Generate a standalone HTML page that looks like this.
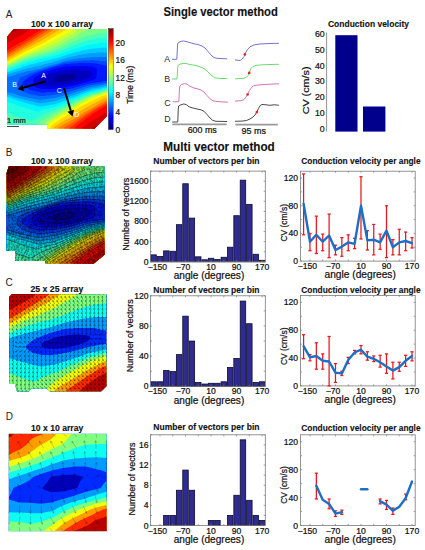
<!DOCTYPE html>
<html><head><meta charset="utf-8"><style>html,body{margin:0;padding:0;background:#fff;width:425px;height:550px;overflow:hidden}svg{display:block}text{font-family:"Liberation Sans",sans-serif;stroke:#111;stroke-width:0.22px;paint-order:stroke}text[font-weight=bold]{stroke-width:0.12px}text[fill="#fff"],text.ns{stroke:none}</style></head>
<body><svg width="425" height="550" viewBox="0 0 425 550" font-family='"Liberation Sans", sans-serif'><defs><clipPath id="cA"><polygon points="14,29 107,29 107,116 94.6,128.4 47,128.4 47,124.5 7,124.5 7,37"/></clipPath><radialGradient id="gdk" cx="6.5" cy="166" r="45" gradientUnits="userSpaceOnUse"><stop offset="0" stop-color="#000" stop-opacity="0.45"/><stop offset="1" stop-color="#000" stop-opacity="0"/></radialGradient><clipPath id="cB"><polygon points="8.9,166.2 104.6,166.2 104.6,254.7 93.4,263.8 45,263.8 45,261 15,261 15,251 6.5,251 6.5,173.2"/></clipPath><clipPath id="cC"><polygon points="12,294 106.6,294 106.6,386 101,391.6 50,391.6 47,388.5 31,388.5 29,391.6 17,391.6 15,384 9,384 9,297"/></clipPath><clipPath id="cD"><polygon points="8.7,433.7 106.8,433.7 106.8,531.3 8.7,531.3"/></clipPath><linearGradient id="jetg" x1="0" y1="1" x2="0" y2="0"><stop offset="0" stop-color="#000080"/><stop offset="0.125" stop-color="#0000ff"/><stop offset="0.375" stop-color="#00ffff"/><stop offset="0.625" stop-color="#ffff00"/><stop offset="0.875" stop-color="#ff0000"/><stop offset="1" stop-color="#800000"/></linearGradient></defs><text x="5.7" y="18.3" font-size="10" class="ns" fill="#222">A</text><text x="5.7" y="156.4" font-size="10" class="ns" fill="#222">B</text><text x="5.5" y="285.7" font-size="10" class="ns" fill="#222">C</text><text x="5.7" y="420.0" font-size="10" class="ns" fill="#222">D</text><text x="163.4" y="15.9" font-size="12.5" font-weight="bold" textLength="114.4" lengthAdjust="spacingAndGlyphs" fill="#111">Single vector method</text><text x="163.3" y="150.8" font-size="12.5" font-weight="bold" textLength="111.5" lengthAdjust="spacingAndGlyphs" fill="#111">Multi vector method</text><text x="31" y="26.5" font-size="8.5" font-weight="bold" textLength="62" lengthAdjust="spacingAndGlyphs" fill="#111">100 x 100 array</text><text x="31" y="164.1" font-size="8.5" font-weight="bold" textLength="62" lengthAdjust="spacingAndGlyphs" fill="#111">100 x 100 array</text><text x="30.5" y="292.2" font-size="8.5" font-weight="bold" textLength="52.8" lengthAdjust="spacingAndGlyphs" fill="#111">25 x 25 array</text><text x="31" y="430.5" font-size="8.5" font-weight="bold" textLength="52.3" lengthAdjust="spacingAndGlyphs" fill="#111">10 x 10 array</text><text x="328" y="26.9" font-size="8.5" font-weight="bold" textLength="81" lengthAdjust="spacingAndGlyphs" fill="#111">Conduction velocity</text><g clip-path="url(#cA)"><path d="M7.0,29.0h100.0v100.0h-100.0z" fill="#000095" fill-rule="evenodd"/><path d="M7.0,29.0 7.0,129.0 107.0,129.0 107.0,29.0zM76.1,75.9 76.1,77.4 74.4,78.9 69.6,80.6 67.6,80.9 67.4,81.1 66.4,81.1 66.1,81.4 62.9,81.6 62.6,81.9 57.1,81.9 56.9,81.6 55.9,81.6 54.6,81.1 53.9,80.1 53.9,78.6 55.6,77.1 59.1,75.6 59.9,75.6 61.1,75.1 62.1,75.1 62.4,74.9 63.4,74.9 63.6,74.6 66.9,74.4 67.1,74.1 72.9,74.1 73.1,74.4 74.1,74.4 75.4,74.9z" fill="#0000c1" fill-rule="evenodd"/><path d="M7.0,29.0 7.0,129.0 107.0,129.0 107.0,29.0zM92.1,73.1 92.1,74.4 91.6,75.6 89.9,77.4 88.6,77.9 88.1,78.4 86.6,79.1 86.1,79.1 84.1,80.1 83.6,80.1 80.4,81.4 79.6,81.4 77.9,82.1 77.1,82.1 76.9,82.4 76.1,82.4 75.9,82.6 75.1,82.6 74.9,82.9 74.1,82.9 73.9,83.1 73.1,83.1 71.9,83.6 66.9,84.4 66.6,84.6 63.6,84.9 63.4,85.1 60.4,85.4 60.1,85.6 55.4,85.9 55.1,86.1 46.9,86.1 46.6,85.9 44.1,85.9 43.9,85.6 42.9,85.6 42.6,85.4 41.9,85.4 41.1,84.9 40.6,84.9 39.9,84.4 38.1,82.4 38.1,81.1 38.6,80.1 41.4,77.6 44.6,75.9 45.1,75.9 46.4,75.1 46.9,75.1 52.4,73.1 53.1,73.1 53.4,72.9 54.1,72.9 54.4,72.6 55.1,72.6 55.4,72.4 56.1,72.4 56.4,72.1 57.1,72.1 58.4,71.6 59.4,71.6 59.6,71.4 63.1,70.9 63.4,70.6 66.6,70.4 66.9,70.1 69.1,70.1 69.4,69.9 72.4,69.9 72.6,69.6 84.1,69.6 84.4,69.9 86.1,69.9 86.4,70.1 87.4,70.1 87.6,70.4 89.4,70.6 90.9,71.4 91.6,72.1z" fill="#0000ed" fill-rule="evenodd"/><path d="M7.0,29.0 7.0,129.0 107.0,129.0 107.0,29.0zM97.1,69.4 97.1,71.4 96.9,71.6 96.9,73.9 96.6,74.1 96.4,77.9 96.1,78.1 96.1,78.6 95.1,79.6 94.6,79.6 93.6,80.1 92.9,80.1 92.6,80.4 91.9,80.4 91.6,80.6 90.9,80.6 90.6,80.9 89.9,80.9 89.6,81.1 88.9,81.1 88.6,81.4 88.1,81.4 86.4,82.1 85.6,82.1 84.6,82.6 83.9,82.6 82.9,83.1 81.1,83.4 80.1,83.9 79.4,83.9 79.1,84.1 78.4,84.1 78.1,84.4 77.4,84.4 77.1,84.6 76.4,84.6 76.1,84.9 75.4,84.9 75.1,85.1 74.4,85.1 74.1,85.4 73.4,85.4 72.1,85.9 71.1,85.9 70.9,86.1 69.9,86.1 69.6,86.4 68.6,86.4 68.4,86.6 67.4,86.6 67.1,86.9 66.1,86.9 65.9,87.1 64.6,87.1 64.4,87.4 63.4,87.4 63.1,87.6 60.4,87.9 60.1,88.1 59.1,88.1 58.9,88.4 57.4,88.4 57.1,88.6 55.6,88.6 55.4,88.9 41.6,88.9 41.4,88.6 39.6,88.4 39.4,88.1 36.6,87.4 35.6,86.9 34.9,86.1 32.9,80.6 32.9,79.6 33.1,79.1 34.4,77.9 37.4,75.9 38.6,75.4 39.1,74.9 42.9,72.9 43.4,72.9 45.4,71.9 46.6,71.6 47.4,71.1 47.9,71.1 51.1,69.9 51.9,69.9 52.1,69.6 52.9,69.6 53.1,69.4 53.9,69.4 54.1,69.1 54.9,69.1 55.1,68.9 55.9,68.9 56.1,68.6 56.9,68.6 57.1,68.4 57.9,68.4 58.1,68.1 58.9,68.1 59.1,67.9 59.9,67.9 61.1,67.4 62.1,67.4 63.4,66.9 64.9,66.9 65.1,66.6 68.1,66.6 68.4,66.4 72.6,66.4 72.9,66.1 87.6,66.1 87.9,66.4 91.4,66.4 91.6,66.6 92.6,66.6 92.9,66.9 96.1,67.9 96.9,68.6 96.9,69.1z" fill="#001aff" fill-rule="evenodd"/><path d="M7.0,29.0 7.0,129.0 107.0,129.0 107.0,80.9 104.4,81.1 104.1,81.4 102.6,81.4 102.4,81.6 100.9,81.6 100.6,81.9 99.4,81.9 99.1,82.1 97.9,82.1 97.6,82.4 96.4,82.4 96.1,82.6 94.9,82.6 94.6,82.9 93.1,82.9 92.9,83.1 91.6,83.1 91.4,83.4 88.9,83.6 88.6,83.9 86.9,84.1 85.9,84.6 84.1,84.9 83.1,85.4 81.4,85.6 80.4,86.1 78.6,86.4 77.6,86.9 75.9,87.1 74.9,87.6 74.1,87.6 73.9,87.9 73.1,87.9 71.9,88.4 70.9,88.4 69.6,88.9 66.1,89.4 64.9,89.9 61.4,90.4 61.1,90.6 59.1,90.9 58.9,91.1 57.9,91.1 57.6,91.4 56.6,91.4 56.4,91.6 49.6,91.9 49.4,92.1 45.4,92.1 45.1,92.4 40.9,92.4 40.6,92.1 39.4,92.1 39.1,91.9 38.1,91.9 36.9,91.4 35.9,91.4 34.6,90.9 33.6,90.9 33.4,90.6 30.6,90.1 29.1,89.4 26.1,87.1 24.4,86.1 23.1,84.9 22.6,83.9 22.9,82.1 23.9,80.9 30.1,76.4 33.6,74.6 34.1,74.6 36.9,73.1 37.4,73.1 40.1,71.6 40.6,71.6 43.1,70.4 43.6,70.4 43.9,70.1 44.4,70.1 44.6,69.9 45.1,69.9 50.6,67.9 54.4,67.1 55.4,66.6 56.1,66.6 57.1,66.1 58.9,65.9 59.9,65.4 60.6,65.4 60.9,65.1 63.4,64.6 63.6,64.4 64.6,64.4 64.9,64.1 67.6,64.1 67.9,63.9 70.6,63.9 70.9,63.6 73.9,63.6 74.1,63.4 77.4,63.4 77.6,63.1 87.1,63.1 87.4,62.9 92.6,62.9 92.9,63.1 95.6,63.4 95.9,63.6 96.9,63.6 97.1,63.9 98.1,63.9 98.4,64.1 99.4,64.1 99.6,64.4 100.6,64.4 100.9,64.6 101.9,64.6 102.1,64.9 103.1,64.9 103.4,65.1 104.6,65.1 104.9,65.4 106.1,65.4 106.4,65.6 107.0,65.6 107.0,29.0z" fill="#0045ff" fill-rule="evenodd"/><path d="M7.0,29.0 7.0,129.0 107.0,129.0 107.0,82.6 106.4,82.6 106.1,82.9 104.6,82.9 104.4,83.1 103.1,83.1 102.9,83.4 101.6,83.4 101.4,83.6 100.1,83.6 99.9,83.9 98.6,83.9 98.4,84.1 97.1,84.1 96.9,84.4 94.4,84.6 94.1,84.9 92.9,84.9 92.6,85.1 91.4,85.1 91.1,85.4 89.9,85.4 89.6,85.6 87.1,86.1 84.6,87.1 83.9,87.1 80.6,88.4 79.9,88.4 76.6,89.6 75.9,89.6 73.4,90.6 72.6,90.6 72.4,90.9 71.6,90.9 71.4,91.1 70.6,91.1 70.4,91.4 69.6,91.4 68.4,91.9 67.4,91.9 67.1,92.1 66.4,92.1 66.1,92.4 65.4,92.4 64.1,92.9 63.1,92.9 62.9,93.1 62.1,93.1 61.9,93.4 61.1,93.4 59.9,93.9 58.9,93.9 58.6,94.1 57.9,94.1 56.6,94.6 52.6,94.9 52.4,95.1 50.4,95.1 50.1,95.4 47.9,95.4 47.6,95.6 45.6,95.6 45.4,95.9 43.1,95.9 42.9,96.1 39.9,96.1 39.6,95.9 38.1,95.9 36.9,95.4 35.9,95.4 35.6,95.1 33.4,94.9 32.1,94.4 29.9,94.1 29.6,93.9 28.9,93.9 28.6,93.6 27.4,93.4 26.1,92.6 25.6,92.6 23.1,91.4 22.6,91.4 21.6,90.9 20.1,89.4 17.9,86.4 17.4,85.1 17.6,83.4 17.9,83.1 18.1,81.9 18.6,81.1 18.9,79.9 19.6,78.4 21.1,77.1 21.6,77.1 22.9,76.4 23.4,76.4 25.1,75.4 26.9,74.9 29.4,73.6 30.1,73.6 30.4,73.4 39.1,70.6 39.9,70.1 40.4,70.1 40.6,69.9 41.1,69.9 46.6,67.9 47.4,67.9 49.9,66.9 50.6,66.9 50.9,66.6 52.6,66.4 53.6,65.9 54.4,65.9 55.4,65.4 56.1,65.4 56.4,65.1 56.9,65.1 59.4,64.1 60.1,64.1 62.6,63.1 63.4,63.1 64.6,62.6 67.9,62.4 68.1,62.1 69.9,62.1 70.1,61.9 71.6,61.9 71.9,61.6 73.6,61.6 73.9,61.4 77.6,61.1 77.9,60.9 85.1,60.6 85.4,60.4 89.6,60.4 89.9,60.1 94.4,60.1 94.6,60.4 96.9,60.4 97.1,60.6 99.4,60.6 99.6,60.9 102.1,60.9 102.4,61.1 107.0,61.4 107.0,29.0z" fill="#0071ff" fill-rule="evenodd"/><path d="M107.0,84.4 104.1,84.6 103.9,84.9 102.9,84.9 102.6,85.1 101.4,85.1 101.1,85.4 100.1,85.4 99.9,85.6 98.9,85.6 98.6,85.9 97.4,85.9 97.1,86.1 96.1,86.1 95.9,86.4 94.9,86.4 94.6,86.6 93.4,86.6 93.1,86.9 89.6,87.4 89.4,87.6 83.6,89.4 82.9,89.9 78.6,91.1 77.9,91.6 77.4,91.6 71.9,93.6 70.1,93.9 69.1,94.4 66.4,94.9 65.4,95.4 62.6,95.9 61.6,96.4 60.9,96.4 60.6,96.6 59.9,96.6 59.6,96.9 58.9,96.9 58.6,97.1 57.9,97.1 56.6,97.6 54.1,97.9 53.9,98.1 52.4,98.1 52.1,98.4 50.6,98.4 50.4,98.6 49.1,98.6 48.9,98.9 47.4,98.9 47.1,99.1 45.6,99.1 45.4,99.4 43.9,99.4 43.6,99.6 42.1,99.6 41.9,99.9 38.9,99.9 38.6,99.6 37.4,99.6 36.1,99.1 35.1,99.1 34.9,98.9 33.9,98.9 33.6,98.6 32.6,98.6 32.4,98.4 28.9,97.9 27.6,97.4 25.4,97.1 25.1,96.9 24.4,96.9 23.1,96.4 22.1,96.4 21.9,96.1 20.1,95.9 15.4,93.9 14.6,93.9 14.4,93.6 13.6,93.6 12.6,93.1 11.6,93.1 11.4,92.9 10.6,92.9 9.4,92.4 7.0,92.1 7.0,129.0 107.0,129.0zM7.0,29.0 7.0,76.9 9.4,76.6 9.6,76.4 10.6,76.4 10.9,76.1 11.9,76.1 12.1,75.9 13.9,75.6 14.1,75.4 15.4,75.1 16.9,74.1 17.4,74.1 19.1,73.4 19.9,73.4 20.1,73.1 20.9,73.1 21.1,72.9 21.9,72.9 22.1,72.6 22.9,72.6 23.1,72.4 23.9,72.4 24.1,72.1 24.9,72.1 25.1,71.9 25.9,71.9 26.1,71.6 26.9,71.6 28.1,71.1 30.4,70.9 31.6,70.4 32.6,70.4 33.9,69.9 34.9,69.9 35.1,69.6 38.9,68.9 39.9,68.4 40.6,68.4 42.4,67.6 43.1,67.6 44.1,67.1 44.9,67.1 45.1,66.9 46.6,66.6 47.6,66.1 48.4,66.1 49.4,65.6 50.1,65.6 50.4,65.4 52.1,65.1 53.1,64.6 53.9,64.6 54.1,64.4 60.6,62.4 61.4,61.9 61.9,61.9 62.9,61.4 63.6,61.4 64.9,60.9 65.9,60.9 66.1,60.6 67.1,60.6 67.4,60.4 68.6,60.4 68.9,60.1 69.9,60.1 70.1,59.9 71.1,59.9 71.4,59.6 72.6,59.6 72.9,59.4 73.9,59.4 74.1,59.1 75.1,59.1 75.4,58.9 76.6,58.9 76.9,58.6 78.1,58.6 78.4,58.4 82.9,58.1 83.1,57.9 85.6,57.9 85.9,57.6 88.1,57.6 88.4,57.4 90.9,57.4 91.1,57.1 107.0,57.1 107.0,29.0z" fill="#009dff" fill-rule="evenodd"/><path d="M107.0,85.9 105.9,85.9 105.6,86.1 104.6,86.1 104.4,86.4 100.9,86.9 99.6,87.4 98.6,87.4 98.4,87.6 97.4,87.6 97.1,87.9 96.1,87.9 95.9,88.1 92.4,88.6 91.1,89.1 90.1,89.1 89.9,89.4 86.4,90.4 85.6,90.9 84.4,91.1 83.6,91.6 81.6,92.1 80.9,92.6 79.6,92.9 78.9,93.4 77.6,93.6 76.9,94.1 75.6,94.4 74.9,94.9 74.4,94.9 71.1,96.1 70.4,96.1 70.1,96.4 69.6,96.4 64.1,98.4 63.4,98.4 60.1,99.6 59.4,99.6 56.9,100.6 56.1,100.6 54.9,101.1 53.6,101.1 53.4,101.4 52.1,101.4 51.9,101.6 50.6,101.6 50.4,101.9 49.1,101.9 48.9,102.1 47.4,102.1 47.1,102.4 42.9,102.9 42.6,103.1 40.9,103.1 40.6,103.4 38.4,103.1 37.1,102.6 36.1,102.6 35.9,102.4 35.1,102.4 34.9,102.1 34.1,102.1 33.9,101.9 33.1,101.9 32.9,101.6 32.1,101.6 30.9,101.1 29.9,101.1 29.6,100.9 28.9,100.9 28.6,100.6 27.9,100.6 26.6,100.1 25.6,100.1 25.4,99.9 24.6,99.9 24.4,99.6 23.6,99.6 23.4,99.4 19.6,98.6 19.4,98.4 17.9,98.1 14.6,96.9 13.9,96.9 10.6,95.6 9.9,95.6 8.9,95.1 7.0,94.9 7.0,129.0 107.0,129.0zM7.0,29.0 7.0,74.1 8.1,74.1 10.1,73.4 10.9,73.4 12.6,72.6 13.4,72.6 15.1,71.9 15.9,71.9 17.6,71.1 18.4,71.1 18.6,70.9 19.1,70.9 20.1,70.4 20.9,70.4 22.6,69.6 23.4,69.6 25.1,68.9 25.9,68.9 26.1,68.6 26.9,68.6 28.1,68.1 29.1,68.1 29.4,67.9 30.1,67.9 31.4,67.4 32.4,67.4 32.6,67.1 33.4,67.1 34.6,66.6 35.6,66.6 35.9,66.4 36.6,66.4 36.9,66.1 40.6,65.4 41.6,64.9 42.4,64.9 42.6,64.6 43.4,64.6 43.6,64.4 44.4,64.4 44.6,64.1 45.4,64.1 45.6,63.9 46.4,63.9 46.6,63.6 47.4,63.6 47.6,63.4 48.4,63.4 48.6,63.1 52.4,62.4 52.6,62.1 53.1,62.1 54.1,61.6 54.9,61.6 55.1,61.4 55.6,61.4 55.9,61.1 56.4,61.1 56.6,60.9 57.1,60.9 62.6,58.9 63.4,58.9 64.4,58.4 65.1,58.4 65.4,58.1 66.1,58.1 66.4,57.9 67.1,57.9 67.4,57.6 68.1,57.6 69.4,57.1 70.4,57.1 70.6,56.9 71.4,56.9 71.6,56.6 72.4,56.6 72.6,56.4 73.4,56.4 73.6,56.1 74.4,56.1 74.6,55.9 75.4,55.9 76.6,55.4 77.6,55.4 77.9,55.1 78.9,55.1 79.1,54.9 80.4,54.9 80.6,54.6 81.9,54.6 82.1,54.4 84.6,54.1 84.9,53.9 88.4,53.6 88.6,53.4 90.1,53.4 90.4,53.1 92.6,53.1 92.9,52.9 95.9,52.9 96.1,52.6 102.1,52.6 102.4,52.4 107.0,52.4 107.0,29.0z" fill="#00c9ff" fill-rule="evenodd"/><path d="M107.0,87.4 104.6,87.6 103.4,88.1 102.4,88.1 102.1,88.4 101.4,88.4 100.1,88.9 99.1,88.9 97.9,89.4 96.9,89.4 96.6,89.6 95.9,89.6 94.6,90.1 93.6,90.1 93.4,90.4 89.6,91.1 89.4,91.4 87.4,91.9 86.6,92.4 86.1,92.4 85.4,92.9 84.1,93.1 83.4,93.6 82.9,93.6 79.6,95.1 78.4,95.4 75.1,96.9 73.9,97.1 73.1,97.6 71.9,97.9 71.1,98.4 69.9,98.6 67.9,99.6 66.6,99.9 64.6,100.9 63.4,101.1 62.6,101.6 61.4,101.9 60.6,102.4 59.4,102.6 58.6,103.1 58.1,103.1 55.6,104.1 53.1,104.4 52.9,104.6 50.4,104.9 50.1,105.1 48.9,105.1 48.6,105.4 47.4,105.4 47.1,105.6 44.6,105.9 44.4,106.1 43.1,106.1 42.9,106.4 41.4,106.4 41.1,106.6 38.4,106.4 38.1,106.1 36.4,105.9 35.4,105.4 33.6,105.1 32.6,104.6 30.9,104.4 29.9,103.9 29.1,103.9 28.1,103.4 27.4,103.4 27.1,103.1 25.4,102.9 24.4,102.4 22.6,102.1 21.6,101.6 20.9,101.6 20.6,101.4 16.4,100.1 15.6,99.6 12.1,98.6 11.4,98.1 10.9,98.1 8.4,97.1 7.0,97.1 7.0,129.0 107.0,129.0zM7.0,72.4 10.1,71.6 10.9,71.1 12.9,70.6 13.6,70.1 15.6,69.6 16.4,69.1 17.6,68.9 18.4,68.4 20.4,67.9 21.1,67.4 22.4,67.1 23.1,66.6 23.6,66.6 26.9,65.4 28.6,65.1 29.6,64.6 32.4,64.1 33.4,63.6 35.1,63.4 36.1,62.9 36.9,62.9 37.1,62.6 37.9,62.6 39.1,62.1 40.1,62.1 40.4,61.9 41.1,61.9 42.4,61.4 43.4,61.4 43.6,61.1 44.4,61.1 45.6,60.6 46.6,60.6 46.9,60.4 47.6,60.4 47.9,60.1 48.6,60.1 48.9,59.9 52.6,59.1 53.6,58.6 54.4,58.6 54.6,58.4 55.4,58.4 58.1,57.4 58.9,57.4 59.9,56.9 60.6,56.9 64.6,55.4 65.4,55.4 67.1,54.6 67.9,54.6 69.6,53.9 70.4,53.9 70.6,53.6 71.1,53.6 72.1,53.1 72.9,53.1 73.9,52.6 74.6,52.6 75.6,52.1 79.4,51.4 80.4,50.9 81.1,50.9 81.4,50.6 82.1,50.6 83.4,50.1 84.4,50.1 84.6,49.9 85.6,49.9 85.9,49.6 87.1,49.6 87.4,49.4 88.6,49.4 88.9,49.1 90.1,49.1 90.4,48.9 91.6,48.9 91.9,48.6 93.4,48.6 93.6,48.4 107.0,47.4 107.0,29.0 7.0,29.0z" fill="#00f5ff" fill-rule="evenodd"/><path d="M107.0,88.6 104.6,88.9 102.6,89.6 101.9,89.6 101.6,89.9 100.9,89.9 100.6,90.1 99.9,90.1 99.6,90.4 98.9,90.4 98.6,90.6 97.9,90.6 97.6,90.9 96.9,90.9 96.6,91.1 95.9,91.1 95.6,91.4 94.9,91.4 94.6,91.6 93.9,91.6 93.6,91.9 89.9,92.6 87.1,93.9 86.6,93.9 85.9,94.4 85.4,94.4 84.6,94.9 84.1,94.9 82.9,95.6 81.1,96.1 79.9,96.9 78.1,97.4 76.9,98.1 75.1,98.6 73.9,99.4 72.1,99.9 70.9,100.6 70.4,100.6 68.6,101.6 68.1,101.6 66.9,102.4 66.4,102.4 64.6,103.4 64.1,103.4 62.9,104.1 62.4,104.1 60.6,105.1 60.1,105.1 57.1,106.6 56.4,106.6 55.4,107.1 54.4,107.1 54.1,107.4 53.4,107.4 53.1,107.6 52.4,107.6 51.1,108.1 50.1,108.1 49.9,108.4 49.1,108.4 47.9,108.9 46.9,108.9 46.6,109.1 45.9,109.1 44.6,109.6 43.6,109.6 43.4,109.9 41.6,110.1 38.6,111.4 36.1,111.4 35.9,111.1 34.4,110.9 31.9,109.9 31.1,109.9 28.6,108.9 27.9,108.9 25.4,107.9 24.6,107.9 24.4,107.6 17.1,105.4 16.4,104.9 13.9,104.1 13.1,103.6 10.6,102.9 9.9,102.4 7.0,101.6 7.0,129.0 107.0,129.0zM7.0,70.4 8.4,70.4 9.1,69.9 9.6,69.9 10.4,69.4 12.1,68.9 13.4,68.1 15.1,67.6 16.4,66.9 16.9,66.9 17.6,66.4 18.1,66.4 20.6,65.1 21.1,65.1 21.9,64.6 22.4,64.6 23.6,63.9 24.1,63.9 24.9,63.4 25.4,63.4 26.4,62.9 27.1,62.9 28.9,62.1 31.4,61.6 31.6,61.4 32.1,61.4 33.1,60.9 33.9,60.9 34.9,60.4 35.6,60.4 36.6,59.9 37.4,59.9 38.6,59.4 39.6,59.4 40.9,58.9 41.9,58.9 43.1,58.4 44.1,58.4 44.4,58.1 45.1,58.1 46.4,57.6 47.4,57.6 47.6,57.4 50.4,56.9 51.4,56.4 53.1,56.1 54.1,55.6 54.9,55.6 55.9,55.1 57.6,54.9 58.6,54.4 59.4,54.4 59.6,54.1 63.9,52.9 64.6,52.4 66.6,51.9 67.4,51.4 69.4,50.9 70.1,50.4 70.6,50.4 70.9,50.1 71.4,50.1 71.6,49.9 72.1,49.9 72.4,49.6 72.9,49.6 73.1,49.4 73.6,49.4 73.9,49.1 74.4,49.1 74.6,48.9 75.1,48.9 80.6,46.9 81.4,46.9 83.9,45.9 85.9,45.6 86.1,45.4 87.1,45.4 87.4,45.1 89.4,44.9 89.6,44.6 90.6,44.6 90.9,44.4 91.9,44.4 92.1,44.1 93.1,44.1 93.4,43.9 94.6,43.9 94.9,43.6 96.4,43.6 96.6,43.4 98.4,43.4 98.6,43.1 100.6,43.1 100.9,42.9 103.1,42.9 103.4,42.6 105.9,42.6 106.1,42.4 107.0,42.4 107.0,29.0 7.0,29.0z" fill="#21ffde" fill-rule="evenodd"/><path d="M107.0,89.6 105.9,89.6 105.6,89.9 102.9,90.4 100.1,91.4 99.4,91.4 97.4,92.1 96.6,92.1 94.6,92.9 93.9,92.9 92.9,93.4 91.1,93.6 90.9,93.9 88.9,94.4 88.1,94.9 87.6,94.9 81.9,97.6 81.4,97.6 79.1,98.9 78.6,98.9 75.1,100.6 74.6,100.6 72.4,101.9 71.9,101.9 59.4,108.1 58.9,108.1 57.6,108.9 54.4,109.9 53.6,110.4 53.1,110.4 52.4,110.9 51.9,110.9 51.1,111.4 50.6,111.4 49.9,111.9 49.4,111.9 48.6,112.4 46.9,112.9 45.6,113.6 43.9,114.1 39.9,116.4 39.4,116.9 38.6,117.1 38.1,117.6 37.4,117.9 36.9,118.4 32.6,120.6 30.1,120.6 29.9,120.4 29.4,120.4 27.6,119.6 26.9,119.6 22.1,117.9 21.4,117.9 21.1,117.6 19.9,117.4 19.1,116.9 18.6,116.9 18.4,116.6 17.1,116.4 16.4,115.9 14.4,115.4 13.6,114.9 12.4,114.6 9.6,113.4 9.1,113.4 8.1,112.9 7.0,112.9 7.0,129.0 107.0,129.0zM7.0,68.6 8.4,68.6 12.6,66.6 13.1,66.6 14.4,65.9 14.9,65.9 16.1,65.1 16.6,65.1 17.9,64.4 18.4,64.4 19.6,63.6 20.1,63.6 21.4,62.9 21.9,62.9 23.1,62.1 23.6,62.1 24.4,61.6 24.9,61.6 28.1,60.4 28.9,60.4 30.6,59.6 33.1,59.1 33.4,58.9 33.9,58.9 34.9,58.4 35.6,58.4 36.6,57.9 37.4,57.9 37.6,57.6 38.4,57.6 38.6,57.4 39.4,57.4 39.6,57.1 40.4,57.1 40.6,56.9 41.4,56.9 41.6,56.6 42.4,56.6 42.6,56.4 43.4,56.4 43.6,56.1 44.4,56.1 44.6,55.9 48.4,55.1 50.1,54.4 50.9,54.4 51.1,54.1 59.9,51.4 60.6,50.9 61.1,50.9 63.1,49.9 63.6,49.9 64.9,49.1 65.4,49.1 66.6,48.4 67.1,48.4 68.4,47.6 68.9,47.6 70.1,46.9 70.6,46.9 71.9,46.1 72.4,46.1 75.6,44.6 76.9,44.4 77.6,43.9 78.9,43.6 79.6,43.1 80.9,42.9 81.6,42.4 82.1,42.4 85.4,41.1 86.1,41.1 87.1,40.6 87.9,40.6 89.1,40.1 90.1,40.1 91.4,39.6 92.4,39.6 93.6,39.1 95.9,38.9 96.1,38.6 97.4,38.6 97.6,38.4 98.9,38.4 99.1,38.1 100.9,38.1 101.1,37.9 103.4,37.9 103.6,37.6 105.9,37.6 106.1,37.4 107.0,37.4 107.0,29.0 7.0,29.0z" fill="#4dffb2" fill-rule="evenodd"/><path d="M107.0,90.4 104.4,90.9 104.1,91.1 103.6,91.1 102.6,91.6 101.9,91.6 99.4,92.6 98.6,92.6 96.9,93.4 96.1,93.4 94.4,94.1 93.6,94.1 91.9,94.9 91.1,94.9 88.4,96.1 87.9,96.1 79.4,100.4 78.9,100.4 73.6,103.1 73.1,103.1 71.6,104.1 67.4,106.1 66.9,106.6 63.1,108.4 62.6,108.9 55.4,112.4 54.9,112.9 54.1,113.1 53.6,113.6 49.1,116.1 47.9,117.1 45.9,118.1 42.9,120.4 41.4,121.1 38.9,122.9 36.9,124.9 33.6,127.1 33.6,127.6 33.4,127.9 33.6,129.0 107.0,129.0zM7.0,67.1 9.1,66.6 10.4,65.9 10.9,65.9 12.6,64.9 13.1,64.9 14.9,63.9 15.4,63.9 17.1,62.9 17.6,62.9 18.9,62.1 19.4,62.1 21.1,61.1 21.6,61.1 24.6,59.6 25.1,59.6 27.6,58.6 28.4,58.6 30.1,57.9 30.9,57.9 32.6,57.1 35.1,56.6 36.9,55.9 38.6,55.6 39.6,55.1 40.4,55.1 40.6,54.9 42.1,54.6 43.1,54.1 43.9,54.1 44.9,53.6 46.6,53.4 46.9,53.1 50.4,52.1 51.1,51.6 52.4,51.4 54.4,50.4 55.6,50.1 56.4,49.6 56.9,49.6 57.6,49.1 58.1,49.1 58.9,48.6 60.6,48.1 74.4,41.1 74.9,41.1 76.1,40.4 76.6,40.4 77.9,39.6 78.4,39.6 79.6,38.9 80.1,38.9 81.4,38.1 81.9,38.1 83.1,37.4 84.4,37.1 85.1,36.6 85.6,36.6 86.6,36.1 87.4,36.1 87.6,35.9 88.4,35.9 88.6,35.6 89.4,35.6 89.6,35.4 90.4,35.4 90.6,35.1 91.4,35.1 91.6,34.9 92.4,34.9 92.6,34.6 93.4,34.6 93.6,34.4 94.4,34.4 94.6,34.1 95.4,34.1 95.6,33.9 96.4,33.9 96.6,33.6 97.6,33.6 97.9,33.4 101.1,33.1 101.4,32.9 103.4,32.9 103.6,32.6 106.1,32.6 106.4,32.4 107.0,32.4 107.0,29.0 7.0,29.0z" fill="#79ff86" fill-rule="evenodd"/><path d="M107.0,91.4 104.9,91.6 104.6,91.9 104.1,91.9 98.6,93.9 97.9,93.9 97.6,94.1 91.1,96.1 90.4,96.6 89.9,96.6 75.6,103.6 75.1,104.1 71.9,105.6 69.6,107.1 63.9,110.1 63.4,110.6 62.1,111.1 61.6,111.6 57.4,113.9 54.4,116.1 53.4,116.6 52.6,117.4 51.6,117.9 50.9,118.6 49.9,119.1 48.1,120.6 47.1,121.1 41.4,126.6 40.9,127.4 40.6,129.0 107.0,129.0zM7.0,65.6 9.1,65.1 11.4,63.9 11.9,63.9 14.6,62.4 15.1,62.4 18.4,60.6 18.9,60.6 21.6,59.1 22.1,59.1 25.1,57.6 25.6,57.6 25.9,57.4 26.4,57.4 26.6,57.1 27.1,57.1 27.4,56.9 27.9,56.9 28.1,56.6 28.6,56.6 34.1,54.6 34.9,54.6 39.6,52.9 40.4,52.9 40.6,52.6 47.9,50.4 52.1,48.4 52.6,48.4 54.4,47.4 54.9,47.4 56.6,46.4 57.1,46.4 62.1,43.9 62.6,43.4 64.4,42.6 64.9,42.1 66.6,41.4 67.1,40.9 68.9,40.1 69.4,39.6 76.1,36.4 80.1,32.9 82.1,31.9 82.6,31.9 82.9,31.6 85.6,30.9 86.4,30.4 86.9,30.4 87.4,30.1 88.1,29.0 7.0,29.0z" fill="#a5ff5a" fill-rule="evenodd"/><path d="M107.0,92.1 105.4,92.4 105.1,92.6 100.9,93.9 100.1,94.4 95.1,95.9 94.4,96.4 92.4,96.9 91.6,97.4 91.1,97.4 79.1,103.4 78.6,103.9 74.1,106.1 72.4,107.4 71.1,107.9 69.4,109.1 68.1,109.6 67.6,110.1 66.9,110.4 66.4,110.9 63.9,112.1 63.4,112.6 60.1,114.4 58.9,115.4 58.1,115.6 55.9,117.4 54.1,118.4 53.4,119.1 51.6,120.1 50.9,120.9 49.1,121.9 47.1,123.6 47.1,123.9 44.1,127.4 43.9,127.9 43.9,129.0 107.0,129.0zM7.0,64.4 8.4,64.1 11.6,62.4 12.1,62.4 24.9,55.9 25.4,55.9 27.4,54.9 28.6,54.6 29.4,54.1 30.6,53.9 33.4,52.6 35.4,52.1 36.1,51.6 37.4,51.4 38.1,50.9 39.4,50.6 40.1,50.1 40.6,50.1 41.4,49.6 41.9,49.6 42.6,49.1 43.1,49.1 43.9,48.6 44.4,48.6 45.1,48.1 46.9,47.6 58.6,41.9 59.1,41.4 64.4,38.6 66.6,37.1 73.9,33.4 76.6,30.1 76.9,29.0 7.0,29.0z" fill="#d0ff2f" fill-rule="evenodd"/><path d="M107.0,93.1 103.9,93.9 103.1,94.4 101.1,94.9 100.4,95.4 99.1,95.6 98.4,96.1 97.9,96.1 97.6,96.4 96.4,96.6 95.6,97.1 94.4,97.4 93.6,97.9 93.1,97.9 81.1,103.9 80.6,104.4 79.4,104.9 77.6,106.1 76.4,106.6 75.9,107.1 75.1,107.4 74.6,107.9 73.9,108.1 73.4,108.6 72.6,108.9 72.1,109.4 67.6,111.9 66.4,112.9 64.4,113.9 63.1,114.9 62.4,115.1 50.4,123.1 48.6,124.9 46.9,128.1 46.9,129.0 107.0,129.0zM7.0,63.1 9.9,62.1 10.4,61.6 14.1,59.9 14.6,59.4 18.4,57.6 18.9,57.1 22.6,55.4 23.1,54.9 25.1,53.9 25.6,53.9 27.4,52.9 27.9,52.9 29.1,52.1 29.6,52.1 30.9,51.4 31.4,51.4 32.6,50.6 33.1,50.6 34.4,49.9 34.9,49.9 36.1,49.1 36.6,49.1 51.1,42.1 51.6,41.6 55.6,39.6 56.1,39.1 57.4,38.6 57.9,38.1 62.1,35.9 62.6,35.4 63.9,34.9 64.4,34.4 65.6,33.9 66.1,33.4 70.1,31.4 71.9,29.9 71.9,29.0 7.0,29.0z" fill="#fcff03" fill-rule="evenodd"/><path d="M107.0,94.6 106.6,94.9 104.9,95.1 104.1,95.6 103.6,95.6 102.9,96.1 102.4,96.1 101.6,96.6 101.1,96.6 100.4,97.1 98.6,97.6 97.4,98.4 95.6,98.9 88.1,102.6 87.6,103.1 83.4,105.1 82.9,105.6 79.9,107.1 78.6,108.1 76.6,109.1 75.4,110.1 73.4,111.1 68.9,114.1 65.6,115.9 63.6,117.4 62.9,117.6 60.9,119.1 60.1,119.4 57.4,121.4 56.6,121.6 51.9,124.9 50.9,126.1 50.4,127.1 50.4,129.0 107.0,129.0zM7.0,61.4 7.9,61.4 9.1,60.9 9.6,60.4 13.6,58.4 14.1,57.9 17.6,56.1 18.1,55.6 21.6,53.9 22.1,53.4 23.9,52.6 24.4,52.1 27.4,50.6 27.9,50.6 46.1,41.4 46.6,40.9 48.4,40.1 50.1,38.9 51.4,38.4 51.9,37.9 52.6,37.6 53.1,37.1 53.9,36.9 54.4,36.4 55.1,36.1 59.4,33.4 64.9,30.4 65.9,29.0 7.0,29.0z" fill="#ffd600" fill-rule="evenodd"/><path d="M107.0,97.4 104.4,98.1 98.1,101.4 97.6,101.4 95.6,102.4 95.1,102.9 92.4,104.1 91.9,104.6 89.1,105.9 88.6,106.4 86.9,107.1 86.4,107.6 84.6,108.4 84.1,108.9 79.6,111.4 78.4,112.4 75.1,114.1 73.9,115.1 73.1,115.4 70.1,117.4 67.1,118.9 62.9,121.6 61.6,122.1 61.1,122.6 60.4,122.9 59.9,123.4 55.4,125.9 53.9,127.4 53.6,127.9 53.6,129.0 107.0,129.0zM7.0,59.4 7.9,59.4 10.4,58.1 10.9,57.6 14.6,55.6 15.1,55.1 18.9,53.1 19.4,52.6 23.1,50.6 23.6,50.1 28.6,47.6 29.1,47.1 31.4,46.1 31.9,45.6 34.6,44.4 35.1,43.9 36.9,43.1 37.4,42.6 39.1,41.9 41.4,40.4 46.6,37.6 47.1,37.1 47.9,36.9 48.4,36.4 49.1,36.1 49.6,35.6 50.4,35.4 50.9,34.9 51.6,34.6 52.1,34.1 52.9,33.9 53.4,33.4 58.6,30.4 59.6,29.0 7.0,29.0z" fill="#ffaa00" fill-rule="evenodd"/><path d="M107.0,100.1 105.6,100.4 103.6,101.4 103.1,101.9 100.4,103.1 99.9,103.6 97.6,104.6 97.1,105.1 95.4,105.9 94.9,106.4 93.6,106.9 93.1,107.4 88.4,109.9 87.1,110.9 83.9,112.6 82.6,113.6 80.6,114.6 79.4,115.6 77.4,116.6 76.1,117.6 75.4,117.9 71.1,120.6 69.4,121.4 68.9,121.9 67.1,122.6 66.6,123.1 64.4,124.1 63.9,124.6 60.4,126.4 58.6,127.6 58.1,128.4 58.1,129.0 107.0,129.0zM7.0,57.4 9.1,56.6 9.6,56.1 10.4,55.9 10.9,55.4 11.6,55.1 12.1,54.6 12.9,54.4 13.4,53.9 14.1,53.6 14.6,53.1 19.1,50.6 20.4,49.6 21.1,49.4 24.1,47.4 25.4,46.9 28.4,44.9 29.6,44.4 32.6,42.4 33.9,41.9 38.1,39.1 39.4,38.6 39.9,38.1 40.6,37.9 41.1,37.4 41.9,37.1 42.4,36.6 43.1,36.4 43.6,35.9 44.4,35.6 44.9,35.1 49.4,32.6 53.1,30.1 53.6,29.0 7.0,29.0z" fill="#ff7e00" fill-rule="evenodd"/><path d="M107.0,102.1 106.1,102.1 104.4,102.9 103.9,103.4 98.9,105.9 98.4,106.4 96.6,107.1 96.1,107.6 91.6,110.1 78.1,119.1 77.4,119.4 73.6,122.1 72.9,122.4 71.6,123.4 69.1,124.6 68.6,125.1 65.1,126.9 63.9,128.1 63.9,129.0 107.0,129.0zM7.0,54.9 8.1,54.9 9.1,54.1 9.9,53.9 10.4,53.4 11.1,53.1 11.6,52.6 12.4,52.4 12.9,51.9 13.6,51.6 14.1,51.1 14.9,50.9 15.4,50.4 16.1,50.1 16.6,49.6 17.4,49.4 17.9,48.9 18.6,48.6 19.1,48.1 19.9,47.9 20.4,47.4 21.1,47.1 21.6,46.6 22.4,46.4 22.9,45.9 23.6,45.6 24.1,45.1 24.9,44.9 25.4,44.4 26.1,44.1 26.6,43.6 27.4,43.4 27.9,42.9 32.4,40.4 33.6,39.4 38.1,36.9 39.4,35.9 40.1,35.6 42.6,33.9 43.4,33.6 43.9,33.1 47.9,30.9 49.1,29.9 49.4,29.0 7.0,29.0z" fill="#ff5300" fill-rule="evenodd"/><path d="M107.0,103.6 105.9,103.9 101.9,105.9 101.4,106.4 98.6,107.6 94.9,110.1 94.1,110.4 88.9,113.9 88.1,114.6 84.9,116.6 83.1,118.1 82.1,118.6 72.1,126.1 69.9,127.4 69.1,128.1 68.9,129.0 107.0,129.0zM7.0,52.6 7.9,52.6 9.4,51.9 9.9,51.4 13.6,49.4 14.1,48.9 14.9,48.6 19.1,45.9 20.4,45.4 24.6,42.6 25.9,42.1 27.1,41.1 27.9,40.9 29.1,39.9 31.1,38.9 32.4,37.9 33.1,37.6 34.4,36.6 35.1,36.4 36.4,35.4 37.1,35.1 38.4,34.1 41.1,32.6 43.1,31.1 43.9,30.9 45.1,29.9 45.4,29.0 7.0,29.0z" fill="#ff2700" fill-rule="evenodd"/><path d="M107.0,105.9 105.9,106.1 98.6,109.9 94.1,112.9 93.4,113.6 91.6,114.6 90.9,115.4 89.1,116.4 88.4,117.1 87.4,117.6 84.4,119.9 82.1,121.9 80.9,122.6 76.1,126.6 75.9,126.6 74.6,127.9 74.4,129.0 107.0,129.0zM7.0,49.9 9.6,48.9 11.4,47.6 12.6,47.1 14.4,45.9 15.6,45.4 17.4,44.1 18.6,43.6 19.1,43.1 20.4,42.6 22.1,41.4 25.9,39.4 27.9,37.9 28.6,37.6 29.9,36.6 30.6,36.4 32.6,34.9 33.4,34.6 35.4,33.1 36.1,32.9 39.9,30.4 40.9,29.4 40.9,29.0 7.0,29.0z" fill="#fa0000" fill-rule="evenodd"/><path d="M107.0,112.6 105.1,113.1 103.6,114.1 101.9,114.9 96.6,118.4 95.9,118.6 93.9,120.1 91.1,121.6 86.6,124.6 85.6,125.6 84.1,126.6 82.6,128.1 82.4,129.0 107.0,129.0zM7.0,42.4 8.4,42.1 9.4,41.4 11.6,40.4 12.1,39.9 22.6,34.6 23.9,33.6 24.6,33.4 25.9,32.4 26.6,32.1 28.9,30.6 29.9,29.6 29.9,29.0 7.0,29.0z" fill="#ce0000" fill-rule="evenodd"/><path d="M107.0,120.1 106.6,120.4 105.9,120.4 103.4,121.6 102.9,122.1 101.1,122.9 100.6,123.4 99.4,123.9 98.9,124.4 94.1,126.9 92.1,128.4 92.1,129.0 107.0,129.0zM7.0,34.6 9.1,34.1 14.1,31.6 14.6,31.6 17.4,30.1 18.1,29.0 7.0,29.0z" fill="#a30000" fill-rule="evenodd"/></g><g clip-path="url(#cB)"><path d="M6.5,166.0h98.2v97.8h-98.2z" fill="#000095" fill-rule="evenodd"/><path d="M6.5,166.0 6.5,263.8 104.8,263.8 104.8,166.0zM74.6,214.1 74.6,215.6 72.9,217.1 71.4,217.9 70.9,217.9 69.1,218.6 66.4,219.1 66.1,219.4 64.9,219.4 64.6,219.6 63.4,219.6 63.1,219.9 61.4,219.9 61.1,220.1 55.6,220.1 55.4,219.9 54.4,219.9 53.1,219.4 52.4,218.4 52.4,217.1 53.9,215.6 58.1,213.9 60.1,213.6 60.4,213.4 61.4,213.4 61.6,213.1 62.6,213.1 62.9,212.9 64.4,212.9 64.6,212.6 67.4,212.6 67.6,212.4 69.9,212.4 70.1,212.6 72.1,212.6 72.4,212.9 73.1,212.9z" fill="#0000c1" fill-rule="evenodd"/><path d="M6.5,166.0 6.5,263.8 104.8,263.8 104.8,166.0zM90.1,211.1 90.1,213.1 89.9,213.4 89.9,213.9 88.1,215.6 84.4,217.6 83.9,217.6 83.1,218.1 82.6,218.1 77.1,220.1 76.4,220.1 76.1,220.4 75.4,220.4 75.1,220.6 74.4,220.6 74.1,220.9 73.4,220.9 73.1,221.1 72.4,221.1 71.1,221.6 70.1,221.6 69.9,221.9 66.4,222.4 66.1,222.6 64.9,222.6 64.6,222.9 63.4,222.9 63.1,223.1 61.6,223.1 61.4,223.4 60.1,223.4 59.9,223.6 55.9,223.9 55.6,224.1 52.4,224.1 52.1,224.4 43.6,224.1 43.4,223.9 42.1,223.9 41.9,223.6 41.1,223.6 40.9,223.4 39.6,223.1 37.6,221.6 36.9,220.1 36.9,219.6 37.4,218.6 39.6,216.4 43.1,214.4 43.6,214.4 44.9,213.6 45.4,213.6 46.9,212.9 47.4,212.9 49.9,211.9 50.6,211.9 51.6,211.4 52.4,211.4 52.6,211.1 53.4,211.1 53.6,210.9 54.4,210.9 55.6,210.4 56.6,210.4 56.9,210.1 57.9,210.1 58.1,209.9 61.6,209.4 61.9,209.1 65.1,208.9 65.4,208.6 67.4,208.6 67.6,208.4 70.6,208.4 70.9,208.1 82.4,208.1 82.6,208.4 84.4,208.4 84.6,208.6 85.6,208.6 85.9,208.9 87.6,209.1 89.4,210.1z" fill="#0000ed" fill-rule="evenodd"/><path d="M6.5,166.0 6.5,263.8 104.8,263.8 104.8,166.0zM95.1,207.6 94.4,216.4 94.1,216.6 94.1,217.1 93.4,217.9 91.9,218.1 89.9,218.9 87.9,219.1 87.6,219.4 87.1,219.4 86.1,219.9 85.4,219.9 83.6,220.6 82.9,220.6 81.9,221.1 80.1,221.4 79.1,221.9 78.4,221.9 78.1,222.1 77.4,222.1 77.1,222.4 76.4,222.4 76.1,222.6 75.4,222.6 75.1,222.9 74.4,222.9 74.1,223.1 73.4,223.1 73.1,223.4 72.4,223.4 71.1,223.9 70.1,223.9 69.9,224.1 68.9,224.1 68.6,224.4 67.6,224.4 67.4,224.6 66.4,224.6 66.1,224.9 65.1,224.9 64.9,225.1 63.6,225.1 63.4,225.4 62.4,225.4 62.1,225.6 60.9,225.6 60.6,225.9 59.6,225.9 59.4,226.1 58.1,226.1 57.9,226.4 56.6,226.4 56.4,226.6 54.9,226.6 54.6,226.9 49.4,226.9 49.1,227.1 41.6,227.1 41.4,226.9 40.1,226.9 39.9,226.6 38.1,226.4 37.9,226.1 35.1,225.4 33.9,224.4 32.1,219.6 32.1,218.9 31.9,218.6 32.1,217.4 33.1,216.4 36.1,214.4 37.4,213.9 39.1,212.6 42.1,211.1 42.6,211.1 44.6,210.1 47.4,209.4 48.1,208.9 48.6,208.9 49.6,208.4 50.4,208.4 50.6,208.1 51.4,208.1 51.6,207.9 52.4,207.9 52.6,207.6 53.4,207.6 53.6,207.4 54.4,207.4 54.6,207.1 55.4,207.1 56.6,206.6 57.6,206.6 57.9,206.4 58.6,206.4 59.9,205.9 60.9,205.9 62.1,205.4 63.9,205.4 64.1,205.1 67.6,205.1 67.9,204.9 72.6,204.9 72.9,204.6 84.4,204.6 84.6,204.9 88.9,204.9 89.1,205.1 90.4,205.1 92.9,206.1 93.6,206.1 94.1,206.4z" fill="#001aff" fill-rule="evenodd"/><path d="M6.5,166.0 6.5,263.8 104.8,263.8 104.8,219.1 104.4,219.4 102.4,219.4 102.1,219.6 100.9,219.6 100.6,219.9 99.1,219.9 98.9,220.1 97.4,220.1 97.1,220.4 95.9,220.4 95.6,220.6 94.4,220.6 94.1,220.9 92.6,220.9 92.4,221.1 91.1,221.1 90.9,221.4 87.9,221.6 87.6,221.9 83.9,222.6 82.9,223.1 80.1,223.6 79.1,224.1 77.4,224.4 76.4,224.9 74.6,225.1 73.6,225.6 72.9,225.6 72.6,225.9 71.9,225.9 70.6,226.4 69.6,226.4 68.4,226.9 64.9,227.4 63.6,227.9 60.1,228.4 59.9,228.6 57.9,228.9 57.6,229.1 56.6,229.1 56.4,229.4 55.4,229.4 55.1,229.6 48.4,229.9 48.1,230.1 44.1,230.1 43.9,230.4 39.6,230.4 39.4,230.1 37.1,229.9 35.9,229.4 34.9,229.4 33.6,228.9 32.6,228.9 32.4,228.6 29.6,228.1 28.1,227.4 26.6,226.1 23.4,224.1 22.4,223.1 21.9,222.1 21.9,220.9 22.4,219.9 23.4,218.9 29.4,214.6 32.4,213.1 32.9,213.1 41.1,209.1 46.9,207.4 47.6,206.9 48.4,206.9 49.4,206.4 52.1,205.9 53.1,205.4 54.9,205.1 55.9,204.6 57.6,204.4 58.6,203.9 59.4,203.9 59.6,203.6 62.1,203.1 62.4,202.9 67.4,202.6 67.6,202.4 70.6,202.4 70.9,202.1 73.9,202.1 74.1,201.9 80.1,201.9 80.4,201.6 91.4,201.6 91.6,201.9 92.9,201.9 93.1,202.1 94.1,202.1 94.4,202.4 95.4,202.4 95.6,202.6 96.6,202.6 96.9,202.9 97.9,202.9 98.1,203.1 99.1,203.1 99.4,203.4 100.4,203.4 100.6,203.6 101.9,203.6 102.1,203.9 103.1,203.9 103.4,204.1 104.8,204.1 104.8,166.0z" fill="#0045ff" fill-rule="evenodd"/><path d="M6.5,166.0 6.5,263.8 104.8,263.8 104.8,220.9 102.1,221.1 101.9,221.4 100.6,221.4 100.4,221.6 99.1,221.6 98.9,221.9 97.6,221.9 97.4,222.1 94.9,222.4 94.6,222.6 93.4,222.6 93.1,222.9 91.9,222.9 91.6,223.1 90.4,223.1 90.1,223.4 88.9,223.4 88.6,223.6 87.6,223.6 87.4,223.9 85.6,224.1 82.4,225.4 81.6,225.4 79.1,226.4 78.4,226.4 75.1,227.6 74.4,227.6 71.9,228.6 71.1,228.6 70.9,228.9 70.1,228.9 69.9,229.1 69.1,229.1 67.9,229.6 66.9,229.6 66.6,229.9 65.9,229.9 65.6,230.1 64.9,230.1 63.6,230.6 62.6,230.6 62.4,230.9 61.6,230.9 61.4,231.1 60.6,231.1 59.4,231.6 58.4,231.6 58.1,231.9 57.4,231.9 56.1,232.4 53.1,232.6 52.9,232.9 50.6,232.9 50.4,233.1 48.4,233.1 48.1,233.4 43.6,233.6 43.4,233.9 41.1,233.9 40.9,234.1 39.9,234.1 39.6,233.9 37.6,233.9 37.4,233.6 35.1,233.4 33.9,232.9 32.9,232.9 32.6,232.6 30.4,232.4 29.1,231.9 28.1,231.9 27.9,231.6 26.6,231.4 25.9,230.9 25.4,230.9 22.9,229.6 22.4,229.6 20.9,228.9 19.4,227.4 18.6,226.1 17.6,225.1 16.6,223.4 16.9,221.6 17.4,220.9 18.4,217.6 18.9,216.6 19.6,215.9 20.6,215.4 21.1,215.4 22.9,214.4 23.4,214.4 24.6,213.6 26.4,213.1 27.6,212.4 37.4,209.4 38.1,208.9 40.1,208.4 40.9,207.9 41.6,207.9 41.9,207.6 42.4,207.6 44.9,206.6 45.6,206.6 48.1,205.6 48.9,205.6 49.9,205.1 50.6,205.1 50.9,204.9 52.6,204.6 53.6,204.1 54.4,204.1 54.6,203.9 55.1,203.9 57.6,202.9 58.4,202.9 61.6,201.6 63.9,201.4 64.1,201.1 65.9,201.1 66.1,200.9 69.6,200.6 69.9,200.4 73.4,200.1 73.6,199.9 75.4,199.9 75.6,199.6 82.9,199.4 83.1,199.1 87.1,199.1 87.4,198.9 92.6,198.9 92.9,199.1 95.4,199.1 95.6,199.4 97.9,199.4 98.1,199.6 100.4,199.6 100.6,199.9 103.4,199.9 103.6,200.1 104.8,200.1 104.8,166.0z" fill="#0071ff" fill-rule="evenodd"/><path d="M104.8,222.6 102.9,222.6 102.6,222.9 100.1,223.1 99.9,223.4 98.9,223.4 98.6,223.6 97.6,223.6 97.4,223.9 96.1,223.9 95.9,224.1 94.9,224.1 94.6,224.4 93.6,224.4 93.4,224.6 92.1,224.6 91.9,224.9 90.9,224.9 90.6,225.1 89.6,225.1 89.4,225.4 88.1,225.4 87.9,225.6 86.4,225.9 84.9,226.6 79.9,228.1 79.1,228.6 74.1,230.1 73.4,230.6 72.9,230.6 71.1,231.4 68.4,231.9 67.4,232.4 64.6,232.9 63.6,233.4 59.9,234.1 58.9,234.6 58.1,234.6 57.9,234.9 57.1,234.9 56.9,235.1 56.1,235.1 54.9,235.6 51.9,235.9 51.6,236.1 50.1,236.1 49.9,236.4 48.4,236.4 48.1,236.6 45.1,236.9 44.9,237.1 43.4,237.1 43.1,237.4 41.6,237.4 41.4,237.6 37.4,237.6 37.1,237.4 36.1,237.4 35.9,237.1 34.9,237.1 34.6,236.9 33.6,236.9 33.4,236.6 32.4,236.6 32.1,236.4 31.1,236.4 30.9,236.1 29.9,236.1 29.6,235.9 26.1,235.4 24.9,234.9 23.9,234.9 22.6,234.4 21.6,234.4 21.4,234.1 19.4,233.9 14.4,231.9 13.6,231.9 13.4,231.6 12.6,231.6 12.4,231.4 11.6,231.4 11.4,231.1 10.6,231.1 10.4,230.9 9.6,230.9 8.4,230.4 6.9,230.4 6.5,230.1 6.5,263.8 104.8,263.8zM6.5,166.0 6.5,215.1 7.1,214.9 9.6,214.6 9.9,214.4 10.9,214.4 11.1,214.1 11.9,214.1 13.1,213.6 13.9,213.6 17.1,212.1 19.9,211.6 20.9,211.1 21.6,211.1 21.9,210.9 22.6,210.9 22.9,210.6 23.6,210.6 24.9,210.1 25.9,210.1 27.1,209.6 30.6,209.1 31.9,208.6 32.9,208.6 34.1,208.1 35.1,208.1 35.4,207.9 38.1,207.4 39.1,206.9 39.9,206.9 40.9,206.4 41.6,206.4 41.9,206.1 43.4,205.9 44.4,205.4 45.1,205.4 46.1,204.9 46.9,204.9 48.9,204.1 49.6,204.1 51.6,203.4 52.4,203.4 52.6,203.1 59.9,200.9 61.4,200.1 62.1,200.1 63.4,199.6 64.4,199.6 64.6,199.4 65.6,199.4 65.9,199.1 67.1,199.1 67.4,198.9 68.4,198.9 68.6,198.6 69.6,198.6 69.9,198.4 71.1,198.4 71.4,198.1 72.4,198.1 72.6,197.9 73.6,197.9 73.9,197.6 75.1,197.6 75.4,197.4 76.6,197.4 76.9,197.1 79.1,197.1 79.4,196.9 81.6,196.9 81.9,196.6 84.4,196.6 84.6,196.4 86.9,196.4 87.1,196.1 89.6,196.1 89.9,195.9 104.8,195.9 104.8,166.0z" fill="#009dff" fill-rule="evenodd"/><path d="M104.8,224.1 103.1,224.1 102.9,224.4 101.9,224.4 101.6,224.6 100.6,224.6 100.4,224.9 99.4,224.9 99.1,225.1 96.9,225.4 95.6,225.9 94.6,225.9 94.4,226.1 93.4,226.1 93.1,226.4 92.1,226.4 91.9,226.6 90.9,226.6 90.6,226.9 89.6,226.9 89.4,227.1 87.6,227.4 87.4,227.6 84.6,228.4 83.9,228.9 81.9,229.4 81.1,229.9 79.9,230.1 79.1,230.6 77.1,231.1 76.4,231.6 75.1,231.9 74.4,232.4 73.9,232.4 73.6,232.6 73.1,232.6 72.9,232.9 72.4,232.9 72.1,233.1 71.6,233.1 66.1,235.1 65.4,235.1 60.6,236.9 59.9,236.9 57.4,237.9 56.6,237.9 54.9,238.6 53.9,238.6 53.6,238.9 52.6,238.9 52.4,239.1 50.9,239.1 50.6,239.4 49.4,239.4 49.1,239.6 47.9,239.6 47.6,239.9 46.4,239.9 46.1,240.1 44.9,240.1 44.6,240.4 43.4,240.4 43.1,240.6 39.9,240.9 39.6,241.1 37.4,240.9 37.1,240.6 35.1,240.4 34.9,240.1 34.1,240.1 33.9,239.9 33.1,239.9 32.9,239.6 32.1,239.6 30.9,239.1 29.9,239.1 29.6,238.9 28.9,238.9 28.6,238.6 27.9,238.6 26.6,238.1 25.6,238.1 25.4,237.9 24.6,237.9 24.4,237.6 23.6,237.6 22.4,237.1 21.4,237.1 21.1,236.9 19.4,236.6 17.6,235.9 16.9,235.9 14.4,234.9 13.6,234.9 11.1,233.9 10.4,233.9 7.9,232.9 6.5,232.9 6.5,263.8 104.8,263.8zM6.5,166.0 6.5,212.6 9.1,212.1 10.1,211.6 10.9,211.6 12.6,210.9 13.4,210.9 15.1,210.1 17.6,209.6 17.9,209.4 18.4,209.4 19.4,208.9 20.1,208.9 21.9,208.1 22.6,208.1 24.4,207.4 25.1,207.4 25.4,207.1 26.1,207.1 27.4,206.6 28.4,206.6 29.6,206.1 30.6,206.1 30.9,205.9 31.6,205.9 32.9,205.4 33.9,205.4 34.1,205.1 34.9,205.1 35.1,204.9 35.9,204.9 36.1,204.6 36.9,204.6 37.1,204.4 37.9,204.4 38.1,204.1 38.9,204.1 39.1,203.9 39.9,203.9 40.1,203.6 40.9,203.6 41.1,203.4 41.9,203.4 42.1,203.1 42.9,203.1 43.1,202.9 43.9,202.9 44.1,202.6 44.9,202.6 45.1,202.4 45.9,202.4 46.1,202.1 49.9,201.4 50.1,201.1 51.6,200.9 52.6,200.4 53.4,200.4 58.1,198.6 58.9,198.6 62.9,197.1 63.9,197.1 64.1,196.9 64.9,196.9 65.1,196.6 65.9,196.6 66.1,196.4 66.9,196.4 67.1,196.1 67.9,196.1 68.1,195.9 68.9,195.9 69.1,195.6 69.9,195.6 70.1,195.4 70.9,195.4 71.1,195.1 71.9,195.1 72.1,194.9 72.9,194.9 74.1,194.4 75.1,194.4 75.4,194.1 76.4,194.1 76.6,193.9 77.9,193.9 78.1,193.6 79.1,193.6 79.4,193.4 80.6,193.4 80.9,193.1 82.1,193.1 82.4,192.9 83.6,192.9 83.9,192.6 87.4,192.4 87.6,192.1 89.4,192.1 89.6,191.9 92.4,191.9 92.6,191.6 97.4,191.6 97.6,191.4 104.8,191.4 104.8,166.0z" fill="#00c9ff" fill-rule="evenodd"/><path d="M104.8,225.6 101.9,225.9 100.6,226.4 99.6,226.4 99.4,226.6 98.6,226.6 97.4,227.1 96.4,227.1 95.1,227.6 94.1,227.6 92.9,228.1 91.9,228.1 91.6,228.4 90.9,228.4 90.6,228.6 86.9,229.4 86.1,229.9 85.6,229.9 82.9,231.1 81.6,231.4 80.9,231.9 80.4,231.9 78.4,232.9 77.1,233.1 73.9,234.6 72.6,234.9 71.9,235.4 70.6,235.6 69.9,236.1 68.6,236.4 67.9,236.9 66.6,237.1 65.9,237.6 64.6,237.9 62.6,238.9 58.6,240.1 57.9,240.6 57.4,240.6 56.6,241.1 56.1,241.1 55.1,241.6 53.1,241.9 52.9,242.1 51.6,242.1 51.4,242.4 50.4,242.4 50.1,242.6 48.9,242.6 48.6,242.9 47.4,242.9 47.1,243.1 45.9,243.1 45.6,243.4 44.4,243.4 44.1,243.6 41.6,243.9 41.4,244.1 37.6,244.1 37.4,243.9 35.6,243.6 34.6,243.1 32.9,242.9 31.9,242.4 30.1,242.1 29.1,241.6 28.4,241.6 26.4,240.9 25.6,240.9 23.6,240.1 22.9,240.1 20.9,239.4 20.1,239.4 19.9,239.1 14.9,237.6 14.1,237.1 10.6,236.1 9.9,235.6 9.4,235.6 7.6,234.9 6.5,234.9 6.5,263.8 104.8,263.8zM6.5,210.9 10.1,209.9 10.9,209.4 12.9,208.9 13.6,208.4 15.6,207.9 16.4,207.4 18.4,206.9 19.1,206.4 21.1,205.9 21.9,205.4 23.1,205.1 24.6,204.4 25.4,204.4 26.4,203.9 29.1,203.4 30.1,202.9 31.9,202.6 32.9,202.1 33.6,202.1 33.9,201.9 34.6,201.9 34.9,201.6 35.6,201.6 35.9,201.4 36.6,201.4 36.9,201.1 37.6,201.1 37.9,200.9 38.6,200.9 39.9,200.4 40.9,200.4 42.1,199.9 43.1,199.9 43.4,199.6 44.1,199.6 45.4,199.1 46.4,199.1 46.6,198.9 47.4,198.9 47.6,198.6 51.4,197.9 52.4,197.4 53.1,197.4 53.4,197.1 54.1,197.1 56.9,196.1 57.6,196.1 58.6,195.6 59.4,195.6 62.6,194.4 63.4,194.4 65.1,193.6 65.9,193.6 67.6,192.9 68.4,192.9 70.1,192.1 70.9,192.1 73.6,191.1 75.4,190.9 76.4,190.4 77.1,190.4 77.4,190.1 78.1,190.1 78.4,189.9 79.1,189.9 79.4,189.6 80.1,189.6 81.4,189.1 83.6,188.9 83.9,188.6 85.1,188.6 85.4,188.4 86.6,188.4 86.9,188.1 88.1,188.1 88.4,187.9 89.6,187.9 89.9,187.6 91.4,187.6 91.6,187.4 93.1,187.4 93.4,187.1 96.1,187.1 96.4,186.9 99.6,186.9 99.9,186.6 103.1,186.6 103.4,186.4 104.8,186.4 104.8,166.0 6.5,166.0z" fill="#00f5ff" fill-rule="evenodd"/><path d="M104.8,226.6 104.1,226.9 102.9,226.9 102.6,227.1 101.9,227.1 101.6,227.4 100.9,227.4 100.6,227.6 99.9,227.6 99.6,227.9 98.9,227.9 98.6,228.1 97.9,228.1 97.6,228.4 96.9,228.4 96.6,228.6 95.9,228.6 95.6,228.9 94.9,228.9 94.6,229.1 93.9,229.1 93.6,229.4 92.9,229.4 92.6,229.6 91.9,229.6 91.6,229.9 90.9,229.9 89.6,230.4 88.9,230.4 88.6,230.6 85.9,231.4 85.1,231.9 84.6,231.9 83.4,232.6 82.9,232.6 82.1,233.1 80.4,233.6 79.1,234.4 77.4,234.9 76.1,235.6 75.6,235.6 72.4,237.1 71.9,237.1 70.6,237.9 70.1,237.9 68.9,238.6 68.4,238.6 66.6,239.6 66.1,239.6 64.9,240.4 64.4,240.4 63.1,241.1 62.6,241.1 60.9,242.1 60.4,242.1 56.1,244.1 55.6,244.1 54.6,244.6 53.9,244.6 53.6,244.9 52.6,244.9 52.4,245.1 51.6,245.1 50.4,245.6 49.4,245.6 49.1,245.9 48.4,245.9 47.1,246.4 46.1,246.4 45.9,246.6 45.1,246.6 43.9,247.1 42.9,247.1 42.6,247.4 39.9,247.9 37.1,249.1 34.9,248.9 34.6,248.6 34.1,248.6 33.1,248.1 32.4,248.1 29.9,247.1 29.1,247.1 26.6,246.1 25.9,246.1 24.1,245.4 23.4,245.4 23.1,245.1 16.6,243.1 15.9,242.6 15.4,242.6 14.6,242.1 11.4,241.1 9.4,240.1 6.5,239.4 6.5,263.8 104.8,263.8zM6.5,209.1 7.9,208.9 8.6,208.4 10.4,207.9 11.6,207.1 13.4,206.6 14.6,205.9 15.1,205.9 15.9,205.4 17.6,204.9 18.9,204.1 20.6,203.6 21.9,202.9 22.4,202.9 24.4,201.9 25.1,201.9 26.9,201.1 27.6,201.1 29.4,200.4 31.9,199.9 32.1,199.6 32.6,199.6 33.6,199.1 34.4,199.1 35.4,198.6 37.4,198.4 37.6,198.1 38.4,198.1 39.6,197.6 40.6,197.6 41.9,197.1 42.9,197.1 44.1,196.6 45.1,196.6 46.4,196.1 47.4,196.1 49.4,195.4 50.1,195.4 52.1,194.6 52.9,194.6 54.9,193.9 55.6,193.9 57.6,193.1 58.4,193.1 58.6,192.9 61.4,192.1 62.1,191.6 64.9,190.9 65.6,190.4 67.6,189.9 68.4,189.4 68.9,189.4 69.1,189.1 69.6,189.1 69.9,188.9 70.4,188.9 70.6,188.6 71.1,188.6 76.6,186.6 77.4,186.6 81.4,185.1 82.1,185.1 83.4,184.6 84.4,184.6 85.6,184.1 86.6,184.1 86.9,183.9 87.9,183.9 88.1,183.6 89.1,183.6 89.4,183.4 90.4,183.4 90.6,183.1 91.6,183.1 91.9,182.9 93.1,182.9 93.4,182.6 97.4,182.4 97.6,182.1 99.9,182.1 100.1,181.9 102.4,181.9 102.6,181.6 104.8,181.6 104.8,166.0 6.5,166.0z" fill="#21ffde" fill-rule="evenodd"/><path d="M104.8,227.6 101.9,228.1 100.9,228.6 99.1,228.9 98.1,229.4 96.4,229.6 95.4,230.1 93.6,230.4 92.6,230.9 90.9,231.1 89.9,231.6 89.1,231.6 88.9,231.9 86.1,232.6 84.4,233.6 83.9,233.6 78.1,236.4 77.6,236.4 75.9,237.4 75.4,237.4 73.6,238.4 73.1,238.4 71.4,239.4 70.9,239.4 56.6,246.4 52.6,247.6 51.9,248.1 51.4,248.1 50.6,248.6 50.1,248.6 49.4,249.1 48.9,249.1 48.1,249.6 47.6,249.6 46.9,250.1 46.4,250.1 45.6,250.6 43.9,251.1 42.6,251.9 42.1,251.9 39.9,253.4 39.1,253.6 38.6,254.1 37.9,254.4 37.4,254.9 36.6,255.1 36.1,255.6 31.4,258.1 29.9,258.1 29.6,257.9 28.9,257.9 24.1,256.1 23.4,256.1 23.1,255.9 17.4,254.1 14.6,252.9 12.6,252.4 11.9,251.9 10.6,251.6 7.9,250.4 6.5,250.1 6.5,263.8 104.8,263.8zM6.5,207.4 8.6,206.9 9.9,206.1 10.4,206.1 11.6,205.4 12.1,205.4 13.4,204.6 13.9,204.6 15.1,203.9 15.6,203.9 16.9,203.1 17.4,203.1 22.1,200.9 22.6,200.9 23.4,200.4 23.9,200.4 27.1,199.1 27.9,199.1 28.9,198.6 29.6,198.6 31.4,197.9 32.1,197.9 34.9,196.9 36.6,196.6 37.6,196.1 38.4,196.1 38.6,195.9 39.4,195.9 39.6,195.6 40.4,195.6 41.6,195.1 42.6,195.1 42.9,194.9 45.6,194.4 46.6,193.9 48.4,193.6 48.6,193.4 49.1,193.4 49.4,193.1 49.9,193.1 55.4,191.1 56.1,191.1 56.4,190.9 57.6,190.6 58.4,190.1 58.9,190.1 61.6,188.9 62.1,188.9 63.9,187.9 64.4,187.9 67.4,186.4 69.1,185.9 70.4,185.1 70.9,185.1 72.9,184.1 74.1,183.9 74.9,183.4 76.1,183.1 76.9,182.6 78.1,182.4 78.9,181.9 79.4,181.9 80.1,181.4 80.6,181.4 82.4,180.6 83.1,180.6 85.9,179.6 86.9,179.6 87.1,179.4 87.9,179.4 89.1,178.9 90.1,178.9 91.4,178.4 93.9,178.1 94.1,177.9 95.1,177.9 95.4,177.6 104.8,176.6 104.8,166.0 6.5,166.0z" fill="#4dffb2" fill-rule="evenodd"/><path d="M104.8,228.4 104.4,228.6 103.4,228.6 101.4,229.4 100.6,229.4 98.9,230.1 98.1,230.1 96.4,230.9 95.6,230.9 93.9,231.6 93.1,231.6 91.4,232.4 90.6,232.4 90.4,232.6 86.9,233.6 83.6,235.4 83.1,235.4 79.4,237.4 78.9,237.4 74.6,239.6 74.1,239.6 67.6,242.9 67.1,243.4 62.4,245.6 61.9,246.1 54.1,249.9 53.6,250.4 52.9,250.6 52.4,251.1 51.6,251.4 51.1,251.9 50.4,252.1 49.9,252.6 49.1,252.9 48.6,253.4 44.1,255.9 42.6,257.1 38.1,259.9 35.9,262.1 35.4,262.4 34.6,263.8 104.8,263.8zM6.5,205.6 8.1,205.4 9.4,204.6 9.9,204.6 11.1,203.9 11.6,203.9 13.4,202.9 13.9,202.9 15.1,202.1 15.6,202.1 17.4,201.1 17.9,201.1 19.1,200.4 19.6,200.4 21.4,199.4 21.9,199.4 24.4,198.1 25.9,197.9 26.1,197.6 26.6,197.6 27.6,197.1 28.4,197.1 30.1,196.4 30.9,196.4 31.9,195.9 32.6,195.9 32.9,195.6 33.4,195.6 34.4,195.1 35.1,195.1 36.1,194.6 37.9,194.4 40.6,193.4 41.4,193.4 41.6,193.1 42.4,193.1 45.1,192.1 45.9,192.1 46.1,191.9 49.6,190.9 51.6,189.9 52.9,189.6 53.6,189.1 54.9,188.9 55.6,188.4 56.1,188.4 56.9,187.9 58.6,187.4 71.4,180.9 71.9,180.9 73.1,180.1 73.6,180.1 74.9,179.4 75.4,179.4 76.6,178.6 77.1,178.6 78.4,177.9 78.9,177.9 80.1,177.1 80.6,177.1 82.6,176.1 83.1,176.1 84.9,175.4 85.6,175.4 85.9,175.1 86.6,175.1 86.9,174.9 87.6,174.9 87.9,174.6 88.6,174.6 88.9,174.4 89.6,174.4 89.9,174.1 93.6,173.4 93.9,173.1 95.9,172.9 96.1,172.6 99.9,172.4 100.1,172.1 102.4,172.1 102.6,171.9 104.8,171.9 104.8,166.0 6.5,166.0z" fill="#79ff86" fill-rule="evenodd"/><path d="M104.8,229.4 103.6,229.4 102.6,229.9 101.9,229.9 101.6,230.1 101.1,230.1 100.9,230.4 100.4,230.4 100.1,230.6 99.6,230.6 99.4,230.9 98.9,230.9 98.6,231.1 98.1,231.1 97.9,231.4 97.4,231.4 93.4,232.9 92.6,232.9 92.4,233.1 89.6,233.9 88.9,234.4 87.6,234.6 70.6,243.1 70.1,243.6 68.4,244.4 66.1,245.9 62.1,247.9 61.6,248.4 60.4,248.9 59.9,249.4 58.6,249.9 58.1,250.4 56.9,250.9 56.4,251.4 54.1,252.6 53.4,253.4 52.4,253.9 48.9,256.6 45.1,259.1 41.6,262.6 41.4,263.8 104.8,263.8zM6.5,204.1 7.6,204.1 8.9,203.4 9.4,203.4 12.1,201.9 12.6,201.9 14.9,200.6 15.4,200.6 23.6,196.6 24.1,196.6 24.4,196.4 24.9,196.4 25.1,196.1 25.6,196.1 31.1,194.1 31.9,194.1 35.1,192.9 35.9,192.9 36.1,192.6 36.6,192.6 36.9,192.4 37.4,192.4 42.9,190.4 43.6,190.4 43.9,190.1 46.6,189.4 50.9,187.4 51.4,187.4 53.1,186.4 53.6,186.4 55.4,185.4 55.9,185.4 57.6,184.4 58.1,184.4 59.1,183.6 60.9,182.9 61.4,182.4 63.1,181.6 63.6,181.1 65.4,180.4 65.9,179.9 67.6,179.1 68.1,178.6 72.6,176.4 73.1,176.4 74.6,175.6 77.6,172.6 80.6,171.1 84.1,170.1 84.6,169.6 83.6,168.1 83.9,167.9 84.1,166.0 6.5,166.0z" fill="#a5ff5a" fill-rule="evenodd"/><path d="M104.8,230.1 103.9,230.1 103.6,230.4 97.9,232.1 97.1,232.6 92.1,234.1 89.4,235.4 88.9,235.4 76.9,241.4 76.4,241.9 72.4,243.9 71.9,244.4 70.6,244.9 70.1,245.4 68.9,245.9 67.1,247.1 65.9,247.6 64.1,248.9 62.9,249.4 62.4,249.9 57.9,252.4 53.4,255.4 52.6,256.1 50.1,257.6 49.4,258.4 47.6,259.4 45.4,261.6 44.6,262.6 44.4,263.8 104.8,263.8zM6.5,203.1 7.6,202.9 10.4,201.4 10.9,201.4 23.6,194.9 24.1,194.9 26.1,193.9 27.4,193.6 28.1,193.1 29.4,192.9 30.1,192.4 31.4,192.1 32.1,191.6 32.6,191.6 32.9,191.4 34.9,190.9 35.6,190.4 36.9,190.1 37.6,189.6 38.1,189.6 38.9,189.1 39.4,189.1 40.1,188.6 40.6,188.6 41.4,188.1 41.9,188.1 42.6,187.6 43.1,187.6 43.9,187.1 44.4,187.1 46.4,186.1 46.9,186.1 56.6,181.4 57.1,180.9 60.6,179.1 61.1,178.6 64.6,176.9 65.1,176.4 66.9,175.6 67.4,175.1 72.1,172.9 73.6,171.4 74.6,169.9 74.6,169.4 73.9,168.4 73.6,166.0 6.5,166.0z" fill="#d0ff2f" fill-rule="evenodd"/><path d="M104.8,231.1 103.6,231.1 103.4,231.4 102.1,231.6 101.4,232.1 99.4,232.6 98.6,233.1 96.6,233.6 95.9,234.1 93.9,234.6 93.1,235.1 91.9,235.4 78.4,242.1 77.9,242.6 76.6,243.1 74.9,244.4 73.6,244.9 73.1,245.4 72.4,245.6 71.9,246.1 71.1,246.4 70.6,246.9 69.9,247.1 69.4,247.6 68.6,247.9 68.1,248.4 63.6,250.9 62.4,251.9 61.6,252.1 59.6,253.6 58.9,253.9 49.1,260.4 47.4,262.1 46.9,263.8 104.8,263.8zM6.5,201.9 7.6,201.6 11.6,199.6 12.1,199.1 16.4,197.1 16.9,196.6 20.6,194.9 21.1,194.4 25.1,192.4 25.6,192.4 26.9,191.6 27.4,191.6 32.1,189.4 32.6,189.4 35.1,188.1 35.6,188.1 38.4,186.6 38.9,186.6 42.1,184.9 42.6,184.9 50.1,181.1 50.6,180.6 55.1,178.4 55.6,177.9 58.1,176.6 59.9,175.4 61.6,174.6 62.1,174.1 63.4,173.6 63.9,173.1 65.6,172.4 66.1,171.9 69.6,170.1 70.9,169.1 72.1,168.6 72.6,167.9 72.6,166.0 6.5,166.0z" fill="#fcff03" fill-rule="evenodd"/><path d="M104.8,232.6 103.9,232.6 103.6,232.9 102.4,233.1 101.6,233.6 101.1,233.6 100.4,234.1 99.9,234.1 99.1,234.6 98.6,234.6 97.9,235.1 97.4,235.1 96.6,235.6 94.9,236.1 93.6,236.9 93.1,236.9 87.6,239.6 87.1,240.1 81.4,242.9 80.9,243.4 79.6,243.9 79.1,244.4 75.9,246.1 74.6,247.1 71.4,248.9 70.1,249.9 65.6,252.4 59.6,256.4 58.9,256.6 56.9,258.1 56.1,258.4 54.1,259.9 53.4,260.1 51.1,261.6 50.1,262.6 49.9,263.8 104.8,263.8zM6.5,200.4 6.9,200.1 8.1,199.9 8.6,199.4 14.9,196.1 15.4,195.6 21.1,192.6 21.6,192.1 23.4,191.4 23.9,190.9 24.9,190.4 25.4,190.4 32.6,186.6 33.1,186.6 37.1,184.6 37.6,184.1 42.4,181.9 42.9,181.4 46.6,179.6 47.1,179.1 48.4,178.6 48.9,178.1 49.6,177.9 52.6,175.9 53.9,175.4 58.1,172.6 61.6,170.9 63.4,169.6 63.4,169.1 62.6,168.6 60.6,168.4 59.9,167.6 60.1,166.0 6.5,166.0z" fill="#ffd600" fill-rule="evenodd"/><path d="M104.8,235.4 103.6,235.4 95.6,239.4 95.1,239.4 93.6,240.1 93.1,240.6 89.9,242.1 89.4,242.6 86.6,243.9 86.1,244.4 84.4,245.1 83.9,245.6 82.1,246.4 81.6,246.9 79.6,247.9 78.4,248.9 77.6,249.1 77.1,249.6 76.4,249.9 75.9,250.4 75.1,250.6 74.6,251.1 73.9,251.4 73.4,251.9 72.6,252.1 68.4,254.9 67.1,255.4 66.6,255.9 65.4,256.4 64.9,256.9 61.1,258.9 58.1,260.9 56.9,261.4 54.4,263.1 54.4,263.8 104.8,263.8zM6.5,198.4 6.9,198.1 8.1,197.9 8.6,197.4 11.1,196.1 12.9,194.9 14.1,194.4 15.9,193.1 17.1,192.6 18.9,191.4 20.1,190.9 21.9,189.6 23.6,188.9 24.1,188.4 26.4,187.4 26.9,186.9 29.6,185.6 30.1,185.1 32.9,183.9 33.4,183.4 35.6,182.4 36.1,181.9 37.9,181.1 38.4,180.6 44.6,177.4 45.1,176.9 48.9,174.9 49.4,174.4 50.1,174.1 51.4,173.1 52.1,172.9 55.1,170.9 57.4,169.9 58.1,169.4 58.6,168.6 59.1,166.0 6.5,166.0z" fill="#ffaa00" fill-rule="evenodd"/><path d="M104.8,237.9 103.6,238.1 101.6,239.1 101.1,239.6 98.9,240.6 98.4,241.1 95.6,242.4 95.1,242.9 93.4,243.6 92.9,244.1 87.6,246.9 87.1,247.4 86.4,247.6 85.9,248.1 81.4,250.6 80.1,251.6 75.6,254.1 74.4,255.1 73.6,255.4 70.6,257.4 68.9,258.1 68.4,258.6 60.9,262.6 60.1,263.8 104.8,263.8zM6.5,196.1 7.9,195.9 8.4,195.4 9.1,195.1 9.6,194.6 10.4,194.4 10.9,193.9 11.6,193.6 12.1,193.1 12.9,192.9 13.4,192.4 14.1,192.1 14.6,191.6 15.4,191.4 15.9,190.9 16.6,190.6 17.1,190.1 17.9,189.9 18.4,189.4 19.1,189.1 19.6,188.6 20.4,188.4 24.6,185.6 25.9,185.1 28.9,183.1 30.1,182.6 31.9,181.4 33.1,180.9 36.1,178.9 37.4,178.4 37.9,177.9 38.6,177.6 39.1,177.1 39.9,176.9 40.4,176.4 41.1,176.1 41.6,175.6 44.1,174.4 44.6,173.9 47.9,172.1 49.1,171.1 49.9,170.9 51.4,169.9 52.6,168.6 53.1,167.4 53.1,166.0 6.5,166.0z" fill="#ff7e00" fill-rule="evenodd"/><path d="M104.8,239.9 103.9,239.9 93.1,245.6 91.9,246.6 91.1,246.9 87.4,249.4 86.6,249.6 83.9,251.6 83.1,251.9 70.9,260.1 70.1,260.4 68.9,261.4 67.1,262.1 66.4,262.6 65.6,263.8 104.8,263.8zM6.5,193.9 7.9,193.6 8.4,193.1 9.1,192.9 9.6,192.4 10.4,192.1 10.9,191.6 11.6,191.4 12.1,190.9 12.9,190.6 17.1,187.9 18.4,187.4 18.9,186.9 19.6,186.6 20.1,186.1 20.9,185.9 21.4,185.4 22.1,185.1 22.6,184.6 23.4,184.4 23.9,183.9 24.6,183.6 25.1,183.1 25.9,182.9 26.4,182.4 27.1,182.1 27.6,181.6 28.4,181.4 28.9,180.9 29.6,180.6 30.1,180.1 30.9,179.9 31.4,179.4 32.1,179.1 32.6,178.6 35.9,176.9 37.1,175.9 37.9,175.6 38.4,175.1 39.1,174.9 42.9,172.4 46.9,170.1 47.4,169.4 46.6,168.1 46.9,166.0 6.5,166.0z" fill="#ff5300" fill-rule="evenodd"/><path d="M104.8,241.4 104.1,241.4 102.4,242.1 101.9,242.6 99.1,243.9 98.6,244.4 95.9,245.6 95.4,246.1 93.4,247.1 84.4,253.1 79.1,257.1 76.4,258.9 72.6,261.9 71.6,262.4 70.9,263.1 70.9,263.8 104.8,263.8zM6.5,191.6 7.1,191.6 9.1,190.6 10.9,189.4 12.1,188.9 15.1,186.9 16.4,186.4 19.4,184.4 20.6,183.9 23.6,181.9 24.9,181.4 26.1,180.4 26.9,180.1 29.4,178.4 31.4,177.4 32.6,176.4 36.6,174.1 41.9,170.6 44.9,169.1 45.9,167.9 46.1,166.0 6.5,166.0z" fill="#ff2700" fill-rule="evenodd"/><path d="M104.8,243.4 103.6,243.6 101.6,244.6 101.1,245.1 96.9,247.1 96.4,247.6 94.1,248.9 93.4,249.6 91.6,250.6 90.9,251.4 89.1,252.4 88.4,253.1 86.6,254.1 85.9,254.9 82.9,256.9 79.4,259.9 76.9,261.6 75.1,263.4 75.1,263.8 104.8,263.8zM6.5,188.9 7.4,188.9 8.4,188.4 10.1,187.1 11.4,186.6 11.9,186.1 13.1,185.6 14.9,184.4 17.9,182.9 19.6,181.6 22.6,180.1 26.4,177.6 27.1,177.4 29.1,175.9 29.9,175.6 31.1,174.6 31.9,174.4 33.1,173.4 33.9,173.1 35.9,171.6 36.6,171.4 38.9,169.9 40.4,168.4 40.6,167.1 40.9,166.9 40.9,166.0 6.5,166.0z" fill="#fa0000" fill-rule="evenodd"/><path d="M104.8,250.1 104.1,250.1 100.1,252.1 96.4,254.6 95.6,254.9 93.6,256.4 92.9,256.6 91.6,257.6 90.9,257.9 88.9,259.4 88.1,259.6 85.1,261.6 84.1,262.6 83.9,262.6 83.4,263.8 104.8,263.8zM6.5,181.6 7.6,181.4 9.1,180.4 11.9,179.1 12.4,178.6 19.6,175.1 20.1,174.6 22.4,173.6 23.6,172.6 24.4,172.4 25.6,171.4 27.1,170.6 27.9,169.9 27.9,169.4 27.6,169.1 27.6,167.1 27.9,166.9 27.9,166.0 6.5,166.0z" fill="#ce0000" fill-rule="evenodd"/><path d="M104.8,257.6 103.9,257.6 98.6,260.4 98.1,260.9 95.1,262.4 94.1,263.4 94.1,263.8 104.8,263.8zM6.5,173.9 8.1,173.6 16.6,169.6 18.1,168.1 18.6,166.0 6.5,166.0z" fill="#a30000" fill-rule="evenodd"/><rect x="6" y="165" width="100" height="100" fill="#000" fill-opacity="0.12"/><rect x="6" y="165" width="60" height="60" fill="url(#gdk)"/><path d="M61.2,219.9 67.3,218.9 71.9,217.4 73.4,216.6 74.2,215.9 74.5,215.1 74.4,214.1 74.1,213.6 73.4,213.2 71.1,212.7 67.4,212.6 63.6,213.0 59.6,213.8 56.6,214.6 53.9,215.9 53.1,216.4 52.6,217.1 52.5,217.9 52.7,218.6 53.1,219.1 54.1,219.6 57.4,220.1 61.2,219.9M52.1,224.1 58.9,223.5 68.8,221.9 76.2,220.1 81.9,218.4 85.5,216.9 88.6,215.0 89.5,214.1 89.9,213.4 90.0,212.1 89.9,211.1 89.1,210.2 87.6,209.3 84.4,208.6 80.6,208.2 73.9,208.2 68.6,208.5 62.9,209.2 56.4,210.5 51.1,211.7 44.9,213.8 41.6,215.3 39.3,216.9 38.2,217.9 37.2,219.4 37.2,220.6 37.9,221.6 39.2,222.6 40.6,223.3 42.6,223.8 45.9,224.1 52.1,224.1M49.4,226.9 55.4,226.6 70.6,223.8 77.9,222.0 93.1,217.7 93.9,217.2 94.2,216.1 94.9,208.9 94.9,207.4 94.6,206.9 93.9,206.5 90.4,205.3 88.9,205.1 76.4,204.7 62.6,205.5 49.6,208.6 43.3,210.9 40.5,212.1 36.1,214.6 33.1,216.6 32.3,217.4 32.0,218.4 32.7,220.6 33.9,224.0 34.3,224.6 34.9,225.0 38.1,226.1 41.4,226.9 49.4,226.9M104.6,204.3 91.6,201.9 89.9,201.7 76.4,202.0 62.3,203.1 48.4,206.9 39.9,209.9 28.9,215.1 22.9,219.5 22.3,220.4 22.0,221.6 22.3,222.6 23.4,223.9 29.4,227.8 38.6,230.0 41.6,230.3 55.4,229.4 71.1,226.0 87.4,221.7 104.6,219.1M104.6,200.2 89.9,199.0 76.4,199.8 62.1,201.7 40.6,208.2 28.1,212.4 19.9,215.9 19.3,216.4 18.7,217.4 17.0,221.9 16.8,223.1 17.3,224.4 19.6,227.4 20.5,228.4 21.4,229.0 28.1,231.6 37.6,233.6 40.6,233.9 55.6,232.3 70.9,228.7 87.4,223.6 104.6,220.8M104.6,196.1 89.1,196.2 76.1,197.5 63.6,199.8 61.6,200.3 52.5,203.4 37.3,207.6 24.9,210.4 17.9,212.1 14.4,213.5 12.6,214.0 6.6,215.1M6.6,230.1 8.1,230.3 13.9,231.7 20.4,233.9 37.1,237.4 40.1,237.6 55.6,235.2 71.4,231.1 87.6,225.5 104.6,222.4M104.6,191.4 94.6,191.7 89.9,192.1 83.1,193.0 75.1,194.4 62.1,197.6 48.9,201.6 24.9,207.5 8.4,212.4 6.6,212.7M6.6,232.7 8.1,232.9 20.6,236.7 37.4,240.7 39.9,240.9 55.1,238.3 71.9,233.0 87.4,227.4 104.6,223.9M104.6,186.6 93.4,187.4 81.4,189.4 71.9,191.8 50.9,198.0 36.4,201.4 25.1,204.5 8.4,210.5 6.6,210.9M6.6,234.7 8.1,235.0 20.6,239.3 37.1,243.8 38.6,244.1 40.1,244.1 54.9,241.5 87.1,229.3 102.6,225.7 104.6,225.4M104.6,181.7 92.9,182.9 81.9,185.2 70.6,188.8 58.1,193.2 47.6,196.1 35.4,198.9 25.1,201.9 8.4,208.7 6.6,209.2M6.6,239.3 8.1,239.6 19.9,244.0 35.1,248.7 36.9,249.0 40.6,247.6 55.6,244.1 71.4,237.3 87.4,230.8 102.6,226.9 104.6,226.6M104.6,176.8 97.6,177.5 92.9,178.3 86.1,179.8 82.1,180.9 72.4,184.5 57.6,190.6 47.9,193.8 35.1,197.0 25.1,200.0 8.1,207.1 6.6,207.5M6.6,250.1 7.9,250.4 20.6,255.0 29.6,257.9 31.1,258.0 33.6,256.8 42.1,251.9 56.6,246.1 70.8,239.4 86.4,232.5 90.1,231.3 103.1,227.8 104.6,227.5M104.6,172.0 96.1,172.9 83.9,175.9 71.6,181.0 59.9,186.8 56.1,188.4 47.1,191.8 24.6,198.3 8.4,205.3 6.6,205.8M34.6,263.6 35.1,262.6 37.9,260.1 44.1,255.9 54.4,249.7 70.9,241.2 87.4,233.4 102.9,228.7 104.6,228.4M84.3,166.1 83.9,168.1 84.1,168.8 84.7,169.4 84.5,169.9 78.4,172.4 77.1,173.3 74.6,175.6 69.4,178.2 58.1,184.4 46.7,189.4 24.1,196.7 8.4,203.8 6.6,204.3M41.1,263.6 41.6,262.6 44.9,259.3 54.9,252.1 71.4,242.7 87.9,234.5 102.9,229.5 104.6,229.2M73.8,166.1 73.9,167.9 74.7,169.4 74.7,169.9 73.0,172.1 71.7,173.1 67.6,175.2 56.6,181.4 47.5,185.9 37.6,189.9 24.1,194.9 8.3,202.6 6.6,203.1M44.3,263.6 44.6,262.6 45.9,260.9 48.4,258.8 57.0,252.9 72.8,243.6 78.6,240.4 88.8,235.4 102.9,230.4 104.6,230.0M72.8,166.1 72.7,167.9 72.1,168.7 48.8,181.9 36.8,187.6 24.1,193.1 8.3,201.4 6.6,201.9M46.8,263.6 47.1,262.6 47.7,261.6 49.8,259.9 62.8,251.4 78.3,242.1 91.3,235.6 102.8,231.4 104.6,230.9M60.2,166.1 60.1,167.4 60.4,168.0 62.7,168.6 63.5,169.1 63.4,169.6 62.5,170.4 46.1,179.9 35.4,185.5 23.9,191.1 8.4,199.8 6.6,200.4M49.7,263.6 50.3,262.4 51.9,261.1 64.0,253.4 80.0,243.6 92.6,237.1 102.9,232.9 104.6,232.5M59.2,166.1 58.5,168.9 57.9,169.6 44.9,177.2 22.9,189.3 8.4,197.7 6.6,198.4M54.1,263.6 54.6,262.9 55.9,262.0 83.0,245.9 94.6,239.6 103.0,235.6 104.6,235.2M53.3,166.1 53.1,167.6 52.6,168.6 52.0,169.4 50.7,170.4 8.4,195.6 6.6,196.3M60.0,263.6 60.2,263.1 61.2,262.4 71.1,256.8 87.4,247.0 102.9,238.4 104.6,237.8M47.0,166.1 46.8,168.1 47.4,169.4 47.2,169.9 46.6,170.4 8.6,193.2 7.4,193.9 6.6,194.0M65.5,263.6 65.7,263.1 66.3,262.6 71.9,259.3 89.0,248.1 94.4,244.9 102.4,240.5 103.9,239.8 104.6,239.7M46.3,166.1 45.8,168.1 45.1,169.1 42.6,170.4 24.5,181.6 8.4,191.1 6.6,191.8M70.7,263.6 71.1,262.9 71.9,262.1 83.1,254.0 89.9,249.4 95.6,245.7 103.1,241.7 104.6,241.3M41.1,166.1 40.7,167.6 40.2,168.6 38.2,170.4 23.9,179.4 8.4,188.4 6.6,189.1M75.0,263.6 75.2,263.1 75.9,262.4 83.8,256.1 94.8,248.4 103.0,243.9 104.6,243.3M28.0,166.1 27.7,168.1 28.0,169.6 27.8,170.1 27.4,170.5 21.4,174.2 7.9,181.3 6.6,181.7M83.3,263.6 83.5,263.1 84.1,262.4 87.9,259.8 99.4,252.5 103.4,250.4 104.6,250.1M18.7,166.1 18.2,168.1 17.6,168.9 16.6,169.6 9.6,173.0 7.6,173.8 6.6,174.0M93.9,263.6 94.4,262.9 96.0,261.9 103.1,257.9 104.6,257.4" fill="none" stroke="#000" stroke-width="0.55" stroke-opacity="0.7"/><path d="M5.8,167.1L5.7,163.9M6.5,164.9L5.7,163.9L5.1,164.9M10.8,167.1L8.3,165.2M9.5,165.2L8.3,165.2L8.7,166.3M12.4,166.0L9.2,165.7M10.3,165.1L9.2,165.7L10.1,166.5M15.6,165.4L12.4,165.4M13.4,164.7L12.4,165.4L13.4,166.1M17.5,163.8L16.5,166.8M16.1,165.6L16.5,166.8L17.5,166.1M20.3,166.8L17.5,165.3M18.7,165.1L17.5,165.3L18.1,166.4M21.8,167.7L21.2,164.6M22.1,165.4L21.2,164.6L20.7,165.7M24.7,168.4L24.5,165.2M25.2,166.2L24.5,165.2L23.8,166.3M27.9,166.5L24.7,166.0M25.8,165.5L24.7,166.0L25.6,166.9M31.1,165.6L27.9,165.6M28.9,164.9L27.9,165.6L28.9,166.3M30.9,165.3L30.7,168.4M30.1,167.4L30.7,168.4L31.5,167.5M34.0,164.1L33.8,167.3M33.1,166.2L33.8,167.3L34.5,166.3M37.6,164.6L37.3,167.7M36.7,166.7L37.3,167.7L38.1,166.8M39.5,164.9L39.0,168.1M38.4,167.0L39.0,168.1L39.8,167.2M42.5,166.0L39.4,166.7M40.2,165.8L39.4,166.7L40.5,167.2M45.6,165.8L42.6,164.7M43.8,164.4L42.6,164.7L43.3,165.7M48.7,167.0L45.5,166.5M46.6,166.0L45.5,166.5L46.4,167.4M50.4,166.1L47.2,166.4M48.2,165.6L47.2,166.4L48.3,167.0M51.8,164.9L51.2,168.0M50.7,166.9L51.2,168.0L52.1,167.2M55.2,167.0L54.4,164.0M55.3,164.7L54.4,164.0L54.0,165.1M59.1,166.6L55.9,166.0M57.1,165.5L55.9,166.0L56.8,166.9M61.3,166.8L58.2,166.3M59.3,165.8L58.2,166.3L59.1,167.2M63.0,165.4L60.6,167.5M60.9,166.3L60.6,167.5L61.8,167.4M65.4,163.7L64.9,166.9M64.4,165.7L64.9,166.9L65.7,166.0M69.1,165.2L66.2,166.5M66.8,165.4L66.2,166.5L67.4,166.7M70.0,166.9L68.9,163.9M69.9,164.6L68.9,163.9L68.6,165.0M74.0,165.6L70.8,165.6M71.8,164.9L70.8,165.6L71.8,166.3M76.8,165.5L73.6,165.7M74.6,164.9L73.6,165.7L74.7,166.3M77.9,164.4L76.5,167.2M76.3,166.0L76.5,167.2L77.5,166.7M80.1,167.0L79.5,163.9M80.4,164.7L79.5,163.9L79.0,165.0M82.9,167.3L80.2,165.6M81.4,165.5L80.2,165.6L80.7,166.7M86.7,166.2L83.5,166.1M84.5,165.4L83.5,166.1L84.5,166.8M86.3,165.6L89.5,165.4M88.6,166.1L89.5,165.4L88.5,164.7M88.7,165.6L91.9,165.2M91.0,166.0L91.9,165.2L90.8,164.6M94.6,166.6L91.5,165.8M92.6,165.4L91.5,165.8L92.3,166.7M96.4,167.4L93.4,166.3M94.6,166.0L93.4,166.3L94.1,167.3M99.3,166.0L96.3,167.1M97.0,166.1L96.3,167.1L97.4,167.4M99.9,164.5L98.0,167.0M98.0,165.8L98.0,167.0L99.2,166.7M101.8,163.9L101.2,167.0M100.7,165.9L101.2,167.0L102.1,166.2M104.4,168.2L104.2,165.0M104.9,166.0L104.2,165.0L103.5,166.1M5.8,169.7L5.8,166.5M6.5,167.5L5.8,166.5L5.1,167.5M9.5,170.7L8.5,167.6M9.5,168.4L8.5,167.6L8.2,168.8M14.0,169.0L10.8,168.8M11.8,168.1L10.8,168.8L11.7,169.5M14.5,167.3L12.6,169.9M12.6,168.7L12.6,169.9L13.8,169.5M17.6,166.2L16.4,169.2M16.1,168.0L16.4,169.2L17.4,168.5M20.1,169.7L18.8,166.8M19.8,167.4L18.8,166.8L18.5,168.0M22.2,170.3L21.3,167.3M22.3,168.0L21.3,167.3L20.9,168.4M24.7,170.1L24.2,167.0M25.0,167.8L24.2,167.0L23.7,168.1M28.2,168.7L25.3,167.2M26.5,167.1L25.3,167.2L25.9,168.3M30.0,166.5L28.4,169.2M28.3,168.0L28.4,169.2L29.5,168.7M31.9,167.0L31.5,170.2M30.9,169.1L31.5,170.2L32.3,169.3M35.0,166.7L34.5,169.9M33.9,168.8L34.5,169.9L35.3,169.0M36.3,167.0L35.5,170.1M35.0,168.9L35.5,170.1L36.4,169.3M40.3,168.5L37.2,169.4M38.0,168.4L37.2,169.4L38.3,169.8M42.4,169.7L40.8,166.9M41.9,167.4L40.8,166.9L40.7,168.1M46.1,169.5L44.0,167.1M45.2,167.4L44.0,167.1L44.1,168.3M48.2,168.2L45.0,168.2M46.0,167.5L45.0,168.2L46.0,168.9M49.6,166.2L49.0,169.3M48.5,168.2L49.0,169.3L49.9,168.5M53.1,170.4L50.8,168.1M52.0,168.3L50.8,168.1L51.0,169.3M55.1,170.4L53.9,167.5M54.9,168.1L53.9,167.5L53.6,168.7M58.5,170.5L56.9,167.7M58.0,168.3L56.9,167.7L56.8,168.9M61.1,168.1L58.6,170.1M59.0,168.9L58.6,170.1L59.8,170.0M62.8,166.5L62.3,169.6M61.7,168.5L62.3,169.6L63.1,168.8M64.9,166.7L64.0,169.8M63.6,168.6L64.0,169.8L65.0,169.0M68.1,169.0L65.0,168.3M66.1,167.8L65.0,168.3L65.8,169.2M69.9,170.2L68.5,167.3M69.5,167.9L68.5,167.3L68.3,168.5M73.5,168.8L70.9,166.8M72.1,166.9L70.9,166.8L71.3,168.0M75.7,167.3L73.2,169.3M73.5,168.1L73.2,169.3L74.4,169.2M78.7,166.7L76.2,168.8M76.5,167.6L76.2,168.8L77.4,168.7M79.7,170.0L78.3,167.1M79.4,167.7L78.3,167.1L78.1,168.3M82.5,170.3L81.3,167.3M82.4,168.0L81.3,167.3L81.1,168.5M85.9,167.7L82.8,168.2M83.6,167.4L82.8,168.2L83.9,168.8M87.8,166.4L88.0,169.6M87.3,168.7L88.0,169.6L88.7,168.6M88.1,166.8L90.0,169.4M88.8,169.0L90.0,169.4L90.0,168.2M92.9,169.3L90.9,166.7M92.1,167.1L90.9,166.7L91.0,168.0M95.3,170.8L94.2,167.8M95.2,168.5L94.2,167.8L93.9,169.0M98.0,167.6L95.1,169.1M95.7,168.0L95.1,169.1L96.4,169.3M100.3,170.8L99.8,167.6M100.7,168.5L99.8,167.6L99.3,168.7M103.5,169.4L102.8,166.3M103.7,167.1L102.8,166.3L102.4,167.4M104.9,170.8L104.8,167.6M105.6,168.6L104.8,167.6L104.2,168.6M5.8,172.8L5.6,169.6M6.4,170.5L5.6,169.6L5.0,170.6M8.9,173.0L8.0,170.0M8.9,170.7L8.0,170.0L7.6,171.1M13.0,172.5L11.7,169.6M12.7,170.2L11.7,169.6L11.4,170.8M14.0,171.6L12.4,168.8M13.5,169.4L12.4,168.8L12.3,170.1M17.1,173.1L15.7,170.2M16.8,170.8L15.7,170.2L15.5,171.4M19.3,172.8L17.9,169.9M19.0,170.5L17.9,169.9L17.7,171.1M22.3,172.0L20.6,169.2M21.7,169.7L20.6,169.2L20.5,170.4M25.3,172.0L23.7,169.3M24.8,169.8L23.7,169.3L23.6,170.5M27.3,172.8L25.6,170.1M26.7,170.6L25.6,170.1L25.5,171.4M30.0,172.9L28.3,170.2M29.4,170.6L28.3,170.2L28.3,171.4M32.8,171.6L30.7,169.2M31.9,169.5L30.7,169.2L30.8,170.4M35.0,173.0L33.3,170.3M34.4,170.8L33.3,170.3L33.2,171.6M37.7,173.2L36.0,170.5M37.1,171.0L36.0,170.5L36.0,171.7M39.2,172.1L37.5,169.4M38.6,169.8L37.5,169.4L37.5,170.6M43.1,172.7L41.4,170.0M42.6,170.5L41.4,170.0L41.4,171.2M45.2,172.7L43.6,169.9M44.7,170.4L43.6,169.9L43.5,171.1M48.3,172.7L46.7,170.0M47.8,170.5L46.7,170.0L46.6,171.2M50.3,172.5L48.6,169.8M49.7,170.2L48.6,169.8L48.5,171.0M53.0,172.1L51.3,169.3M52.4,169.8L51.3,169.3L51.3,170.6M55.5,172.6L53.9,169.8M55.0,170.3L53.9,169.8L53.8,171.1M58.2,172.4L56.6,169.6M57.7,170.1L56.6,169.6L56.5,170.8M59.4,172.5L57.8,169.7M58.9,170.2L57.8,169.7L57.7,170.9M63.4,172.7L61.8,169.9M62.9,170.4L61.8,169.9L61.7,171.1M65.5,172.2L63.9,169.4M65.0,169.9L63.9,169.4L63.8,170.6M67.5,172.8L66.0,170.0M67.1,170.5L66.0,170.0L65.8,171.2M69.5,173.1L68.0,170.3M69.1,170.8L68.0,170.3L67.9,171.5M73.9,172.9L71.6,170.7M72.8,170.9L71.6,170.7L71.8,171.9M75.2,171.2L72.6,169.4M73.8,169.4L72.6,169.4L73.0,170.6M78.8,172.1L76.8,169.6M77.9,169.9L76.8,169.6L76.9,170.8M79.9,172.2L78.5,169.4M79.6,170.0L78.5,169.4L78.3,170.6M82.9,171.9L81.9,168.9M82.9,169.6L81.9,168.9L81.6,170.0M85.1,172.8L84.2,169.8M85.1,170.5L84.2,169.8L83.8,170.9M88.3,171.6L86.8,168.7M87.9,169.3L86.8,168.7L86.7,169.9M90.7,172.4L89.8,169.4M90.7,170.1L89.8,169.4L89.4,170.5M92.5,172.7L91.7,169.6M92.6,170.4L91.7,169.6L91.3,170.7M94.7,173.3L93.9,170.2M94.9,171.0L93.9,170.2L93.5,171.3M97.0,172.7L96.5,169.5M97.3,170.4L96.5,169.5L95.9,170.6M99.3,172.8L99.0,169.6M99.8,170.5L99.0,169.6L98.4,170.7M103.2,173.3L102.8,170.1M103.6,171.0L102.8,170.1L102.2,171.2M104.2,172.8L104.1,169.6M104.8,170.6L104.1,169.6L103.4,170.7M7.5,174.5L6.9,171.4M7.8,172.3L6.9,171.4L6.4,172.5M9.5,175.4L8.2,172.4M9.3,173.1L8.2,172.4L8.0,173.6M12.7,174.9L11.3,172.0M12.3,172.6L11.3,172.0L11.1,173.2M15.0,175.3L13.6,172.4M14.7,173.0L13.6,172.4L13.4,173.6M17.0,175.2L15.6,172.4M16.7,172.9L15.6,172.4L15.4,173.6M20.0,175.3L18.5,172.4M19.6,173.0L18.5,172.4L18.3,173.6M22.4,174.6L20.8,171.8M22.0,172.4L20.8,171.8L20.7,173.1M24.9,175.6L23.2,172.9M24.3,173.4L23.2,172.9L23.1,174.1M27.0,174.2L25.2,171.5M26.4,172.0L25.2,171.5L25.2,172.7M29.2,175.5L27.5,172.8M28.6,173.3L27.5,172.8L27.4,174.0M33.4,174.4L31.7,171.7M32.9,172.2L31.7,171.7L31.7,172.9M34.7,174.3L33.0,171.6M34.1,172.1L33.0,171.6L32.9,172.8M37.8,174.8L36.1,172.1M37.2,172.6L36.1,172.1L36.0,173.4M40.7,174.4L39.0,171.6M40.1,172.1L39.0,171.6L38.9,172.9M43.3,174.8L41.6,172.1M42.8,172.6L41.6,172.1L41.6,173.3M45.7,175.4L44.0,172.7M45.2,173.2L44.0,172.7L44.0,173.9M48.4,174.9L46.7,172.1M47.9,172.6L46.7,172.1L46.7,173.4M50.4,175.0L48.7,172.3M49.8,172.7L48.7,172.3L48.6,173.5M52.1,174.9L50.5,172.1M51.6,172.6L50.5,172.1L50.4,173.4M56.0,175.6L54.3,172.9M55.5,173.4L54.3,172.9L54.2,174.1M56.9,175.2L55.2,172.4M56.3,172.9L55.2,172.4L55.1,173.7M59.9,174.3L58.3,171.5M59.4,172.0L58.3,171.5L58.2,172.7M62.1,175.4L60.5,172.7M61.6,173.2L60.5,172.7L60.4,173.9M66.1,174.9L64.5,172.2M65.6,172.7L64.5,172.2L64.4,173.4M67.6,174.9L66.0,172.1M67.1,172.7L66.0,172.1L65.9,173.3M70.8,175.4L69.4,172.5M70.5,173.1L69.4,172.5L69.2,173.7M72.0,174.4L70.5,171.6M71.6,172.1L70.5,171.6L70.4,172.8M76.4,174.5L74.0,172.5M75.2,172.6L74.0,172.5L74.3,173.7M78.3,175.3L76.4,172.7M77.6,173.1L76.4,172.7L76.4,173.9M80.5,175.4L79.2,172.5M80.2,173.1L79.2,172.5L79.0,173.7M82.8,174.5L81.6,171.5M82.6,172.2L81.6,171.5L81.3,172.7M84.5,175.9L83.6,172.9M84.6,173.6L83.6,172.9L83.2,174.0M86.7,175.4L85.9,172.3M86.8,173.1L85.9,172.3L85.4,173.5M90.8,174.6L90.0,171.5M90.9,172.3L90.0,171.5L89.5,172.6M91.8,174.9L91.0,171.8M91.9,172.6L91.0,171.8L90.6,172.9M94.8,175.0L94.1,171.9M95.0,172.7L94.1,171.9L93.6,173.0M97.3,175.9L96.9,172.7M97.7,173.6L96.9,172.7L96.3,173.8M99.2,175.9L98.9,172.7M99.7,173.6L98.9,172.7L98.3,173.8M101.6,175.9L101.3,172.7M102.1,173.6L101.3,172.7L100.7,173.8M104.5,175.5L104.5,172.3M105.2,173.3L104.5,172.3L103.8,173.3M5.7,177.5L5.5,174.3M6.3,175.3L5.5,174.3L4.9,175.4M10.0,177.7L8.6,174.8M9.7,175.4L8.6,174.8L8.4,176.0M12.8,176.8L11.4,174.0M12.5,174.6L11.4,174.0L11.2,175.2M14.6,177.7L13.2,174.8M14.2,175.4L13.2,174.8L13.0,176.0M16.5,178.0L15.0,175.2M16.1,175.8L15.0,175.2L14.8,176.4M19.7,177.0L18.2,174.1M19.3,174.7L18.2,174.1L18.1,175.4M21.9,177.7L20.4,174.9M21.5,175.4L20.4,174.9L20.2,176.1M24.2,176.9L22.5,174.2M23.6,174.7L22.5,174.2L22.4,175.4M27.2,176.9L25.5,174.2M26.6,174.7L25.5,174.2L25.4,175.5M30.5,177.5L28.7,174.8M29.9,175.3L28.7,174.8L28.7,176.1M33.3,177.7L31.6,175.0M32.7,175.5L31.6,175.0L31.5,176.2M34.7,177.1L33.0,174.3M34.1,174.8L33.0,174.3L32.9,175.6M36.9,176.9L35.2,174.2M36.4,174.7L35.2,174.2L35.2,175.4M40.3,177.8L38.6,175.1M39.7,175.6L38.6,175.1L38.5,176.3M42.2,177.1L40.6,174.4M41.7,174.9L40.6,174.4L40.5,175.6M45.6,178.2L44.1,175.5M45.2,176.0L44.1,175.5L43.9,176.7M46.9,176.6L45.3,173.9M46.4,174.4L45.3,173.9L45.2,175.1M50.6,177.4L49.0,174.6M50.1,175.1L49.0,174.6L48.9,175.9M52.6,177.6L50.9,174.9M52.0,175.4L50.9,174.9L50.8,176.1M55.7,176.6L54.0,173.9M55.2,174.4L54.0,173.9L54.0,175.1M58.5,178.2L56.9,175.5M58.0,176.0L56.9,175.5L56.8,176.7M60.1,177.4L58.5,174.6M59.6,175.1L58.5,174.6L58.4,175.8M62.3,177.6L60.8,174.8M61.9,175.3L60.8,174.8L60.6,176.0M64.7,177.5L63.2,174.7M64.3,175.2L63.2,174.7L63.0,175.9M68.5,177.4L66.9,174.6M68.0,175.2L66.9,174.6L66.8,175.8M70.8,176.9L69.4,174.0M70.5,174.6L69.4,174.0L69.2,175.2M73.4,176.8L72.0,173.9M73.1,174.5L72.0,173.9L71.8,175.1M74.7,177.9L73.3,175.0M74.4,175.6L73.3,175.0L73.1,176.2M77.7,176.6L75.7,174.1M76.9,174.4L75.7,174.1L75.8,175.3M79.5,178.0L78.2,175.1M79.2,175.7L78.2,175.1L78.0,176.3M81.9,176.7L80.6,173.8M81.7,174.4L80.6,173.8L80.4,174.9M85.8,178.1L85.0,175.0M86.0,175.8L85.0,175.0L84.6,176.1M87.3,177.0L86.5,173.9M87.5,174.7L86.5,173.9L86.1,175.1M90.7,178.1L90.0,175.0M90.9,175.8L90.0,175.0L89.5,176.1M92.8,177.6L92.2,174.5M93.1,175.3L92.2,174.5L91.7,175.6M95.1,178.5L94.5,175.3M95.3,176.2L94.5,175.3L94.0,176.4M97.5,176.9L97.1,173.7M97.9,174.6L97.1,173.7L96.5,174.8M99.2,177.8L98.8,174.6M99.6,175.5L98.8,174.6L98.2,175.7M102.9,177.8L102.5,174.7M103.3,175.6L102.5,174.7L101.9,175.7M105.3,177.2L105.2,174.1M105.9,175.0L105.2,174.1L104.5,175.1M6.4,179.7L6.2,176.5M6.9,177.5L6.2,176.5L5.5,177.6M9.5,179.5L8.0,176.7M9.1,177.2L8.0,176.7L7.9,177.9M12.9,179.3L11.4,176.5M12.5,177.0L11.4,176.5L11.2,177.7M14.3,180.3L12.8,177.5M13.9,178.1L12.8,177.5L12.6,178.7M17.1,179.7L15.7,176.8M16.7,177.4L15.7,176.8L15.5,178.0M20.7,180.6L19.2,177.8M20.3,178.4L19.2,177.8L19.1,179.0M21.9,179.3L20.3,176.5M21.4,177.0L20.3,176.5L20.2,177.7M25.0,180.0L23.3,177.3M24.4,177.8L23.3,177.3L23.2,178.5M27.2,180.0L25.5,177.3M26.7,177.8L25.5,177.3L25.5,178.6M30.3,180.5L28.7,177.7M29.8,178.2L28.7,177.7L28.6,178.9M32.1,180.2L30.4,177.4M31.5,177.9L30.4,177.4L30.3,178.6M34.3,179.1L32.6,176.4M33.7,176.9L32.6,176.4L32.5,177.6M36.8,179.2L35.1,176.5M36.2,177.0L35.1,176.5L35.0,177.7M40.6,179.7L39.0,176.9M40.1,177.4L39.0,176.9L38.9,178.1M42.6,179.8L41.0,177.0M42.1,177.6L41.0,177.0L40.9,178.3M44.6,179.1L43.0,176.3M44.1,176.8L43.0,176.3L42.9,177.5M47.0,180.6L45.5,177.8M46.6,178.3L45.5,177.8L45.4,179.0M49.9,179.8L48.2,177.0M49.4,177.5L48.2,177.0L48.2,178.2M52.2,180.3L50.6,177.6M51.8,178.1L50.6,177.6L50.5,178.8M55.5,179.7L54.0,176.9M55.1,177.4L54.0,176.9L53.8,178.1M57.7,179.7L56.1,177.0M57.2,177.5L56.1,177.0L56.0,178.2M60.4,180.1L58.8,177.3M59.9,177.8L58.8,177.3L58.7,178.5M62.9,180.6L61.3,177.9M62.4,178.4L61.3,177.9L61.2,179.1M66.1,179.1L64.5,176.3M65.6,176.9L64.5,176.3L64.4,177.5M67.6,179.1L66.0,176.3M67.1,176.8L66.0,176.3L65.9,177.5M70.0,180.5L68.5,177.7M69.6,178.2L68.5,177.7L68.4,178.9M73.0,180.1L71.7,177.2M72.7,177.8L71.7,177.2L71.5,178.4M74.5,180.6L73.2,177.6M74.2,178.3L73.2,177.6L72.9,178.8M77.9,179.6L76.6,176.7M77.7,177.3L76.6,176.7L76.4,177.9M80.7,179.2L79.5,176.2M80.5,176.9L79.5,176.2L79.2,177.4M82.1,180.6L81.0,177.5M82.0,178.2L81.0,177.5L80.7,178.7M84.3,179.4L83.3,176.3M84.3,177.1L83.3,176.3L83.0,177.5M87.5,180.5L86.8,177.3M87.7,178.2L86.8,177.3L86.3,178.5M90.2,179.3L89.5,176.1M90.4,176.9L89.5,176.1L89.0,177.3M92.1,180.5L91.5,177.3M92.4,178.2L91.5,177.3L91.0,178.5M94.7,179.6L94.2,176.4M95.0,177.3L94.2,176.4L93.7,177.5M96.6,179.7L96.1,176.5M96.9,177.4L96.1,176.5L95.6,177.6M100.7,179.3L100.4,176.1M101.2,177.0L100.4,176.1L99.8,177.2M102.5,180.9L102.2,177.7M103.0,178.6L102.2,177.7L101.6,178.7M105.2,179.7L105.1,176.5M105.9,177.5L105.1,176.5L104.5,177.5M7.0,181.9L6.5,178.8M7.4,179.7L6.5,178.8L6.0,179.8M9.8,182.0L8.2,179.2M9.3,179.7L8.2,179.2L8.1,180.4M13.0,183.1L11.5,180.3M12.5,180.8L11.5,180.3L11.3,181.5M15.3,182.2L13.8,179.4M14.9,179.9L13.8,179.4L13.6,180.6M17.9,183.3L16.3,180.5M17.4,181.0L16.3,180.5L16.2,181.7M19.7,182.5L18.1,179.7M19.2,180.2L18.1,179.7L18.0,180.9M21.8,181.7L20.2,178.9M21.3,179.5L20.2,178.9L20.1,180.2M25.4,181.6L23.7,178.9M24.8,179.4L23.7,178.9L23.6,180.1M27.7,181.7L26.0,179.0M27.1,179.5L26.0,179.0L25.9,180.2M30.3,182.9L28.7,180.1M29.8,180.6L28.7,180.1L28.6,181.3M33.3,182.2L31.7,179.5M32.8,180.0L31.7,179.5L31.6,180.7M34.8,182.2L33.2,179.5M34.3,180.0L33.2,179.5L33.1,180.7M37.9,182.9L36.3,180.1M37.4,180.7L36.3,180.1L36.2,181.4M39.4,182.1L37.8,179.3M38.9,179.9L37.8,179.3L37.7,180.5M41.8,182.0L40.2,179.1M41.3,179.7L40.2,179.1L40.1,180.4M45.5,183.2L44.0,180.4M45.1,181.0L44.0,180.4L43.8,181.6M48.5,181.6L46.9,178.9M48.0,179.4L46.9,178.9L46.8,180.1M49.9,183.1L48.4,180.3M49.5,180.8L48.4,180.3L48.3,181.5M52.6,182.2L51.1,179.4M52.2,179.9L51.1,179.4L51.0,180.6M55.6,183.1L54.2,180.3M55.3,180.8L54.2,180.3L54.0,181.5M57.0,182.5L55.5,179.6M56.6,180.2L55.5,179.6L55.4,180.9M59.6,181.8L58.0,179.1M59.1,179.6L58.0,179.1L57.9,180.3M62.8,182.0L61.2,179.2M62.3,179.7L61.2,179.2L61.1,180.4M65.8,182.2L64.2,179.4M65.3,179.9L64.2,179.4L64.1,180.6M67.2,182.7L65.7,179.9M66.7,180.4L65.7,179.9L65.5,181.1M69.8,181.7L68.3,178.8M69.4,179.4L68.3,178.8L68.2,180.1M73.6,181.9L72.3,179.0M73.3,179.6L72.3,179.0L72.1,180.2M74.5,182.5L73.3,179.5M74.3,180.2L73.3,179.5L73.0,180.7M76.8,183.0L75.6,180.1M76.6,180.7L75.6,180.1L75.3,181.2M79.4,181.7L78.2,178.7M79.3,179.4L78.2,178.7L78.0,179.9M83.4,182.6L82.5,179.5M83.5,180.3L82.5,179.5L82.1,180.7M85.8,183.3L85.0,180.2M85.9,181.0L85.0,180.2L84.6,181.3M87.9,181.7L87.2,178.6M88.1,179.4L87.2,178.6L86.8,179.7M90.3,181.8L89.6,178.7M90.5,179.5L89.6,178.7L89.1,179.8M91.6,183.2L91.0,180.1M91.9,180.9L91.0,180.1L90.5,181.2M94.6,183.1L94.2,179.9M95.0,180.8L94.2,179.9L93.6,181.0M97.5,183.1L97.1,180.0M97.9,180.9L97.1,180.0L96.5,181.0M100.2,183.5L99.9,180.3M100.6,181.2L99.9,180.3L99.3,181.4M102.4,183.3L102.1,180.1M102.9,181.0L102.1,180.1L101.5,181.1M105.4,182.8L105.4,179.6M106.1,180.6L105.4,179.6L104.7,180.6M6.6,185.0L6.4,181.8M7.2,182.8L6.4,181.8L5.8,182.9M10.1,184.4L8.5,181.6M9.6,182.1L8.5,181.6L8.4,182.8M12.2,185.2L10.6,182.4M11.7,182.9L10.6,182.4L10.5,183.6M14.5,184.4L12.9,181.6M14.0,182.2L12.9,181.6L12.8,182.8M16.7,185.5L15.1,182.7M16.2,183.2L15.1,182.7L15.0,183.9M20.6,185.5L19.0,182.8M20.1,183.3L19.0,182.8L18.9,184.0M22.8,185.1L21.2,182.3M22.3,182.9L21.2,182.3L21.1,183.6M24.2,185.6L22.5,182.8M23.6,183.3L22.5,182.8L22.4,184.1M27.4,185.2L25.8,182.5M26.9,183.0L25.8,182.5L25.7,183.7M29.3,185.4L27.7,182.6M28.8,183.1L27.7,182.6L27.6,183.8M31.8,185.8L30.3,183.0M31.4,183.5L30.3,183.0L30.2,184.2M35.4,185.0L33.8,182.2M34.9,182.7L33.8,182.2L33.7,183.4M37.8,184.5L36.3,181.6M37.4,182.2L36.3,181.6L36.1,182.9M40.0,184.2L38.5,181.4M39.6,181.9L38.5,181.4L38.4,182.6M42.1,184.6L40.7,181.7M41.7,182.3L40.7,181.7L40.5,182.9M44.4,184.8L43.0,181.9M44.1,182.5L43.0,181.9L42.8,183.2M46.8,184.1L45.3,181.2M46.4,181.8L45.3,181.2L45.1,182.5M49.7,185.9L48.3,183.0M49.4,183.6L48.3,183.0L48.2,184.2M53.0,184.8L51.6,182.0M52.6,182.6L51.6,182.0L51.4,183.2M54.6,184.3L53.1,181.4M54.2,182.0L53.1,181.4L53.0,182.6M57.4,185.3L56.1,182.4M57.1,183.0L56.1,182.4L55.9,183.6M60.8,184.9L59.2,182.1M60.3,182.6L59.2,182.1L59.1,183.3M63.3,185.5L61.8,182.7M62.9,183.2L61.8,182.7L61.7,183.9M65.8,184.6L64.4,181.8M65.4,182.4L64.4,181.8L64.2,183.0M67.7,184.3L66.2,181.5M67.3,182.1L66.2,181.5L66.0,182.7M70.4,184.2L69.0,181.3M70.0,181.9L69.0,181.3L68.8,182.5M72.6,184.4L71.3,181.5M72.4,182.1L71.3,181.5L71.1,182.7M75.1,184.5L73.9,181.5M75.0,182.2L73.9,181.5L73.6,182.7M76.7,184.9L75.6,181.9M76.6,182.6L75.6,181.9L75.3,183.1M80.0,185.1L78.9,182.1M79.9,182.8L78.9,182.1L78.6,183.3M81.9,185.1L81.0,182.0M81.9,182.7L81.0,182.0L80.6,183.2M84.6,184.3L83.9,181.2M84.8,182.0L83.9,181.2L83.5,182.4M87.3,185.4L86.7,182.3M87.6,183.1L86.7,182.3L86.2,183.4M89.6,185.5L89.0,182.3M89.9,183.2L89.0,182.3L88.5,183.5M93.0,184.2L92.5,181.1M93.3,182.0L92.5,181.1L91.9,182.2M94.4,184.7L94.0,181.6M94.8,182.5L94.0,181.6L93.4,182.6M97.6,185.1L97.2,181.9M98.0,182.8L97.2,181.9L96.6,183.0M100.0,184.4L99.7,181.2M100.5,182.1L99.7,181.2L99.1,182.2M102.1,184.5L101.7,181.3M102.5,182.3L101.7,181.3L101.1,182.4M105.3,185.5L105.2,182.3M105.9,183.3L105.2,182.3L104.5,183.3M6.3,188.3L6.0,185.1M6.8,186.1L6.0,185.1L5.4,186.2M9.1,186.6L7.6,183.8M8.7,184.3L7.6,183.8L7.5,185.0M12.1,187.7L10.5,185.0M11.6,185.5L10.5,185.0L10.4,186.2M15.7,187.4L14.1,184.7M15.2,185.2L14.1,184.7L14.0,185.9M16.7,187.6L15.1,184.8M16.2,185.3L15.1,184.8L15.0,186.1M19.1,188.0L17.4,185.2M18.5,185.7L17.4,185.2L17.3,186.5M22.1,186.7L20.5,184.0M21.6,184.5L20.5,184.0L20.4,185.2M24.3,188.0L22.7,185.3M23.8,185.8L22.7,185.3L22.6,186.5M28.2,186.9L26.6,184.1M27.7,184.6L26.6,184.1L26.5,185.3M30.8,188.1L29.3,185.3M30.4,185.8L29.3,185.3L29.2,186.5M32.1,186.6L30.7,183.8M31.7,184.4L30.7,183.8L30.5,185.0M34.3,187.4L32.9,184.5M34.0,185.1L32.9,184.5L32.7,185.7M36.9,186.9L35.5,184.0M36.6,184.6L35.5,184.0L35.3,185.3M39.5,188.2L38.2,185.3M39.2,185.9L38.2,185.3L38.0,186.5M41.6,188.3L40.3,185.3M41.4,186.0L40.3,185.3L40.1,186.5M44.8,187.9L43.6,185.0M44.6,185.6L43.6,185.0L43.3,186.2M47.5,188.3L46.2,185.4M47.3,186.0L46.2,185.4L46.0,186.6M49.4,187.1L48.1,184.1M49.2,184.8L48.1,184.1L47.9,185.3M52.6,187.5L51.2,184.6M52.3,185.2L51.2,184.6L51.0,185.8M54.7,187.1L53.4,184.2M54.5,184.9L53.4,184.2L53.2,185.4M56.8,187.5L55.5,184.6M56.6,185.2L55.5,184.6L55.3,185.8M60.7,188.1L59.3,185.3M60.4,185.9L59.3,185.3L59.1,186.5M62.5,188.3L61.1,185.5M62.2,186.1L61.1,185.5L60.9,186.7M66.0,187.2L64.6,184.3M65.7,184.9L64.6,184.3L64.4,185.5M66.9,188.1L65.7,185.2M66.7,185.8L65.7,185.2L65.4,186.4M70.9,187.8L69.7,184.8M70.7,185.5L69.7,184.8L69.4,186.0M73.4,187.5L72.3,184.5M73.3,185.2L72.3,184.5L72.0,185.7M75.1,186.8L74.1,183.8M75.1,184.5L74.1,183.8L73.7,184.9M77.3,188.3L76.4,185.3M77.3,186.0L76.4,185.3L76.0,186.4M79.4,186.9L78.4,183.9M79.4,184.6L78.4,183.9L78.0,185.0M81.7,187.6L80.8,184.5M81.8,185.3L80.8,184.5L80.4,185.7M85.1,187.7L84.5,184.5M85.4,185.4L84.5,184.5L84.0,185.6M88.1,187.9L87.6,184.8M88.4,185.7L87.6,184.8L87.0,185.9M90.2,187.8L89.7,184.6M90.5,185.5L89.7,184.6L89.1,185.8M92.5,186.9L91.9,183.7M92.8,184.6L91.9,183.7L91.4,184.8M94.2,187.9L93.8,184.7M94.6,185.6L93.8,184.7L93.2,185.8M96.9,187.5L96.6,184.3M97.4,185.2L96.6,184.3L96.0,185.3M100.2,187.8L99.9,184.6M100.7,185.6L99.9,184.6L99.3,185.7M101.9,187.2L101.7,184.0M102.5,185.0L101.7,184.0L101.1,185.1M104.2,187.9L104.1,184.7M104.8,185.7L104.1,184.7L103.4,185.8M7.1,189.5L6.7,186.3M7.5,187.2L6.7,186.3L6.1,187.4M9.4,189.3L7.8,186.5M8.9,187.0L7.8,186.5L7.7,187.7M12.6,189.6L10.9,186.8M12.0,187.3L10.9,186.8L10.8,188.0M15.5,189.5L13.9,186.7M15.0,187.3L13.9,186.7L13.8,188.0M17.7,190.2L16.0,187.4M17.1,187.9L16.0,187.4L15.9,188.6M20.7,190.3L19.1,187.6M20.2,188.1L19.1,187.6L19.0,188.8M23.2,190.1L21.6,187.3M22.7,187.8L21.6,187.3L21.5,188.5M24.0,189.6L22.5,186.8M23.6,187.4L22.5,186.8L22.3,188.1M27.8,189.7L26.4,186.8M27.5,187.4L26.4,186.8L26.2,188.0M30.2,189.3L28.8,186.4M29.8,187.0L28.8,186.4L28.6,187.6M32.6,189.8L31.3,186.9M32.4,187.5L31.3,186.9L31.1,188.1M35.7,189.2L34.4,186.3M35.4,186.9L34.4,186.3L34.1,187.5M37.1,190.5L35.9,187.5M36.9,188.2L35.9,187.5L35.6,188.7M39.7,190.0L38.5,187.0M39.5,187.7L38.5,187.0L38.2,188.2M42.1,189.3L40.9,186.3M41.9,187.0L40.9,186.3L40.6,187.5M44.5,190.7L43.4,187.7M44.4,188.4L43.4,187.7L43.1,188.9M47.9,189.7L46.7,186.7M47.7,187.4L46.7,186.7L46.4,187.9M50.3,190.6L49.0,187.6M50.1,188.3L49.0,187.6L48.8,188.8M53.0,189.2L51.8,186.3M52.8,186.9L51.8,186.3L51.5,187.5M54.3,190.9L53.2,187.9M54.2,188.6L53.2,187.9L52.9,189.1M57.1,190.5L56.0,187.5M57.0,188.2L56.0,187.5L55.6,188.7M60.3,190.7L59.1,187.7M60.1,188.4L59.1,187.7L58.8,188.9M61.8,190.8L60.6,187.9M61.6,188.5L60.6,187.9L60.3,189.0M65.8,189.6L64.5,186.6M65.6,187.3L64.5,186.6L64.3,187.8M68.0,189.1L66.8,186.2M67.8,186.8L66.8,186.2L66.5,187.4M70.7,189.9L69.6,186.9M70.6,187.6L69.6,186.9L69.3,188.1M72.9,190.6L72.0,187.6M73.0,188.3L72.0,187.6L71.6,188.7M74.2,190.8L73.2,187.7M74.2,188.5L73.2,187.7L72.9,188.9M76.8,189.5L75.9,186.4M76.9,187.1L75.9,186.4L75.5,187.6M80.0,189.6L79.1,186.6M80.0,187.3L79.1,186.6L78.7,187.7M82.7,189.5L82.0,186.4M82.9,187.2L82.0,186.4L81.6,187.6M85.1,190.6L84.6,187.4M85.5,188.3L84.6,187.4L84.1,188.5M88.2,189.9L87.7,186.8M88.6,187.7L87.7,186.8L87.2,187.9M89.5,190.3L89.1,187.1M89.9,188.0L89.1,187.1L88.5,188.2M92.7,190.9L92.3,187.7M93.1,188.6L92.3,187.7L91.7,188.8M95.0,190.0L94.8,186.8M95.5,187.8L94.8,186.8L94.1,187.9M97.0,190.5L96.8,187.4M97.5,188.3L96.8,187.4L96.1,188.4M100.1,189.4L99.9,186.2M100.7,187.1L99.9,186.2L99.3,187.2M102.0,189.5L101.8,186.4M102.6,187.3L101.8,186.4L101.2,187.4M104.8,189.9L104.8,186.7M105.5,187.7L104.8,186.7L104.1,187.7M6.0,192.7L5.8,189.5M6.5,190.5L5.8,189.5L5.1,190.6M10.1,192.1L8.5,189.4M9.6,189.9L8.5,189.4L8.4,190.6M13.0,191.7L11.3,189.0M12.4,189.5L11.3,189.0L11.2,190.2M14.1,192.8L12.4,190.1M13.6,190.5L12.4,190.1L12.4,191.3M17.5,192.9L15.9,190.1M17.0,190.6L15.9,190.1L15.8,191.3M20.7,192.5L19.1,189.7M20.2,190.2L19.1,189.7L19.0,190.9M23.0,192.7L21.4,189.9M22.5,190.5L21.4,189.9L21.3,191.1M24.9,192.5L23.4,189.6M24.5,190.2L23.4,189.6L23.3,190.8M28.2,192.2L26.9,189.3M27.9,189.9L26.9,189.3L26.7,190.5M29.7,192.5L28.4,189.5M29.5,190.2L28.4,189.5L28.2,190.7M32.6,191.7L31.4,188.8M32.4,189.4L31.4,188.8L31.1,190.0M35.1,191.7L33.9,188.7M34.9,189.4L33.9,188.7L33.6,189.9M37.1,192.5L36.0,189.4M37.0,190.1L36.0,189.4L35.7,190.6M39.9,192.7L38.9,189.7M39.9,190.4L38.9,189.7L38.5,190.8M42.5,191.7L41.4,188.7M42.4,189.4L41.4,188.7L41.1,189.9M44.5,193.0L43.5,189.9M44.5,190.7L43.5,189.9L43.2,191.1M47.1,193.2L46.2,190.1M47.2,190.9L46.2,190.1L45.8,191.3M50.0,192.7L48.9,189.7M49.9,190.4L48.9,189.7L48.6,190.9M52.7,193.4L51.7,190.4M52.7,191.1L51.7,190.4L51.3,191.6M54.0,191.9L53.0,188.9M53.9,189.6L53.0,188.9L52.6,190.0M56.7,192.0L55.7,189.0M56.7,189.7L55.7,189.0L55.3,190.2M59.1,193.4L58.0,190.4M59.0,191.1L58.0,190.4L57.7,191.6M61.9,192.5L60.8,189.5M61.8,190.2L60.8,189.5L60.5,190.7M65.7,192.5L64.6,189.5M65.6,190.2L64.6,189.5L64.3,190.7M67.1,192.2L66.0,189.2M67.0,189.9L66.0,189.2L65.7,190.3M69.9,192.2L68.9,189.2M69.8,189.9L68.9,189.2L68.5,190.4M72.4,192.4L71.5,189.4M72.5,190.1L71.5,189.4L71.1,190.5M74.2,193.3L73.4,190.2M74.3,191.0L73.4,190.2L73.0,191.3M78.3,192.7L77.6,189.6M78.5,190.4L77.6,189.6L77.1,190.7M79.2,193.4L78.5,190.2M79.4,191.1L78.5,190.2L78.1,191.3M82.2,192.4L81.5,189.3M82.4,190.1L81.5,189.3L81.1,190.4M84.4,193.4L84.0,190.2M84.8,191.1L84.0,190.2L83.4,191.3M87.7,192.3L87.3,189.1M88.1,190.0L87.3,189.1L86.7,190.2M89.6,192.5L89.2,189.3M90.1,190.2L89.2,189.3L88.7,190.4M92.1,193.0L91.9,189.8M92.6,190.7L91.9,189.8L91.2,190.8M95.6,191.8L95.4,188.6M96.2,189.6L95.4,188.6L94.8,189.7M97.9,193.3L97.8,190.1M98.5,191.1L97.8,190.1L97.1,191.1M99.3,193.5L99.2,190.3M99.9,191.3L99.2,190.3L98.5,191.3M103.0,193.1L102.9,189.9M103.6,190.8L102.9,189.9L102.2,190.9M104.1,192.6L104.1,189.4M104.8,190.3L104.1,189.4L103.4,190.4M7.2,195.2L6.7,192.1M7.6,193.0L6.7,192.1L6.2,193.2M9.0,195.4L7.4,192.6M8.5,193.2L7.4,192.6L7.3,193.9M12.2,194.4L10.6,191.7M11.7,192.2L10.6,191.7L10.5,192.9M14.6,194.2L13.0,191.5M14.1,192.0L13.0,191.5L12.9,192.7M17.1,194.1L15.5,191.3M16.6,191.8L15.5,191.3L15.4,192.5M20.8,194.3L19.2,191.5M20.3,192.0L19.2,191.5L19.1,192.7M22.1,194.6L20.6,191.8M21.7,192.3L20.6,191.8L20.4,193.0M24.8,194.7L23.4,191.8M24.4,192.4L23.4,191.8L23.2,193.0M27.9,194.5L26.8,191.5M27.8,192.2L26.8,191.5L26.5,192.7M30.6,194.9L29.5,191.9M30.5,192.6L29.5,191.9L29.2,193.0M33.1,194.8L32.1,191.7M33.1,192.5L32.1,191.7L31.7,192.9M33.9,195.7L33.0,192.6M34.0,193.4L33.0,192.6L32.6,193.8M36.6,195.5L35.7,192.5M36.6,193.2L35.7,192.5L35.3,193.6M40.4,194.6L39.5,191.5M40.5,192.3L39.5,191.5L39.1,192.7M41.9,195.2L41.0,192.1M42.0,192.9L41.0,192.1L40.6,193.3M45.4,195.7L44.6,192.6M45.5,193.4L44.6,192.6L44.1,193.8M47.2,195.2L46.4,192.1M47.3,192.9L46.4,192.1L46.0,193.3M50.4,194.5L49.4,191.4M50.4,192.1L49.4,191.4L49.0,192.6M53.1,195.7L52.2,192.7M53.2,193.4L52.2,192.7L51.8,193.8M54.3,195.3L53.5,192.2M54.4,193.0L53.5,192.2L53.1,193.4M57.7,195.4L56.9,192.3M57.8,193.1L56.9,192.3L56.5,193.4M59.1,194.3L58.2,191.2M59.1,192.0L58.2,191.2L57.8,192.4M62.0,194.4L60.9,191.3M61.9,192.1L60.9,191.3L60.6,192.5M64.9,195.5L64.0,192.5M64.9,193.2L64.0,192.5L63.6,193.6M67.6,195.8L66.7,192.7M67.6,193.5L66.7,192.7L66.3,193.9M69.9,195.0L69.1,191.9M70.0,192.7L69.1,191.9L68.7,193.1M71.8,195.9L70.9,192.8M71.9,193.6L70.9,192.8L70.5,194.0M75.2,196.0L74.5,192.9M75.4,193.7L74.5,192.9L74.0,194.0M78.2,194.4L77.5,191.2M78.4,192.1L77.5,191.2L77.1,192.4M80.1,195.1L79.5,192.0M80.4,192.8L79.5,192.0L79.0,193.1M82.8,194.3L82.3,191.2M83.2,192.0L82.3,191.2L81.8,192.3M85.1,195.3L84.7,192.2M85.5,193.1L84.7,192.2L84.2,193.2M87.1,194.5L86.7,191.3M87.5,192.2L86.7,191.3L86.2,192.4M90.2,194.3L89.9,191.1M90.7,192.1L89.9,191.1L89.3,192.2M92.0,194.3L91.8,191.1M92.6,192.1L91.8,191.1L91.2,192.1M94.4,194.7L94.3,191.5M95.0,192.5L94.3,191.5L93.6,192.5M97.5,195.5L97.4,192.3M98.1,193.3L97.4,192.3L96.7,193.3M100.2,195.0L100.1,191.8M100.8,192.8L100.1,191.8L99.4,192.8M102.8,195.4L102.7,192.2M103.4,193.2L102.7,192.2L102.0,193.3M104.9,195.7L104.9,192.5M105.6,193.5L104.9,192.5L104.2,193.5M7.9,197.5L6.8,194.5M7.8,195.2L6.8,194.5L6.5,195.7M10.7,197.7L9.0,194.9M10.1,195.4L9.0,194.9L8.9,196.1M12.1,197.4L10.5,194.6M11.6,195.1L10.5,194.6L10.4,195.9M15.1,197.1L13.5,194.3M14.7,194.9L13.5,194.3L13.4,195.6M18.1,197.3L16.6,194.4M17.7,195.0L16.6,194.4L16.4,195.7M20.0,198.1L18.6,195.3M19.7,195.9L18.6,195.3L18.4,196.5M22.9,197.8L21.5,194.9M22.6,195.5L21.5,194.9L21.3,196.1M25.1,198.0L24.0,195.0M25.0,195.7L24.0,195.0L23.7,196.2M27.3,197.5L26.3,194.4M27.3,195.2L26.3,194.4L26.0,195.6M30.4,197.0L29.4,193.9M30.4,194.7L29.4,193.9L29.1,195.1M31.5,197.3L30.6,194.2M31.5,194.9L30.6,194.2L30.2,195.4M34.2,198.4L33.3,195.4M34.3,196.1L33.3,195.4L32.9,196.5M37.2,198.3L36.4,195.2M37.3,196.0L36.4,195.2L36.0,196.3M39.8,197.1L39.0,194.0M39.9,194.8L39.0,194.0L38.5,195.1M42.8,198.3L42.1,195.2M43.0,196.0L42.1,195.2L41.6,196.3M44.0,198.1L43.3,195.0M44.2,195.8L43.3,195.0L42.8,196.1M47.3,197.0L46.6,193.9M47.5,194.7L46.6,193.9L46.1,195.1M49.5,198.0L48.7,194.9M49.6,195.7L48.7,194.9L48.2,196.1M51.7,197.8L50.9,194.7M51.8,195.5L50.9,194.7L50.5,195.9M54.9,197.7L54.0,194.6M55.0,195.4L54.0,194.6L53.6,195.7M56.8,198.2L55.9,195.1M56.8,195.9L55.9,195.1L55.5,196.3M60.0,197.9L59.0,194.9M60.0,195.6L59.0,194.9L58.7,196.0M62.6,197.3L61.7,194.2M62.7,195.0L61.7,194.2L61.3,195.4M65.3,197.4L64.5,194.3M65.4,195.1L64.5,194.3L64.1,195.5M68.1,197.5L67.4,194.4M68.3,195.2L67.4,194.4L66.9,195.6M69.3,197.6L68.6,194.4M69.5,195.2L68.6,194.4L68.1,195.6M72.2,198.4L71.5,195.3M72.4,196.1L71.5,195.3L71.0,196.4M74.5,198.3L73.9,195.2M74.8,196.0L73.9,195.2L73.4,196.3M76.5,197.0L75.9,193.8M76.8,194.7L75.9,193.8L75.4,194.9M79.4,198.1L79.0,194.9M79.9,195.8L79.0,194.9L78.5,196.0M82.5,197.5L82.1,194.3M82.9,195.2L82.1,194.3L81.5,195.4M84.6,198.3L84.3,195.1M85.1,196.0L84.3,195.1L83.7,196.1M86.8,198.2L86.5,195.0M87.3,195.9L86.5,195.0L85.9,196.0M89.6,198.0L89.3,194.8M90.1,195.8L89.3,194.8L88.7,195.9M92.8,197.5L92.8,194.3M93.5,195.3L92.8,194.3L92.1,195.3M94.2,197.2L94.2,194.0M94.9,195.0L94.2,194.0L93.5,195.0M96.8,196.9L96.8,193.7M97.5,194.7L96.8,193.7L96.1,194.7M99.6,197.9L99.6,194.7M100.3,195.7L99.6,194.7L98.9,195.7M102.0,198.5L102.1,195.3M102.8,196.3L102.1,195.3L101.4,196.3M105.6,198.2L105.6,195.0M106.3,196.0L105.6,195.0L104.9,196.0M7.4,199.8L6.6,196.7M7.6,197.5L6.6,196.7L6.2,197.8M10.3,199.1L8.7,196.4M9.8,196.9L8.7,196.4L8.6,197.6M11.5,199.2L9.9,196.4M11.0,196.9L9.9,196.4L9.8,197.6M14.5,200.4L13.0,197.6M14.1,198.1L13.0,197.6L12.8,198.8M16.5,199.8L15.0,196.9M16.1,197.5L15.0,196.9L14.8,198.1M19.9,200.6L18.6,197.7M19.7,198.4L18.6,197.7L18.4,198.9M22.4,199.6L21.1,196.7M22.1,197.3L21.1,196.7L20.9,197.8M24.0,200.1L22.8,197.1M23.8,197.8L22.8,197.1L22.5,198.3M27.7,200.7L26.8,197.6M27.7,198.4L26.8,197.6L26.4,198.8M29.9,199.5L28.9,196.5M29.9,197.2L28.9,196.5L28.6,197.6M31.4,199.3L30.5,196.2M31.4,197.0L30.5,196.2L30.1,197.4M34.3,200.2L33.4,197.1M34.3,197.9L33.4,197.1L33.0,198.2M36.5,200.3L35.7,197.2M36.7,198.0L35.7,197.2L35.3,198.4M39.3,200.7L38.6,197.5M39.5,198.4L38.6,197.5L38.1,198.7M42.2,200.6L41.5,197.5M42.4,198.3L41.5,197.5L41.0,198.6M44.2,200.3L43.5,197.1M44.4,198.0L43.5,197.1L43.1,198.3M47.9,199.3L47.2,196.1M48.1,196.9L47.2,196.1L46.7,197.3M50.5,200.3L49.7,197.2M50.7,198.0L49.7,197.2L49.3,198.3M53.2,199.7L52.3,196.6M53.3,197.4L52.3,196.6L51.9,197.8M54.8,200.4L53.9,197.4M54.9,198.1L53.9,197.4L53.5,198.5M57.6,200.3L56.6,197.3M57.6,198.0L56.6,197.3L56.2,198.4M60.6,199.5L59.6,196.4M60.6,197.2L59.6,196.4L59.2,197.6M62.8,200.0L61.9,196.9M62.9,197.7L61.9,196.9L61.5,198.1M65.5,200.9L64.9,197.8M65.8,198.7L64.9,197.8L64.4,198.9M67.2,199.9L66.6,196.7M67.5,197.6L66.6,196.7L66.1,197.9M70.5,200.9L70.0,197.8M70.8,198.7L70.0,197.8L69.4,198.9M72.8,200.9L72.3,197.7M73.1,198.6L72.3,197.7L71.7,198.8M75.6,200.1L75.1,197.0M76.0,197.8L75.1,197.0L74.6,198.1M77.0,199.4L76.6,196.2M77.5,197.1L76.6,196.2L76.1,197.2M79.6,199.7L79.4,196.5M80.1,197.4L79.4,196.5L78.7,197.5M82.6,200.4L82.4,197.2M83.2,198.1L82.4,197.2L81.8,198.2M85.5,200.5L85.3,197.3M86.1,198.3L85.3,197.3L84.7,198.4M86.8,199.9L86.6,196.7M87.4,197.7L86.6,196.7L86.0,197.8M89.8,200.2L89.6,197.0M90.3,198.0L89.6,197.0L88.9,198.1M92.8,200.4L93.1,197.2M93.7,198.3L93.1,197.2L92.3,198.1M94.3,199.8L94.5,196.6M95.1,197.6L94.5,196.6L93.7,197.5M97.3,199.4L97.5,196.2M98.1,197.3L97.5,196.2L96.7,197.2M99.5,200.9L99.8,197.7M100.4,198.7L99.8,197.7L99.0,198.6M103.0,200.3L103.1,197.1M103.8,198.1L103.1,197.1L102.4,198.1M104.9,199.9L104.9,196.7M105.6,197.7L104.9,196.7L104.2,197.7M6.8,202.6L6.5,199.4M7.3,200.3L6.5,199.4L5.9,200.4M10.0,203.3L8.6,200.5M9.6,201.0L8.6,200.5L8.4,201.7M12.7,201.8L11.3,199.0M12.4,199.6L11.3,199.0L11.1,200.2M14.1,202.9L12.8,200.0M13.9,200.6L12.8,200.0L12.6,201.2M18.1,202.7L16.8,199.8M17.8,200.4L16.8,199.8L16.6,201.0M20.3,202.1L19.1,199.2M20.1,199.8L19.1,199.2L18.8,200.4M21.8,203.4L20.5,200.5M21.6,201.1L20.5,200.5L20.3,201.7M25.3,202.5L24.3,199.5M25.3,200.2L24.3,199.5L24.0,200.6M27.7,202.9L26.8,199.8M27.7,200.6L26.8,199.8L26.4,201.0M30.1,202.8L29.2,199.7M30.2,200.5L29.2,199.7L28.8,200.9M32.5,203.4L31.6,200.3M32.5,201.1L31.6,200.3L31.2,201.5M34.5,203.0L33.7,200.0M34.6,200.7L33.7,200.0L33.3,201.1M37.9,201.8L37.2,198.7M38.1,199.5L37.2,198.7L36.8,199.8M39.2,202.4L38.5,199.3M39.4,200.1L38.5,199.3L38.0,200.4M42.3,202.5L41.6,199.4M42.5,200.2L41.6,199.4L41.1,200.6M45.5,202.1L44.7,199.0M45.6,199.8L44.7,199.0L44.3,200.1M46.8,201.9L46.1,198.8M47.0,199.6L46.1,198.8L45.7,199.9M49.2,202.8L48.4,199.7M49.3,200.5L48.4,199.7L47.9,200.8M51.5,203.4L50.6,200.3M51.6,201.1L50.6,200.3L50.2,201.5M55.4,201.8L54.4,198.8M55.3,199.5L54.4,198.8L54.0,200.0M57.9,201.9L56.9,198.9M57.9,199.6L56.9,198.9L56.6,200.0M60.0,202.1L58.9,199.0M59.9,199.8L58.9,199.0L58.6,200.2M61.9,202.7L60.9,199.6M61.8,200.3L60.9,199.6L60.5,200.8M65.4,201.9L64.9,198.7M65.8,199.6L64.9,198.7L64.4,199.8M66.7,202.6L66.3,199.5M67.1,200.4L66.3,199.5L65.7,200.5M70.5,202.4L70.1,199.2M71.0,200.1L70.1,199.2L69.6,200.3M72.9,202.7L72.5,199.6M73.3,200.5L72.5,199.6L71.9,200.6M74.6,203.1L74.3,200.0M75.1,200.9L74.3,200.0L73.7,201.0M76.6,202.7L76.4,199.5M77.2,200.5L76.4,199.5L75.8,200.6M78.8,202.7L78.7,199.5M79.4,200.5L78.7,199.5L78.0,200.5M83.1,201.9L82.9,198.7M83.7,199.7L82.9,198.7L82.3,199.7M84.0,202.8L83.9,199.6M84.6,200.6L83.9,199.6L83.2,200.6M88.0,202.8L87.9,199.6M88.6,200.6L87.9,199.6L87.2,200.6M90.4,202.3L90.6,199.1M91.2,200.2L90.6,199.1L89.8,200.1M92.9,202.1L93.3,199.0M93.9,200.1L93.3,199.0L92.5,199.9M95.0,202.4L95.4,199.2M96.0,200.3L95.4,199.2L94.6,200.1M97.7,201.8L98.0,198.6M98.6,199.7L98.0,198.6L97.2,199.6M99.2,203.4L99.7,200.3M100.2,201.3L99.7,200.3L98.8,201.1M102.6,202.6L102.9,199.5M103.5,200.5L102.9,199.5L102.1,200.4M104.5,203.5L104.6,200.3M105.3,201.3L104.6,200.3L103.9,201.3M6.0,204.6L5.9,201.4M6.6,202.4L5.9,201.4L5.2,202.5M8.9,205.4L7.6,202.4M8.6,203.1L7.6,202.4L7.4,203.6M12.9,204.4L11.6,201.4M12.7,202.1L11.6,201.4L11.4,202.6M15.2,205.5L13.9,202.6M14.9,203.2L13.9,202.6L13.7,203.8M16.7,205.1L15.4,202.1M16.5,202.8L15.4,202.1L15.2,203.3M19.9,204.3L18.6,201.3M19.6,202.0L18.6,201.3L18.4,202.5M23.0,204.4L21.8,201.4M22.8,202.1L21.8,201.4L21.5,202.6M24.1,205.4L23.0,202.4M24.0,203.1L23.0,202.4L22.6,203.6M27.1,205.6L26.3,202.5M27.2,203.3L26.3,202.5L25.8,203.7M29.9,204.4L29.0,201.3M30.0,202.1L29.0,201.3L28.6,202.5M32.0,206.0L31.2,202.9M32.2,203.7L31.2,202.9L30.8,204.0M34.3,204.6L33.5,201.5M34.4,202.3L33.5,201.5L33.1,202.6M37.8,204.4L37.1,201.3M38.0,202.1L37.1,201.3L36.6,202.4M39.5,206.0L38.7,202.9M39.6,203.7L38.7,202.9L38.3,204.1M42.8,204.5L42.1,201.4M43.0,202.2L42.1,201.4L41.6,202.5M44.0,205.1L43.2,202.0M44.1,202.8L43.2,202.0L42.7,203.1M47.6,205.7L46.7,202.6M47.7,203.4L46.7,202.6L46.3,203.7M49.2,205.0L48.4,201.9M49.3,202.7L48.4,201.9L48.0,203.0M52.2,204.8L51.4,201.7M52.3,202.5L51.4,201.7L50.9,202.8M55.2,205.2L54.2,202.1M55.2,202.9L54.2,202.1L53.9,203.3M57.2,205.6L56.3,202.5M57.3,203.3L56.3,202.5L55.9,203.7M59.5,205.3L58.6,202.2M59.6,203.0L58.6,202.2L58.2,203.4M62.8,204.9L62.2,201.7M63.0,202.6L62.2,201.7L61.7,202.8M63.8,204.3L63.5,201.1M64.3,202.0L63.5,201.1L62.9,202.2M67.6,205.7L67.4,202.5M68.2,203.5L67.4,202.5L66.8,203.6M70.0,204.3L69.8,201.1M70.6,202.1L69.8,201.1L69.2,202.2M71.7,206.0L71.5,202.8M72.3,203.8L71.5,202.8L70.9,203.8M74.7,205.0L74.6,201.9M75.3,202.8L74.6,201.9L73.9,202.9M77.9,206.0L77.9,202.8M78.6,203.8L77.9,202.8L77.2,203.8M79.1,205.6L79.1,202.4M79.8,203.4L79.1,202.4L78.4,203.4M82.7,205.8L82.7,202.6M83.4,203.6L82.7,202.6L82.0,203.6M85.3,205.6L85.4,202.4M86.1,203.5L85.4,202.4L84.7,203.4M86.4,204.8L86.4,201.6M87.1,202.6L86.4,201.6L85.7,202.6M89.1,205.4L89.2,202.2M89.9,203.2L89.2,202.2L88.5,203.2M91.8,206.0L92.7,202.9M93.1,204.0L92.7,202.9L91.8,203.7M93.9,204.5L94.6,201.3M95.1,202.5L94.6,201.3L93.7,202.2M96.1,204.6L96.7,201.5M97.2,202.6L96.7,201.5L95.8,202.3M100.2,205.4L100.8,202.2M101.3,203.3L100.8,202.2L99.9,203.1M101.5,205.3L102.1,202.1M102.6,203.2L102.1,202.1L101.2,203.0M105.0,204.9L105.1,201.7M105.8,202.7L105.1,201.7L104.4,202.7M5.7,208.0L5.5,204.8M6.3,205.8L5.5,204.8L4.9,205.9M9.8,206.8L8.5,203.9M9.6,204.5L8.5,203.9L8.3,205.1M12.2,206.9L10.9,204.0M12.0,204.6L10.9,204.0L10.7,205.2M14.5,208.0L13.3,205.0M14.3,205.7L13.3,205.0L13.0,206.2M17.4,207.3L16.2,204.3M17.2,205.0L16.2,204.3L15.9,205.5M20.2,207.1L19.0,204.1M20.0,204.8L19.0,204.1L18.7,205.3M22.5,207.2L21.3,204.2M22.3,204.9L21.3,204.2L21.0,205.4M24.8,207.7L23.9,204.7M24.9,205.4L23.9,204.7L23.5,205.8M27.2,208.3L26.5,205.1M27.4,206.0L26.5,205.1L26.0,206.3M30.1,208.5L29.4,205.4M30.3,206.2L29.4,205.4L28.9,206.5M31.6,208.5L30.9,205.4M31.8,206.2L30.9,205.4L30.4,206.5M34.9,207.0L34.2,203.9M35.1,204.7L34.2,203.9L33.7,205.0M36.2,207.2L35.5,204.1M36.4,204.9L35.5,204.1L35.0,205.2M39.6,207.9L38.8,204.8M39.7,205.6L38.8,204.8L38.3,205.9M42.9,208.2L42.0,205.2M43.0,205.9L42.0,205.2L41.6,206.3M45.5,208.3L44.6,205.2M45.5,206.0L44.6,205.2L44.2,206.4M48.0,208.5L47.0,205.4M48.0,206.2L47.0,205.4L46.6,206.6M50.2,207.0L49.4,203.9M50.3,204.7L49.4,203.9L49.0,205.1M52.4,207.5L51.6,204.4M52.5,205.2L51.6,204.4L51.2,205.6M55.1,207.2L54.3,204.2M55.2,204.9L54.3,204.2L53.9,205.3M58.1,207.2L57.3,204.1M58.2,204.9L57.3,204.1L56.8,205.3M59.7,207.0L59.0,203.9M59.9,204.7L59.0,203.9L58.5,205.1M63.0,208.4L62.4,205.2M63.3,206.1L62.4,205.2L61.9,206.3M65.4,207.2L65.2,204.0M65.9,204.9L65.2,204.0L64.5,205.0M66.8,208.4L66.6,205.2M67.3,206.2L66.6,205.2L65.9,206.3M70.3,207.0L70.1,203.8M70.9,204.8L70.1,203.8L69.5,204.8M72.1,206.9L71.9,203.7M72.6,204.6L71.9,203.7L71.2,204.7M75.2,208.3L75.1,205.1M75.8,206.1L75.1,205.1L74.4,206.1M77.9,208.2L77.9,205.0M78.6,206.0L77.9,205.0L77.2,206.0M79.4,207.5L79.5,204.3M80.2,205.3L79.5,204.3L78.8,205.3M82.3,207.5L82.5,204.3M83.1,205.4L82.5,204.3L81.7,205.3M85.3,207.6L85.7,204.4M86.2,205.5L85.7,204.4L84.8,205.3M86.9,208.5L87.2,205.3M87.8,206.4L87.2,205.3L86.4,206.3M89.0,207.4L89.4,204.2M90.0,205.3L89.4,204.2L88.6,205.1M90.9,208.3L92.0,205.4M92.3,206.5L92.0,205.4L91.0,206.0M94.1,207.4L95.4,204.5M95.6,205.7L95.4,204.5L94.4,205.1M96.3,206.8L99.5,206.9M98.5,207.5L99.5,206.9L98.6,206.1M99.0,207.0L99.5,203.8M100.0,204.9L99.5,203.8L98.6,204.7M102.6,208.5L103.3,205.3M103.8,206.5L103.3,205.3L102.4,206.2M104.8,208.1L104.9,204.9M105.6,205.9L104.9,204.9L104.2,205.9M5.7,210.2L5.6,207.0M6.3,207.9L5.6,207.0L4.9,208.0M8.9,209.4L7.7,206.4M8.7,207.1L7.7,206.4L7.4,207.6M11.3,210.1L10.1,207.2M11.2,207.8L10.1,207.2L9.9,208.4M14.7,210.0L13.6,207.0M14.6,207.7L13.6,207.0L13.3,208.1M17.5,209.3L16.4,206.3M17.4,207.0L16.4,206.3L16.1,207.5M19.1,209.5L18.1,206.5M19.1,207.2L18.1,206.5L17.8,207.7M22.1,210.7L21.2,207.6M22.1,208.3L21.2,207.6L20.8,208.7M24.0,210.9L23.2,207.8M24.1,208.5L23.2,207.8L22.7,208.9M26.7,209.6L26.1,206.5M26.9,207.3L26.1,206.5L25.6,207.6M29.1,210.6L28.4,207.5M29.3,208.3L28.4,207.5L27.9,208.6M31.1,210.0L30.5,206.9M31.4,207.7L30.5,206.9L30.0,208.0M34.2,210.2L33.5,207.1M34.4,207.9L33.5,207.1L33.0,208.2M36.9,209.4L36.2,206.3M37.1,207.1L36.2,206.3L35.7,207.4M39.2,210.9L38.0,207.9M39.1,208.6L38.0,207.9L37.8,209.1M42.4,210.8L41.4,207.8M42.4,208.5L41.4,207.8L41.0,209.0M45.7,210.3L44.6,207.3M45.6,208.0L44.6,207.3L44.3,208.4M48.1,210.0L47.0,206.9M48.0,207.6L47.0,206.9L46.7,208.1M49.5,210.7L48.5,207.6M49.5,208.4L48.5,207.6L48.1,208.8M51.9,209.7L51.2,206.6M52.1,207.4L51.2,206.6L50.7,207.8M54.7,210.0L54.0,206.9M54.9,207.7L54.0,206.9L53.5,208.0M58.1,210.9L57.4,207.7M58.3,208.6L57.4,207.7L56.9,208.9M60.2,210.9L59.5,207.7M60.4,208.6L59.5,207.7L59.0,208.8M61.8,209.7L61.2,206.6M62.1,207.4L61.2,206.6L60.7,207.7M64.4,210.3L64.0,207.2M64.8,208.1L64.0,207.2L63.4,208.2M66.3,209.5L66.0,206.3M66.8,207.2L66.0,206.3L65.4,207.3M69.2,209.5L69.0,206.3M69.7,207.2L69.0,206.3L68.3,207.3M71.7,209.5L71.5,206.3M72.3,207.2L71.5,206.3L70.9,207.3M74.3,210.1L74.1,206.9M74.9,207.8L74.1,206.9L73.5,207.9M77.1,210.7L77.2,207.5M77.9,208.6L77.2,207.5L76.5,208.5M79.2,210.0L79.2,206.8M79.9,207.8L79.2,206.8L78.5,207.8M82.6,209.3L82.9,206.1M83.5,207.2L82.9,206.1L82.1,207.1M84.4,209.5L84.9,206.3M85.4,207.4L84.9,206.3L84.1,207.2M85.9,210.8L86.7,207.7M87.1,208.9L86.7,207.7L85.7,208.5M89.2,209.9L90.7,207.1M90.9,208.3L90.7,207.1L89.6,207.7M91.2,209.6L94.3,209.2M93.4,210.0L94.3,209.2L93.3,208.6M93.3,208.4L96.5,208.6M95.4,209.2L96.5,208.6L95.5,207.8M94.7,209.2L97.9,209.6M96.9,210.2L97.9,209.6L97.0,208.8M101.7,208.5L98.8,207.3M100.0,207.0L98.8,207.3L99.4,208.3M102.2,209.7L102.2,206.5M102.9,207.5L102.2,206.5L101.5,207.5M105.6,209.8L105.7,206.6M106.3,207.7L105.7,206.6L104.9,207.6M5.9,213.4L5.8,210.2M6.5,211.2L5.8,210.2L5.1,211.2M9.2,211.9L8.1,208.9M9.1,209.6L8.1,208.9L7.8,210.1M11.3,212.0L10.2,209.0M11.2,209.7L10.2,209.0L9.9,210.1M14.4,212.2L13.5,209.1M14.4,209.9L13.5,209.1L13.1,210.3M17.3,213.3L16.5,210.3M17.4,211.0L16.5,210.3L16.1,211.4M18.9,211.8L18.0,208.7M19.0,209.5L18.0,208.7L17.6,209.9M22.5,212.9L21.7,209.8M22.6,210.6L21.7,209.8L21.3,211.0M25.2,212.0L24.4,208.8M25.4,209.7L24.4,208.8L24.0,210.0M27.4,212.3L26.6,209.1M27.6,210.0L26.6,209.1L26.2,210.3M29.0,212.4L28.2,209.3M29.2,210.1L28.2,209.3L27.8,210.5M32.9,213.2L31.8,210.2M32.8,210.9L31.8,210.2L31.5,211.3M35.4,212.1L34.3,209.1M35.3,209.8L34.3,209.1L34.0,210.3M37.3,212.0L36.1,209.0M37.1,209.7L36.1,209.0L35.8,210.2M39.5,213.1L38.0,210.3M39.1,210.9L38.0,210.3L37.9,211.5M41.8,213.3L40.4,210.4M41.4,211.0L40.4,210.4L40.2,211.6M45.7,212.5L44.6,209.5M45.6,210.2L44.6,209.5L44.3,210.7M47.5,213.4L46.5,210.4M47.5,211.1L46.5,210.4L46.1,211.6M50.2,213.1L49.3,210.1M50.2,210.8L49.3,210.1L48.9,211.3M52.7,211.8L51.9,208.7M52.8,209.5L51.9,208.7L51.5,209.9M55.3,213.0L54.5,209.9M55.4,210.7L54.5,209.9L54.1,211.0M57.0,211.8L56.3,208.7M57.2,209.5L56.3,208.7L55.8,209.8M59.5,212.8L58.9,209.6M59.7,210.5L58.9,209.6L58.4,210.7M62.0,212.8L61.4,209.7M62.3,210.5L61.4,209.7L60.9,210.8M64.5,213.0L64.1,209.9M64.9,210.8L64.1,209.9L63.5,210.9M68.0,211.8L67.6,208.6M68.4,209.5L67.6,208.6L67.0,209.7M69.8,213.3L69.7,210.1M70.4,211.0L69.7,210.1L69.0,211.1M71.2,212.6L71.2,209.4M71.9,210.4L71.2,209.4L70.5,210.4M74.8,213.0L75.5,209.9M75.9,211.0L75.5,209.9L74.6,210.7M75.9,212.1L77.8,209.5M77.8,210.7L77.8,209.5L76.7,209.9M78.0,212.5L79.5,209.7M79.7,210.9L79.5,209.7L78.4,210.2M82.5,213.3L82.9,210.1M83.5,211.2L82.9,210.1L82.1,211.0M84.5,212.6L85.5,209.6M85.9,210.7L85.5,209.6L84.5,210.3M86.1,212.2L87.3,209.2M87.6,210.4L87.3,209.2L86.3,209.9M87.9,211.8L90.3,209.7M90.0,210.9L90.3,209.7L89.1,209.9M89.7,211.0L92.9,211.0M91.9,211.7L92.9,211.0L91.9,210.3M93.6,210.6L96.8,210.9M95.8,211.5L96.8,210.9L95.9,210.2M96.3,211.0L99.5,211.4M98.4,212.0L99.5,211.4L98.6,210.6M101.9,212.0L98.7,212.0M99.7,211.3L98.7,212.0L99.7,212.7M103.2,211.0L100.0,210.8M101.0,210.2L100.0,210.8L100.9,211.6M104.3,212.0L104.1,208.8M104.8,209.8L104.1,208.8L103.5,209.9M7.0,214.3L6.8,211.1M7.5,212.1L6.8,211.1L6.2,212.2M9.5,215.9L8.8,212.8M9.7,213.6L8.8,212.8L8.4,213.9M11.8,215.5L11.0,212.4M11.9,213.2L11.0,212.4L10.6,213.5M13.8,215.6L13.0,212.5M13.9,213.3L13.0,212.5L12.6,213.6M18.2,214.9L16.0,212.6M17.2,212.8L16.0,212.6L16.2,213.8M20.3,215.2L19.4,212.2M20.4,212.9L19.4,212.2L19.0,213.3M22.3,214.2L21.3,211.2M22.3,211.9L21.3,211.2L20.9,212.4M25.3,214.8L24.2,211.8M25.2,212.5L24.2,211.8L23.9,213.0M27.7,215.0L26.3,212.2M27.4,212.7L26.3,212.2L26.1,213.4M29.2,215.0L27.9,212.1M28.9,212.7L27.9,212.1L27.7,213.3M33.2,215.3L31.8,212.4M32.8,213.0L31.8,212.4L31.6,213.6M34.3,215.1L32.8,212.2M33.9,212.8L32.8,212.2L32.6,213.5M38.2,214.2L36.7,211.3M37.8,211.9L36.7,211.3L36.6,212.6M39.2,215.5L37.5,212.8M38.7,213.3L37.5,212.8L37.5,214.0M42.7,215.5L41.2,212.6M42.3,213.2L41.2,212.6L41.1,213.8M44.6,215.2L43.4,212.2M44.4,212.9L43.4,212.2L43.1,213.4M46.7,214.4L45.7,211.4M46.7,212.1L45.7,211.4L45.3,212.6M50.1,215.7L48.8,212.7M49.9,213.4L48.8,212.7L48.6,213.9M52.3,214.3L51.5,211.2M52.5,212.0L51.5,211.2L51.1,212.3M54.0,215.6L53.0,212.6M54.0,213.3L53.0,212.6L52.6,213.7M57.1,214.6L56.3,211.5M57.2,212.3L56.3,211.5L55.8,212.7M59.4,215.9L58.6,212.8M59.5,213.6L58.6,212.8L58.2,214.0M62.2,214.5L61.6,211.4M62.5,212.2L61.6,211.4L61.1,212.5M64.1,214.4L63.7,211.2M64.5,212.1L63.7,211.2L63.1,212.3M67.4,215.1L68.2,212.0M68.6,213.1L68.2,212.0L67.3,212.8M69.4,214.4L69.5,211.2M70.1,212.2L69.5,211.2L68.7,212.2M71.2,215.7L72.1,212.6M72.5,213.8L72.1,212.6L71.1,213.4M73.7,214.1L76.7,212.9M76.0,213.9L76.7,212.9L75.5,212.6M75.1,214.7L78.3,214.2M77.4,215.0L78.3,214.2L77.2,213.6M77.7,213.4L80.9,212.9M80.0,213.8L80.9,212.9L79.8,212.4M80.2,212.6L82.7,214.6M81.5,214.5L82.7,214.6L82.4,213.4M84.3,212.3L86.2,214.9M85.0,214.5L86.2,214.9L86.2,213.7M86.3,212.5L89.1,214.0M87.9,214.2L89.1,214.0L88.6,212.9M88.4,212.7L91.6,213.3M90.5,213.8L91.6,213.3L90.7,212.4M90.5,213.1L93.7,213.4M92.6,214.0L93.7,213.4L92.8,212.6M92.8,213.9L96.0,214.2M94.9,214.8L96.0,214.2L95.0,213.4M95.1,213.4L98.3,213.8M97.3,214.4L98.3,213.8L97.4,213.0M101.1,214.3L97.9,214.3M98.9,213.6L97.9,214.3L98.9,215.0M103.4,213.3L100.2,213.4M101.2,212.6L100.2,213.4L101.2,214.0M105.5,211.7L104.9,214.8M104.4,213.7L104.9,214.8L105.7,214.0M7.0,218.6L6.8,215.4M7.6,216.3L6.8,215.4L6.2,216.4M8.8,217.8L8.7,214.6M9.5,215.6L8.7,214.6L8.1,215.6M10.5,218.2L10.8,215.0M11.4,216.1L10.8,215.0L10.0,216.0M14.7,217.7L13.0,214.9M14.1,215.4L13.0,214.9L12.9,216.2M17.5,217.0L14.6,215.8M15.7,215.5L14.6,215.8L15.2,216.8M20.5,217.8L17.7,216.2M18.9,216.1L17.7,216.2L18.2,217.3M23.2,217.7L21.7,214.8M22.8,215.4L21.7,214.8L21.5,216.0M24.3,217.1L22.8,214.3M23.9,214.9L22.8,214.3L22.7,215.5M27.6,218.0L25.8,215.3M27.0,215.8L25.8,215.3L25.8,216.5M31.2,217.7L28.6,215.9M29.8,215.9L28.6,215.9L29.0,217.0M33.1,217.3L31.3,214.7M32.5,215.1L31.3,214.7L31.3,215.9M35.2,217.0L33.5,214.3M34.6,214.8L33.5,214.3L33.4,215.6M37.8,217.2L35.9,214.6M37.1,215.0L35.9,214.6L35.9,215.8M40.2,216.6L38.5,213.9M39.6,214.4L38.5,213.9L38.4,215.1M41.9,217.7L40.2,215.0M41.3,215.5L40.2,215.0L40.1,216.3M44.8,217.1L43.5,214.1M44.6,214.8L43.5,214.1L43.3,215.3M48.4,216.6L46.9,213.8M48.0,214.4L46.9,213.8L46.8,215.0M51.7,216.7L48.5,216.7M49.5,216.0L48.5,216.7L49.5,217.4M52.6,216.9L49.4,216.7M50.4,216.0L49.4,216.7L50.3,217.4M55.5,217.0L54.0,214.2M55.1,214.7L54.0,214.2L53.9,215.4M58.8,217.0L55.7,216.7M56.7,216.1L55.7,216.7L56.6,217.5M59.2,217.2L58.1,214.2M59.1,214.9L58.1,214.2L57.8,215.4M61.1,215.2L61.5,218.4M60.7,217.5L61.5,218.4L62.1,217.3M64.1,217.0L63.5,213.8M64.4,214.7L63.5,213.8L63.0,214.9M65.6,215.2L66.9,218.2M65.9,217.5L66.9,218.2L67.1,217.0M67.8,215.9L70.2,218.0M69.0,217.9L70.2,218.0L69.9,216.8M70.5,214.6L71.9,217.5M70.8,216.9L71.9,217.5L72.1,216.3M72.5,214.7L75.3,216.4M74.0,216.4L75.3,216.4L74.8,215.2M74.9,216.0L78.1,216.4M77.0,217.0L78.1,216.4L77.2,215.6M77.5,215.9L80.7,215.7M79.7,216.5L80.7,215.7L79.6,215.1M82.1,214.8L83.4,217.8M82.4,217.1L83.4,217.8L83.7,216.6M83.1,214.2L84.4,217.1M83.4,216.5L84.4,217.1L84.6,215.9M86.6,214.4L88.1,217.2M87.0,216.6L88.1,217.2L88.3,216.0M88.0,214.1L89.9,216.6M88.8,216.3L89.9,216.6L89.9,215.4M91.1,215.0L92.8,217.7M91.7,217.2L92.8,217.7L92.8,216.5M93.1,215.5L96.3,215.8M95.2,216.4L96.3,215.8L95.3,215.0M95.0,215.6L98.2,215.9M97.1,216.5L98.2,215.9L97.3,215.1M102.0,215.3L98.8,215.4M99.8,214.7L98.8,215.4L99.9,216.1M102.9,214.6L100.1,216.1M100.6,215.0L100.1,216.1L101.3,216.3M104.9,213.6L104.9,216.8M104.2,215.9L104.9,216.8L105.6,215.8M6.2,219.9L6.1,216.7M6.8,217.6L6.1,216.7L5.4,217.7M8.5,220.0L9.3,216.9M9.7,218.1L9.3,216.9L8.3,217.7M12.5,219.8L11.9,216.7M12.7,217.5L11.9,216.7L11.4,217.8M14.4,220.4L12.5,217.8M13.7,218.2L12.5,217.8L12.5,219.0M17.6,218.5L14.6,217.4M15.8,217.1L14.6,217.4L15.3,218.4M19.7,220.0L16.7,218.9M17.9,218.6L16.7,218.9L17.4,219.9M23.1,219.9L20.8,217.7M22.0,217.9L20.8,217.7L21.0,218.9M24.4,220.5L22.4,217.9M23.6,218.3L22.4,217.9L22.5,219.2M26.9,220.2L24.9,217.7M26.0,218.0L24.9,217.7L25.0,218.9M31.3,218.1L28.2,219.0M29.0,218.0L28.2,219.0L29.4,219.4M32.7,219.0L29.6,220.0M30.4,219.0L29.6,220.0L30.8,220.3M34.9,218.7L31.9,217.7M33.1,217.3L31.9,217.7L32.6,218.7M38.3,219.7L35.6,218.0M36.8,217.9L35.6,218.0L36.1,219.1M39.9,219.2L37.5,217.2M38.7,217.3L37.5,217.2L37.8,218.4M42.8,220.5L40.4,218.4M41.6,218.5L40.4,218.4L40.7,219.6M45.8,219.4L44.6,216.4M45.6,217.1L44.6,216.4L44.3,217.6M49.0,218.2L45.9,218.7M46.8,217.8L45.9,218.7L47.0,219.2M50.5,218.2L47.3,218.7M48.2,217.9L47.3,218.7L48.4,219.3M52.6,218.7L49.5,219.4M50.3,218.5L49.5,219.4L50.6,219.8M55.7,216.9L53.8,219.4M53.8,218.2L53.8,219.4L54.9,219.1M56.4,217.5L55.7,220.6M55.2,219.5L55.7,220.6L56.6,219.8M60.1,216.4L60.4,219.5M59.7,218.6L60.4,219.5L61.0,218.5M62.6,217.1L63.0,220.3M62.2,219.4L63.0,220.3L63.6,219.2M63.7,217.5L64.2,220.7M63.4,219.8L64.2,220.7L64.8,219.6M67.1,216.8L67.9,219.9M66.9,219.1L67.9,219.9L68.3,218.7M69.1,216.6L70.1,219.6M69.2,218.9L70.1,219.6L70.5,218.4M71.6,216.6L72.8,219.6M71.8,218.9L72.8,219.6L73.1,218.4M73.9,217.6L74.7,220.7M73.8,219.9L74.7,220.7L75.1,219.5M77.1,217.4L78.1,220.4M77.1,219.7L78.1,220.4L78.5,219.2M79.9,217.6L80.8,220.6M79.8,219.9L80.8,220.6L81.2,219.5M81.8,217.4L82.8,220.4M81.8,219.7L82.8,220.4L83.2,219.3M83.4,216.3L84.6,219.3M83.5,218.6L84.6,219.3L84.8,218.1M86.2,217.6L87.2,220.6M86.2,219.9L87.2,220.6L87.6,219.4M90.0,216.6L91.1,219.6M90.1,218.9L91.1,219.6L91.4,218.4M92.8,217.6L93.3,220.8M92.5,219.9L93.3,220.8L93.9,219.7M93.6,217.2L94.6,220.2M93.6,219.5L94.6,220.2L95.0,219.0M96.4,217.5L97.2,220.6M96.3,219.8L97.2,220.6L97.6,219.5M99.5,216.8L99.5,220.0M98.8,219.0L99.5,220.0L100.2,219.0M102.2,216.7L102.6,219.8M101.8,218.9L102.6,219.8L103.2,218.7M105.3,217.2L105.4,220.4M104.6,219.4L105.4,220.4L106.0,219.4M5.6,222.8L5.8,219.6M6.4,220.7L5.8,219.6L5.0,220.6M8.3,223.4L9.5,220.4M9.8,221.6L9.5,220.4L8.5,221.1M12.7,221.9L12.0,218.8M12.9,219.6L12.0,218.8L11.5,219.9M16.0,221.9L13.1,220.7M14.3,220.5L13.1,220.7L13.7,221.7M18.1,221.0L15.1,219.9M16.3,219.5L15.1,219.9L15.8,220.9M21.4,221.8L18.3,221.0M19.4,220.5L18.3,221.0L19.1,221.9M23.4,221.7L20.3,222.2M21.2,221.3L20.3,222.2L21.4,222.7M25.0,221.5L22.0,220.4M23.1,220.0L22.0,220.4L22.7,221.4M27.0,221.8L24.6,219.6M25.9,219.8L24.6,219.6L24.9,220.8M31.6,220.4L28.6,221.4M29.3,220.4L28.6,221.4L29.7,221.8M33.8,221.2L30.8,222.3M31.5,221.3L30.8,222.3L32.0,222.6M35.8,221.2L32.8,222.2M33.5,221.2L32.8,222.2L34.0,222.6M37.8,219.9L34.7,220.8M35.5,219.8L34.7,220.8L35.8,221.2M40.3,219.9L37.2,220.9M37.9,219.9L37.2,220.9L38.4,221.2M42.0,219.0L40.1,221.6M40.1,220.4L40.1,221.6L41.3,221.2M43.8,218.8L43.3,222.0M42.7,220.9L43.3,222.0L44.1,221.1M47.1,219.2L46.7,222.3M46.1,221.3L46.7,222.3L47.5,221.4M51.5,220.4L49.0,222.3M49.3,221.2L49.0,222.3L50.2,222.3M52.7,219.9L52.6,223.1M51.9,222.1L52.6,223.1L53.3,222.2M55.1,220.3L55.1,223.5M54.4,222.5L55.1,223.5L55.8,222.5M56.7,219.0L56.7,222.2M56.0,221.2L56.7,222.2L57.4,221.3M58.5,220.4L58.8,223.5M58.0,222.6L58.8,223.5L59.4,222.5M61.3,220.4L61.7,223.6M60.9,222.7L61.7,223.6L62.3,222.5M64.6,220.1L65.2,223.3M64.3,222.4L65.2,223.3L65.7,222.1M65.9,220.3L66.5,223.4M65.6,222.6L66.5,223.4L67.0,222.3M68.5,220.1L69.1,223.2M68.2,222.4L69.1,223.2L69.6,222.1M70.8,220.4L71.6,223.5M70.6,222.7L71.6,223.5L72.0,222.4M73.4,218.9L74.2,222.1M73.2,221.3L74.2,222.1L74.6,220.9M76.6,219.0L77.4,222.1M76.5,221.3L77.4,222.1L77.8,220.9M78.5,219.3L79.3,222.4M78.4,221.6L79.3,222.4L79.7,221.3M80.9,219.7L81.7,222.8M80.8,222.0L81.7,222.8L82.1,221.7M84.6,219.6L85.5,222.7M84.5,221.9L85.5,222.7L85.9,221.5M86.9,219.1L87.6,222.2M86.7,221.4L87.6,222.2L88.1,221.1M89.4,219.8L89.9,222.9M89.0,222.0L89.9,222.9L90.4,221.8M92.7,219.6L93.2,222.7M92.4,221.9L93.2,222.7L93.8,221.6M95.3,219.4L95.8,222.5M95.0,221.6L95.8,222.5L96.4,221.4M97.2,219.9L97.7,223.1M96.8,222.2L97.7,223.1L98.2,222.0M98.8,220.1L99.3,223.3M98.5,222.4L99.3,223.3L99.8,222.2M102.6,218.8L103.1,222.0M102.3,221.1L103.1,222.0L103.7,220.9M105.1,219.4L105.1,222.6M104.4,221.6L105.1,222.6L105.8,221.5M5.8,224.7L6.0,221.5M6.7,222.6L6.0,221.5L5.3,222.5M7.6,223.0L9.2,225.8M8.1,225.3L9.2,225.8L9.3,224.6M13.3,225.1L11.0,222.9M12.2,223.1L11.0,222.9L11.2,224.1M15.1,223.7L11.9,224.4M12.8,223.5L11.9,224.4L13.0,224.8M17.7,223.3L14.6,224.0M15.4,223.1L14.6,224.0L15.7,224.5M19.5,223.4L16.9,225.3M17.3,224.1L16.9,225.3L18.2,225.3M22.6,223.0L20.1,224.9M20.4,223.8L20.1,224.9L21.3,224.9M24.6,221.9L22.3,224.2M22.5,223.0L22.3,224.2L23.5,224.0M28.1,222.7L26.1,225.2M26.2,224.0L26.1,225.2L27.3,224.9M30.6,222.4L28.2,224.5M28.5,223.3L28.2,224.5L29.4,224.3M33.5,223.8L30.4,224.9M31.1,223.9L30.4,224.9L31.6,225.2M36.0,223.0L33.7,225.3M33.9,224.1L33.7,225.3L34.9,225.1M37.4,222.1L36.0,225.0M35.8,223.8L36.0,225.0L37.0,224.4M40.6,221.7L39.4,224.7M39.1,223.5L39.4,224.7L40.4,224.0M42.2,221.6L41.4,224.7M41.0,223.5L41.4,224.7L42.4,223.9M44.4,221.6L44.0,224.7M43.5,223.7L44.0,224.7L44.8,223.8M47.5,222.7L47.5,225.9M46.8,224.9L47.5,225.9L48.2,225.0M49.1,222.5L49.1,225.7M48.4,224.7L49.1,225.7L49.8,224.7M52.3,222.7L52.5,225.9M51.7,224.9L52.5,225.9L53.1,224.9M54.7,221.5L54.9,224.7M54.2,223.8L54.9,224.7L55.6,223.7M57.0,221.6L57.3,224.8M56.5,223.9L57.3,224.8L57.9,223.7M59.2,221.2L59.6,224.4M58.8,223.5L59.6,224.4L60.2,223.3M60.8,222.8L61.3,225.9M60.5,225.1L61.3,225.9L61.9,224.8M64.1,222.0L64.7,225.2M63.8,224.3L64.7,225.2L65.2,224.1M66.9,221.2L67.5,224.3M66.7,223.5L67.5,224.3L68.0,223.2M69.5,222.5L70.1,225.6M69.2,224.7L70.1,225.6L70.6,224.5M70.9,222.6L71.6,225.7M70.7,224.9L71.6,225.7L72.1,224.6M74.2,222.1L75.0,225.2M74.0,224.4L75.0,225.2L75.4,224.1M76.3,221.3L77.1,224.4M76.2,223.6L77.1,224.4L77.6,223.2M78.7,221.5L79.5,224.6M78.5,223.8L79.5,224.6L79.9,223.5M82.2,222.3L83.1,225.4M82.1,224.6L83.1,225.4L83.5,224.2M85.0,221.5L85.9,224.6M84.9,223.8L85.9,224.6L86.3,223.4M87.3,222.4L88.0,225.5M87.1,224.7L88.0,225.5L88.5,224.4M89.3,222.4L89.9,225.6M89.0,224.7L89.9,225.6L90.4,224.5M91.3,222.5L91.9,225.6M91.0,224.8L91.9,225.6L92.4,224.5M94.0,222.1L94.6,225.3M93.7,224.4L94.6,225.3L95.1,224.1M97.3,221.5L97.8,224.7M97.0,223.8L97.8,224.7L98.3,223.6M100.3,221.4L100.9,224.5M100.0,223.7L100.9,224.5L101.4,223.4M102.7,222.9L103.3,226.0M102.4,225.2L103.3,226.0L103.8,224.9M105.3,221.9L105.4,225.1M104.7,224.1L105.4,225.1L106.1,224.1M6.9,224.8L7.2,228.0M6.4,227.0L7.2,228.0L7.8,226.9M9.6,224.9L10.2,228.0M9.3,227.2L10.2,228.0L10.7,226.9M10.6,224.6L11.2,227.8M10.3,226.9L11.2,227.8L11.7,226.7M13.9,224.7L12.7,227.7M12.4,226.5L12.7,227.7L13.7,227.0M17.2,225.1L14.6,227.1M15.0,225.9L14.6,227.1L15.8,227.0M20.9,224.3L18.4,226.2M18.7,225.1L18.4,226.2L19.6,226.2M22.6,224.3L20.1,226.4M20.4,225.2L20.1,226.4L21.4,226.3M24.6,224.5L23.0,227.3M22.9,226.1L23.0,227.3L24.1,226.8M26.7,224.5L24.9,227.1M24.9,225.9L24.9,227.1L26.0,226.7M30.4,224.7L28.6,227.4M28.6,226.2L28.6,227.4L29.8,226.9M31.7,224.5L30.3,227.4M30.1,226.2L30.3,227.4L31.4,226.8M34.5,224.4L32.2,226.6M32.4,225.4L32.2,226.6L33.4,226.4M37.1,224.0L36.1,227.0M35.8,225.9L36.1,227.0L37.1,226.3M39.8,223.9L38.9,227.0M38.5,225.8L38.9,227.0L39.9,226.2M42.3,225.1L42.2,228.3M41.6,227.3L42.2,228.3L43.0,227.3M44.9,225.0L44.9,228.2M44.2,227.2L44.9,228.2L45.6,227.2M47.0,225.2L47.0,228.4M46.3,227.4L47.0,228.4L47.7,227.4M48.6,223.7L48.7,226.9M48.0,225.9L48.7,226.9L49.4,225.9M51.5,225.4L51.6,228.6M50.9,227.6L51.6,228.6L52.3,227.6M54.2,224.6L54.5,227.8M53.7,226.9L54.5,227.8L55.1,226.8M56.2,224.6L56.7,227.8M55.9,226.9L56.7,227.8L57.3,226.7M59.6,224.7L60.2,227.8M59.3,227.0L60.2,227.8L60.7,226.7M60.8,224.3L61.4,227.4M60.5,226.6L61.4,227.4L61.9,226.3M64.0,223.9L64.6,227.0M63.7,226.2L64.6,227.0L65.1,225.9M65.8,224.9L66.5,228.1M65.6,227.2L66.5,228.1L67.0,226.9M68.3,224.2L69.0,227.3M68.1,226.5L69.0,227.3L69.4,226.2M71.8,225.1L72.6,228.2M71.7,227.4L72.6,228.2L73.1,227.0M73.7,223.8L74.6,226.9M73.6,226.1L74.6,226.9L75.0,225.8M77.4,224.9L78.3,228.0M77.3,227.2L78.3,228.0L78.7,226.8M79.6,224.9L80.6,228.0M79.6,227.2L80.6,228.0L80.9,226.8M82.0,223.8L83.0,226.9M82.0,226.1L83.0,226.9L83.3,225.7M83.4,225.3L84.5,228.3M83.5,227.6L84.5,228.3L84.8,227.2M86.3,224.8L87.3,227.9M86.3,227.1L87.3,227.9L87.6,226.7M89.7,224.6L90.4,227.7M89.5,226.9L90.4,227.7L90.9,226.6M91.1,224.7L91.7,227.8M90.8,227.0L91.7,227.8L92.2,226.7M94.3,224.2L95.0,227.3M94.1,226.5L95.0,227.3L95.5,226.2M96.8,224.7L97.5,227.8M96.6,227.0L97.5,227.8L98.0,226.7M98.6,224.3L99.3,227.5M98.4,226.6L99.3,227.5L99.7,226.4M101.4,224.6L102.1,227.7M101.2,226.9L102.1,227.7L102.6,226.6M104.0,224.4L104.4,227.6M103.6,226.7L104.4,227.6L105.0,226.5M6.4,226.4L6.4,229.6M5.7,228.6L6.4,229.6L7.1,228.6M8.6,227.2L8.5,230.4M7.8,229.3L8.5,230.4L9.2,229.4M11.9,227.8L11.6,231.0M11.0,229.9L11.6,231.0L12.4,230.0M14.9,227.3L13.6,230.2M13.4,229.0L13.6,230.2L14.7,229.6M18.7,228.5L16.2,230.5M16.5,229.3L16.2,230.5L17.4,230.4M20.4,227.6L17.9,229.6M18.2,228.4L17.9,229.6L19.1,229.5M23.0,226.9L21.8,229.9M21.5,228.7L21.8,229.9L22.8,229.2M25.5,226.6L24.0,229.5M23.8,228.3L24.0,229.5L25.1,228.9M26.8,226.8L25.3,229.7M25.2,228.4L25.3,229.7L26.4,229.1M29.8,226.9L28.6,229.9M28.3,228.7L28.6,229.9L29.6,229.2M31.5,226.3L30.8,229.5M30.4,228.3L30.8,229.5L31.7,228.6M33.8,227.8L33.1,230.9M32.6,229.8L33.1,230.9L34.0,230.1M37.6,227.6L36.9,230.7M36.5,229.6L36.9,230.7L37.8,229.9M39.8,227.2L39.2,230.3M38.7,229.2L39.2,230.3L40.1,229.5M41.7,227.4L41.7,230.6M41.0,229.6L41.7,230.6L42.4,229.6M44.1,227.7L44.3,230.9M43.5,229.9L44.3,230.9L44.9,229.9M46.3,227.0L46.4,230.2M45.7,229.2L46.4,230.2L47.1,229.1M49.8,227.2L49.9,230.4M49.2,229.4L49.9,230.4L50.6,229.3M52.2,227.5L52.4,230.7M51.7,229.7L52.4,230.7L53.1,229.6M54.0,226.9L54.3,230.1M53.5,229.1L54.3,230.1L54.9,229.0M55.8,226.9L56.4,230.0M55.5,229.1L56.4,230.0L56.9,228.9M59.9,226.3L60.6,229.4M59.7,228.6L60.6,229.4L61.0,228.3M62.4,227.7L63.1,230.8M62.2,230.0L63.1,230.8L63.5,229.7M64.6,226.5L65.3,229.6M64.4,228.8L65.3,229.6L65.8,228.5M67.2,227.9L68.0,231.0M67.1,230.2L68.0,231.0L68.4,229.9M68.8,226.4L69.6,229.5M68.6,228.7L69.6,229.5L70.0,228.4M71.0,226.7L71.8,229.7M70.9,229.0L71.8,229.7L72.3,228.6M73.6,226.3L74.6,229.4M73.6,228.6L74.6,229.4L75.0,228.2M76.1,226.9L77.1,229.9M76.1,229.2L77.1,229.9L77.4,228.7M79.5,228.0L80.6,231.0M79.6,230.3L80.6,231.0L80.9,229.8M80.7,227.9L81.8,230.9M80.8,230.2L81.8,230.9L82.1,229.7M84.8,228.0L85.9,231.0M84.9,230.3L85.9,231.0L86.2,229.8M86.7,226.9L87.6,229.9M86.7,229.2L87.6,229.9L88.0,228.8M88.8,226.7L89.5,229.8M88.6,229.0L89.5,229.8L90.0,228.7M91.4,226.6L92.1,229.8M91.2,228.9L92.1,229.8L92.6,228.6M94.2,226.3L94.9,229.4M94.0,228.6L94.9,229.4L95.4,228.3M96.2,227.0L97.0,230.1M96.0,229.3L97.0,230.1L97.4,228.9M98.5,227.7L99.3,230.8M98.4,230.0L99.3,230.8L99.7,229.6M102.2,226.6L103.1,229.7M102.2,228.9L103.1,229.7L103.5,228.6M105.2,227.9L105.3,231.1M104.6,230.1L105.3,231.1L106.0,230.1M7.2,229.2L6.8,232.3M6.3,231.3L6.8,232.3L7.6,231.4M9.6,230.0L8.8,233.1M8.4,231.9L8.8,233.1L9.7,232.3M12.5,229.4L11.8,232.5M11.3,231.4L11.8,232.5L12.7,231.7M14.0,229.4L13.2,232.5M12.8,231.4L13.2,232.5L14.2,231.7M16.3,230.3L15.2,233.3M14.9,232.1L15.2,233.3L16.2,232.6M20.4,229.9L18.5,232.5M18.5,231.3L18.5,232.5L19.6,232.1M22.2,230.4L21.3,233.5M20.9,232.3L21.3,233.5L22.2,232.7M23.8,230.3L22.8,233.4M22.5,232.2L22.8,233.4L23.8,232.7M26.9,229.7L25.7,232.6M25.4,231.4L25.7,232.6L26.7,232.0M29.4,229.3L28.7,232.4M28.3,231.2L28.7,232.4L29.6,231.6M31.8,229.7L31.2,232.8M30.7,231.7L31.2,232.8L32.0,232.0M34.2,229.1L33.6,232.2M33.1,231.1L33.6,232.2L34.4,231.4M36.2,229.3L35.5,232.4M35.0,231.3L35.5,232.4L36.4,231.6M39.5,228.7L39.1,231.9M38.5,230.8L39.1,231.9L39.9,231.0M41.0,230.2L41.0,233.4M40.3,232.4L41.0,233.4L41.7,232.4M43.3,228.8L43.5,232.0M42.8,231.0L43.5,232.0L44.2,231.0M46.4,229.9L46.7,233.0M45.9,232.1L46.7,233.0L47.3,232.0M49.5,229.6L49.8,232.8M49.0,231.9L49.8,232.8L50.4,231.8M51.6,229.3L51.8,232.5M51.1,231.6L51.8,232.5L52.5,231.5M53.4,229.9L53.7,233.1M52.9,232.2L53.7,233.1L54.3,232.1M57.2,230.5L57.9,233.6M57.0,232.8L57.9,233.6L58.4,232.4M58.7,229.5L59.4,232.6M58.5,231.8L59.4,232.6L59.8,231.5M61.1,230.0L61.9,233.1M61.0,232.3L61.9,233.1L62.3,231.9M64.5,229.0L65.3,232.1M64.3,231.3L65.3,232.1L65.7,231.0M66.1,230.3L66.9,233.4M65.9,232.6L66.9,233.4L67.3,232.3M69.3,229.0L70.1,232.1M69.2,231.3L70.1,232.1L70.5,231.0M71.3,229.5L72.3,232.5M71.3,231.8L72.3,232.5L72.6,231.4M74.4,230.2L75.5,233.2M74.5,232.5L75.5,233.2L75.8,232.0M77.1,228.9L78.2,232.0M77.2,231.3L78.2,232.0L78.5,230.8M78.3,229.9L79.4,232.9M78.4,232.2L79.4,232.9L79.7,231.7M81.9,228.9L83.0,231.9M82.0,231.2L83.0,231.9L83.3,230.7M84.1,230.2L85.3,233.2M84.2,232.5L85.3,233.2L85.5,232.0M87.1,230.3L88.1,233.3M87.1,232.6L88.1,233.3L88.5,232.1M89.3,229.5L90.2,232.6M89.2,231.8L90.2,232.6L90.6,231.4M92.0,230.0L92.9,233.0M91.9,232.3L92.9,233.0L93.3,231.9M93.8,230.0L94.7,233.1M93.8,232.4L94.7,233.1L95.1,231.9M96.5,230.5L97.5,233.5M96.5,232.8L97.5,233.5L97.8,232.4M98.8,230.1L99.8,233.1M98.9,232.4L99.8,233.1L100.2,232.0M102.4,230.1L103.5,233.1M102.5,232.4L103.5,233.1L103.8,232.0M105.0,230.2L105.2,233.4M104.4,232.5L105.2,233.4L105.8,232.4M5.8,231.8L5.6,235.0M5.0,234.0L5.6,235.0L6.4,234.0M10.3,232.1L9.4,235.2M9.0,234.0L9.4,235.2L10.4,234.5M11.7,231.6L10.8,234.7M10.4,233.6L10.8,234.7L11.8,234.0M14.1,231.2L13.3,234.3M12.9,233.2L13.3,234.3L14.2,233.5M17.5,231.3L16.4,234.3M16.1,233.1L16.4,234.3L17.4,233.6M20.0,231.3L19.1,234.3M18.7,233.2L19.1,234.3L20.0,233.6M21.3,232.0L20.6,235.1M20.2,234.0L20.6,235.1L21.5,234.3M23.8,231.3L23.0,234.4M22.6,233.2L23.0,234.4L23.9,233.6M27.8,232.9L27.2,236.0M26.7,234.9L27.2,236.0L28.1,235.2M29.8,232.5L29.2,235.6M28.7,234.5L29.2,235.6L30.0,234.7M31.4,231.2L30.7,234.4M30.3,233.3L30.7,234.4L31.6,233.5M34.1,232.1L33.4,235.2M33.0,234.1L33.4,235.2L34.3,234.4M37.5,232.0L36.9,235.1M36.4,234.0L36.9,235.1L37.8,234.3M39.2,231.3L38.9,234.5M38.3,233.4L38.9,234.5L39.7,233.5M41.1,231.9L41.3,235.1M40.5,234.1L41.3,235.1L41.9,234.0M43.7,231.9L44.1,235.1M43.3,234.2L44.1,235.1L44.6,234.0M46.9,231.6L47.2,234.8M46.4,233.9L47.2,234.8L47.8,233.7M50.0,232.1L50.4,235.3M49.5,234.4L50.4,235.3L50.9,234.2M52.5,232.0L52.9,235.2M52.1,234.3L52.9,235.2L53.5,234.1M54.3,232.9L54.8,236.1M53.9,235.2L54.8,236.1L55.3,235.0M56.3,232.5L57.1,235.6M56.1,234.8L57.1,235.6L57.5,234.4M59.5,231.6L60.3,234.7M59.4,233.9L60.3,234.7L60.8,233.6M61.3,231.8L62.1,234.9M61.2,234.2L62.1,234.9L62.6,233.8M63.4,231.7L64.2,234.8M63.3,234.0L64.2,234.8L64.6,233.7M66.1,232.6L67.1,235.7M66.1,234.9L67.1,235.7L67.5,234.5M69.9,231.2L70.8,234.3M69.9,233.5L70.8,234.3L71.2,233.1M71.7,232.4L72.8,235.4M71.8,234.7L72.8,235.4L73.2,234.2M73.6,232.7L74.7,235.7M73.7,235.0L74.7,235.7L75.0,234.5M76.3,231.4L77.5,234.4M76.5,233.7L77.5,234.4L77.8,233.2M78.2,232.5L79.4,235.4M78.4,234.8L79.4,235.4L79.7,234.3M82.3,232.3L83.6,235.2M82.6,234.6L83.6,235.2L83.8,234.0M84.8,231.7L86.1,234.6M85.1,234.0L86.1,234.6L86.3,233.4M86.0,232.8L87.3,235.7M86.3,235.1L87.3,235.7L87.5,234.5M88.9,232.4L89.9,235.5M88.9,234.8L89.9,235.5L90.2,234.3M91.9,232.0L92.9,235.0M91.9,234.3L92.9,235.0L93.2,233.8M94.6,232.4L95.6,235.5M94.6,234.8L95.6,235.5L96.0,234.3M97.5,232.8L98.7,235.8M97.7,235.2L98.7,235.8L99.0,234.6M99.6,231.9L100.7,234.9M99.7,234.2L100.7,234.9L101.0,233.7M101.9,231.7L103.1,234.7M102.1,234.0L103.1,234.7L103.4,233.5M105.5,232.3L105.7,235.5M104.9,234.6L105.7,235.5L106.3,234.5M6.0,235.1L5.8,238.3M5.2,237.3L5.8,238.3L6.6,237.3M10.1,235.5L8.9,238.5M8.6,237.3L8.9,238.5L9.9,237.8M12.9,234.6L11.9,237.6M11.6,236.5L11.9,237.6L12.9,236.9M13.9,234.0L12.9,237.0M12.6,235.9L12.9,237.0L13.9,236.3M16.2,234.0L15.2,237.0M14.9,235.9L15.2,237.0L16.2,236.3M19.9,233.7L19.2,236.8M18.7,235.7L19.2,236.8L20.1,236.0M21.9,234.9L21.2,238.0M20.7,236.9L21.2,238.0L22.1,237.2M23.9,234.8L23.2,237.9M22.8,236.8L23.2,237.9L24.1,237.1M27.3,234.7L26.6,237.8M26.1,236.7L26.6,237.8L27.5,237.0M28.7,234.8L28.0,237.9M27.5,236.8L28.0,237.9L28.9,237.1M31.3,233.7L30.7,236.9M30.2,235.8L30.7,236.9L31.6,236.0M35.2,235.2L34.6,238.3M34.1,237.2L34.6,238.3L35.4,237.5M37.8,233.8L37.3,237.0M36.7,235.9L37.3,237.0L38.1,236.1M39.0,234.0L38.8,237.2M38.2,236.1L38.8,237.2L39.6,236.2M41.3,233.9L41.7,237.1M40.9,236.2L41.7,237.1L42.2,236.0M44.2,235.1L44.6,238.3M43.8,237.4L44.6,238.3L45.2,237.2M47.4,235.1L47.9,238.3M47.1,237.4L47.9,238.3L48.4,237.2M49.1,234.3L49.5,237.5M48.7,236.6L49.5,237.5L50.1,236.4M51.3,234.8L51.8,237.9M51.0,237.1L51.8,237.9L52.3,236.9M54.4,234.3L55.0,237.5M54.1,236.6L55.0,237.5L55.5,236.3M56.7,234.0L57.5,237.0M56.6,236.3L57.5,237.0L58.0,235.9M58.2,235.1L59.1,238.2M58.1,237.4L59.1,238.2L59.5,237.1M60.9,235.3L61.9,238.3M60.9,237.6L61.9,238.3L62.2,237.2M64.8,234.1L65.8,237.1M64.8,236.4L65.8,237.1L66.1,236.0M66.0,234.8L67.1,237.8M66.1,237.1L67.1,237.8L67.5,236.6M68.6,233.8L69.7,236.9M68.7,236.2L69.7,236.9L70.0,235.7M71.5,234.0L72.7,237.0M71.7,236.3L72.7,237.0L73.0,235.8M74.0,234.1L75.3,237.1M74.2,236.4L75.3,237.1L75.5,235.9M76.7,235.2L78.0,238.2M76.9,237.5L78.0,238.2L78.2,237.0M78.3,235.5L79.6,238.4M78.6,237.8L79.6,238.4L79.8,237.2M81.8,235.0L83.2,237.9M82.1,237.3L83.2,237.9L83.4,236.7M84.2,234.3L85.6,237.2M84.5,236.6L85.6,237.2L85.8,236.0M85.7,235.0L87.1,237.9M86.0,237.3L87.1,237.9L87.3,236.7M88.8,235.4L90.2,238.3M89.1,237.7L90.2,238.3L90.4,237.1M91.0,235.1L92.4,238.0M91.3,237.4L92.4,238.0L92.6,236.8M94.5,235.1L95.8,238.0M94.7,237.4L95.8,238.0L96.0,236.8M96.8,234.3L98.1,237.2M97.0,236.6L98.1,237.2L98.3,236.0M99.9,234.3L101.2,237.2M100.2,236.6L101.2,237.2L101.5,236.0M101.2,235.4L102.6,238.2M101.5,237.6L102.6,238.2L102.8,237.0M105.5,234.4L105.7,237.6M104.9,236.7L105.7,237.6L106.3,236.6M5.7,237.2L5.6,240.4M4.9,239.3L5.6,240.4L6.3,239.4M10.3,238.0L9.1,240.9M8.8,239.8L9.1,240.9L10.1,240.3M11.7,237.7L10.6,240.7M10.3,239.5L10.6,240.7L11.6,240.0M15.1,237.8L14.0,240.8M13.7,239.6L14.0,240.8L15.0,240.1M17.7,237.4L16.6,240.4M16.3,239.3L16.6,240.4L17.6,239.7M19.5,237.0L18.5,240.0M18.2,238.8L18.5,240.0L19.5,239.3M22.3,236.6L21.6,239.7M21.1,238.6L21.6,239.7L22.5,238.9M24.7,236.4L23.9,239.5M23.5,238.3L23.9,239.5L24.8,238.7M26.6,236.2L25.9,239.4M25.5,238.2L25.9,239.4L26.8,238.5M28.8,236.3L28.1,239.5M27.6,238.3L28.1,239.5L29.0,238.6M31.3,236.5L30.6,239.6M30.1,238.5L30.6,239.6L31.5,238.8M34.0,237.8L33.2,240.9M32.8,239.7L33.2,240.9L34.1,240.1M37.1,236.3L36.5,239.4M36.0,238.3L36.5,239.4L37.4,238.6M38.8,237.6L38.5,240.8M37.9,239.7L38.5,240.8L39.3,239.9M41.8,236.7L42.3,239.9M41.4,239.0L42.3,239.9L42.8,238.8M43.2,236.8L43.7,240.0M42.8,239.1L43.7,240.0L44.2,238.9M46.3,236.7L46.8,239.8M45.9,239.0L46.8,239.8L47.3,238.7M49.9,237.7L50.4,240.8M49.6,239.9L50.4,240.8L51.0,239.7M52.1,237.2L52.6,240.4M51.8,239.5L52.6,240.4L53.1,239.3M54.6,237.8L55.4,240.9M54.5,240.1L55.4,240.9L55.8,239.7M56.5,237.0L57.6,240.0M56.6,239.3L57.6,240.0L57.9,238.8M58.5,237.2L59.5,240.2M58.6,239.5L59.5,240.2L59.9,239.1M60.9,236.6L62.0,239.6M61.0,238.9L62.0,239.6L62.3,238.4M64.5,236.5L65.6,239.5M64.6,238.8L65.6,239.5L65.9,238.3M66.0,237.9L67.3,240.8M66.2,240.2L67.3,240.8L67.5,239.6M69.2,237.4L70.5,240.3M69.5,239.7L70.5,240.3L70.8,239.1M70.6,236.4L71.9,239.4M70.9,238.7L71.9,239.4L72.1,238.2M73.1,236.6L74.4,239.5M73.4,238.9L74.4,239.5L74.7,238.3M75.8,236.5L77.2,239.4M76.1,238.8L77.2,239.4L77.4,238.2M78.1,238.0L79.6,240.9M78.5,240.3L79.6,240.9L79.7,239.7M82.2,237.5L83.7,240.4M82.6,239.8L83.7,240.4L83.8,239.2M84.3,236.9L85.8,239.7M84.7,239.2L85.8,239.7L85.9,238.5M86.3,237.0L87.8,239.8M86.7,239.3L87.8,239.8L87.9,238.6M89.2,236.7L90.7,239.6M89.6,239.0L90.7,239.6L90.9,238.4M91.1,236.6L92.5,239.4M91.5,238.8L92.5,239.4L92.7,238.2M94.3,238.0L95.7,240.9M94.6,240.3L95.7,240.9L95.9,239.7M96.8,236.6L98.2,239.4M97.1,238.8L98.2,239.4L98.4,238.2M98.5,237.4L100.0,240.3M98.9,239.7L100.0,240.3L100.2,239.1M101.6,237.0L103.1,239.8M102.0,239.3L103.1,239.8L103.3,238.6M103.4,236.4L104.4,239.5M103.4,238.8L104.4,239.5L104.8,238.3M6.1,239.7L5.9,242.9M5.3,241.9L5.9,242.9L6.7,242.0M10.0,240.2L8.9,243.2M8.6,242.0L8.9,243.2L9.9,242.5M12.7,239.2L11.5,242.1M11.2,241.0L11.5,242.1L12.5,241.5M15.2,239.1L14.1,242.1M13.8,240.9L14.1,242.1L15.1,241.4M16.7,239.2L15.6,242.2M15.3,241.0L15.6,242.2L16.6,241.5M19.2,239.5L18.2,242.5M17.8,241.3L18.2,242.5L19.2,241.8M22.4,239.0L21.5,242.1M21.1,240.9L21.5,242.1L22.5,241.3M24.1,239.8L23.2,242.9M22.8,241.7L23.2,242.9L24.1,242.1M27.0,240.5L26.1,243.6M25.7,242.4L26.1,243.6L27.0,242.8M28.8,238.9L28.0,242.0M27.5,240.8L28.0,242.0L28.9,241.2M32.1,239.0L31.3,242.1M30.8,240.9L31.3,242.1L32.2,241.3M35.0,239.5L34.3,242.6M33.8,241.5L34.3,242.6L35.2,241.8M37.1,239.8L36.4,242.9M36.0,241.8L36.4,242.9L37.3,242.1M39.5,239.5L39.7,242.7M38.9,241.7L39.7,242.7L40.3,241.7M41.1,239.9L41.6,243.0M40.8,242.2L41.6,243.0L42.2,241.9M43.4,239.3L43.9,242.4M43.0,241.5L43.9,242.4L44.4,241.3M46.8,239.3L47.3,242.5M46.4,241.6L47.3,242.5L47.8,241.4M49.5,240.0L50.0,243.2M49.1,242.3L50.0,243.2L50.5,242.1M52.0,239.8L52.6,242.9M51.7,242.0L52.6,242.9L53.1,241.8M53.7,239.5L54.4,242.6M53.5,241.8L54.4,242.6L54.9,241.5M56.6,240.4L57.8,243.4M56.8,242.7L57.8,243.4L58.1,242.2M59.4,240.0L60.7,242.9M59.6,242.3L60.7,242.9L60.9,241.7M61.7,238.8L63.0,241.8M61.9,241.1L63.0,241.8L63.2,240.6M63.6,240.5L65.0,243.4M63.9,242.8L65.0,243.4L65.2,242.2M66.7,240.1L68.1,242.9M67.0,242.4L68.1,242.9L68.3,241.7M69.5,239.4L70.9,242.3M69.8,241.7L70.9,242.3L71.1,241.1M70.5,240.0L71.9,242.9M70.8,242.3L71.9,242.9L72.1,241.7M73.7,239.5L75.1,242.4M74.1,241.8L75.1,242.4L75.3,241.2M75.6,239.2L77.1,242.1M76.0,241.5L77.1,242.1L77.2,240.8M79.3,240.5L80.8,243.4M79.7,242.8L80.8,243.4L81.0,242.2M80.6,239.9L82.0,242.7M80.9,242.2L82.0,242.7L82.2,241.5M83.5,240.0L85.0,242.8M83.9,242.2L85.0,242.8L85.1,241.6M85.9,240.5L87.4,243.3M86.3,242.8L87.4,243.3L87.5,242.1M88.7,240.0L90.2,242.8M89.1,242.3L90.2,242.8L90.3,241.6M91.3,240.1L92.8,242.9M91.7,242.4L92.8,242.9L93.0,241.7M94.3,239.4L95.8,242.2M94.7,241.7L95.8,242.2L95.9,241.0M95.6,238.8L97.1,241.7M96.0,241.1L97.1,241.7L97.3,240.5M98.6,240.2L100.1,243.0M99.0,242.5L100.1,243.0L100.3,241.8M101.6,239.7L103.1,242.5M102.0,242.0L103.1,242.5L103.2,241.3M103.5,239.3L104.5,242.3M103.5,241.6L104.5,242.3L104.8,241.2M6.6,242.4L6.5,245.6M5.8,244.6L6.5,245.6L7.2,244.7M10.0,241.9L8.9,244.9M8.6,243.7L8.9,244.9L9.9,244.2M12.5,241.3L11.4,244.3M11.1,243.1L11.4,244.3L12.4,243.6M14.5,242.4L13.4,245.4M13.1,244.3L13.4,245.4L14.4,244.8M17.8,243.0L16.6,246.0M16.3,244.8L16.6,246.0L17.6,245.3M20.0,242.5L19.0,245.5M18.6,244.4L19.0,245.5L20.0,244.8M22.0,242.1L21.0,245.1M20.7,244.0L21.0,245.1L22.0,244.4M24.3,242.9L23.4,245.9M23.0,244.8L23.4,245.9L24.3,245.2M26.9,241.7L26.0,244.7M25.6,243.6L26.0,244.7L26.9,244.0M30.2,242.1L29.3,245.2M28.9,244.0L29.3,245.2L30.3,244.4M32.0,242.9L31.1,246.0M30.7,244.8L31.1,246.0L32.1,245.2M33.9,241.4L33.0,244.5M32.6,243.3L33.0,244.5L34.0,243.7M37.2,241.3L36.5,244.4M36.0,243.2L36.5,244.4L37.4,243.6M39.9,242.9L40.1,246.1M39.3,245.1L40.1,246.1L40.7,245.0M41.1,242.7L41.7,245.9M40.8,245.0L41.7,245.9L42.2,244.8M44.0,242.2L44.5,245.3M43.6,244.5L44.5,245.3L45.0,244.2M46.4,242.8L47.0,246.0M46.1,245.1L47.0,246.0L47.5,244.8M48.7,242.8L49.3,246.0M48.5,245.1L49.3,246.0L49.8,244.9M51.3,241.6L51.9,244.8M51.0,243.9L51.9,244.8L52.4,243.7M54.8,241.4L55.8,244.4M54.8,243.7L55.8,244.4L56.1,243.3M55.7,242.4L56.9,245.3M55.8,244.7L56.9,245.3L57.1,244.1M59.5,242.9L60.9,245.7M59.9,245.1L60.9,245.7L61.1,244.5M61.7,241.3L63.0,244.2M62.0,243.6L63.0,244.2L63.2,243.0M63.0,242.8L64.4,245.6M63.3,245.0L64.4,245.6L64.6,244.4M66.7,243.1L68.3,245.9M67.2,245.4L68.3,245.9L68.4,244.7M68.5,242.4L70.0,245.1M68.9,244.6L70.0,245.1L70.2,243.9M70.9,241.5L72.4,244.3M71.3,243.8L72.4,244.3L72.5,243.1M74.1,242.6L75.7,245.4M74.6,244.9L75.7,245.4L75.8,244.2M75.5,242.4L77.1,245.2M76.0,244.7L77.1,245.2L77.2,243.9M79.4,242.7L81.0,245.5M79.9,245.0L81.0,245.5L81.1,244.3M81.0,241.4L82.5,244.2M81.4,243.6L82.5,244.2L82.7,243.0M83.4,241.6L84.9,244.4M83.8,243.9L84.9,244.4L85.1,243.2M86.2,242.2L87.7,245.0M86.6,244.5L87.7,245.0L87.8,243.8M88.9,241.6L90.4,244.4M89.3,243.9L90.4,244.4L90.5,243.2M91.1,241.8L92.7,244.6M91.6,244.0L92.7,244.6L92.8,243.4M94.6,242.8L96.1,245.6M95.0,245.1L96.1,245.6L96.3,244.4M97.3,242.1L98.8,244.9M97.7,244.3L98.8,244.9L98.9,243.7M99.6,241.7L101.1,244.5M100.0,244.0L101.1,244.5L101.2,243.3M101.3,242.0L102.8,244.9M101.7,244.3L102.8,244.9L102.9,243.7M104.2,241.5L104.7,244.7M103.8,243.8L104.7,244.7L105.2,243.6M7.6,244.5L6.9,247.6M6.4,246.5L6.9,247.6L7.8,246.8M10.0,244.2L8.8,247.1M8.5,246.0L8.8,247.1L9.8,246.5M12.5,245.0L11.3,248.0M11.0,246.8L11.3,248.0L12.3,247.3M15.4,244.3L14.2,247.2M13.9,246.1L14.2,247.2L15.2,246.6M17.9,245.3L16.8,248.3M16.5,247.1L16.8,248.3L17.8,247.6M19.0,244.5L18.0,247.5M17.6,246.3L18.0,247.5L19.0,246.8M21.9,245.5L20.9,248.6M20.6,247.4L20.9,248.6L21.9,247.8M24.9,244.0L24.0,247.1M23.6,245.9L24.0,247.1L25.0,246.3M27.1,245.1L26.2,248.2M25.8,247.0L26.2,248.2L27.1,247.4M28.9,245.1L27.9,248.1M27.5,247.0L27.9,248.1L28.9,247.4M32.5,245.1L31.6,248.2M31.2,247.0L31.6,248.2L32.5,247.4M34.1,245.4L33.1,248.5M32.8,247.3L33.1,248.5L34.1,247.7M37.0,244.9L36.1,248.0M35.7,246.9L36.1,248.0L37.1,247.2M38.9,243.7L38.7,246.9M38.1,245.9L38.7,246.9L39.5,246.0M40.7,244.7L41.3,247.9M40.4,247.0L41.3,247.9L41.8,246.8M44.7,244.9L45.4,248.0M44.5,247.2L45.4,248.0L45.8,246.9M45.7,243.7L46.3,246.9M45.4,246.0L46.3,246.9L46.8,245.8M49.8,244.5L50.6,247.6M49.7,246.8L50.6,247.6L51.0,246.4M52.1,245.1L53.1,248.1M52.1,247.4L53.1,248.1L53.4,247.0M54.3,245.3L55.3,248.3M54.3,247.6L55.3,248.3L55.7,247.1M56.1,244.3L57.3,247.3M56.3,246.6L57.3,247.3L57.6,246.1M57.9,245.6L59.4,248.5M58.3,247.9L59.4,248.5L59.5,247.2M60.5,245.4L62.0,248.2M60.9,247.7L62.0,248.2L62.1,247.0M62.9,245.0L64.5,247.8M63.4,247.2L64.5,247.8L64.6,246.5M66.9,244.9L68.5,247.7M67.4,247.2L68.5,247.7L68.6,246.5M68.9,244.8L70.5,247.6M69.4,247.1L70.5,247.6L70.6,246.4M70.5,245.6L72.1,248.4M71.0,247.9L72.1,248.4L72.2,247.1M74.1,245.6L75.7,248.3M74.6,247.8L75.7,248.3L75.8,247.1M76.9,244.3L78.6,247.0M77.4,246.6L78.6,247.0L78.6,245.8M79.2,244.9L80.9,247.6M79.8,247.1L80.9,247.6L81.0,246.4M80.8,244.9L82.4,247.7M81.3,247.2L82.4,247.7L82.5,246.5M84.7,243.9L86.3,246.7M85.2,246.2L86.3,246.7L86.4,245.5M86.7,244.6L88.2,247.4M87.1,246.9L88.2,247.4L88.4,246.2M88.9,245.1L90.5,247.9M89.4,247.4L90.5,247.9L90.6,246.7M90.9,244.0L92.5,246.7M91.3,246.2L92.5,246.7L92.6,245.5M93.3,244.6L94.9,247.3M93.8,246.8L94.9,247.3L95.0,246.1M96.8,244.7L98.3,247.5M97.2,247.0L98.3,247.5L98.4,246.3M99.5,244.3L101.0,247.2M99.9,246.6L101.0,247.2L101.2,246.0M100.8,244.9L102.3,247.7M101.2,247.2L102.3,247.7L102.5,246.5M105.1,244.5L105.3,247.7M104.5,246.8L105.3,247.7L105.9,246.7M5.8,247.0L5.6,250.2M5.0,249.1L5.6,250.2L6.4,249.2M9.9,246.9L8.8,249.9M8.5,248.7L8.8,249.9L9.8,249.2M12.7,246.7L11.6,249.7M11.3,248.5L11.6,249.7L12.6,249.0M14.9,247.0L13.8,250.0M13.5,248.8L13.8,250.0L14.8,249.3M16.4,246.7L15.3,249.7M15.0,248.6L15.3,249.7L16.3,249.0M19.0,247.2L17.9,250.3M17.6,249.1L17.9,250.3L18.9,249.6M22.7,247.6L21.8,250.6M21.4,249.5L21.8,250.6L22.7,249.9M24.9,246.3L23.9,249.4M23.5,248.2L23.9,249.4L24.9,248.6M27.3,247.6L26.4,250.7M26.0,249.5L26.4,250.7L27.4,249.9M29.3,247.1L28.4,250.1M28.0,249.0L28.4,250.1L29.3,249.4M32.1,247.1L31.1,250.2M30.8,249.0L31.1,250.2L32.1,249.4M34.0,247.2L33.0,250.2M32.6,249.1L33.0,250.2L34.0,249.5M36.5,247.2L36.2,250.3M35.6,249.3L36.2,250.3L37.0,249.4M37.9,246.8L39.1,249.8M38.1,249.1L39.1,249.8L39.4,248.6M40.6,247.6L41.6,250.7M40.6,249.9L41.6,250.7L41.9,249.5M44.6,247.5L45.6,250.6M44.6,249.9L45.6,250.6L45.9,249.4M46.1,247.0L47.1,250.1M46.2,249.3L47.1,250.1L47.5,248.9M49.0,246.6L50.1,249.6M49.1,248.9L50.1,249.6L50.4,248.5M50.3,247.9L51.7,250.8M50.6,250.1L51.7,250.8L51.9,249.6M53.6,247.6L55.1,250.5M54.0,249.9L55.1,250.5L55.2,249.3M56.1,246.8L57.5,249.7M56.5,249.1L57.5,249.7L57.7,248.5M57.8,247.5L59.4,250.3M58.3,249.7L59.4,250.3L59.5,249.0M61.2,246.4L62.8,249.2M61.7,248.7L62.8,249.2L62.9,248.0M63.0,248.1L64.6,250.8M63.5,250.3L64.6,250.8L64.7,249.6M66.6,246.8L68.2,249.5M67.1,249.0L68.2,249.5L68.3,248.3M68.5,247.6L70.1,250.3M69.0,249.8L70.1,250.3L70.2,249.1M71.8,246.6L73.5,249.4M72.4,248.9L73.5,249.4L73.6,248.1M74.0,247.4L75.7,250.2M74.6,249.7L75.7,250.2L75.7,248.9M76.6,246.6L78.3,249.3M77.2,248.8L78.3,249.3L78.4,248.1M78.5,247.6L80.2,250.3M79.1,249.8L80.2,250.3L80.3,249.1M80.9,247.4L82.5,250.1M81.4,249.6L82.5,250.1L82.6,248.9M83.7,247.4L85.3,250.1M84.2,249.6L85.3,250.1L85.4,248.9M86.9,247.8L88.6,250.5M87.5,250.0L88.6,250.5L88.7,249.3M88.1,247.6L89.8,250.3M88.7,249.9L89.8,250.3L89.9,249.1M90.5,247.0L92.3,249.7M91.1,249.2L92.3,249.7L92.3,248.5M94.2,247.8L96.0,250.5M94.9,250.1L96.0,250.5L96.0,249.3M97.4,246.8L98.9,249.7M97.8,249.1L98.9,249.7L99.0,248.5M99.1,247.5L100.5,250.4M99.5,249.8L100.5,250.4L100.7,249.1M102.1,247.9L103.5,250.8M102.4,250.2L103.5,250.8L103.7,249.6M104.3,246.5L104.7,249.6M103.9,248.7L104.7,249.6L105.2,248.6M6.1,250.0L6.0,253.2M5.3,252.2L6.0,253.2L6.7,252.3M8.8,249.2L7.7,252.2M7.4,251.0L7.7,252.2L8.7,251.5M12.7,250.5L11.6,253.5M11.3,252.3L11.6,253.5L12.6,252.8M14.5,250.2L13.4,253.2M13.1,252.0L13.4,253.2L14.4,252.5M16.9,249.3L15.8,252.3M15.5,251.1L15.8,252.3L16.8,251.6M19.8,249.0L18.7,252.0M18.4,250.8L18.7,252.0L19.7,251.3M22.1,249.9L21.1,253.0M20.7,251.8L21.1,253.0L22.0,252.3M25.5,250.3L24.5,253.4M24.1,252.2L24.5,253.4L25.4,252.7M26.6,249.5L25.7,252.6M25.3,251.4L25.7,252.6L26.6,251.8M28.9,248.8L27.9,251.9M27.5,250.7L27.9,251.9L28.9,251.2M33.1,249.1L32.1,252.1M31.7,251.0L32.1,252.1L33.1,251.4M34.3,250.0L33.6,253.1M33.1,252.0L33.6,253.1L34.5,252.3M35.7,249.5L36.8,252.5M35.8,251.8L36.8,252.5L37.1,251.4M37.8,250.3L39.4,253.1M38.3,252.6L39.4,253.1L39.5,251.9M40.9,249.1L42.1,252.0M41.1,251.4L42.1,252.0L42.4,250.9M43.3,249.8L44.6,252.8M43.5,252.1L44.6,252.8L44.8,251.6M46.1,249.3L47.4,252.3M46.3,251.6L47.4,252.3L47.6,251.1M48.3,249.5L49.7,252.3M48.6,251.7L49.7,252.3L49.9,251.1M51.0,249.5L52.6,252.3M51.5,251.8L52.6,252.3L52.7,251.1M53.9,249.5L55.6,252.2M54.4,251.8L55.6,252.2L55.6,251.0M55.4,249.0L57.0,251.8M55.9,251.3L57.0,251.8L57.1,250.6M58.3,250.7L60.0,253.4M58.9,252.9L60.0,253.4L60.1,252.2M61.0,249.6L62.7,252.3M61.5,251.9L62.7,252.3L62.7,251.1M62.8,249.8L64.5,252.5M63.4,252.0L64.5,252.5L64.5,251.3M65.3,249.3L67.0,252.1M65.9,251.6L67.0,252.1L67.0,250.8M68.1,249.5L69.8,252.2M68.7,251.8L69.8,252.2L69.9,251.0M70.6,249.2L72.2,252.0M71.1,251.5L72.2,252.0L72.3,250.8M72.8,249.8L74.5,252.5M73.4,252.0L74.5,252.5L74.6,251.3M75.8,250.4L77.5,253.1M76.4,252.6L77.5,253.1L77.6,251.9M79.3,249.7L80.9,252.5M79.8,252.0L80.9,252.5L81.0,251.2M82.0,249.5L83.7,252.2M82.6,251.7L83.7,252.2L83.7,251.0M83.0,250.5L84.7,253.2M83.6,252.7L84.7,253.2L84.8,251.9M87.1,249.0L88.9,251.7M87.7,251.2L88.9,251.7L88.9,250.5M88.6,249.0L90.4,251.6M89.2,251.2L90.4,251.6L90.4,250.4M91.6,250.4L93.4,253.1M92.2,252.6L93.4,253.1L93.4,251.8M93.1,250.3L94.9,252.9M93.7,252.5L94.9,252.9L94.9,251.7M96.4,249.2L98.1,251.9M97.0,251.4L98.1,251.9L98.2,250.7M98.5,249.3L100.1,252.1M99.0,251.5L100.1,252.1L100.2,250.9M101.0,249.8L102.5,252.7M101.4,252.1L102.5,252.7L102.6,251.4M103.6,250.4L104.4,253.5M103.5,252.7L104.4,253.5L104.8,252.3M6.3,251.9L6.2,255.1M5.5,254.1L6.2,255.1L6.9,254.1M9.9,251.4L8.9,254.4M8.6,253.3L8.9,254.4L9.9,253.7M11.5,252.5L10.6,255.5M10.2,254.4L10.6,255.5L11.5,254.8M14.9,252.1L13.8,255.2M13.5,254.0L13.8,255.2L14.8,254.4M17.5,252.4L16.4,255.4M16.1,254.2L16.4,255.4L17.4,254.7M20.0,252.8L19.0,255.8M18.6,254.6L19.0,255.8L19.9,255.1M22.5,252.8L21.5,255.8M21.2,254.7L21.5,255.8L22.5,255.1M24.5,252.7L23.5,255.8M23.2,254.6L23.5,255.8L24.5,255.0M27.6,251.3L26.6,254.3M26.2,253.2L26.6,254.3L27.6,253.6M29.7,252.9L28.7,255.9M28.4,254.8L28.7,255.9L29.7,255.2M32.1,251.9L31.1,255.0M30.8,253.8L31.1,255.0L32.1,254.2M33.5,252.7L34.5,255.8M33.5,255.0L34.5,255.8L34.8,254.6M35.7,251.8L37.3,254.5M36.2,254.0L37.3,254.5L37.4,253.3M38.8,253.2L40.4,255.9M39.3,255.4L40.4,255.9L40.5,254.7M41.2,251.4L42.8,254.2M41.7,253.7L42.8,254.2L42.9,253.0M42.9,251.9L44.3,254.8M43.2,254.2L44.3,254.8L44.5,253.6M46.4,253.0L48.1,255.8M47.0,255.3L48.1,255.8L48.2,254.6M49.0,251.6L50.7,254.3M49.5,253.9L50.7,254.3L50.7,253.1M51.3,252.9L53.1,255.5M52.0,255.1L53.1,255.5L53.1,254.3M53.4,251.9L55.2,254.5M54.1,254.1L55.2,254.5L55.2,253.3M56.1,252.2L57.8,254.9M56.7,254.5L57.8,254.9L57.9,253.7M58.3,251.5L60.0,254.2M58.9,253.7L60.0,254.2L60.1,252.9M60.7,252.8L62.4,255.5M61.3,255.0L62.4,255.5L62.4,254.2M63.3,252.6L65.0,255.3M63.9,254.8L65.0,255.3L65.1,254.1M66.0,251.8L67.7,254.6M66.5,254.0L67.7,254.6L67.8,253.3M69.1,253.1L70.8,255.8M69.6,255.3L70.8,255.8L70.9,254.6M71.6,252.7L73.3,255.5M72.1,255.0L73.3,255.5L73.3,254.3M73.5,253.0L75.2,255.7M74.1,255.2L75.2,255.7L75.3,254.5M77.1,252.5L78.8,255.2M77.7,254.7L78.8,255.2L78.9,254.0M79.1,251.6L80.9,254.3M79.7,253.9L80.9,254.3L80.9,253.1M80.4,252.7L82.2,255.3M81.1,254.9L82.2,255.3L82.2,254.1M83.5,252.0L85.3,254.6M84.1,254.2L85.3,254.6L85.3,253.4M86.4,251.5L88.3,254.2M87.1,253.7L88.3,254.2L88.3,252.9M88.9,252.7L90.7,255.4M89.6,254.9L90.7,255.4L90.7,254.1M91.7,251.5L93.5,254.1M92.4,253.7L93.5,254.1L93.5,252.9M93.1,252.9L94.8,255.6M93.7,255.1L94.8,255.6L94.9,254.3M97.1,253.0L98.8,255.7M97.6,255.3L98.8,255.7L98.8,254.5M99.0,252.0L100.6,254.8M99.5,254.2L100.6,254.8L100.7,253.5M102.1,252.0L103.6,254.9M102.5,254.3L103.6,254.9L103.8,253.6M105.5,252.1L105.7,255.3M104.9,254.3L105.7,255.3L106.3,254.2M5.7,253.7L5.6,256.9M4.9,255.9L5.6,256.9L6.3,256.0M10.1,254.3L9.4,257.4M8.9,256.3L9.4,257.4L10.3,256.6M11.4,253.8L10.6,257.0M10.2,255.8L10.6,257.0L11.5,256.2M14.1,255.4L13.4,258.5M12.9,257.4L13.4,258.5L14.3,257.7M16.1,255.2L15.3,258.3M14.9,257.1L15.3,258.3L16.2,257.5M19.3,255.1L18.5,258.2M18.1,257.1L18.5,258.2L19.4,257.4M22.7,255.4L21.8,258.5M21.4,257.3L21.8,258.5L22.8,257.7M24.0,255.0L23.1,258.1M22.7,256.9L23.1,258.1L24.1,257.3M26.5,254.1L25.5,257.2M25.2,256.0L25.5,257.2L26.5,256.5M29.2,255.5L28.2,258.6M27.8,257.4L28.2,258.6L29.2,257.8M31.9,255.1L32.9,258.1M31.9,257.4L32.9,258.1L33.3,257.0M33.0,254.1L34.4,257.0M33.3,256.4L34.4,257.0L34.6,255.8M36.4,254.9L38.0,257.6M36.9,257.1L38.0,257.6L38.1,256.4M39.0,255.1L40.7,257.9M39.6,257.4L40.7,257.9L40.8,256.7M40.6,254.9L42.4,257.6M41.3,257.1L42.4,257.6L42.4,256.3M44.0,254.8L45.7,257.5M44.6,257.0L45.7,257.5L45.8,256.2M45.1,254.7L46.9,257.4M45.7,256.9L46.9,257.4L46.9,256.2M48.9,255.0L50.7,257.6M49.6,257.2L50.7,257.6L50.7,256.4M51.6,255.3L53.4,257.9M52.2,257.5L53.4,257.9L53.4,256.7M53.7,255.3L55.5,257.9M54.3,257.5L55.5,257.9L55.5,256.7M55.6,254.3L57.3,256.9M56.2,256.5L57.3,256.9L57.4,255.7M57.9,254.7L59.6,257.4M58.5,256.9L59.6,257.4L59.7,256.2M61.0,254.4L62.7,257.1M61.5,256.6L62.7,257.1L62.7,255.9M64.2,254.3L65.8,257.1M64.7,256.5L65.8,257.1L65.9,255.8M65.4,254.7L67.0,257.5M65.9,257.0L67.0,257.5L67.1,256.3M68.5,253.9L70.1,256.7M69.0,256.2L70.1,256.7L70.2,255.5M71.1,254.7L72.8,257.5M71.7,257.0L72.8,257.5L72.9,256.3M74.4,255.1L76.1,257.8M75.0,257.3L76.1,257.8L76.2,256.6M75.7,255.7L77.5,258.3M76.4,257.9L77.5,258.3L77.5,257.1M79.3,255.6L81.2,258.2M80.0,257.8L81.2,258.2L81.1,257.0M81.0,254.4L82.9,257.0M81.7,256.6L82.9,257.0L82.8,255.8M84.4,255.4L86.2,258.0M85.1,257.6L86.2,258.0L86.2,256.8M86.5,254.1L88.3,256.8M87.2,256.3L88.3,256.8L88.4,255.5M88.6,254.2L90.4,256.8M89.3,256.4L90.4,256.8L90.4,255.6M92.1,254.4L93.9,257.1M92.7,256.6L93.9,257.1L93.9,255.9M94.5,255.3L96.2,258.0M95.1,257.5L96.2,258.0L96.3,256.8M96.5,255.2L98.1,258.0M97.0,257.5L98.1,258.0L98.2,256.7M98.5,254.0L100.2,256.7M99.1,256.3L100.2,256.7L100.3,255.5M102.1,254.6L103.6,257.4M102.5,256.9L103.6,257.4L103.8,256.2M103.4,254.5L104.5,257.5M103.5,256.8L104.5,257.5L104.8,256.4M6.9,257.6L6.8,260.8M6.1,259.8L6.8,260.8L7.5,259.8M9.8,256.6L9.3,259.7M8.8,258.6L9.3,259.7L10.2,258.8M10.9,257.8L10.5,261.0M9.9,259.9L10.5,261.0L11.3,260.1M14.3,256.6L13.8,259.8M13.2,258.7L13.8,259.8L14.6,258.9M16.1,257.7L15.7,260.9M15.1,259.8L15.7,260.9L16.5,260.0M18.6,257.7L18.1,260.9M17.6,259.8L18.1,260.9L19.0,260.0M22.4,256.6L21.6,259.7M21.2,258.6L21.6,259.7L22.5,258.9M25.2,257.9L24.5,261.0M24.0,259.9L24.5,261.0L25.4,260.2M26.3,257.1L25.5,260.2M25.1,259.1L25.5,260.2L26.5,259.4M29.6,257.0L28.8,260.1M28.4,258.9L28.8,260.1L29.7,259.3M31.6,257.3L33.4,259.9M32.3,259.5L33.4,259.9L33.5,258.7M33.6,258.2L35.6,260.7M34.4,260.3L35.6,260.7L35.5,259.5M36.6,257.5L38.3,260.2M37.2,259.8L38.3,260.2L38.4,259.0M39.2,257.2L40.9,260.0M39.8,259.5L40.9,260.0L41.0,258.7M41.3,256.6L43.2,259.2M42.0,258.8L43.2,259.2L43.1,258.0M43.1,257.1L45.1,259.6M43.9,259.3L45.1,259.6L45.0,258.4M46.0,256.6L47.9,259.2M46.8,258.8L47.9,259.2L47.9,258.0M47.8,257.4L49.6,260.1M48.4,259.6L49.6,260.1L49.6,258.8M51.8,258.1L53.6,260.8M52.5,260.3L53.6,260.8L53.6,259.6M53.6,256.8L55.3,259.5M54.2,259.1L55.3,259.5L55.4,258.3M56.5,257.0L58.1,259.7M57.0,259.2L58.1,259.7L58.2,258.5M58.1,257.3L59.8,260.0M58.6,259.6L59.8,260.0L59.8,258.8M60.4,256.6L62.0,259.4M60.9,258.9L62.0,259.4L62.1,258.2M64.2,256.9L65.8,259.7M64.7,259.2L65.8,259.7L65.9,258.5M65.5,257.3L67.1,260.1M66.0,259.5L67.1,260.1L67.2,258.9M68.2,258.2L69.8,261.0M68.7,260.4L69.8,261.0L69.9,259.7M71.1,257.7L72.9,260.3M71.8,259.9L72.9,260.3L72.9,259.1M74.3,257.4L76.2,260.0M75.0,259.6L76.2,260.0L76.2,258.7M76.5,257.3L78.4,259.9M77.2,259.5L78.4,259.9L78.4,258.7M79.2,257.4L81.2,259.9M80.0,259.6L81.2,259.9L81.1,258.7M81.0,258.2L83.0,260.7M81.8,260.3L83.0,260.7L82.9,259.5M83.6,257.1L85.5,259.7M84.3,259.3L85.5,259.7L85.5,258.4M87.0,257.5L88.7,260.2M87.6,259.7L88.7,260.2L88.7,259.0M89.1,257.3L90.8,260.0M89.7,259.5L90.8,260.0L90.9,258.8M91.3,257.9L93.0,260.7M91.9,260.2L93.0,260.7L93.1,259.5M93.2,258.1L94.8,260.9M93.7,260.4L94.8,260.9L94.9,259.7M96.6,257.7L98.2,260.5M97.1,260.0L98.2,260.5L98.3,259.3M99.9,257.8L101.4,260.6M100.3,260.0L101.4,260.6L101.6,259.3M100.7,257.8L102.2,260.7M101.1,260.1L102.2,260.7L102.3,259.5M105.2,257.9L105.4,261.1M104.7,260.1L105.4,261.1L106.1,260.0M6.1,260.2L6.1,263.4M5.4,262.4L6.1,263.4L6.8,262.4M9.5,259.8L9.5,263.0M8.8,262.0L9.5,263.0L10.2,262.0M12.1,259.1L11.9,262.3M11.3,261.3L11.9,262.3L12.7,261.4M14.0,259.7L13.9,262.9M13.3,261.9L13.9,262.9L14.7,261.9M17.4,260.0L17.3,263.2M16.7,262.2L17.3,263.2L18.1,262.2M18.3,260.2L18.3,263.4M17.6,262.4L18.3,263.4L19.0,262.4M22.2,260.2L21.9,263.4M21.3,262.3L21.9,263.4L22.7,262.4M24.9,259.9L24.5,263.1M23.9,262.0L24.5,263.1L25.3,262.2M27.1,259.0L26.5,262.1M26.0,261.0L26.5,262.1L27.4,261.3M29.1,260.2L29.4,263.4M28.6,262.5L29.4,263.4L30.0,262.4M31.6,259.4L33.5,261.9M32.3,261.5L33.5,261.9L33.5,260.7M33.5,259.7L35.6,262.1M34.5,261.8L35.6,262.1L35.5,260.8M35.8,259.7L38.0,262.1M36.8,261.8L38.0,262.1L37.8,260.9M37.7,260.2L39.8,262.5M38.6,262.3L39.8,262.5L39.7,261.3M40.4,259.9L42.6,262.2M41.4,262.0L42.6,262.2L42.5,261.0M43.8,260.4L46.2,262.5M45.0,262.4L46.2,262.5L45.9,261.3M45.2,259.7L47.6,261.8M46.4,261.7L47.6,261.8L47.3,260.7M48.5,259.1L50.3,261.7M49.2,261.3L50.3,261.7L50.3,260.5M51.6,260.3L53.3,262.9M52.2,262.5L53.3,262.9L53.4,261.7M52.8,259.1L54.5,261.8M53.4,261.3L54.5,261.8L54.5,260.6M55.3,259.8L56.9,262.5M55.8,262.0L56.9,262.5L57.0,261.3M58.2,259.8L59.8,262.5M58.7,262.0L59.8,262.5L59.9,261.3M61.2,260.4L62.8,263.2M61.7,262.7L62.8,263.2L62.9,262.0M63.8,259.0L65.3,261.8M64.2,261.2L65.3,261.8L65.4,260.6M65.8,260.3L67.4,263.2M66.3,262.6L67.4,263.2L67.5,261.9M69.1,260.4L70.9,263.1M69.8,262.6L70.9,263.1L70.9,261.9M71.5,259.3L73.3,262.0M72.2,261.6L73.3,262.0L73.3,260.8M73.1,259.6L75.1,262.2M73.9,261.8L75.1,262.2L75.0,261.0M75.6,260.1L77.6,262.6M76.4,262.2L77.6,262.6L77.5,261.4M78.2,260.4L80.2,262.9M79.0,262.5L80.2,262.9L80.1,261.7M80.3,260.3L82.3,262.7M81.1,262.4L82.3,262.7L82.2,261.5M83.2,260.5L85.2,263.0M84.0,262.7L85.2,263.0L85.1,261.8M87.0,259.9L88.7,262.6M87.6,262.2L88.7,262.6L88.8,261.4M88.0,259.0L89.7,261.8M88.6,261.3L89.7,261.8L89.7,260.6M91.8,259.4L93.5,262.1M92.3,261.6L93.5,262.1L93.5,260.9M94.0,260.4L95.6,263.1M94.5,262.6L95.6,263.1L95.7,261.9M97.0,260.7L98.6,263.5M97.5,263.0L98.6,263.5L98.7,262.2M99.2,259.5L100.8,262.3M99.7,261.8L100.8,262.3L100.9,261.1M101.8,259.6L102.9,262.6M101.9,261.9L102.9,262.6L103.2,261.5M104.5,260.5L104.7,263.7M103.9,262.7L104.7,263.7L105.3,262.7M6.6,262.0L7.7,265.0M6.7,264.3L7.7,265.0L8.1,263.8M8.4,265.2L11.3,264.0M10.7,265.0L11.3,264.0L10.1,263.7M10.0,264.4L13.0,263.3M12.3,264.3L13.0,263.3L11.8,263.0M12.5,264.3L15.5,263.3M14.8,264.3L15.5,263.3L14.4,262.9M15.5,264.0L18.7,264.2M17.6,264.9L18.7,264.2L17.7,263.5M17.9,261.3L18.8,264.3M17.8,263.6L18.8,264.3L19.2,263.2M21.8,261.7L21.9,264.9M21.1,263.9L21.9,264.9L22.5,263.9M24.9,261.3L24.4,264.4M23.9,263.3L24.4,264.4L25.2,263.6M27.4,262.8L25.0,264.9M25.3,263.7L25.0,264.9L26.3,264.8M28.6,262.3L30.7,264.7M29.5,264.4L30.7,264.7L30.6,263.5M30.2,262.9L33.2,264.0M32.1,264.3L33.2,264.0L32.5,263.0M32.3,263.0L35.4,264.0M34.2,264.3L35.4,264.0L34.7,263.0M35.5,263.7L38.7,264.1M37.6,264.7L38.7,264.1L37.8,263.3M37.0,263.7L40.1,264.1M39.0,264.7L40.1,264.1L39.2,263.3M40.9,263.3L44.0,263.7M42.9,264.3L44.0,263.7L43.1,262.9M43.3,264.0L46.5,264.3M45.4,264.9L46.5,264.3L45.6,263.5M45.3,262.4L48.3,263.6M47.1,263.8L48.3,263.6L47.6,262.5M47.9,263.0L51.0,263.6M49.9,264.1L51.0,263.6L50.2,262.8M51.2,264.1L54.3,264.6M53.2,265.1L54.3,264.6L53.4,263.7M52.9,263.7L56.0,264.4M54.9,264.9L56.0,264.4L55.2,263.5M55.9,264.1L59.0,264.8M57.9,265.3L59.0,264.8L58.2,263.9M58.2,263.2L61.3,263.9M60.2,264.4L61.3,263.9L60.5,263.0M59.8,263.9L62.9,264.6M61.8,265.1L62.9,264.6L62.1,263.7M62.7,261.6L64.8,264.1M63.6,263.8L64.8,264.1L64.7,262.9M65.9,263.8L69.1,264.5M67.9,264.9L69.1,264.5L68.2,263.6M67.8,264.0L70.9,264.7M69.8,265.1L70.9,264.7L70.1,263.8M71.2,263.3L74.3,263.8M73.2,264.3L74.3,263.8L73.5,262.9M72.4,262.2L75.1,263.9M73.8,264.0L75.1,263.9L74.6,262.8M75.6,262.4L78.3,264.1M77.1,264.2L78.3,264.1L77.8,263.0M77.3,263.3L80.5,263.8M79.4,264.3L80.5,263.8L79.6,262.9M80.4,263.8L83.6,264.3M82.5,264.8L83.6,264.3L82.7,263.4M83.6,263.6L86.8,264.1M85.7,264.6L86.8,264.1L85.9,263.3M86.8,262.3L89.3,264.2M88.1,264.1L89.3,264.2L88.9,263.0M88.2,262.8L91.2,264.0M90.0,264.3L91.2,264.0L90.5,263.0M90.9,261.8L93.0,264.2M91.9,263.9L93.0,264.2L92.9,263.0M93.3,263.6L96.4,264.3M95.2,264.8L96.4,264.3L95.6,263.4M95.4,262.0L97.9,264.0M96.7,263.9L97.9,264.0L97.6,262.9M97.5,263.3L100.6,264.0M99.5,264.5L100.6,264.0L99.8,263.1M102.4,261.4L103.6,264.3M102.6,263.7L103.6,264.3L103.9,263.2M102.6,263.4L105.3,265.1M104.1,265.2L105.3,265.1L104.8,264.0" fill="none" stroke="#000" stroke-width="0.55" stroke-opacity="0.38" stroke-linecap="round" stroke-linejoin="round"/></g><g clip-path="url(#cC)"><path d="M9.0,294.0h97.5v97.5h-97.5z" fill="#0000b8" fill-rule="evenodd"/><path d="M9.0,294.0 9.0,391.5 106.5,391.5 106.5,294.0zM90.1,337.6 90.1,338.6 89.9,339.1 88.4,340.6 86.1,341.9 85.6,341.9 84.4,342.6 83.1,342.9 82.4,343.4 81.9,343.4 81.1,343.9 80.6,343.9 79.9,344.4 79.4,344.4 77.6,345.1 76.9,345.1 75.9,345.6 75.1,345.6 74.9,345.9 74.1,345.9 73.9,346.1 73.1,346.1 71.9,346.6 68.4,347.1 68.1,347.4 66.9,347.4 66.6,347.6 65.4,347.6 65.1,347.9 63.6,347.9 63.4,348.1 61.9,348.1 61.6,348.4 59.6,348.4 59.4,348.6 52.6,348.9 52.4,348.6 48.6,348.6 48.4,348.4 44.6,348.1 42.6,347.4 41.4,346.1 41.4,344.6 43.1,342.6 47.4,340.4 47.9,340.4 51.1,338.9 51.6,338.9 54.9,337.6 55.6,337.6 55.9,337.4 56.6,337.4 56.9,337.1 57.6,337.1 58.9,336.6 59.9,336.6 61.1,336.1 62.1,336.1 62.4,335.9 63.6,335.9 63.9,335.6 65.1,335.6 65.4,335.4 66.9,335.4 67.1,335.1 69.1,335.1 69.4,334.9 72.1,334.9 72.4,334.6 80.4,334.6 80.6,334.9 83.9,334.9 84.1,335.1 85.6,335.1 85.9,335.4 87.9,335.6 88.9,336.1z" fill="#002aff" fill-rule="evenodd"/><path d="M9.0,294.0 9.0,391.5 106.5,391.5 106.5,344.1 103.9,344.1 103.6,344.4 99.9,344.6 99.6,344.9 98.6,344.9 98.4,345.1 97.6,345.1 96.4,345.6 95.4,345.6 95.1,345.9 94.1,345.9 93.9,346.1 92.6,346.1 92.4,346.4 89.9,346.6 89.6,346.9 85.9,347.6 83.1,348.6 81.4,348.9 80.4,349.4 78.6,349.6 77.6,350.1 76.9,350.1 76.6,350.4 75.9,350.4 75.6,350.6 74.9,350.6 74.6,350.9 73.9,350.9 73.6,351.1 72.9,351.1 71.6,351.6 69.4,351.9 68.1,352.4 67.1,352.4 66.9,352.6 65.9,352.6 65.6,352.9 64.6,352.9 64.4,353.1 63.4,353.1 63.1,353.4 62.1,353.4 61.9,353.6 60.9,353.6 60.6,353.9 59.6,353.9 59.4,354.1 58.4,354.1 58.1,354.4 56.6,354.4 56.4,354.6 53.4,354.6 53.1,354.9 48.4,354.9 48.1,355.1 42.1,355.1 41.9,354.9 40.9,354.9 40.6,354.6 39.6,354.6 38.4,354.1 37.4,354.1 37.1,353.9 36.4,353.9 36.1,353.6 35.4,353.6 35.1,353.4 33.1,352.9 32.4,352.4 31.4,352.1 28.1,349.9 26.1,347.9 26.1,347.4 25.9,347.1 25.9,346.6 26.4,345.6 28.1,343.9 33.1,340.1 37.1,338.1 37.6,338.1 40.9,336.4 41.4,336.4 44.4,334.9 44.9,334.9 45.1,334.6 45.6,334.6 45.9,334.4 46.4,334.4 51.9,332.4 55.6,331.6 56.6,331.1 57.4,331.1 58.4,330.6 60.1,330.4 61.1,329.9 61.9,329.9 62.1,329.6 62.9,329.6 64.1,329.1 67.1,328.9 67.4,328.6 70.4,328.6 70.6,328.4 73.6,328.4 73.9,328.1 77.1,328.1 77.4,327.9 93.4,327.9 93.6,328.1 94.9,328.1 95.1,328.4 97.1,328.6 97.4,328.9 98.1,328.9 98.4,329.1 99.1,329.1 99.4,329.4 100.1,329.4 101.4,329.9 102.4,329.9 102.6,330.1 106.5,330.4 106.5,294.0z" fill="#009cff" fill-rule="evenodd"/><path d="M106.5,349.6 103.6,349.9 103.4,350.1 102.4,350.1 102.1,350.4 98.6,350.9 97.4,351.4 96.4,351.4 96.1,351.6 95.1,351.6 94.9,351.9 93.9,351.9 93.6,352.1 92.6,352.1 92.4,352.4 88.6,353.1 87.1,353.9 83.1,355.1 82.4,355.6 81.1,355.9 80.4,356.4 76.4,357.6 75.6,358.1 75.1,358.1 74.9,358.4 74.4,358.4 74.1,358.6 73.6,358.6 68.1,360.6 67.4,360.6 61.9,362.6 61.1,362.6 58.6,363.6 57.9,363.6 56.9,364.1 55.9,364.1 55.6,364.4 54.6,364.4 54.4,364.6 53.1,364.6 52.9,364.9 51.6,364.9 51.4,365.1 50.1,365.1 49.9,365.4 46.9,365.6 46.6,365.9 45.4,365.9 45.1,366.1 43.6,366.1 43.4,366.4 39.9,366.4 39.6,366.1 38.6,366.1 38.4,365.9 37.6,365.9 36.4,365.4 35.4,365.4 35.1,365.1 34.4,365.1 34.1,364.9 33.4,364.9 33.1,364.6 32.4,364.6 32.1,364.4 31.4,364.4 30.1,363.9 29.1,363.9 28.9,363.6 28.1,363.6 27.9,363.4 27.1,363.4 26.9,363.1 26.1,363.1 24.9,362.6 22.9,362.4 22.6,362.1 21.1,361.9 19.4,361.1 18.6,361.1 14.6,359.6 13.9,359.6 12.1,358.9 11.4,358.9 10.1,358.4 9.0,358.4 9.0,391.5 106.5,391.5zM9.0,294.0 9.0,337.9 10.9,337.9 11.1,337.6 11.9,337.6 12.9,337.1 13.6,337.1 16.1,336.1 16.9,336.1 19.4,335.1 20.1,335.1 20.4,334.9 20.9,334.9 21.9,334.4 22.6,334.4 22.9,334.1 23.4,334.1 25.1,333.4 25.9,333.4 26.9,332.9 27.6,332.9 27.9,332.6 28.6,332.6 28.9,332.4 29.6,332.4 30.9,331.9 31.9,331.9 32.1,331.6 32.9,331.6 34.1,331.1 35.1,331.1 35.4,330.9 36.1,330.9 36.4,330.6 37.1,330.6 37.4,330.4 38.1,330.4 38.4,330.1 39.1,330.1 39.4,329.9 40.1,329.9 40.4,329.6 41.1,329.6 41.4,329.4 42.1,329.4 42.4,329.1 43.1,329.1 43.4,328.9 44.1,328.9 44.4,328.6 45.1,328.6 45.4,328.4 46.1,328.4 46.4,328.1 50.1,327.4 51.1,326.9 51.9,326.9 52.1,326.6 54.6,326.1 56.4,325.4 57.1,325.4 57.4,325.1 57.9,325.1 63.4,323.1 64.1,323.1 65.1,322.6 65.9,322.6 66.1,322.4 66.9,322.4 67.1,322.1 67.9,322.1 68.1,321.9 68.9,321.9 70.1,321.4 71.1,321.4 71.4,321.1 72.1,321.1 72.4,320.9 73.1,320.9 73.4,320.6 74.1,320.6 74.4,320.4 75.1,320.4 76.4,319.9 77.4,319.9 77.6,319.6 78.6,319.6 78.9,319.4 79.9,319.4 80.1,319.1 81.4,319.1 81.6,318.9 82.9,318.9 83.1,318.6 84.4,318.6 84.6,318.4 85.9,318.4 86.1,318.1 89.6,317.9 89.9,317.6 91.6,317.6 91.9,317.4 94.9,317.4 95.1,317.1 100.1,317.1 100.4,316.9 106.5,316.9 106.5,294.0z" fill="#0efff1" fill-rule="evenodd"/><path d="M106.5,353.1 104.6,353.1 104.4,353.4 101.6,353.9 100.6,354.4 99.9,354.4 98.9,354.9 97.1,355.1 96.1,355.6 94.4,355.9 93.4,356.4 91.6,356.6 91.4,356.9 88.6,357.6 86.1,358.9 85.6,358.9 83.9,359.9 83.4,359.9 82.1,360.6 81.6,360.6 79.9,361.6 79.4,361.6 77.6,362.6 77.1,362.6 75.9,363.4 75.4,363.4 73.6,364.4 73.1,364.4 69.9,366.1 69.4,366.1 65.1,368.4 64.6,368.4 58.6,371.4 58.1,371.4 57.4,371.9 53.1,373.1 52.4,373.6 51.1,373.9 50.4,374.4 48.4,374.9 47.6,375.4 47.1,375.4 44.4,376.6 43.9,376.6 41.6,377.9 41.1,378.4 39.9,378.9 39.4,379.4 35.1,381.4 32.1,381.4 31.1,380.9 30.4,380.9 30.1,380.6 21.4,377.9 20.6,377.4 18.6,376.9 17.9,376.4 16.6,376.1 15.9,375.6 13.4,374.9 12.6,374.4 12.1,374.4 10.4,373.6 9.0,373.6 9.0,391.5 106.5,391.5zM9.0,332.9 10.4,332.9 10.6,332.6 11.9,332.4 14.4,331.1 14.9,331.1 17.4,329.9 17.9,329.9 19.1,329.1 19.6,329.1 20.9,328.4 21.4,328.4 22.6,327.6 23.1,327.6 24.4,326.9 24.9,326.9 25.6,326.4 26.1,326.4 30.1,324.9 30.9,324.9 31.1,324.6 31.6,324.6 32.6,324.1 33.4,324.1 35.1,323.4 35.9,323.4 36.9,322.9 37.6,322.9 37.9,322.6 38.6,322.6 38.9,322.4 39.6,322.4 39.9,322.1 40.6,322.1 40.9,321.9 41.6,321.9 41.9,321.6 42.6,321.6 42.9,321.4 43.6,321.4 43.9,321.1 44.6,321.1 44.9,320.9 45.6,320.9 45.9,320.6 49.6,319.9 51.4,319.1 52.1,319.1 56.1,317.6 56.9,317.6 57.1,317.4 61.4,316.1 62.1,315.6 62.6,315.6 63.4,315.1 63.9,315.1 64.6,314.6 66.4,314.1 67.6,313.4 68.1,313.4 69.4,312.6 69.9,312.6 70.6,312.1 71.1,312.1 74.4,310.6 75.6,310.4 76.4,309.9 77.6,309.6 78.4,309.1 80.4,308.6 81.1,308.1 81.6,308.1 84.9,306.9 85.6,306.9 85.9,306.6 86.6,306.6 87.6,306.1 88.6,306.1 88.9,305.9 89.6,305.9 90.9,305.4 93.1,305.1 94.4,304.6 97.1,304.4 97.4,304.1 100.9,303.9 101.1,303.6 103.1,303.6 103.4,303.4 106.5,303.4 106.5,294.0 9.0,294.0z" fill="#80ff80" fill-rule="evenodd"/><path d="M106.5,356.4 103.9,356.6 103.6,356.9 101.6,357.4 100.9,357.9 100.4,357.9 100.1,358.1 96.6,359.1 95.9,359.6 93.9,360.1 91.9,361.1 91.4,361.1 79.4,367.1 78.9,367.6 74.9,369.6 73.1,370.9 71.9,371.4 71.4,371.9 70.6,372.1 70.1,372.6 69.4,372.9 68.9,373.4 66.4,374.6 65.9,375.1 62.6,376.9 61.4,377.9 60.6,378.1 54.6,382.1 53.9,382.9 52.1,383.9 50.1,385.4 48.4,387.1 48.4,387.4 46.6,389.4 45.9,390.9 45.9,391.5 106.5,391.5zM9.0,327.9 10.9,327.6 26.6,319.6 27.1,319.6 28.4,318.9 30.9,318.1 34.1,316.6 35.4,316.4 36.1,315.9 36.6,315.9 37.4,315.4 37.9,315.4 38.6,314.9 39.1,314.9 39.9,314.4 41.6,313.9 42.9,313.1 44.6,312.6 47.6,311.1 48.1,311.1 57.6,306.4 58.1,305.9 59.9,305.1 60.4,304.6 61.6,304.1 62.1,303.6 63.4,303.1 65.6,301.6 67.4,300.9 67.9,300.4 73.1,297.6 74.9,295.9 75.4,294.9 75.4,294.0 9.0,294.0z" fill="#f1ff0e" fill-rule="evenodd"/><path d="M106.5,361.1 105.1,361.1 102.6,362.4 102.1,362.4 93.1,366.9 92.6,367.4 89.9,368.6 89.4,369.1 83.6,372.1 81.1,373.9 77.9,375.6 76.6,376.6 75.9,376.9 75.4,377.4 74.6,377.6 70.4,380.4 69.1,380.9 68.6,381.4 66.1,382.6 65.6,383.1 64.9,383.4 64.4,383.9 63.6,384.1 63.1,384.6 62.4,384.9 61.9,385.4 61.1,385.6 60.6,386.1 59.4,386.6 58.1,387.6 56.6,388.4 55.4,389.6 54.9,390.6 54.9,391.5 106.5,391.5zM9.0,323.4 10.1,323.4 11.9,322.6 12.4,322.1 13.6,321.6 14.1,321.1 16.6,319.9 17.1,319.4 20.9,317.4 22.6,316.1 23.9,315.6 24.4,315.1 25.6,314.6 26.1,314.1 34.4,309.9 34.9,309.4 37.1,308.4 37.6,307.9 39.4,307.1 41.6,305.6 43.4,304.9 43.9,304.4 48.6,301.9 49.1,301.4 49.9,301.1 50.4,300.6 51.1,300.4 51.6,299.9 52.4,299.6 52.9,299.1 53.6,298.9 54.1,298.4 54.9,298.1 56.1,297.1 57.6,296.4 59.1,295.1 59.4,294.0 9.0,294.0z" fill="#ff9c00" fill-rule="evenodd"/><path d="M106.5,365.9 104.9,366.1 100.9,368.1 100.4,368.6 98.1,369.6 97.6,370.1 96.4,370.6 95.9,371.1 92.6,372.9 91.4,373.9 90.6,374.1 75.6,384.1 73.4,385.9 72.6,386.1 71.4,387.1 67.6,389.1 66.1,390.4 65.9,391.5 106.5,391.5zM9.0,318.6 9.9,318.6 12.1,317.6 16.4,314.9 17.6,314.4 18.1,313.9 18.9,313.6 19.4,313.1 20.1,312.9 20.6,312.4 21.4,312.1 21.9,311.6 22.6,311.4 23.1,310.9 23.9,310.6 24.4,310.1 25.1,309.9 25.6,309.4 26.4,309.1 26.9,308.6 31.4,306.1 32.6,305.1 35.9,303.4 37.1,302.4 40.4,300.6 41.6,299.6 43.6,298.6 48.1,295.6 48.9,294.6 48.9,294.0 9.0,294.0z" fill="#ff2a00" fill-rule="evenodd"/><path d="M106.5,373.1 104.6,373.4 101.6,374.9 101.1,375.4 98.6,376.6 89.6,382.6 88.9,383.4 85.1,385.9 81.1,389.4 80.9,389.4 80.1,390.4 79.9,391.5 106.5,391.5zM9.0,309.9 10.6,309.6 13.1,308.4 13.6,307.9 15.4,307.1 15.9,306.6 18.1,305.6 18.6,305.1 25.4,301.6 26.6,300.6 27.4,300.4 28.6,299.4 29.4,299.1 33.9,296.1 34.9,295.1 35.1,294.0 9.0,294.0z" fill="#b80000" fill-rule="evenodd"/><path d="M9.4,295.7L8.6,292.3M9.4,293.0L8.6,292.3L8.2,293.3M14.8,294.3L11.3,293.7M12.3,293.3L11.3,293.7L12.1,294.5M18.9,294.2L15.3,293.8M16.3,293.3L15.3,293.8L16.2,294.5M23.0,294.2L19.4,293.8M20.4,293.3L19.4,293.8L20.2,294.5M27.1,294.2L23.5,293.8M24.4,293.3L23.5,293.8L24.3,294.5M31.1,294.2L27.5,293.8M28.5,293.3L27.5,293.8L28.4,294.5M35.2,294.2L31.6,293.8M32.6,293.3L31.6,293.8L32.4,294.5M39.3,294.2L35.7,293.8M36.6,293.3L35.7,293.8L36.5,294.5M43.3,294.2L39.7,293.8M40.7,293.3L39.7,293.8L40.6,294.5M47.4,294.2L43.8,293.8M44.8,293.3L43.8,293.8L44.6,294.5M51.5,294.2L47.9,293.8M48.8,293.3L47.9,293.8L48.7,294.5M55.5,294.2L51.9,293.8M52.9,293.3L51.9,293.8L52.8,294.5M59.6,294.2L56.0,293.8M57.0,293.3L56.0,293.8L56.8,294.5M63.7,294.2L60.1,293.8M61.0,293.3L60.1,293.8L60.9,294.5M67.7,294.2L64.1,293.8M65.1,293.3L64.1,293.8L65.0,294.5M71.8,294.2L68.2,293.8M69.2,293.3L68.2,293.8L69.0,294.5M75.9,294.1L72.3,293.9M73.2,293.3L72.3,293.9L73.1,294.5M79.9,294.1L76.3,293.9M77.3,293.4L76.3,293.9L77.2,294.6M84.0,294.3L80.4,293.7M81.4,293.3L80.4,293.7L81.2,294.5M88.0,294.3L84.5,293.7M85.5,293.2L84.5,293.7L85.3,294.4M92.1,294.3L88.6,293.7M89.6,293.2L88.6,293.7L89.3,294.4M96.1,294.5L92.7,293.5M93.7,293.2L92.7,293.5L93.4,294.3M100.1,294.8L96.8,293.2M97.9,293.1L96.8,293.2L97.4,294.1M104.0,295.0L101.0,293.0M102.1,293.0L101.0,293.0L101.5,294.0M106.8,295.8L106.4,292.2M107.1,293.0L106.4,292.2L105.9,293.2M9.0,299.9L9.0,296.3M9.6,297.2L9.0,296.3L8.4,297.2M13.8,299.7L12.3,296.4M13.2,297.0L12.3,296.4L12.2,297.5M17.9,299.7L16.4,296.4M17.3,297.0L16.4,296.4L16.2,297.5M22.0,299.7L20.4,296.5M21.3,297.0L20.4,296.5L20.3,297.5M26.2,299.6L24.3,296.5M25.3,297.0L24.3,296.5L24.3,297.6M30.3,299.6L28.4,296.6M29.4,297.0L28.4,296.6L28.3,297.6M34.4,299.6L32.4,296.6M33.4,297.0L32.4,296.6L32.4,297.6M38.4,299.6L36.5,296.5M37.5,297.0L36.5,296.5L36.5,297.6M42.5,299.6L40.6,296.5M41.6,297.0L40.6,296.5L40.5,297.6M46.5,299.6L44.7,296.5M45.6,297.0L44.7,296.5L44.6,297.6M50.6,299.6L48.7,296.5M49.7,297.0L48.7,296.5L48.7,297.6M54.7,299.6L52.8,296.5M53.8,297.0L52.8,296.5L52.8,297.6M58.7,299.6L56.9,296.5M57.9,297.0L56.9,296.5L56.8,297.6M62.8,299.6L61.0,296.5M61.9,297.0L61.0,296.5L60.9,297.6M66.8,299.6L65.0,296.5M66.0,297.0L65.0,296.5L65.0,297.6M70.9,299.6L69.1,296.5M70.1,297.0L69.1,296.5L69.0,297.6M75.2,299.5L73.0,296.6M74.0,297.0L73.0,296.6L73.0,297.7M79.5,299.3L76.8,296.9M77.9,297.0L76.8,296.9L77.1,297.9M83.0,299.7L81.4,296.4M82.4,297.0L81.4,296.4L81.3,297.5M86.8,299.8L85.7,296.3M86.6,297.0L85.7,296.3L85.4,297.4M90.8,299.8L89.8,296.3M90.7,297.0L89.8,296.3L89.5,297.4M94.8,299.8L94.0,296.3M94.8,297.0L94.0,296.3L93.6,297.3M98.8,299.8L98.2,296.3M98.9,297.1L98.2,296.3L97.7,297.3M102.7,299.9L102.3,296.3M103.0,297.1L102.3,296.3L101.8,297.2M106.6,299.9L106.6,296.3M107.2,297.2L106.6,296.3L106.0,297.2M9.1,303.9L8.9,300.3M9.6,301.2L8.9,300.3L8.4,301.3M13.9,303.7L12.3,300.5M13.2,301.1L12.3,300.5L12.1,301.6M18.0,303.7L16.3,300.5M17.3,301.1L16.3,300.5L16.2,301.6M22.0,303.7L20.4,300.5M21.3,301.1L20.4,300.5L20.2,301.6M26.2,303.7L24.4,300.6M25.3,301.1L24.4,300.6L24.3,301.7M30.3,303.7L28.4,300.6M29.4,301.1L28.4,300.6L28.3,301.7M34.4,303.7L32.4,300.6M33.4,301.1L32.4,300.6L32.4,301.7M38.4,303.7L36.5,300.6M37.5,301.1L36.5,300.6L36.5,301.7M42.5,303.7L40.6,300.6M41.6,301.1L40.6,300.6L40.6,301.7M46.5,303.7L44.7,300.6M45.7,301.1L44.7,300.6L44.6,301.7M50.6,303.7L48.7,300.6M49.7,301.1L48.7,300.6L48.7,301.7M54.7,303.7L52.8,300.6M53.8,301.1L52.8,300.6L52.8,301.7M58.7,303.7L56.9,300.6M57.9,301.1L56.9,300.6L56.8,301.7M62.8,303.7L61.0,300.6M61.9,301.1L61.0,300.6L60.9,301.7M66.8,303.7L65.1,300.6M66.0,301.1L65.1,300.6L65.0,301.6M70.9,303.7L69.1,300.6M70.1,301.1L69.1,300.6L69.0,301.6M74.9,303.8L73.3,300.5M74.2,301.1L73.3,300.5L73.1,301.6M79.0,303.7L77.3,300.6M78.2,301.1L77.3,300.6L77.2,301.6M82.9,303.8L81.5,300.5M82.4,301.1L81.5,300.5L81.3,301.5M86.8,303.9L85.7,300.4M86.6,301.1L85.7,300.4L85.4,301.5M90.8,303.9L89.9,300.4M90.7,301.1L89.9,300.4L89.5,301.4M94.8,303.9L94.0,300.4M94.8,301.1L94.0,300.4L93.6,301.4M98.8,303.9L98.2,300.4M98.9,301.1L98.2,300.4L97.7,301.3M102.7,303.9L102.3,300.3M103.0,301.2L102.3,300.3L101.8,301.3M106.6,303.9L106.6,300.3M107.2,301.2L106.6,300.3L106.0,301.2M9.1,308.0L8.9,304.4M9.6,305.3L8.9,304.4L8.4,305.3M13.9,307.8L12.2,304.6M13.2,305.1L12.2,304.6L12.1,305.7M18.0,307.8L16.3,304.6M17.2,305.1L16.3,304.6L16.2,305.7M22.1,307.8L20.3,304.6M21.3,305.1L20.3,304.6L20.2,305.7M26.2,307.8L24.4,304.6M25.3,305.1L24.4,304.6L24.3,305.7M30.3,307.7L28.4,304.7M29.4,305.1L28.4,304.7L28.4,305.7M34.3,307.7L32.5,304.7M33.5,305.1L32.5,304.7L32.4,305.7M38.4,307.8L36.6,304.6M37.5,305.1L36.6,304.6L36.5,305.7M42.4,307.8L40.7,304.6M41.6,305.1L40.7,304.6L40.6,305.7M46.4,307.8L44.8,304.6M45.7,305.1L44.8,304.6L44.6,305.7M50.5,307.8L48.8,304.6M49.8,305.1L48.8,304.6L48.7,305.7M54.6,307.8L52.9,304.6M53.8,305.1L52.9,304.6L52.8,305.7M58.7,307.8L56.9,304.6M57.9,305.1L56.9,304.6L56.8,305.7M62.8,307.8L61.0,304.6M61.9,305.1L61.0,304.6L60.9,305.7M66.8,307.8L65.1,304.6M66.0,305.1L65.1,304.6L65.0,305.7M70.8,307.8L69.2,304.6M70.1,305.1L69.2,304.6L69.0,305.7M74.8,307.8L73.3,304.6M74.2,305.1L73.3,304.6L73.2,305.6M78.8,307.9L77.5,304.5M78.3,305.1L77.5,304.5L77.2,305.6M82.8,307.9L81.6,304.5M82.4,305.1L81.6,304.5L81.3,305.6M86.7,307.9L85.8,304.5M86.6,305.2L85.8,304.5L85.5,305.5M90.7,308.0L89.9,304.4M90.7,305.2L89.9,304.4L89.6,305.5M94.7,308.0L94.1,304.4M94.8,305.2L94.1,304.4L93.6,305.4M98.7,308.0L98.2,304.4M98.9,305.2L98.2,304.4L97.8,305.4M102.7,308.0L102.4,304.4M103.0,305.2L102.4,304.4L101.8,305.4M106.6,308.0L106.6,304.4M107.2,305.3L106.6,304.4L106.0,305.3M9.1,312.1L8.9,308.5M9.6,309.3L8.9,308.5L8.4,309.4M14.0,311.8L12.2,308.7M13.1,309.2L12.2,308.7L12.1,309.8M18.0,311.8L16.2,308.7M17.2,309.2L16.2,308.7L16.2,309.8M22.1,311.8L20.3,308.7M21.3,309.2L20.3,308.7L20.2,309.8M26.2,311.8L24.3,308.7M25.3,309.2L24.3,308.7L24.3,309.8M30.2,311.8L28.4,308.7M29.4,309.2L28.4,308.7L28.4,309.8M34.3,311.8L32.5,308.7M33.5,309.2L32.5,308.7L32.4,309.8M38.3,311.9L36.6,308.7M37.6,309.2L36.6,308.7L36.5,309.7M42.3,311.9L40.7,308.7M41.7,309.2L40.7,308.7L40.6,309.7M46.4,311.9L44.8,308.6M45.8,309.2L44.8,308.6L44.7,309.7M50.4,311.9L48.9,308.6M49.8,309.2L48.9,308.6L48.7,309.7M54.5,311.9L53.0,308.6M53.9,309.2L53.0,308.6L52.8,309.7M58.5,311.9L57.1,308.6M58.0,309.2L57.1,308.6L56.9,309.7M62.7,311.9L61.0,308.7M62.0,309.2L61.0,308.7L60.9,309.7M66.7,311.9L65.1,308.7M66.1,309.2L65.1,308.7L65.0,309.7M70.7,311.9L69.3,308.6M70.2,309.2L69.3,308.6L69.1,309.7M74.7,311.9L73.4,308.6M74.3,309.2L73.4,308.6L73.2,309.7M78.7,312.0L77.5,308.6M78.4,309.2L77.5,308.6L77.3,309.6M82.8,312.0L81.6,308.6M82.5,309.2L81.6,308.6L81.4,309.6M86.6,312.0L85.9,308.5M86.7,309.3L85.9,308.5L85.5,309.5M90.7,312.0L90.0,308.5M90.8,309.3L90.0,308.5L89.6,309.5M94.7,312.0L94.1,308.5M94.9,309.3L94.1,308.5L93.7,309.5M98.6,312.1L98.3,308.5M99.0,309.3L98.3,308.5L97.8,309.4M102.7,312.1L102.4,308.5M103.1,309.3L102.4,308.5L101.9,309.4M106.6,312.1L106.6,308.5M107.2,309.4L106.6,308.5L106.0,309.4M9.1,316.1L8.9,312.5M9.6,313.4L8.9,312.5L8.4,313.5M14.0,315.9L12.2,312.8M13.1,313.3L12.2,312.8L12.1,313.9M18.1,315.9L16.2,312.8M17.2,313.3L16.2,312.8L16.2,313.9M22.1,315.9L20.3,312.8M21.2,313.3L20.3,312.8L20.2,313.9M26.2,315.9L24.4,312.8M25.3,313.3L24.4,312.8L24.3,313.8M30.1,315.9L28.5,312.7M29.5,313.3L28.5,312.7L28.4,313.8M34.1,316.0L32.7,312.7M33.6,313.3L32.7,312.7L32.5,313.8M38.2,316.0L36.8,312.7M37.7,313.3L36.8,312.7L36.6,313.7M42.2,316.0L40.9,312.7M41.8,313.3L40.9,312.7L40.6,313.7M46.2,316.0L45.0,312.6M45.9,313.3L45.0,312.6L44.7,313.7M50.3,316.0L49.0,312.7M49.9,313.3L49.0,312.7L48.8,313.7M54.4,316.0L53.1,312.7M53.9,313.3L53.1,312.7L52.8,313.7M58.4,316.0L57.2,312.7M58.0,313.3L57.2,312.7L56.9,313.7M62.6,316.0L61.2,312.7M62.1,313.3L61.2,312.7L61.0,313.7M66.6,316.0L65.2,312.7M66.1,313.3L65.2,312.7L65.0,313.7M70.6,316.0L69.4,312.6M70.2,313.3L69.4,312.6L69.1,313.7M74.6,316.0L73.5,312.6M74.4,313.3L73.5,312.6L73.2,313.7M78.6,316.1L77.6,312.6M78.5,313.3L77.6,312.6L77.3,313.6M82.7,316.1L81.7,312.6M82.5,313.3L81.7,312.6L81.4,313.6M86.6,316.1L86.0,312.6M86.7,313.3L86.0,312.6L85.5,313.6M90.6,316.1L90.1,312.6M90.8,313.4L90.1,312.6L89.6,313.5M94.6,316.1L94.2,312.5M94.9,313.4L94.2,312.5L93.7,313.5M98.6,316.1L98.4,312.5M99.0,313.4L98.4,312.5L97.8,313.5M102.6,316.1L102.4,312.5M103.1,313.4L102.4,312.5L101.9,313.5M106.6,316.1L106.6,312.5M107.2,313.4L106.6,312.5L106.0,313.4M9.1,320.2L8.9,316.6M9.6,317.5L8.9,316.6L8.4,317.5M14.0,319.9L12.1,316.9M13.1,317.3L12.1,316.9L12.1,317.9M18.1,319.9L16.2,316.9M17.2,317.3L16.2,316.9L16.2,317.9M22.1,320.0L20.3,316.8M21.3,317.3L20.3,316.8L20.2,317.9M26.1,320.0L24.4,316.8M25.4,317.3L24.4,316.8L24.3,317.9M30.0,320.1L28.7,316.7M29.6,317.3L28.7,316.7L28.4,317.8M34.0,320.1L32.8,316.7M33.7,317.4L32.8,316.7L32.5,317.8M38.0,320.1L36.9,316.7M37.8,317.4L36.9,316.7L36.6,317.7M42.1,320.1L41.0,316.7M41.8,317.4L41.0,316.7L40.7,317.7M46.1,320.1L45.1,316.7M45.9,317.4L45.1,316.7L44.8,317.7M50.2,320.1L49.1,316.7M50.0,317.4L49.1,316.7L48.8,317.7M54.3,320.1L53.2,316.7M54.0,317.4L53.2,316.7L52.9,317.7M58.3,320.1L57.3,316.7M58.1,317.4L57.3,316.7L57.0,317.7M62.4,320.1L61.3,316.7M62.1,317.4L61.3,316.7L61.0,317.7M66.5,320.1L65.4,316.7M66.2,317.4L65.4,316.7L65.1,317.7M70.5,320.1L69.5,316.7M70.3,317.4L69.5,316.7L69.2,317.7M74.5,320.1L73.6,316.7M74.4,317.4L73.6,316.7L73.2,317.7M78.5,320.2L77.7,316.6M78.5,317.4L77.7,316.6L77.4,317.6M82.5,320.2L81.9,316.6M82.6,317.4L81.9,316.6L81.4,317.6M86.5,320.2L86.0,316.6M86.7,317.4L86.0,316.6L85.5,317.6M90.5,320.2L90.1,316.6M90.8,317.4L90.1,316.6L89.6,317.6M94.5,320.2L94.3,316.6M94.9,317.5L94.3,316.6L93.7,317.5M98.5,320.2L98.4,316.6M99.0,317.5L98.4,316.6L97.8,317.5M102.6,320.2L102.5,316.6M103.1,317.5L102.5,316.6L101.9,317.5M106.6,320.2L106.6,316.6M107.2,317.5L106.6,316.6L106.0,317.5M9.1,324.3L8.9,320.7M9.6,321.5L8.9,320.7L8.4,321.6M14.0,324.0L12.2,320.9M13.1,321.4L12.2,320.9L12.1,322.0M18.0,324.0L16.3,320.9M17.2,321.4L16.3,320.9L16.2,322.0M22.0,324.1L20.4,320.9M21.3,321.4L20.4,320.9L20.3,321.9M26.0,324.1L24.5,320.8M25.5,321.4L24.5,320.8L24.4,321.9M29.9,324.2L28.8,320.7M29.6,321.4L28.8,320.7L28.5,321.8M33.9,324.2L32.9,320.7M33.7,321.4L32.9,320.7L32.6,321.8M37.9,324.2L37.0,320.7M37.8,321.4L37.0,320.7L36.6,321.8M42.0,324.2L41.1,320.7M41.9,321.5L41.1,320.7L40.7,321.7M46.0,324.2L45.2,320.7M46.0,321.5L45.2,320.7L44.8,321.7M50.1,324.2L49.2,320.7M50.0,321.4L49.2,320.7L48.9,321.7M54.2,324.2L53.3,320.7M54.1,321.4L53.3,320.7L52.9,321.8M58.3,324.2L57.3,320.7M58.1,321.4L57.3,320.7L57.0,321.8M62.4,324.2L61.3,320.8M62.2,321.4L61.3,320.8L61.0,321.8M66.4,324.2L65.5,320.7M66.3,321.4L65.5,320.7L65.1,321.7M70.4,324.2L69.6,320.7M70.4,321.5L69.6,320.7L69.2,321.7M74.4,324.2L73.7,320.7M74.5,321.5L73.7,320.7L73.3,321.7M78.4,324.2L77.9,320.7M78.6,321.5L77.9,320.7L77.4,321.7M82.4,324.3L82.0,320.7M82.7,321.5L82.0,320.7L81.5,321.6M86.4,324.3L86.1,320.7M86.8,321.5L86.1,320.7L85.6,321.6M90.5,324.3L90.2,320.7M90.9,321.5L90.2,320.7L89.7,321.6M94.4,324.3L94.4,320.7M95.0,321.6L94.4,320.7L93.8,321.6M98.4,324.3L98.5,320.7M99.1,321.6L98.5,320.7L97.9,321.5M102.5,324.3L102.6,320.7M103.2,321.6L102.6,320.7L102.0,321.6M106.6,324.3L106.6,320.7M107.2,321.6L106.6,320.7L106.0,321.6M9.1,328.3L8.9,324.7M9.6,325.6L8.9,324.7L8.4,325.7M13.9,328.1L12.3,324.9M13.2,325.5L12.3,324.9L12.1,326.0M17.9,328.2L16.4,324.9M17.3,325.5L16.4,324.9L16.2,326.0M21.9,328.2L20.5,324.9M21.4,325.5L20.5,324.9L20.3,326.0M25.9,328.2L24.6,324.9M25.5,325.5L24.6,324.9L24.4,325.9M29.9,328.3L28.8,324.8M29.6,325.5L28.8,324.8L28.5,325.8M33.9,328.3L32.9,324.8M33.7,325.5L32.9,324.8L32.6,325.8M37.9,328.3L37.0,324.8M37.8,325.5L37.0,324.8L36.7,325.8M41.9,328.3L41.1,324.8M41.9,325.5L41.1,324.8L40.7,325.8M46.0,328.3L45.2,324.8M46.0,325.5L45.2,324.8L44.8,325.8M50.1,328.3L49.2,324.8M50.0,325.5L49.2,324.8L48.9,325.8M54.2,328.3L53.2,324.8M54.1,325.5L53.2,324.8L52.9,325.8M58.4,328.2L57.2,324.8M58.1,325.5L57.2,324.8L56.9,325.9M62.4,328.2L61.3,324.8M62.2,325.5L61.3,324.8L61.0,325.9M66.2,328.3L65.6,324.8M66.4,325.5L65.6,324.8L65.2,325.7M70.2,328.3L69.8,324.7M70.5,325.6L69.8,324.7L69.3,325.7M74.3,328.3L73.9,324.7M74.6,325.6L73.9,324.7L73.4,325.7M78.3,328.3L78.0,324.7M78.7,325.6L78.0,324.7L77.5,325.7M82.3,328.3L82.1,324.7M82.8,325.6L82.1,324.7L81.6,325.7M86.3,328.3L86.2,324.7M86.8,325.6L86.2,324.7L85.6,325.7M90.4,328.3L90.3,324.7M90.9,325.6L90.3,324.7L89.7,325.6M94.1,328.3L94.7,324.8M95.1,325.7L94.7,324.8L93.9,325.6M98.2,328.3L98.7,324.8M99.2,325.7L98.7,324.8L98.0,325.6M102.3,328.3L102.8,324.7M103.2,325.7L102.8,324.7L102.0,325.6M106.6,328.3L106.6,324.7M107.2,325.6L106.6,324.7L106.0,325.6M9.1,332.4L8.9,328.8M9.6,329.7L8.9,328.8L8.4,329.7M13.8,332.3L12.4,328.9M13.3,329.5L12.4,328.9L12.2,330.0M17.8,332.3L16.4,328.9M17.3,329.5L16.4,328.9L16.2,330.0M21.9,332.3L20.5,328.9M21.4,329.5L20.5,328.9L20.3,330.0M25.9,332.3L24.7,328.9M25.5,329.5L24.7,328.9L24.4,330.0M29.8,332.3L28.9,328.9M29.7,329.6L28.9,328.9L28.5,329.9M33.8,332.3L33.0,328.9M33.8,329.6L33.0,328.9L32.6,329.9M37.9,332.4L37.0,328.8M37.8,329.6L37.0,328.8L36.7,329.9M42.0,332.3L41.1,328.9M41.9,329.6L41.1,328.9L40.7,329.9M46.1,332.3L45.1,328.9M45.9,329.6L45.1,328.9L44.8,329.9M50.2,332.3L49.2,328.9M50.0,329.6L49.2,328.9L48.8,329.9M54.2,332.3L53.3,328.9M54.1,329.6L53.3,328.9L52.9,329.9M58.3,332.3L57.3,328.9M58.1,329.6L57.3,328.9L57.0,329.9M62.3,332.3L61.4,328.9M62.2,329.6L61.4,328.9L61.1,329.9M66.1,332.4L65.7,328.8M66.4,329.6L65.7,328.8L65.2,329.8M70.1,332.4L69.9,328.8M70.5,329.7L69.9,328.8L69.3,329.7M74.2,332.4L74.0,328.8M74.6,329.7L74.0,328.8L73.4,329.7M78.2,332.4L78.1,328.8M78.7,329.7L78.1,328.8L77.5,329.7M82.2,332.4L82.2,328.8M82.8,329.7L82.2,328.8L81.6,329.7M86.2,332.4L86.4,328.8M86.9,329.7L86.4,328.8L85.7,329.7M90.2,332.4L90.5,328.8M91.0,329.8L90.5,328.8L89.8,329.7M93.9,332.3L94.9,328.9M95.2,329.9L94.9,328.9L94.1,329.6M97.7,332.2L99.3,329.0M99.4,330.1L99.3,329.0L98.3,329.5M102.2,332.4L102.8,328.8M103.3,329.8L102.8,328.8L102.1,329.6M106.6,332.4L106.6,328.8M107.2,329.7L106.6,328.8L106.0,329.7M9.0,336.5L9.0,332.9M9.6,333.8L9.0,332.9L8.4,333.8M13.7,336.4L12.4,333.0M13.3,333.6L12.4,333.0L12.2,334.0M17.7,336.4L16.6,333.0M17.4,333.6L16.6,333.0L16.3,334.0M21.7,336.4L20.7,332.9M21.5,333.6L20.7,332.9L20.4,334.0M25.8,336.4L24.8,332.9M25.6,333.6L24.8,332.9L24.4,334.0M29.7,336.4L28.9,332.9M29.7,333.7L28.9,332.9L28.5,333.9M33.8,336.4L33.0,332.9M33.8,333.7L33.0,332.9L32.6,333.9M38.0,336.4L37.0,332.9M37.8,333.6L37.0,332.9L36.6,334.0M42.2,336.3L40.9,333.0M41.8,333.6L40.9,333.0L40.7,334.0M46.2,336.4L45.0,333.0M45.9,333.6L45.0,333.0L44.7,334.0M50.3,336.4L49.1,333.0M49.9,333.6L49.1,333.0L48.8,334.0M54.2,336.4L53.3,332.9M54.1,333.6L53.3,332.9L52.9,333.9M58.2,336.4L57.4,332.9M58.2,333.7L57.4,332.9L57.0,333.9M62.2,336.4L61.5,332.9M62.3,333.7L61.5,332.9L61.1,333.9M66.2,336.5L65.7,332.9M66.4,333.7L65.7,332.9L65.2,333.9M70.2,336.5L69.8,332.9M70.5,333.7L69.8,332.9L69.3,333.8M74.2,336.5L74.0,332.9M74.6,333.7L74.0,332.9L73.4,333.8M78.1,336.5L78.2,332.9M78.8,333.8L78.2,332.9L77.6,333.7M82.1,336.5L82.3,332.9M82.9,333.8L82.3,332.9L81.7,333.7M86.0,336.4L86.6,332.9M87.0,333.9L86.6,332.9L85.8,333.7M89.6,336.3L91.1,333.0M91.3,334.1L91.1,333.0L90.2,333.6M92.8,335.4L96.0,333.9M95.5,334.8L96.0,333.9L94.9,333.7M96.7,334.6L100.3,334.8M99.3,335.3L100.3,334.8L99.4,334.1M104.1,335.5L100.9,333.9M102.0,333.7L100.9,333.9L101.5,334.8M106.6,336.5L106.6,332.9M107.2,333.8L106.6,332.9L106.0,333.8M9.0,340.5L9.0,336.9M9.6,337.8L9.0,336.9L8.4,337.8M13.5,340.5L12.6,337.0M13.4,337.7L12.6,337.0L12.3,338.0M17.8,340.4L16.5,337.1M17.4,337.7L16.5,337.1L16.2,338.1M21.8,340.4L20.6,337.0M21.4,337.7L20.6,337.0L20.3,338.1M25.9,340.4L24.7,337.0M25.5,337.7L24.7,337.0L24.4,338.1M30.0,340.4L28.6,337.1M29.5,337.7L28.6,337.1L28.4,338.1M34.1,340.4L32.7,337.1M33.6,337.7L32.7,337.1L32.5,338.1M38.3,340.3L36.7,337.1M37.6,337.7L36.7,337.1L36.5,338.2M42.4,340.3L40.7,337.2M41.6,337.7L40.7,337.2L40.6,338.2M46.3,340.4L44.9,337.1M45.8,337.7L44.9,337.1L44.7,338.1M50.3,340.4L49.0,337.0M49.9,337.7L49.0,337.0L48.8,338.1M54.3,340.5L53.2,337.0M54.0,337.7L53.2,337.0L52.9,338.1M58.3,340.5L57.3,337.0M58.1,337.7L57.3,337.0L57.0,338.0M62.3,340.5L61.5,337.0M62.3,337.7L61.5,337.0L61.1,338.0M66.2,340.5L65.7,337.0M66.4,337.8L65.7,337.0L65.2,337.9M69.8,340.5L70.2,336.9M70.7,337.9L70.2,336.9L69.5,337.8M73.6,340.5L74.5,337.0M74.9,338.0L74.5,337.0L73.7,337.7M76.5,339.5L79.7,337.9M79.2,338.9L79.7,337.9L78.7,337.8M80.6,339.6L83.8,337.9M83.3,338.8L83.8,337.9L82.7,337.8M84.5,338.2L88.0,339.2M87.0,339.6L88.0,339.2L87.3,338.4M88.6,338.2L92.1,339.3M91.0,339.6L92.1,339.3L91.4,338.4M92.6,338.5L96.2,339.0M95.2,339.4L96.2,339.0L95.4,338.3M96.7,338.5L100.3,338.9M99.3,339.4L100.3,338.9L99.4,338.2M104.3,338.7L100.7,338.8M101.6,338.2L100.7,338.8L101.7,339.4M107.0,337.0L106.2,340.5M105.8,339.5L106.2,340.5L107.0,339.7M9.0,344.6L9.0,341.0M9.6,341.9L9.0,341.0L8.4,341.9M13.1,344.6L13.1,341.0M13.7,341.9L13.1,341.0L12.5,341.9M18.7,343.7L15.6,341.9M16.6,341.8L15.6,341.9L16.1,342.9M22.8,343.7L19.6,341.9M20.7,341.8L19.6,341.9L20.1,342.9M26.3,344.3L24.3,341.3M25.3,341.7L24.3,341.3L24.3,342.4M30.4,344.2L28.2,341.4M29.3,341.7L28.2,341.4L28.3,342.5M35.0,343.7L31.8,341.9M32.9,341.8L31.8,341.9L32.3,342.9M38.8,344.0L36.1,341.6M37.2,341.8L36.1,341.6L36.4,342.6M42.7,344.2L40.3,341.4M41.4,341.7L40.3,341.4L40.5,342.5M46.4,344.4L44.8,341.2M45.7,341.7L44.8,341.2L44.6,342.3M51.4,343.4L48.0,342.2M49.0,341.9L48.0,342.2L48.6,343.1M55.5,343.0L51.9,342.6M52.9,342.1L51.9,342.6L52.8,343.3M59.6,342.8L56.0,342.8M56.9,342.2L56.0,342.8L56.9,343.4M62.4,341.1L61.3,344.5M61.0,343.5L61.3,344.5L62.2,343.8M65.6,341.0L66.3,344.6M65.5,343.8L66.3,344.6L66.7,343.6M69.1,341.2L70.9,344.4M69.9,343.9L70.9,344.4L71.0,343.3M73.3,341.2L74.8,344.4M73.9,343.9L74.8,344.4L75.0,343.4M77.1,341.3L79.1,344.3M78.1,343.9L79.1,344.3L79.1,343.2M81.5,341.1L82.9,344.5M82.0,343.9L82.9,344.5L83.1,343.4M85.6,341.1L87.0,344.5M86.1,343.9L87.0,344.5L87.2,343.4M89.7,341.1L91.0,344.5M90.1,343.9L91.0,344.5L91.2,343.4M93.5,341.2L95.3,344.4M94.3,343.9L95.3,344.4L95.4,343.3M97.1,341.6L99.8,344.0M98.8,343.8L99.8,344.0L99.5,342.9M102.6,341.0L102.5,344.6M101.9,343.7L102.5,344.6L103.1,343.7M106.6,341.0L106.6,344.6M106.0,343.7L106.6,344.6L107.2,343.7M9.0,348.7L9.0,345.1M9.6,346.0L9.0,345.1L8.4,346.0M12.8,348.6L13.3,345.1M13.8,346.1L13.3,345.1L12.6,345.9M18.8,347.5L15.4,346.2M16.5,346.0L15.4,346.2L16.1,347.1M23.0,347.2L19.4,346.5M20.4,346.1L19.4,346.5L20.2,347.3M27.1,347.0L23.5,346.8M24.4,346.2L23.5,346.8L24.3,347.4M31.1,346.6L27.6,347.1M28.4,346.4L27.6,347.1L28.5,347.6M35.1,346.3L31.7,347.4M32.4,346.6L31.7,347.4L32.7,347.7M39.1,346.2L35.8,347.5M36.4,346.6L35.8,347.5L36.8,347.7M42.8,345.6L40.3,348.2M40.5,347.1L40.3,348.2L41.3,347.9M45.9,345.1L45.3,348.6M44.8,347.6L45.3,348.6L46.0,347.9M50.0,345.1L49.3,348.6M48.9,347.6L49.3,348.6L50.1,347.9M54.3,345.1L53.2,348.6M52.9,347.5L53.2,348.6L54.0,347.9M57.8,345.1L57.8,348.7M57.2,347.8L57.8,348.7L58.4,347.8M61.7,345.1L62.1,348.7M61.4,347.8L62.1,348.7L62.6,347.7M65.7,345.1L66.2,348.6M65.5,347.8L66.2,348.6L66.7,347.7M69.6,345.1L70.4,348.6M69.6,347.9L70.4,348.6L70.8,347.6M73.6,345.1L74.5,348.6M73.7,347.9L74.5,348.6L74.9,347.6M77.7,345.1L78.6,348.6M77.8,347.9L78.6,348.6L78.9,347.6M81.7,345.1L82.7,348.6M81.9,347.9L82.7,348.6L83.0,347.6M85.8,345.1L86.8,348.6M85.9,347.9L86.8,348.6L87.1,347.6M90.0,345.1L90.7,348.6M89.9,347.9L90.7,348.6L91.1,347.6M94.1,345.1L94.7,348.6M94.0,347.9L94.7,348.6L95.1,347.7M98.2,345.1L98.8,348.6M98.0,347.9L98.8,348.6L99.2,347.7M102.2,345.1L102.8,348.6M102.1,347.9L102.8,348.6L103.3,347.7M106.6,345.1L106.6,348.7M106.0,347.8L106.6,348.7L107.2,347.8M9.0,349.1L9.0,352.7M8.4,351.8L9.0,352.7L9.6,351.8M12.8,349.2L13.4,352.7M12.6,351.9L13.4,352.7L13.8,351.7M18.6,349.9L15.6,351.9M16.1,350.9L15.6,351.9L16.7,351.9M22.7,349.9L19.7,352.0M20.1,351.0L19.7,352.0L20.8,351.9M26.4,349.5L24.2,352.4M24.2,351.3L24.2,352.4L25.2,352.0M30.4,349.5L28.3,352.4M28.3,351.3L28.3,352.4L29.3,352.0M34.5,349.5L32.3,352.3M32.4,351.3L32.3,352.3L33.3,352.0M38.3,349.3L36.6,352.5M36.5,351.5L36.6,352.5L37.6,352.0M42.0,349.2L41.0,352.7M40.7,351.6L41.0,352.7L41.9,352.0M45.7,349.1L45.5,352.7M44.9,351.8L45.5,352.7L46.1,351.9M49.7,349.1L49.7,352.7M49.1,351.8L49.7,352.7L50.3,351.8M53.7,349.1L53.8,352.7M53.2,351.8L53.8,352.7L54.4,351.8M57.6,349.1L58.0,352.7M57.3,351.9L58.0,352.7L58.5,351.8M61.6,349.2L62.2,352.7M61.4,351.9L62.2,352.7L62.6,351.7M65.6,349.2L66.3,352.7M65.5,351.9L66.3,352.7L66.7,351.7M69.6,349.2L70.4,352.7M69.6,351.9L70.4,352.7L70.8,351.7M73.6,349.2L74.5,352.7M73.7,352.0L74.5,352.7L74.9,351.7M77.6,349.2L78.6,352.7M77.8,352.0L78.6,352.7L79.0,351.6M81.7,349.2L82.7,352.7M81.9,352.0L82.7,352.7L83.0,351.6M85.7,349.2L86.8,352.6M86.0,352.0L86.8,352.6L87.1,351.6M89.9,349.2L90.7,352.7M89.9,351.9L90.7,352.7L91.1,351.7M94.1,349.2L94.7,352.7M94.0,351.9L94.7,352.7L95.2,351.7M98.1,349.2L98.8,352.7M98.1,351.9L98.8,352.7L99.2,351.7M102.2,349.2L102.9,352.7M102.1,351.9L102.9,352.7L103.3,351.7M106.6,349.1L106.6,352.7M106.0,351.8L106.6,352.7L107.2,351.8M9.0,353.2L9.0,356.8M8.4,355.9L9.0,356.8L9.6,355.9M13.4,353.2L12.8,356.8M12.3,355.8L12.8,356.8L13.5,356.0M18.1,353.5L16.2,356.5M16.2,355.5L16.2,356.5L17.2,356.1M22.5,353.7L19.9,356.3M20.1,355.2L19.9,356.3L21.0,356.1M26.0,353.3L24.6,356.7M24.4,355.6L24.6,356.7L25.5,356.1M30.1,353.4L28.6,356.6M28.4,355.6L28.6,356.6L29.5,356.1M33.8,353.2L33.0,356.8M32.6,355.7L33.0,356.8L33.8,356.0M37.9,353.2L37.1,356.8M36.7,355.7L37.1,356.8L37.9,356.0M41.8,353.2L41.3,356.8M40.8,355.8L41.3,356.8L42.0,356.0M45.5,353.2L45.7,356.8M45.0,355.9L45.7,356.8L46.2,355.9M49.6,353.2L49.8,356.8M49.1,355.9L49.8,356.8L50.3,355.9M53.6,353.2L53.8,356.8M53.2,355.9L53.8,356.8L54.4,355.9M57.5,353.2L58.1,356.8M57.4,356.0L58.1,356.8L58.5,355.8M61.5,353.2L62.3,356.8M61.5,356.0L62.3,356.8L62.6,355.7M65.5,353.2L66.3,356.8M65.6,356.0L66.3,356.8L66.7,355.7M69.6,353.3L70.4,356.7M69.6,356.0L70.4,356.7L70.8,355.7M73.5,353.3L74.6,356.7M73.8,356.0L74.6,356.7L74.9,355.7M77.5,353.3L78.7,356.7M77.9,356.0L78.7,356.7L79.0,355.6M81.6,353.3L82.8,356.7M81.9,356.1L82.8,356.7L83.1,355.6M85.6,353.3L86.9,356.7M86.0,356.1L86.9,356.7L87.1,355.6M89.8,353.3L90.8,356.7M90.0,356.0L90.8,356.7L91.2,355.7M93.9,353.3L94.9,356.7M94.0,356.0L94.9,356.7L95.2,355.7M98.0,353.3L99.0,356.7M98.1,356.0L99.0,356.7L99.3,355.7M102.0,353.3L103.1,356.7M102.2,356.0L103.1,356.7L103.4,355.7M106.6,353.2L106.6,356.8M106.0,355.9L106.6,356.8L107.2,355.9M9.0,357.3L9.0,360.9M8.4,360.0L9.0,360.9L9.6,360.0M13.6,357.3L12.5,360.8M12.2,359.7L12.5,360.8L13.4,360.1M17.7,357.3L16.6,360.8M16.3,359.8L16.6,360.8L17.4,360.1M21.8,357.4L20.6,360.8M20.3,359.7L20.6,360.8L21.5,360.1M25.7,357.3L24.8,360.8M24.5,359.8L24.8,360.8L25.6,360.1M29.8,357.3L28.9,360.8M28.5,359.8L28.9,360.8L29.7,360.1M33.8,357.3L33.0,360.8M32.6,359.8L33.0,360.8L33.8,360.1M37.8,357.3L37.1,360.8M36.7,359.8L37.1,360.8L37.9,360.1M41.6,357.3L41.4,360.9M40.9,359.9L41.4,360.9L42.1,360.0M45.4,357.3L45.8,360.9M45.1,360.0L45.8,360.9L46.3,359.9M49.5,357.3L49.9,360.9M49.2,360.0L49.9,360.9L50.4,359.9M53.5,357.3L53.9,360.9M53.2,360.0L53.9,360.9L54.4,359.9M57.4,357.3L58.2,360.8M57.4,360.1L58.2,360.8L58.6,359.8M61.4,357.3L62.3,360.8M61.5,360.1L62.3,360.8L62.7,359.8M65.4,357.3L66.4,360.8M65.6,360.1L66.4,360.8L66.8,359.8M69.5,357.3L70.5,360.8M69.7,360.1L70.5,360.8L70.8,359.8M73.5,357.4L74.7,360.8M73.8,360.1L74.7,360.8L74.9,359.7M77.5,357.4L78.8,360.7M77.9,360.1L78.8,360.7L79.0,359.7M81.5,357.4L82.9,360.7M82.0,360.1L82.9,360.7L83.1,359.7M85.5,357.4L87.0,360.7M86.1,360.1L87.0,360.7L87.2,359.6M89.7,357.4L91.0,360.8M90.1,360.1L91.0,360.8L91.2,359.7M93.8,357.4L95.0,360.8M94.1,360.1L95.0,360.8L95.3,359.7M97.9,357.4L99.1,360.8M98.2,360.1L99.1,360.8L99.3,359.7M101.9,357.4L103.2,360.7M102.3,360.1L103.2,360.7L103.4,359.7M106.5,357.3L106.7,360.9M106.0,360.0L106.7,360.9L107.2,359.9M9.0,361.3L9.0,364.9M8.4,364.0L9.0,364.9L9.6,364.0M13.7,361.4L12.5,364.8M12.2,363.8L12.5,364.8L13.3,364.2M17.7,361.4L16.5,364.8M16.3,363.8L16.5,364.8L17.4,364.2M21.7,361.4L20.7,364.9M20.4,363.8L20.7,364.9L21.5,364.2M25.7,361.4L24.8,364.9M24.5,363.9L24.8,364.9L25.6,364.1M29.7,361.4L28.9,364.9M28.5,363.9L28.9,364.9L29.7,364.1M33.8,361.4L33.0,364.9M32.6,363.9L33.0,364.9L33.8,364.1M37.8,361.4L37.1,364.9M36.7,363.9L37.1,364.9L37.9,364.1M41.5,361.3L41.5,364.9M40.9,364.0L41.5,364.9L42.1,364.0M45.3,361.4L45.9,364.9M45.1,364.1L45.9,364.9L46.3,363.9M49.4,361.4L49.9,364.9M49.2,364.1L49.9,364.9L50.4,363.9M53.4,361.4L54.0,364.9M53.3,364.1L54.0,364.9L54.5,363.9M57.3,361.4L58.3,364.9M57.5,364.2L58.3,364.9L58.6,363.8M61.3,361.4L62.4,364.8M61.6,364.2L62.4,364.8L62.7,363.8M65.3,361.4L66.6,364.8M65.7,364.2L66.6,364.8L66.8,363.8M69.3,361.5L70.7,364.8M69.8,364.2L70.7,364.8L70.9,363.7M73.4,361.5L74.8,364.8M73.9,364.2L74.8,364.8L75.0,363.7M77.4,361.5L78.9,364.8M78.0,364.2L78.9,364.8L79.1,363.7M81.4,361.5L83.0,364.8M82.1,364.2L83.0,364.8L83.1,363.7M85.5,361.5L87.1,364.7M86.1,364.2L87.1,364.7L87.2,363.7M89.5,361.5L91.1,364.7M90.2,364.2L91.1,364.7L91.3,363.7M93.6,361.5L95.2,364.8M94.2,364.2L95.2,364.8L95.3,363.7M97.7,361.5L99.2,364.8M98.3,364.2L99.2,364.8L99.4,363.7M101.7,361.5L103.3,364.7M102.4,364.2L103.3,364.7L103.5,363.7M106.5,361.3L106.7,364.9M106.0,364.1L106.7,364.9L107.2,364.0M9.0,365.4L9.0,369.0M8.4,368.1L9.0,369.0L9.6,368.1M13.7,365.5L12.4,368.9M12.2,367.8L12.4,368.9L13.3,368.3M17.8,365.5L16.5,368.9M16.3,367.8L16.5,368.9L17.4,368.3M21.8,365.5L20.6,368.9M20.3,367.9L20.6,368.9L21.5,368.2M25.8,365.5L24.8,368.9M24.4,367.9L24.8,368.9L25.6,368.2M29.8,365.5L28.9,368.9M28.5,367.9L28.9,368.9L29.7,368.2M33.9,365.5L32.9,368.9M32.6,367.9L32.9,368.9L33.7,368.2M37.9,365.5L37.0,368.9M36.7,367.9L37.0,368.9L37.8,368.2M41.5,365.4L41.5,369.0M40.9,368.1L41.5,369.0L42.1,368.1M45.3,365.4L45.9,369.0M45.2,368.2L45.9,369.0L46.3,368.0M49.4,365.4L50.0,369.0M49.2,368.2L50.0,369.0L50.4,368.0M53.4,365.4L54.0,369.0M53.3,368.2L54.0,369.0L54.5,368.0M57.2,365.5L58.4,368.9M57.5,368.2L58.4,368.9L58.7,367.9M61.2,365.5L62.6,368.9M61.7,368.3L62.6,368.9L62.8,367.8M65.2,365.6L66.7,368.8M65.8,368.3L66.7,368.8L66.9,367.8M69.2,365.6L70.8,368.8M69.9,368.3L70.8,368.8L70.9,367.7M73.2,365.6L74.9,368.8M73.9,368.3L74.9,368.8L75.0,367.7M77.3,365.6L79.0,368.8M78.0,368.3L79.0,368.8L79.1,367.7M81.4,365.6L83.0,368.8M82.1,368.3L83.0,368.8L83.2,367.7M85.4,365.6L87.1,368.8M86.2,368.3L87.1,368.8L87.2,367.7M89.5,365.6L91.2,368.8M90.2,368.3L91.2,368.8L91.3,367.7M93.5,365.6L95.3,368.8M94.3,368.3L95.3,368.8L95.4,367.7M97.6,365.6L99.3,368.8M98.4,368.3L99.3,368.8L99.4,367.7M101.7,365.6L103.4,368.8M102.4,368.3L103.4,368.8L103.5,367.7M106.5,365.4L106.7,369.0M106.0,368.1L106.7,369.0L107.2,368.1M9.0,369.5L9.0,373.1M8.4,372.2L9.0,373.1L9.6,372.2M13.7,369.6L12.4,372.9M12.2,371.9L12.4,372.9L13.3,372.3M17.8,369.6L16.5,372.9M16.3,371.9L16.5,372.9L17.4,372.3M21.8,369.6L20.6,373.0M20.3,371.9L20.6,373.0L21.5,372.3M25.8,369.5L24.7,373.0M24.4,371.9L24.7,373.0L25.6,372.3M29.9,369.5L28.8,373.0M28.5,372.0L28.8,373.0L29.6,372.3M33.9,369.5L32.9,373.0M32.6,372.0L32.9,373.0L33.7,372.3M37.9,369.5L37.0,373.0M36.6,372.0L37.0,373.0L37.8,372.3M41.4,369.5L41.6,373.1M41.0,372.2L41.6,373.1L42.2,372.1M45.2,369.5L46.0,373.0M45.2,372.3L46.0,373.0L46.4,372.0M49.3,369.5L50.1,373.0M49.3,372.3L50.1,373.0L50.5,372.0M53.3,369.5L54.2,373.0M53.4,372.3L54.2,373.0L54.6,372.0M57.2,369.6L58.4,373.0M57.6,372.3L58.4,373.0L58.7,371.9M61.1,369.7L62.7,372.9M61.7,372.3L62.7,372.9L62.8,371.8M65.1,369.7L66.8,372.8M65.8,372.3L66.8,372.8L66.9,371.8M69.1,369.7L70.9,372.8M69.9,372.3L70.9,372.8L71.0,371.7M73.1,369.7L75.0,372.8M74.0,372.3L75.0,372.8L75.0,371.7M77.2,369.7L79.1,372.8M78.1,372.3L79.1,372.8L79.1,371.7M81.3,369.7L83.1,372.8M82.1,372.3L83.1,372.8L83.2,371.7M85.4,369.7L87.2,372.8M86.2,372.3L87.2,372.8L87.2,371.8M89.4,369.7L91.2,372.8M90.3,372.3L91.2,372.8L91.3,371.7M93.5,369.7L95.3,372.8M94.4,372.3L95.3,372.8L95.4,371.7M97.6,369.7L99.3,372.8M98.4,372.3L99.3,372.8L99.4,371.8M101.7,369.7L103.4,372.9M102.4,372.3L103.4,372.9L103.5,371.8M106.5,369.5L106.7,373.1M106.0,372.2L106.7,373.1L107.2,372.1M9.0,373.5L9.0,377.1M8.4,376.2L9.0,377.1L9.6,376.2M13.7,373.7L12.4,377.0M12.2,376.0L12.4,377.0L13.3,376.4M17.8,373.7L16.5,377.0M16.3,376.0L16.5,377.0L17.4,376.4M21.8,373.6L20.6,377.0M20.3,376.0L20.6,377.0L21.5,376.4M25.8,373.6L24.7,377.0M24.4,376.0L24.7,377.0L25.6,376.4M29.9,373.6L28.8,377.0M28.5,376.0L28.8,377.0L29.6,376.4M33.9,373.6L32.9,377.1M32.6,376.0L32.9,377.1L33.7,376.4M37.5,373.5L37.4,377.1M36.8,376.2L37.4,377.1L38.0,376.3M40.7,373.7L42.3,377.0M41.4,376.4L42.3,377.0L42.5,375.9M45.0,373.6L46.2,377.0M45.3,376.4L46.2,377.0L46.5,376.0M49.0,373.7L50.4,377.0M49.5,376.4L50.4,377.0L50.6,375.9M52.9,373.7L54.6,376.9M53.6,376.4L54.6,376.9L54.7,375.9M56.9,373.8L58.7,376.9M57.7,376.4L58.7,376.9L58.8,375.8M61.0,373.8L62.8,376.9M61.8,376.4L62.8,376.9L62.8,375.8M65.0,373.8L66.9,376.9M65.9,376.4L66.9,376.9L66.9,375.8M69.1,373.8L70.9,376.9M70.0,376.4L70.9,376.9L71.0,375.8M73.1,373.8L75.0,376.9M74.0,376.4L75.0,376.9L75.0,375.8M77.2,373.8L79.1,376.9M78.1,376.4L79.1,376.9L79.1,375.8M81.3,373.8L83.1,376.9M82.2,376.4L83.1,376.9L83.2,375.8M85.3,373.8L87.2,376.9M86.2,376.4L87.2,376.9L87.3,375.8M89.3,373.8L91.3,376.8M90.3,376.4L91.3,376.8L91.3,375.8M93.4,373.8L95.4,376.8M94.4,376.4L95.4,376.8L95.4,375.7M97.5,373.8L99.4,376.9M98.4,376.4L99.4,376.9L99.5,375.8M101.7,373.7L103.4,376.9M102.4,376.4L103.4,376.9L103.5,375.8M106.5,373.5L106.7,377.1M106.0,376.3L106.7,377.1L107.2,376.2M9.0,377.6L9.0,381.2M8.4,380.3L9.0,381.2L9.6,380.3M13.6,377.7L12.5,381.1M12.2,380.1L12.5,381.1L13.4,380.4M17.7,377.7L16.6,381.1M16.3,380.1L16.6,381.1L17.4,380.4M21.8,377.7L20.6,381.1M20.3,380.1L20.6,381.1L21.5,380.4M25.8,377.7L24.7,381.1M24.4,380.1L24.7,381.1L25.6,380.4M29.9,377.7L28.8,381.1M28.5,380.1L28.8,381.1L29.6,380.4M33.8,377.6L33.0,381.2M32.6,380.1L33.0,381.2L33.8,380.4M36.7,377.8L38.2,381.0M37.3,380.5L38.2,381.0L38.4,380.0M40.6,377.9L42.5,380.9M41.5,380.5L42.5,380.9L42.5,379.9M44.7,377.8L46.5,381.0M45.5,380.5L46.5,381.0L46.6,379.9M48.7,377.9L50.6,380.9M49.6,380.5L50.6,380.9L50.6,379.9M52.7,377.9L54.8,380.9M53.8,380.5L54.8,380.9L54.7,379.8M56.8,377.9L58.8,380.9M57.8,380.5L58.8,380.9L58.8,379.8M60.9,377.9L62.8,380.9M61.8,380.5L62.8,380.9L62.9,379.8M65.0,377.9L66.9,380.9M65.9,380.5L66.9,380.9L66.9,379.8M69.1,377.8L70.9,381.0M69.9,380.5L70.9,381.0L71.0,379.9M73.1,377.9L75.0,380.9M74.0,380.5L75.0,380.9L75.0,379.9M77.2,377.9L79.1,380.9M78.1,380.5L79.1,380.9L79.1,379.8M81.2,377.9L83.2,380.9M82.2,380.5L83.2,380.9L83.2,379.8M85.2,377.9L87.3,380.9M86.3,380.5L87.3,380.9L87.3,379.8M89.3,377.9L91.4,380.9M90.4,380.5L91.4,380.9L91.3,379.8M93.4,377.9L95.4,380.9M94.4,380.5L95.4,380.9L95.4,379.8M97.5,377.9L99.4,380.9M98.4,380.5L99.4,380.9L99.5,379.8M101.6,377.8L103.4,381.0M102.5,380.5L103.4,381.0L103.5,379.9M106.5,377.6L106.7,381.2M106.0,380.3L106.7,381.2L107.2,380.3M9.0,381.7L9.0,385.3M8.4,384.4L9.0,385.3L9.6,384.4M13.4,381.7L12.8,385.2M12.3,384.3L12.8,385.2L13.5,384.5M17.5,381.7L16.8,385.2M16.4,384.2L16.8,385.2L17.6,384.5M21.6,381.7L20.8,385.2M20.4,384.2L20.8,385.2L21.6,384.5M25.7,381.7L24.8,385.2M24.5,384.2L24.8,385.2L25.6,384.5M29.8,381.7L28.8,385.2M28.5,384.2L28.8,385.2L29.7,384.5M33.0,381.7L33.8,385.2M33.0,384.5L33.8,385.2L34.2,384.2M36.5,381.9L38.4,385.0M37.4,384.5L38.4,385.0L38.5,383.9M40.6,381.9L42.5,385.0M41.5,384.5L42.5,385.0L42.5,383.9M44.5,382.0L46.7,384.9M45.7,384.5L46.7,384.9L46.6,383.8M48.6,382.0L50.7,384.9M49.7,384.5L50.7,384.9L50.7,383.8M52.7,382.0L54.8,385.0M53.7,384.5L54.8,385.0L54.7,383.9M56.8,382.0L58.8,385.0M57.8,384.5L58.8,385.0L58.8,383.9M60.9,381.9L62.8,385.0M61.8,384.5L62.8,385.0L62.8,383.9M65.0,381.9L66.8,385.0M65.9,384.5L66.8,385.0L66.9,383.9M69.1,381.9L70.9,385.0M69.9,384.5L70.9,385.0L71.0,384.0M73.1,381.9L75.0,385.0M74.0,384.5L75.0,385.0L75.1,383.9M77.1,382.0L79.2,384.9M78.2,384.5L79.2,384.9L79.1,383.9M81.1,382.0L83.3,384.9M82.3,384.5L83.3,384.9L83.2,383.8M85.2,382.0L87.3,384.9M86.3,384.5L87.3,384.9L87.3,383.8M89.3,382.0L91.3,385.0M90.3,384.5L91.3,385.0L91.3,383.9M93.4,381.9L95.4,385.0M94.4,384.5L95.4,385.0L95.4,383.9M97.5,381.9L99.4,385.0M98.4,384.5L99.4,385.0L99.4,383.9M101.7,381.9L103.4,385.0M102.4,384.5L103.4,385.0L103.5,384.0M106.5,381.7L106.7,385.3M106.0,384.4L106.7,385.3L107.2,384.3M9.0,385.7L9.0,389.3M8.4,388.4L9.0,389.3L9.6,388.4M12.9,385.7L13.2,389.3M12.5,388.5L13.2,389.3L13.7,388.4M16.9,385.7L17.3,389.3M16.6,388.5L17.3,389.3L17.8,388.4M21.1,385.7L21.3,389.3M20.6,388.5L21.3,389.3L21.8,388.4M25.4,385.7L25.2,389.3M24.6,388.4L25.2,389.3L25.8,388.5M29.4,385.7L29.2,389.3M28.7,388.4L29.2,389.3L29.9,388.5M32.6,385.9L34.2,389.1M33.3,388.6L34.2,389.1L34.3,388.1M36.3,386.1L38.6,388.9M37.6,388.6L38.6,388.9L38.5,387.9M40.3,386.2L42.8,388.8M41.7,388.6L42.8,388.8L42.6,387.8M44.3,386.3L46.9,388.7M45.9,388.6L46.9,388.7L46.7,387.7M48.2,386.4L51.1,388.6M50.0,388.6L51.1,388.6L50.7,387.6M52.5,386.2L54.9,388.9M53.9,388.6L54.9,388.9L54.8,387.8M56.8,386.0L58.8,389.1M57.8,388.6L58.8,389.1L58.8,388.0M61.0,386.0L62.8,389.1M61.8,388.6L62.8,389.1L62.8,388.0M65.1,386.0L66.8,389.1M65.9,388.6L66.8,389.1L66.9,388.0M69.1,386.0L70.9,389.1M69.9,388.6L70.9,389.1L71.0,388.0M73.0,386.1L75.1,389.0M74.1,388.6L75.1,389.0L75.1,387.9M77.0,386.1L79.3,388.9M78.2,388.6L79.3,388.9L79.2,387.9M81.1,386.1L83.3,388.9M82.3,388.6L83.3,388.9L83.2,387.9M85.2,386.1L87.4,389.0M86.3,388.6L87.4,389.0L87.3,387.9M89.4,386.0L91.3,389.1M90.3,388.6L91.3,389.1L91.3,388.0M93.5,386.0L95.3,389.1M94.3,388.6L95.3,389.1L95.4,388.0M97.6,386.0L99.4,389.1M98.4,388.6L99.4,389.1L99.4,388.0M101.7,385.9L103.3,389.1M102.4,388.6L103.3,389.1L103.5,388.1M106.6,385.7L106.6,389.3M106.0,388.4L106.6,389.3L107.2,388.4M8.7,389.8L9.3,393.4M8.6,392.6L9.3,393.4L9.7,392.4M11.3,392.1L14.8,391.1M14.1,391.9L14.8,391.1L13.8,390.8M15.5,392.4L18.7,390.8M18.2,391.7L18.7,390.8L17.7,390.7M19.6,392.3L22.8,390.9M22.3,391.8L22.8,390.9L21.8,390.7M23.6,392.2L27.0,391.0M26.3,391.9L27.0,391.0L25.9,390.7M27.6,391.9L31.1,391.3M30.3,392.1L31.1,391.3L30.1,390.9M31.6,391.6L35.2,391.6M34.3,392.2L35.2,391.6L34.3,391.0M35.7,391.4L39.3,391.8M38.3,392.3L39.3,391.8L38.4,391.1M39.7,391.5L43.3,391.7M42.4,392.2L43.3,391.7L42.5,391.1M43.8,391.5L47.4,391.7M46.5,392.3L47.4,391.7L46.5,391.1M47.9,391.5L51.5,391.7M50.5,392.2L51.5,391.7L50.6,391.0M51.9,391.5L55.5,391.7M54.6,392.2L55.5,391.7L54.7,391.0M56.0,391.5L59.6,391.7M58.7,392.3L59.6,391.7L58.7,391.1M60.1,391.4L63.7,391.8M62.7,392.3L63.7,391.8L62.8,391.1M64.1,391.4L67.7,391.8M66.8,392.3L67.7,391.8L66.9,391.1M68.2,391.4L71.8,391.8M70.8,392.3L71.8,391.8L71.0,391.1M72.3,391.4L75.9,391.8M74.9,392.3L75.9,391.8L75.0,391.1M76.3,391.4L79.9,391.8M79.0,392.3L79.9,391.8L79.1,391.1M80.4,391.5L84.0,391.7M83.0,392.3L84.0,391.7L83.1,391.1M84.5,391.4L88.1,391.8M87.1,392.3L88.1,391.8L87.2,391.1M88.5,391.4L92.1,391.8M91.2,392.3L92.1,391.8L91.3,391.1M92.6,391.4L96.2,391.8M95.2,392.3L96.2,391.8L95.4,391.1M96.7,391.4L100.3,391.8M99.3,392.3L100.3,391.8L99.4,391.1M100.7,391.4L104.3,391.8M103.3,392.3L104.3,391.8L103.5,391.1M106.1,389.9L107.1,393.3M106.3,392.6L107.1,393.3L107.4,392.3" fill="none" stroke="#000" stroke-width="0.45" stroke-opacity="0.7" stroke-linecap="round" stroke-linejoin="round"/></g><g clip-path="url(#cD)"><path d="M8.7,433.7h98.0v97.5h-98.0z" fill="#0000b8" fill-rule="evenodd"/><path d="M8.7,433.7 8.7,531.2 106.7,531.2 106.7,433.7zM83.3,477.1 82.6,477.8 81.1,480.1 80.8,480.8 80.3,481.3 78.6,484.8 78.6,485.3 78.1,486.1 77.6,487.8 76.8,488.3 76.1,488.3 74.3,489.1 73.6,489.1 72.3,489.6 71.3,489.6 71.1,489.8 70.1,489.8 69.8,490.1 69.1,490.1 67.8,490.6 66.8,490.6 66.6,490.8 65.8,490.8 65.6,491.1 64.8,491.1 63.6,491.6 57.6,491.8 57.3,492.1 54.3,492.1 54.1,492.3 51.6,492.3 51.3,492.1 50.6,492.1 50.3,491.8 48.8,491.6 47.3,490.8 46.8,490.8 44.3,489.6 42.3,488.1 42.3,487.8 46.8,482.8 50.3,477.8 50.6,477.1 52.6,476.3 56.6,476.1 56.8,475.8 60.3,475.6 60.6,475.3 62.1,475.3 62.3,475.1 74.6,474.6 75.8,475.1 76.8,475.1 77.1,475.3 79.8,475.8 80.1,476.1 80.6,476.1 81.6,476.6 82.3,476.6z" fill="#002aff" fill-rule="evenodd"/><path d="M106.7,480.8 103.3,484.3 101.3,487.3 100.1,488.3 99.3,488.3 96.6,489.3 94.6,489.6 94.3,489.8 93.6,489.8 93.3,490.1 92.6,490.1 92.3,490.3 88.6,491.1 87.6,491.6 85.8,491.8 85.6,492.1 85.1,492.1 84.8,492.3 84.3,492.3 84.1,492.6 83.6,492.6 83.3,492.8 82.8,492.8 82.6,493.1 82.1,493.1 81.8,493.3 81.3,493.3 81.1,493.6 80.6,493.6 80.3,493.8 79.8,493.8 79.6,494.1 79.1,494.1 73.6,496.1 72.8,496.1 71.8,496.6 69.3,497.1 69.1,497.3 68.6,497.3 66.8,498.1 66.1,498.1 63.6,499.1 62.8,499.1 62.6,499.3 59.8,499.8 58.8,500.3 58.1,500.3 57.8,500.6 54.3,501.6 52.3,502.6 50.6,502.6 50.3,502.8 48.6,502.8 48.3,503.1 46.3,503.1 46.1,503.3 44.3,503.3 44.1,503.6 42.3,503.6 42.1,503.8 37.1,503.6 36.8,503.3 34.1,503.3 33.8,503.1 31.1,503.1 30.8,502.8 19.8,502.6 19.6,502.3 18.6,502.3 18.3,502.1 14.6,501.3 13.6,500.8 12.8,500.8 8.7,499.3 8.7,531.2 106.7,531.2zM8.7,433.7 8.7,497.3 9.8,495.8 10.3,494.6 10.8,494.1 11.6,492.6 11.6,492.1 12.6,490.3 13.1,488.6 13.8,487.6 14.3,487.6 15.6,486.8 16.1,486.8 18.6,485.6 19.1,485.6 21.6,484.3 22.1,484.3 26.6,482.1 31.1,479.1 33.3,476.8 33.8,476.8 35.3,476.1 38.8,475.1 39.6,474.6 40.1,474.6 40.3,474.3 40.8,474.3 41.1,474.1 41.6,474.1 41.8,473.8 50.6,471.1 52.1,470.3 54.3,470.1 54.6,469.8 55.6,469.8 55.8,469.6 56.8,469.6 57.1,469.3 59.1,469.1 59.3,468.8 60.3,468.8 60.6,468.6 61.3,468.6 62.6,468.1 65.8,467.8 66.1,467.6 67.8,467.6 68.1,467.3 69.8,467.3 70.1,467.1 71.6,467.1 71.8,466.8 73.3,466.8 73.6,466.6 85.8,466.6 86.1,466.8 87.1,466.8 87.3,467.1 88.3,467.1 89.6,467.6 91.6,467.8 91.8,468.1 93.3,468.3 94.3,468.8 95.1,468.8 96.1,469.3 97.1,469.3 97.3,469.6 98.3,469.6 98.6,469.8 101.3,470.3 101.6,470.6 103.6,471.1 106.7,472.6 106.7,433.7z" fill="#009cff" fill-rule="evenodd"/><path d="M106.7,491.8 105.3,492.3 104.6,492.3 103.6,492.8 102.8,492.8 101.1,493.6 100.3,493.6 98.6,494.3 97.8,494.3 95.3,495.3 94.6,495.3 94.3,495.6 87.1,497.8 85.1,498.8 84.3,498.8 84.1,499.1 83.3,499.1 83.1,499.3 82.3,499.3 82.1,499.6 78.3,500.3 77.3,500.8 76.6,500.8 74.8,501.6 74.1,501.6 72.3,502.3 71.6,502.3 71.3,502.6 69.3,503.1 68.6,503.6 68.1,503.6 65.3,504.8 64.8,504.8 61.3,506.6 60.8,506.6 56.8,508.6 55.1,509.8 52.1,511.3 50.6,511.3 50.3,511.6 47.6,511.8 47.3,512.1 46.3,512.1 46.1,512.3 45.1,512.3 44.8,512.6 43.8,512.6 43.6,512.8 42.6,512.8 42.3,513.1 40.6,513.1 40.3,513.3 30.1,513.3 29.8,513.1 26.1,513.1 25.8,512.8 22.1,512.8 21.8,512.6 12.1,512.6 11.8,512.3 8.7,512.3 8.7,531.2 106.7,531.2zM8.7,433.7 8.7,479.6 9.8,479.3 11.1,478.6 11.6,478.6 15.1,476.8 15.8,476.8 16.1,476.6 16.8,476.6 17.1,476.3 17.8,476.3 18.8,475.8 19.6,475.8 19.8,475.6 21.1,475.3 21.8,474.8 22.3,474.8 22.6,474.6 26.1,473.6 26.8,473.1 32.6,471.3 33.3,470.8 33.8,470.8 35.6,470.1 36.3,470.1 36.6,469.8 44.6,467.3 45.3,466.8 47.8,466.1 52.1,464.1 52.6,464.1 53.6,463.6 54.3,463.6 56.1,462.8 56.8,462.8 63.6,460.3 64.8,460.3 65.1,460.1 66.3,460.1 66.6,459.8 67.8,459.8 68.1,459.6 69.3,459.6 69.6,459.3 70.8,459.3 71.1,459.1 72.3,459.1 72.6,458.8 73.8,458.8 74.1,458.6 80.1,458.3 80.3,458.1 83.1,458.1 83.3,457.8 87.6,457.8 87.8,457.6 97.8,457.3 98.1,457.6 101.8,457.6 102.1,457.8 106.1,457.8 106.7,458.1 106.7,433.7z" fill="#0efff1" fill-rule="evenodd"/><path d="M106.7,497.3 105.8,497.3 101.8,498.8 101.1,498.8 99.8,499.3 98.8,499.3 97.6,499.8 96.6,499.8 96.3,500.1 95.6,500.1 95.3,500.3 91.6,501.1 90.6,501.6 88.8,501.8 87.8,502.3 87.1,502.3 85.3,503.1 84.6,503.1 82.8,503.8 82.1,503.8 81.8,504.1 77.6,505.3 76.8,505.8 75.6,506.1 74.8,506.6 73.1,507.1 71.8,507.8 71.3,507.8 57.8,514.6 57.3,515.1 56.1,515.6 54.8,516.6 54.1,516.8 51.8,518.3 51.1,518.3 50.1,518.8 49.3,518.8 49.1,519.1 44.8,520.3 44.1,520.8 43.6,520.8 41.6,522.1 39.1,522.3 38.8,522.6 37.3,522.6 37.1,522.8 35.8,522.8 35.6,523.1 33.1,523.3 32.8,523.6 31.8,523.6 31.6,523.8 30.3,524.1 30.1,523.8 28.8,523.8 28.6,523.6 27.3,523.6 27.1,523.3 26.1,523.3 25.8,523.1 22.3,522.6 22.1,522.3 21.3,522.3 20.1,521.8 12.1,521.8 11.8,521.6 8.7,521.6 8.7,531.2 106.7,531.2zM8.7,472.8 9.8,472.3 11.6,472.1 11.8,471.8 13.3,471.6 14.3,471.1 15.1,471.1 16.8,470.3 17.6,470.3 17.8,470.1 24.3,468.1 25.1,467.6 25.6,467.6 25.8,467.3 26.3,467.3 26.6,467.1 35.3,464.3 36.1,463.8 38.1,463.3 38.8,462.8 39.3,462.8 40.1,462.3 41.8,461.8 43.1,461.1 44.8,460.6 46.1,459.8 47.8,459.3 49.1,458.6 49.6,458.6 51.6,457.6 52.8,457.3 53.6,456.8 54.1,456.8 54.8,456.3 55.3,456.3 56.1,455.8 57.8,455.3 60.3,453.8 60.8,453.8 63.1,452.6 69.1,450.8 72.6,449.1 73.1,449.1 74.1,448.3 74.8,448.3 75.8,447.8 78.3,447.3 78.6,447.1 82.1,446.1 82.8,445.6 84.1,445.3 84.8,444.8 94.1,444.6 94.3,444.3 99.1,444.3 99.3,444.1 103.8,444.1 104.1,443.8 106.7,443.8 106.7,433.7 8.7,433.7z" fill="#80ff80" fill-rule="evenodd"/><path d="M106.7,501.3 106.3,501.6 105.3,501.6 104.1,502.1 103.1,502.1 102.8,502.3 102.1,502.3 101.8,502.6 101.1,502.6 99.8,503.1 98.8,503.1 98.6,503.3 95.8,503.8 93.1,504.8 92.3,504.8 92.1,505.1 91.6,505.1 89.1,506.1 88.3,506.1 88.1,506.3 86.8,506.6 86.1,507.1 83.3,507.8 80.6,509.1 80.1,509.1 64.1,517.1 63.6,517.6 60.6,519.1 57.6,521.1 52.6,525.3 49.1,527.1 43.6,531.2 106.7,531.2zM8.7,466.8 9.6,466.8 12.1,465.8 12.8,465.8 14.6,465.1 15.3,465.1 17.1,464.3 17.8,464.3 18.1,464.1 24.6,462.1 25.3,461.6 26.6,461.3 27.3,460.8 28.6,460.6 30.6,459.6 33.1,458.8 34.3,458.1 36.1,457.6 37.8,456.6 38.3,456.6 40.8,455.3 41.3,454.8 42.6,454.3 44.3,453.1 46.6,452.1 47.1,451.6 55.6,447.3 56.1,447.3 59.6,445.6 60.1,445.6 60.8,445.1 62.6,444.6 71.3,433.7 8.7,433.7z" fill="#f1ff0e" fill-rule="evenodd"/><path d="M106.7,505.1 104.1,505.6 103.8,505.8 103.1,505.8 102.8,506.1 102.1,506.1 101.8,506.3 101.1,506.3 100.8,506.6 100.1,506.6 99.8,506.8 99.1,506.8 98.8,507.1 98.1,507.1 97.8,507.3 97.1,507.3 96.8,507.6 96.1,507.6 95.8,507.8 90.1,509.6 88.6,510.6 76.6,516.6 76.1,516.6 67.1,521.3 65.1,522.8 62.8,524.1 61.8,525.1 60.6,525.8 56.6,529.3 56.3,529.3 54.6,531.2 106.7,531.2zM8.7,461.1 9.3,461.1 10.3,460.6 11.1,460.6 12.1,460.1 12.8,460.1 13.8,459.6 14.6,459.6 15.6,459.1 16.3,459.1 17.3,458.6 18.1,458.6 19.1,458.1 19.8,458.1 20.6,457.6 21.8,457.3 22.6,456.8 23.1,456.8 23.8,456.3 24.3,456.3 27.1,455.1 32.8,450.6 33.8,450.1 36.3,448.1 41.6,444.6 44.8,443.1 45.3,442.6 46.6,442.1 47.8,441.1 50.1,439.8 52.1,438.3 56.6,433.7 8.7,433.7z" fill="#ff9c00" fill-rule="evenodd"/><path d="M106.7,508.8 102.8,509.6 97.1,512.6 96.6,512.6 95.1,513.3 94.6,513.8 89.6,516.3 89.1,516.3 87.3,517.3 86.8,517.3 85.6,518.1 85.1,518.1 81.8,519.8 81.3,519.8 79.8,520.6 76.8,522.6 73.6,524.1 70.8,526.1 70.1,526.3 68.8,527.3 68.1,527.6 62.8,531.2 106.7,531.2zM8.7,455.3 12.1,453.1 16.1,451.1 16.6,451.1 18.1,450.3 19.8,449.8 26.8,444.6 28.3,442.3 31.1,439.6 32.8,438.3 36.8,436.3 38.1,436.1 39.6,435.3 41.1,435.1 43.1,433.7 8.7,433.7z" fill="#ff2a00" fill-rule="evenodd"/><path d="M106.7,516.3 105.1,517.1 103.8,517.3 103.1,517.8 102.6,517.8 99.3,519.1 98.6,519.1 97.6,519.6 95.8,519.8 94.3,520.6 92.8,522.1 89.1,524.6 86.6,525.8 86.1,525.8 80.8,528.6 80.3,528.6 78.3,529.6 77.8,529.6 73.8,531.2 106.7,531.2zM8.7,437.8 11.6,436.1 14.1,433.7 8.7,433.7z" fill="#b80000" fill-rule="evenodd"/><path d="M11.0,436.7L6.4,430.7M8.1,431.4L6.4,430.7L6.6,432.6M22.8,435.7L16.4,431.7M18.3,431.8L16.4,431.7L17.3,433.4M32.1,437.1L28.9,430.3M30.5,431.3L28.9,430.3L28.7,432.2M42.8,437.2L40.0,430.2M41.5,431.3L40.0,430.2L39.7,432.1M54.9,436.4L49.7,431.0M51.5,431.5L49.7,431.0L50.1,432.8M66.2,435.9L60.2,431.5M62.0,431.7L60.2,431.5L60.9,433.2M76.6,436.5L71.6,430.9M73.4,431.5L71.6,430.9L71.9,432.8M86.3,437.2L83.7,430.2M85.2,431.4L83.7,430.2L83.4,432.0M96.8,437.4L95.0,430.0M96.3,431.4L95.0,430.0L94.5,431.8M107.7,437.3L105.9,430.1M107.2,431.4L105.9,430.1L105.3,431.9M9.5,448.2L7.9,440.9M9.2,442.2L7.9,440.9L7.3,442.6M21.6,447.7L17.6,441.3M19.3,442.2L17.6,441.3L17.7,443.2M32.9,447.4L28.1,441.7M29.8,442.3L28.1,441.7L28.4,443.5M43.3,447.8L39.5,441.3M41.1,442.2L39.5,441.3L39.5,443.2M54.0,447.9L50.6,441.2M52.2,442.2L50.6,441.2L50.5,443.1M65.2,447.7L61.2,441.4M62.8,442.2L61.2,441.4L61.2,443.3M76.2,447.7L72.0,441.4M73.7,442.2L72.0,441.4L72.1,443.3M85.7,448.2L84.3,440.9M85.5,442.2L84.3,440.9L83.6,442.6M96.1,448.3L95.7,440.8M96.8,442.4L95.7,440.8L94.8,442.4M106.9,448.3L106.7,440.8M107.7,442.4L106.7,440.8L105.8,442.4M10.3,458.8L7.1,452.0M8.6,453.0L7.1,452.0L6.9,453.9M21.2,458.8L18.0,452.0M19.6,453.0L18.0,452.0L17.8,453.8M32.4,458.6L28.6,452.2M30.2,453.0L28.6,452.2L28.6,454.0M43.3,458.6L39.5,452.1M41.2,453.0L39.5,452.1L39.5,454.0M53.9,458.8L50.7,452.0M52.2,453.0L50.7,452.0L50.5,453.9M64.1,459.0L62.3,451.8M63.6,453.1L62.3,451.8L61.7,453.5M74.8,459.1L73.4,451.7M74.7,453.1L73.4,451.7L72.8,453.4M85.5,459.1L84.5,451.7M85.7,453.1L84.5,451.7L83.8,453.4M96.1,459.1L95.7,451.6M96.8,453.2L95.7,451.6L94.8,453.3M106.5,459.1L107.1,451.7M107.9,453.3L107.1,451.7L106.0,453.2M9.8,469.8L7.6,462.7M9.0,463.9L7.6,462.7L7.1,464.5M20.8,469.8L18.4,462.7M19.8,463.9L18.4,462.7L18.0,464.5M31.7,469.8L29.3,462.7M30.7,463.9L29.3,462.7L28.9,464.5M42.6,469.8L40.2,462.7M41.6,463.9L40.2,462.7L39.8,464.5M53.4,469.8L51.2,462.7M52.6,463.9L51.2,462.7L50.7,464.5M63.8,469.9L62.6,462.5M63.8,463.9L62.6,462.5L61.9,464.3M74.4,470.0L73.8,462.5M74.9,464.0L73.8,462.5L72.9,464.2M84.6,470.0L85.4,462.5M86.2,464.2L85.4,462.5L84.2,464.0M95.4,469.9L96.4,462.5M97.2,464.2L96.4,462.5L95.3,464.0M106.6,470.0L107.0,462.5M107.8,464.1L107.0,462.5L105.9,464.0M9.8,480.6L7.6,473.5M9.0,474.7L7.6,473.5L7.1,475.3M20.9,480.6L18.3,473.6M19.7,474.7L18.3,473.6L17.9,475.4M32.2,480.4L28.8,473.7M30.4,474.7L28.8,473.7L28.7,475.6M43.2,480.4L39.6,473.8M41.2,474.7L39.6,473.8L39.5,475.6M53.5,480.6L51.1,473.5M52.5,474.7L51.1,473.5L50.7,475.4M63.5,480.8L62.9,473.3M64.0,474.9L62.9,473.3L62.1,475.0M73.2,480.7L75.0,473.4M75.5,475.2L75.0,473.4L73.7,474.8M82.1,479.5L87.9,474.7M87.3,476.4L87.9,474.7L86.0,475.0M92.6,478.9L99.2,475.3M98.2,476.9L99.2,475.3L97.3,475.2M103.1,476.8L110.5,477.4M108.9,478.2L110.5,477.4L109.0,476.3M10.5,491.2L6.9,484.6M8.5,485.6L6.9,484.6L6.8,486.5M21.3,491.2L17.9,484.6M19.4,485.6L17.9,484.6L17.8,486.5M32.8,490.9L28.2,485.0M29.9,485.6L28.2,485.0L28.4,486.8M44.8,489.4L38.0,486.4M39.8,486.2L38.0,486.4L39.0,487.9M55.8,486.7L48.8,489.2M50.0,487.7L48.8,489.2L50.6,489.5M61.0,484.9L65.4,491.0M63.7,490.2L65.4,491.0L65.2,489.1M72.0,484.8L76.2,491.0M74.5,490.2L76.2,491.0L76.1,489.2M83.1,484.7L86.9,491.1M85.3,490.3L86.9,491.1L86.9,489.3M94.0,484.7L97.8,491.2M96.1,490.3L97.8,491.2L97.8,489.3M104.9,484.7L108.7,491.2M107.1,490.3L108.7,491.2L108.7,489.3M11.1,495.9L6.3,501.7M6.6,499.8L6.3,501.7L8.1,501.0M20.7,495.2L18.5,502.3M18.0,500.5L18.5,502.3L19.9,501.1M31.0,495.0L30.0,502.5M29.3,500.8L30.0,502.5L31.2,501.0M41.6,495.0L41.2,502.5M40.3,500.9L41.2,502.5L42.3,501.0M51.5,495.1L53.1,502.4M51.8,501.1L53.1,502.4L53.7,500.7M62.2,495.2L64.2,502.4M62.9,501.1L64.2,502.4L64.7,500.6M73.1,495.1L75.1,502.4M73.7,501.1L75.1,502.4L75.6,500.6M84.0,495.2L86.0,502.4M84.7,501.1L86.0,502.4L86.5,500.6M95.0,495.1L96.8,502.4M95.5,501.1L96.8,502.4L97.4,500.6M105.9,495.1L107.7,502.4M106.4,501.1L107.7,502.4L108.2,500.6M8.8,505.9L8.6,513.4M7.7,511.7L8.6,513.4L9.6,511.8M19.7,505.9L19.5,513.4M18.6,511.7L19.5,513.4L20.5,511.8M30.6,505.9L30.4,513.4M29.5,511.7L30.4,513.4L31.4,511.8M41.3,505.9L41.5,513.4M40.5,511.8L41.5,513.4L42.4,511.7M50.9,506.1L53.7,513.1M52.2,512.0L53.7,513.1L54.0,511.3M61.5,506.3L64.9,512.9M63.4,512.0L64.9,512.9L65.0,511.1M72.5,506.2L75.7,513.0M74.1,512.0L75.7,513.0L75.9,511.1M83.5,506.2L86.5,513.1M85.0,512.0L86.5,513.1L86.7,511.2M94.5,506.1L97.3,513.1M95.8,512.0L97.3,513.1L97.6,511.3M105.6,506.1L108.0,513.2M106.6,512.0L108.0,513.2L108.4,511.3M8.7,516.7L8.7,524.2M7.7,522.6L8.7,524.2L9.6,522.6M20.0,516.7L19.2,524.2M18.4,522.5L19.2,524.2L20.3,522.7M30.5,516.7L30.5,524.2M29.6,522.6L30.5,524.2L31.5,522.6M40.6,516.8L42.2,524.1M41.0,522.8L42.2,524.1L42.8,522.3M50.4,517.2L54.2,523.7M52.6,522.8L54.2,523.7L54.2,521.8M61.2,517.3L65.2,523.6M63.5,522.8L65.2,523.6L65.2,521.8M72.2,517.2L76.0,523.7M74.3,522.8L76.0,523.7L76.0,521.8M83.1,517.2L86.9,523.7M85.2,522.8L86.9,523.7L86.9,521.8M93.9,517.3L97.9,523.6M96.3,522.8L97.9,523.6L97.9,521.7M105.0,517.2L108.6,523.7M107.0,522.8L108.6,523.7L108.7,521.9M8.7,527.6L8.7,535.0M7.7,533.5L8.7,535.0L9.7,533.4M19.6,527.6L19.6,535.0M18.6,533.5L19.6,535.0L20.6,533.4M29.6,527.7L31.4,534.9M30.1,533.6L31.4,534.9L32.0,533.1M39.6,528.0L43.2,534.6M41.6,533.6L43.2,534.6L43.3,532.7M50.0,528.4L54.6,534.2M52.9,533.6L54.6,534.2L54.4,532.4M61.1,528.2L65.3,534.4M63.6,533.6L65.3,534.4L65.2,532.6M72.5,527.9L75.7,534.7M74.2,533.7L75.7,534.7L75.9,532.8M84.0,527.7L86.0,534.9M84.7,533.6L86.0,534.9L86.5,533.1M94.7,527.8L97.1,534.8M95.7,533.6L97.1,534.8L97.5,533.0M105.3,527.8L108.3,534.8M106.8,533.7L108.3,534.8L108.5,532.9" fill="none" stroke="#000" stroke-width="0.35" stroke-opacity="0.55" stroke-linecap="round" stroke-linejoin="round"/></g><line x1="46" y1="81.3" x2="23.276730338990657" y2="87.67846165923069" stroke="#000" stroke-width="2.0"/><polygon points="17.5,89.3 22.4,84.4 24.2,91.0" fill="#000"/><line x1="64" y1="88" x2="70.78516927019533" y2="110.75027343536081" stroke="#000" stroke-width="2.0"/><polygon points="72.5,116.5 67.5,111.7 74.0,109.8" fill="#000"/><text x="43.5" y="78.3" font-size="7" text-anchor="middle" fill="#fff">A</text><text x="14.7" y="87.4" font-size="7" text-anchor="middle" fill="#fff">B</text><text x="59.3" y="92.5" font-size="7" text-anchor="middle" fill="#fff">C</text><text x="76.8" y="117.3" font-size="7" text-anchor="middle" fill="#fff">D</text><text x="7" y="123.3" font-size="7.4" textLength="18.8" lengthAdjust="spacingAndGlyphs" fill="#222">1 mm</text><line x1="7" y1="126.5" x2="19" y2="126.5" stroke="#444" stroke-width="1"/><rect x="108.4" y="28.6" width="4.8" height="101" fill="url(#jetg)" stroke="#333" stroke-width="0.5"/><text x="115.6" y="132.6" font-size="8.3" fill="#111">0</text><text x="115.6" y="115.25999999999999" font-size="8.3" fill="#111">4</text><text x="115.6" y="97.91999999999999" font-size="8.3" fill="#111">8</text><text x="115.6" y="80.58" font-size="8.3" fill="#111">12</text><text x="115.6" y="63.239999999999995" font-size="8.3" fill="#111">16</text><text x="115.6" y="45.89999999999999" font-size="8.3" fill="#111">20</text><text x="133.3" y="84.7" font-size="8.5" text-anchor="middle" textLength="37.9" lengthAdjust="spacingAndGlyphs" transform="rotate(-90 133.3 84.7)" fill="#111">Time (ms)</text><polyline points="172.4,59.3 176.8,59.3 177.3,50.0 177.6,44.0 178.5,42.5 181.0,41.4 183.5,41.0 186.0,41.5 190.0,42.6 194.0,43.8 198.0,44.5 202.0,46.0 205.0,48.0 208.0,51.5 211.0,55.0 214.0,57.6 217.0,58.3 222.0,58.6 226.7,58.8" fill="none" stroke="#7474d4" stroke-width="1.0" stroke-linejoin="round" stroke-linecap="round"/><polyline points="172.4,79.0 177.0,79.0 177.5,70.0 178.0,65.5 180.0,64.2 183.0,63.4 186.0,63.5 190.0,64.5 195.0,65.3 200.0,66.8 204.0,68.5 207.0,71.0 211.0,75.0 214.5,77.6 218.0,78.3 226.7,78.6" fill="none" stroke="#6edc6e" stroke-width="1.0" stroke-linejoin="round" stroke-linecap="round"/><polyline points="173.2,101.7 178.8,101.7 179.3,92.0 179.8,86.0 181.5,84.5 184.4,83.6 187.0,84.2 190.0,86.3 194.0,88.0 198.0,89.0 201.0,90.0 204.0,92.0 207.0,95.5 210.0,98.8 213.0,100.8 217.0,101.5 227.5,102.2" fill="none" stroke="#d874b8" stroke-width="1.0" stroke-linejoin="round" stroke-linecap="round"/><polyline points="172.4,122.0 177.8,122.0 178.2,110.0 178.6,106.0 180.5,105.0 183.9,103.9 186.5,104.8 189.0,106.8 193.0,108.0 197.0,109.0 201.0,109.8 204.0,111.3 207.0,114.5 210.0,118.0 212.7,120.4 216.0,121.3 226.7,121.5" fill="none" stroke="#4a4a4a" stroke-width="1.0" stroke-linejoin="round" stroke-linecap="round"/><polyline points="235.4,59.9 238.0,60.3 240.3,60.5 242.3,59.0 244.0,56.5 245.5,53.0 247.5,49.5 250.0,46.8 254.0,44.9 260.0,44.0 268.0,43.6 278.5,43.3" fill="none" stroke="#7474d4" stroke-width="1.0" stroke-linejoin="round" stroke-linecap="round"/><polyline points="235.4,78.8 240.0,78.6 244.0,78.3 246.4,77.2 248.0,75.5 249.5,72.0 251.0,68.5 253.0,66.5 256.0,65.3 262.0,64.8 270.0,64.5 278.5,64.3" fill="none" stroke="#6edc6e" stroke-width="1.0" stroke-linejoin="round" stroke-linecap="round"/><polyline points="235.4,101.1 240.0,100.8 243.0,100.2 244.5,99.0 246.0,97.0 247.6,94.5 249.5,90.5 251.5,87.5 253.5,85.8 258.0,85.0 266.0,84.4 278.5,83.8" fill="none" stroke="#d874b8" stroke-width="1.0" stroke-linejoin="round" stroke-linecap="round"/><polyline points="235.4,121.3 242.0,121.1 246.4,120.5 250.0,119.0 253.0,117.0 255.0,115.0 256.8,112.1 258.5,108.5 260.2,105.5 262.0,104.5 266.0,104.8 270.0,105.3 274.0,104.8 278.5,105.2" fill="none" stroke="#4a4a4a" stroke-width="1.0" stroke-linejoin="round" stroke-linecap="round"/><circle cx="244.9" cy="54.4" r="1.3" fill="#ee2020"/><circle cx="249.2" cy="72.9" r="1.3" fill="#ee2020"/><circle cx="247.6" cy="94.5" r="1.3" fill="#ee2020"/><circle cx="256.8" cy="112.1" r="1.3" fill="#ee2020"/><text x="164.2" y="62" font-size="8.8" class="ns" fill="#2a2a2a">A</text><text x="164.2" y="82" font-size="8.8" class="ns" fill="#2a2a2a">B</text><text x="164.2" y="106" font-size="8.8" class="ns" fill="#2a2a2a">C</text><text x="164.2" y="122.4" font-size="8.8" class="ns" fill="#2a2a2a">D</text><line x1="172.4" y1="124.3" x2="226.7" y2="124.3" stroke="#9a9a9a" stroke-width="1.8"/><line x1="235.4" y1="124.6" x2="277.8" y2="124.6" stroke="#9a9a9a" stroke-width="1.8"/><text x="187.7" y="133.4" font-size="8.8" textLength="29.1" lengthAdjust="spacingAndGlyphs" fill="#111">600 ms</text><text x="241.5" y="134" font-size="8.8" textLength="24.5" lengthAdjust="spacingAndGlyphs" fill="#111">95 ms</text><line x1="326.6" y1="32.4" x2="326.6" y2="131.6" stroke="#888" stroke-width="0.9"/><text x="324.7" y="131.6" font-size="8.8" text-anchor="end" fill="#111">0</text><text x="324.7" y="115.86000000000001" font-size="8.8" text-anchor="end" fill="#111">10</text><text x="324.7" y="100.12" font-size="8.8" text-anchor="end" fill="#111">20</text><text x="324.7" y="84.38000000000001" font-size="8.8" text-anchor="end" fill="#111">30</text><text x="324.7" y="68.64" font-size="8.8" text-anchor="end" fill="#111">40</text><text x="324.7" y="52.900000000000006" font-size="8.8" text-anchor="end" fill="#111">50</text><text x="324.7" y="37.16000000000001" font-size="8.8" text-anchor="end" fill="#111">60</text><rect x="335.3" y="35.2" width="22.2" height="96.4" fill="#00008c"/><rect x="363" y="106.5" width="22.4" height="25.1" fill="#00008c"/><text x="308.6" y="90.4" font-size="8.8" text-anchor="middle" textLength="47.8" lengthAdjust="spacingAndGlyphs" transform="rotate(-90 308.6 90.4)" fill="#111">CV (cm/s)</text><rect x="150.85" y="254.85" width="5.48" height="6.95" fill="#2f2b92" stroke="#0c0c2a" stroke-width="0.8"/><rect x="157.23" y="256.46" width="5.48" height="5.34" fill="#2f2b92" stroke="#0c0c2a" stroke-width="0.8"/><rect x="163.62" y="250.87" width="5.48" height="10.93" fill="#2f2b92" stroke="#0c0c2a" stroke-width="0.8"/><rect x="170.00" y="251.27" width="5.48" height="10.53" fill="#2f2b92" stroke="#0c0c2a" stroke-width="0.8"/><rect x="176.38" y="224.66" width="5.48" height="37.14" fill="#2f2b92" stroke="#0c0c2a" stroke-width="0.8"/><rect x="182.77" y="183.75" width="5.48" height="78.05" fill="#2f2b92" stroke="#0c0c2a" stroke-width="0.8"/><rect x="189.15" y="218.11" width="5.48" height="43.69" fill="#2f2b92" stroke="#0c0c2a" stroke-width="0.8"/><rect x="195.53" y="256.81" width="5.48" height="4.99" fill="#2f2b92" stroke="#0c0c2a" stroke-width="0.8"/><rect x="201.92" y="259.78" width="5.48" height="2.02" fill="#2f2b92" stroke="#0c0c2a" stroke-width="0.8"/><rect x="208.30" y="258.27" width="5.48" height="3.53" fill="#2f2b92" stroke="#0c0c2a" stroke-width="0.8"/><rect x="214.68" y="259.53" width="5.48" height="2.27" fill="#2f2b92" stroke="#0c0c2a" stroke-width="0.8"/><rect x="221.07" y="257.26" width="5.48" height="4.54" fill="#2f2b92" stroke="#0c0c2a" stroke-width="0.8"/><rect x="227.45" y="247.19" width="5.48" height="14.61" fill="#2f2b92" stroke="#0c0c2a" stroke-width="0.8"/><rect x="233.83" y="215.69" width="5.48" height="46.11" fill="#2f2b92" stroke="#0c0c2a" stroke-width="0.8"/><rect x="240.22" y="180.17" width="5.48" height="81.63" fill="#2f2b92" stroke="#0c0c2a" stroke-width="0.8"/><rect x="246.60" y="204.36" width="5.48" height="57.44" fill="#2f2b92" stroke="#0c0c2a" stroke-width="0.8"/><rect x="252.98" y="254.24" width="5.48" height="7.56" fill="#2f2b92" stroke="#0c0c2a" stroke-width="0.8"/><rect x="259.37" y="260.29" width="5.48" height="1.51" fill="#2f2b92" stroke="#0c0c2a" stroke-width="0.8"/><rect x="150.4" y="171.1" width="114.9" height="90.70000000000002" fill="none" stroke="#7a7a7a" stroke-width="0.8"/><line x1="159.975" y1="171.1" x2="159.975" y2="172.7" stroke="#7a7a7a" stroke-width="0.7"/><line x1="159.975" y1="261.8" x2="159.975" y2="260.2" stroke="#7a7a7a" stroke-width="0.7"/><line x1="172.74166666666667" y1="171.1" x2="172.74166666666667" y2="172.7" stroke="#7a7a7a" stroke-width="0.7"/><line x1="172.74166666666667" y1="261.8" x2="172.74166666666667" y2="260.2" stroke="#7a7a7a" stroke-width="0.7"/><line x1="185.50833333333333" y1="171.1" x2="185.50833333333333" y2="172.7" stroke="#7a7a7a" stroke-width="0.7"/><line x1="185.50833333333333" y1="261.8" x2="185.50833333333333" y2="260.2" stroke="#7a7a7a" stroke-width="0.7"/><line x1="198.275" y1="171.1" x2="198.275" y2="172.7" stroke="#7a7a7a" stroke-width="0.7"/><line x1="198.275" y1="261.8" x2="198.275" y2="260.2" stroke="#7a7a7a" stroke-width="0.7"/><line x1="211.04166666666669" y1="171.1" x2="211.04166666666669" y2="172.7" stroke="#7a7a7a" stroke-width="0.7"/><line x1="211.04166666666669" y1="261.8" x2="211.04166666666669" y2="260.2" stroke="#7a7a7a" stroke-width="0.7"/><line x1="223.80833333333334" y1="171.1" x2="223.80833333333334" y2="172.7" stroke="#7a7a7a" stroke-width="0.7"/><line x1="223.80833333333334" y1="261.8" x2="223.80833333333334" y2="260.2" stroke="#7a7a7a" stroke-width="0.7"/><line x1="236.575" y1="171.1" x2="236.575" y2="172.7" stroke="#7a7a7a" stroke-width="0.7"/><line x1="236.575" y1="261.8" x2="236.575" y2="260.2" stroke="#7a7a7a" stroke-width="0.7"/><line x1="249.34166666666667" y1="171.1" x2="249.34166666666667" y2="172.7" stroke="#7a7a7a" stroke-width="0.7"/><line x1="249.34166666666667" y1="261.8" x2="249.34166666666667" y2="260.2" stroke="#7a7a7a" stroke-width="0.7"/><line x1="262.10833333333335" y1="171.1" x2="262.10833333333335" y2="172.7" stroke="#7a7a7a" stroke-width="0.7"/><line x1="262.10833333333335" y1="261.8" x2="262.10833333333335" y2="260.2" stroke="#7a7a7a" stroke-width="0.7"/><line x1="150.4" y1="261.8" x2="152.0" y2="261.8" stroke="#7a7a7a" stroke-width="0.7"/><line x1="265.3" y1="261.8" x2="263.7" y2="261.8" stroke="#7a7a7a" stroke-width="0.7"/><line x1="150.4" y1="251.72222222222223" x2="152.0" y2="251.72222222222223" stroke="#7a7a7a" stroke-width="0.7"/><line x1="265.3" y1="251.72222222222223" x2="263.7" y2="251.72222222222223" stroke="#7a7a7a" stroke-width="0.7"/><line x1="150.4" y1="241.64444444444445" x2="152.0" y2="241.64444444444445" stroke="#7a7a7a" stroke-width="0.7"/><line x1="265.3" y1="241.64444444444445" x2="263.7" y2="241.64444444444445" stroke="#7a7a7a" stroke-width="0.7"/><line x1="150.4" y1="231.56666666666666" x2="152.0" y2="231.56666666666666" stroke="#7a7a7a" stroke-width="0.7"/><line x1="265.3" y1="231.56666666666666" x2="263.7" y2="231.56666666666666" stroke="#7a7a7a" stroke-width="0.7"/><line x1="150.4" y1="221.48888888888888" x2="152.0" y2="221.48888888888888" stroke="#7a7a7a" stroke-width="0.7"/><line x1="265.3" y1="221.48888888888888" x2="263.7" y2="221.48888888888888" stroke="#7a7a7a" stroke-width="0.7"/><line x1="150.4" y1="211.4111111111111" x2="152.0" y2="211.4111111111111" stroke="#7a7a7a" stroke-width="0.7"/><line x1="265.3" y1="211.4111111111111" x2="263.7" y2="211.4111111111111" stroke="#7a7a7a" stroke-width="0.7"/><line x1="150.4" y1="201.33333333333331" x2="152.0" y2="201.33333333333331" stroke="#7a7a7a" stroke-width="0.7"/><line x1="265.3" y1="201.33333333333331" x2="263.7" y2="201.33333333333331" stroke="#7a7a7a" stroke-width="0.7"/><line x1="150.4" y1="191.25555555555553" x2="152.0" y2="191.25555555555553" stroke="#7a7a7a" stroke-width="0.7"/><line x1="265.3" y1="191.25555555555553" x2="263.7" y2="191.25555555555553" stroke="#7a7a7a" stroke-width="0.7"/><line x1="150.4" y1="181.17777777777778" x2="152.0" y2="181.17777777777778" stroke="#7a7a7a" stroke-width="0.7"/><line x1="265.3" y1="181.17777777777778" x2="263.7" y2="181.17777777777778" stroke="#7a7a7a" stroke-width="0.7"/><line x1="150.4" y1="171.1" x2="152.0" y2="171.1" stroke="#7a7a7a" stroke-width="0.7"/><line x1="265.3" y1="171.1" x2="263.7" y2="171.1" stroke="#7a7a7a" stroke-width="0.7"/><text x="148.6" y="264.8" font-size="8.6" text-anchor="end" fill="#111">0</text><text x="148.6" y="244.64444444444445" font-size="8.6" text-anchor="end" fill="#111">400</text><text x="148.6" y="224.48888888888888" font-size="8.6" text-anchor="end" fill="#111">800</text><text x="148.6" y="204.33333333333331" font-size="8.6" text-anchor="end" fill="#111">1200</text><text x="148.6" y="184.17777777777778" font-size="8.6" text-anchor="end" fill="#111">1600</text><text x="157.475" y="269.8" font-size="8.6" text-anchor="middle" fill="#111">−150</text><text x="183.00833333333333" y="269.8" font-size="8.6" text-anchor="middle" fill="#111">−70</text><text x="211.04166666666669" y="269.8" font-size="8.6" text-anchor="middle" fill="#111">10</text><text x="236.575" y="269.8" font-size="8.6" text-anchor="middle" fill="#111">90</text><text x="262.10833333333335" y="269.8" font-size="8.6" text-anchor="middle" fill="#111">170</text><text x="209" y="279.0" font-size="10" text-anchor="middle" textLength="70.5" lengthAdjust="spacingAndGlyphs" fill="#111">angle (degrees)</text><text x="128.6" y="214.3" font-size="8.9" text-anchor="middle" textLength="73" lengthAdjust="spacingAndGlyphs" transform="rotate(-90 128.6 214.3)" fill="#111">Number of vectors</text><text x="153.3" y="164.4" font-size="8.4" font-weight="bold" textLength="106.3" lengthAdjust="spacingAndGlyphs" fill="#111">Number of vectors per bin</text><rect x="150.85" y="381.78" width="5.48" height="4.53" fill="#2f2b92" stroke="#0c0c2a" stroke-width="0.8"/><rect x="157.23" y="381.78" width="5.48" height="4.53" fill="#2f2b92" stroke="#0c0c2a" stroke-width="0.8"/><rect x="163.62" y="370.46" width="5.48" height="15.84" fill="#2f2b92" stroke="#0c0c2a" stroke-width="0.8"/><rect x="170.00" y="371.59" width="5.48" height="14.71" fill="#2f2b92" stroke="#0c0c2a" stroke-width="0.8"/><rect x="176.38" y="354.62" width="5.48" height="31.68" fill="#2f2b92" stroke="#0c0c2a" stroke-width="0.8"/><rect x="182.77" y="316.16" width="5.48" height="70.14" fill="#2f2b92" stroke="#0c0c2a" stroke-width="0.8"/><rect x="189.15" y="341.05" width="5.48" height="45.25" fill="#2f2b92" stroke="#0c0c2a" stroke-width="0.8"/><rect x="195.53" y="382.53" width="5.48" height="3.77" fill="#2f2b92" stroke="#0c0c2a" stroke-width="0.8"/><rect x="201.92" y="384.04" width="5.48" height="2.26" fill="#2f2b92" stroke="#0c0c2a" stroke-width="0.8"/><rect x="208.30" y="383.28" width="5.48" height="3.02" fill="#2f2b92" stroke="#0c0c2a" stroke-width="0.8"/><rect x="214.68" y="383.28" width="5.48" height="3.02" fill="#2f2b92" stroke="#0c0c2a" stroke-width="0.8"/><rect x="221.07" y="381.78" width="5.48" height="4.53" fill="#2f2b92" stroke="#0c0c2a" stroke-width="0.8"/><rect x="227.45" y="367.45" width="5.48" height="18.85" fill="#2f2b92" stroke="#0c0c2a" stroke-width="0.8"/><rect x="233.83" y="358.40" width="5.48" height="27.90" fill="#2f2b92" stroke="#0c0c2a" stroke-width="0.8"/><rect x="240.22" y="301.08" width="5.48" height="85.22" fill="#2f2b92" stroke="#0c0c2a" stroke-width="0.8"/><rect x="246.60" y="323.70" width="5.48" height="62.60" fill="#2f2b92" stroke="#0c0c2a" stroke-width="0.8"/><rect x="252.98" y="382.53" width="5.48" height="3.77" fill="#2f2b92" stroke="#0c0c2a" stroke-width="0.8"/><rect x="259.37" y="381.78" width="5.48" height="4.53" fill="#2f2b92" stroke="#0c0c2a" stroke-width="0.8"/><rect x="150.4" y="295.8" width="114.9" height="90.5" fill="none" stroke="#7a7a7a" stroke-width="0.8"/><line x1="159.975" y1="295.8" x2="159.975" y2="297.40000000000003" stroke="#7a7a7a" stroke-width="0.7"/><line x1="159.975" y1="386.3" x2="159.975" y2="384.7" stroke="#7a7a7a" stroke-width="0.7"/><line x1="172.74166666666667" y1="295.8" x2="172.74166666666667" y2="297.40000000000003" stroke="#7a7a7a" stroke-width="0.7"/><line x1="172.74166666666667" y1="386.3" x2="172.74166666666667" y2="384.7" stroke="#7a7a7a" stroke-width="0.7"/><line x1="185.50833333333333" y1="295.8" x2="185.50833333333333" y2="297.40000000000003" stroke="#7a7a7a" stroke-width="0.7"/><line x1="185.50833333333333" y1="386.3" x2="185.50833333333333" y2="384.7" stroke="#7a7a7a" stroke-width="0.7"/><line x1="198.275" y1="295.8" x2="198.275" y2="297.40000000000003" stroke="#7a7a7a" stroke-width="0.7"/><line x1="198.275" y1="386.3" x2="198.275" y2="384.7" stroke="#7a7a7a" stroke-width="0.7"/><line x1="211.04166666666669" y1="295.8" x2="211.04166666666669" y2="297.40000000000003" stroke="#7a7a7a" stroke-width="0.7"/><line x1="211.04166666666669" y1="386.3" x2="211.04166666666669" y2="384.7" stroke="#7a7a7a" stroke-width="0.7"/><line x1="223.80833333333334" y1="295.8" x2="223.80833333333334" y2="297.40000000000003" stroke="#7a7a7a" stroke-width="0.7"/><line x1="223.80833333333334" y1="386.3" x2="223.80833333333334" y2="384.7" stroke="#7a7a7a" stroke-width="0.7"/><line x1="236.575" y1="295.8" x2="236.575" y2="297.40000000000003" stroke="#7a7a7a" stroke-width="0.7"/><line x1="236.575" y1="386.3" x2="236.575" y2="384.7" stroke="#7a7a7a" stroke-width="0.7"/><line x1="249.34166666666667" y1="295.8" x2="249.34166666666667" y2="297.40000000000003" stroke="#7a7a7a" stroke-width="0.7"/><line x1="249.34166666666667" y1="386.3" x2="249.34166666666667" y2="384.7" stroke="#7a7a7a" stroke-width="0.7"/><line x1="262.10833333333335" y1="295.8" x2="262.10833333333335" y2="297.40000000000003" stroke="#7a7a7a" stroke-width="0.7"/><line x1="262.10833333333335" y1="386.3" x2="262.10833333333335" y2="384.7" stroke="#7a7a7a" stroke-width="0.7"/><line x1="150.4" y1="386.3" x2="152.0" y2="386.3" stroke="#7a7a7a" stroke-width="0.7"/><line x1="265.3" y1="386.3" x2="263.7" y2="386.3" stroke="#7a7a7a" stroke-width="0.7"/><line x1="150.4" y1="371.2166666666667" x2="152.0" y2="371.2166666666667" stroke="#7a7a7a" stroke-width="0.7"/><line x1="265.3" y1="371.2166666666667" x2="263.7" y2="371.2166666666667" stroke="#7a7a7a" stroke-width="0.7"/><line x1="150.4" y1="356.1333333333333" x2="152.0" y2="356.1333333333333" stroke="#7a7a7a" stroke-width="0.7"/><line x1="265.3" y1="356.1333333333333" x2="263.7" y2="356.1333333333333" stroke="#7a7a7a" stroke-width="0.7"/><line x1="150.4" y1="341.05" x2="152.0" y2="341.05" stroke="#7a7a7a" stroke-width="0.7"/><line x1="265.3" y1="341.05" x2="263.7" y2="341.05" stroke="#7a7a7a" stroke-width="0.7"/><line x1="150.4" y1="325.9666666666667" x2="152.0" y2="325.9666666666667" stroke="#7a7a7a" stroke-width="0.7"/><line x1="265.3" y1="325.9666666666667" x2="263.7" y2="325.9666666666667" stroke="#7a7a7a" stroke-width="0.7"/><line x1="150.4" y1="310.8833333333333" x2="152.0" y2="310.8833333333333" stroke="#7a7a7a" stroke-width="0.7"/><line x1="265.3" y1="310.8833333333333" x2="263.7" y2="310.8833333333333" stroke="#7a7a7a" stroke-width="0.7"/><line x1="150.4" y1="295.8" x2="152.0" y2="295.8" stroke="#7a7a7a" stroke-width="0.7"/><line x1="265.3" y1="295.8" x2="263.7" y2="295.8" stroke="#7a7a7a" stroke-width="0.7"/><text x="148.6" y="389.3" font-size="8.6" text-anchor="end" fill="#111">0</text><text x="148.6" y="359.1333333333333" font-size="8.6" text-anchor="end" fill="#111">40</text><text x="148.6" y="328.9666666666667" font-size="8.6" text-anchor="end" fill="#111">80</text><text x="148.6" y="298.8" font-size="8.6" text-anchor="end" fill="#111">120</text><text x="157.475" y="394.3" font-size="8.6" text-anchor="middle" fill="#111">−150</text><text x="183.00833333333333" y="394.3" font-size="8.6" text-anchor="middle" fill="#111">−70</text><text x="211.04166666666669" y="394.3" font-size="8.6" text-anchor="middle" fill="#111">10</text><text x="236.575" y="394.3" font-size="8.6" text-anchor="middle" fill="#111">90</text><text x="262.10833333333335" y="394.3" font-size="8.6" text-anchor="middle" fill="#111">170</text><text x="209" y="403.5" font-size="10" text-anchor="middle" textLength="70.5" lengthAdjust="spacingAndGlyphs" fill="#111">angle (degrees)</text><text x="133.3" y="335.7" font-size="8.9" text-anchor="middle" textLength="73" lengthAdjust="spacingAndGlyphs" transform="rotate(-90 133.3 335.7)" fill="#111">Number of vectors</text><text x="153.3" y="293.3" font-size="8.4" font-weight="bold" textLength="106.3" lengthAdjust="spacingAndGlyphs" fill="#111">Number of vectors per bin</text><rect x="163.62" y="515.42" width="5.48" height="10.08" fill="#2f2b92" stroke="#0c0c2a" stroke-width="0.8"/><rect x="170.00" y="515.42" width="5.48" height="10.08" fill="#2f2b92" stroke="#0c0c2a" stroke-width="0.8"/><rect x="176.38" y="490.23" width="5.48" height="35.27" fill="#2f2b92" stroke="#0c0c2a" stroke-width="0.8"/><rect x="182.77" y="470.07" width="5.48" height="55.43" fill="#2f2b92" stroke="#0c0c2a" stroke-width="0.8"/><rect x="189.15" y="490.23" width="5.48" height="35.27" fill="#2f2b92" stroke="#0c0c2a" stroke-width="0.8"/><rect x="208.30" y="520.46" width="5.48" height="5.04" fill="#2f2b92" stroke="#0c0c2a" stroke-width="0.8"/><rect x="214.68" y="520.46" width="5.48" height="5.04" fill="#2f2b92" stroke="#0c0c2a" stroke-width="0.8"/><rect x="227.45" y="515.42" width="5.48" height="10.08" fill="#2f2b92" stroke="#0c0c2a" stroke-width="0.8"/><rect x="233.83" y="495.27" width="5.48" height="30.23" fill="#2f2b92" stroke="#0c0c2a" stroke-width="0.8"/><rect x="240.22" y="439.84" width="5.48" height="85.66" fill="#2f2b92" stroke="#0c0c2a" stroke-width="0.8"/><rect x="246.60" y="500.31" width="5.48" height="25.19" fill="#2f2b92" stroke="#0c0c2a" stroke-width="0.8"/><rect x="252.98" y="515.42" width="5.48" height="10.08" fill="#2f2b92" stroke="#0c0c2a" stroke-width="0.8"/><rect x="259.37" y="520.46" width="5.48" height="5.04" fill="#2f2b92" stroke="#0c0c2a" stroke-width="0.8"/><rect x="150.4" y="434.8" width="114.9" height="90.69999999999999" fill="none" stroke="#7a7a7a" stroke-width="0.8"/><line x1="159.975" y1="434.8" x2="159.975" y2="436.40000000000003" stroke="#7a7a7a" stroke-width="0.7"/><line x1="159.975" y1="525.5" x2="159.975" y2="523.9" stroke="#7a7a7a" stroke-width="0.7"/><line x1="172.74166666666667" y1="434.8" x2="172.74166666666667" y2="436.40000000000003" stroke="#7a7a7a" stroke-width="0.7"/><line x1="172.74166666666667" y1="525.5" x2="172.74166666666667" y2="523.9" stroke="#7a7a7a" stroke-width="0.7"/><line x1="185.50833333333333" y1="434.8" x2="185.50833333333333" y2="436.40000000000003" stroke="#7a7a7a" stroke-width="0.7"/><line x1="185.50833333333333" y1="525.5" x2="185.50833333333333" y2="523.9" stroke="#7a7a7a" stroke-width="0.7"/><line x1="198.275" y1="434.8" x2="198.275" y2="436.40000000000003" stroke="#7a7a7a" stroke-width="0.7"/><line x1="198.275" y1="525.5" x2="198.275" y2="523.9" stroke="#7a7a7a" stroke-width="0.7"/><line x1="211.04166666666669" y1="434.8" x2="211.04166666666669" y2="436.40000000000003" stroke="#7a7a7a" stroke-width="0.7"/><line x1="211.04166666666669" y1="525.5" x2="211.04166666666669" y2="523.9" stroke="#7a7a7a" stroke-width="0.7"/><line x1="223.80833333333334" y1="434.8" x2="223.80833333333334" y2="436.40000000000003" stroke="#7a7a7a" stroke-width="0.7"/><line x1="223.80833333333334" y1="525.5" x2="223.80833333333334" y2="523.9" stroke="#7a7a7a" stroke-width="0.7"/><line x1="236.575" y1="434.8" x2="236.575" y2="436.40000000000003" stroke="#7a7a7a" stroke-width="0.7"/><line x1="236.575" y1="525.5" x2="236.575" y2="523.9" stroke="#7a7a7a" stroke-width="0.7"/><line x1="249.34166666666667" y1="434.8" x2="249.34166666666667" y2="436.40000000000003" stroke="#7a7a7a" stroke-width="0.7"/><line x1="249.34166666666667" y1="525.5" x2="249.34166666666667" y2="523.9" stroke="#7a7a7a" stroke-width="0.7"/><line x1="262.10833333333335" y1="434.8" x2="262.10833333333335" y2="436.40000000000003" stroke="#7a7a7a" stroke-width="0.7"/><line x1="262.10833333333335" y1="525.5" x2="262.10833333333335" y2="523.9" stroke="#7a7a7a" stroke-width="0.7"/><line x1="150.4" y1="525.5" x2="152.0" y2="525.5" stroke="#7a7a7a" stroke-width="0.7"/><line x1="265.3" y1="525.5" x2="263.7" y2="525.5" stroke="#7a7a7a" stroke-width="0.7"/><line x1="150.4" y1="515.4222222222222" x2="152.0" y2="515.4222222222222" stroke="#7a7a7a" stroke-width="0.7"/><line x1="265.3" y1="515.4222222222222" x2="263.7" y2="515.4222222222222" stroke="#7a7a7a" stroke-width="0.7"/><line x1="150.4" y1="505.34444444444443" x2="152.0" y2="505.34444444444443" stroke="#7a7a7a" stroke-width="0.7"/><line x1="265.3" y1="505.34444444444443" x2="263.7" y2="505.34444444444443" stroke="#7a7a7a" stroke-width="0.7"/><line x1="150.4" y1="495.26666666666665" x2="152.0" y2="495.26666666666665" stroke="#7a7a7a" stroke-width="0.7"/><line x1="265.3" y1="495.26666666666665" x2="263.7" y2="495.26666666666665" stroke="#7a7a7a" stroke-width="0.7"/><line x1="150.4" y1="485.18888888888887" x2="152.0" y2="485.18888888888887" stroke="#7a7a7a" stroke-width="0.7"/><line x1="265.3" y1="485.18888888888887" x2="263.7" y2="485.18888888888887" stroke="#7a7a7a" stroke-width="0.7"/><line x1="150.4" y1="475.11111111111114" x2="152.0" y2="475.11111111111114" stroke="#7a7a7a" stroke-width="0.7"/><line x1="265.3" y1="475.11111111111114" x2="263.7" y2="475.11111111111114" stroke="#7a7a7a" stroke-width="0.7"/><line x1="150.4" y1="465.03333333333336" x2="152.0" y2="465.03333333333336" stroke="#7a7a7a" stroke-width="0.7"/><line x1="265.3" y1="465.03333333333336" x2="263.7" y2="465.03333333333336" stroke="#7a7a7a" stroke-width="0.7"/><line x1="150.4" y1="454.9555555555556" x2="152.0" y2="454.9555555555556" stroke="#7a7a7a" stroke-width="0.7"/><line x1="265.3" y1="454.9555555555556" x2="263.7" y2="454.9555555555556" stroke="#7a7a7a" stroke-width="0.7"/><line x1="150.4" y1="444.8777777777778" x2="152.0" y2="444.8777777777778" stroke="#7a7a7a" stroke-width="0.7"/><line x1="265.3" y1="444.8777777777778" x2="263.7" y2="444.8777777777778" stroke="#7a7a7a" stroke-width="0.7"/><line x1="150.4" y1="434.8" x2="152.0" y2="434.8" stroke="#7a7a7a" stroke-width="0.7"/><line x1="265.3" y1="434.8" x2="263.7" y2="434.8" stroke="#7a7a7a" stroke-width="0.7"/><text x="148.6" y="528.5" font-size="8.6" text-anchor="end" fill="#111">0</text><text x="148.6" y="508.34444444444443" font-size="8.6" text-anchor="end" fill="#111">4</text><text x="148.6" y="488.18888888888887" font-size="8.6" text-anchor="end" fill="#111">8</text><text x="148.6" y="468.03333333333336" font-size="8.6" text-anchor="end" fill="#111">12</text><text x="148.6" y="447.8777777777778" font-size="8.6" text-anchor="end" fill="#111">16</text><text x="157.475" y="533.5" font-size="8.6" text-anchor="middle" fill="#111">−150</text><text x="183.00833333333333" y="533.5" font-size="8.6" text-anchor="middle" fill="#111">−70</text><text x="211.04166666666669" y="533.5" font-size="8.6" text-anchor="middle" fill="#111">10</text><text x="236.575" y="533.5" font-size="8.6" text-anchor="middle" fill="#111">90</text><text x="262.10833333333335" y="533.5" font-size="8.6" text-anchor="middle" fill="#111">170</text><text x="209" y="542.7" font-size="10" text-anchor="middle" textLength="70.5" lengthAdjust="spacingAndGlyphs" fill="#111">angle (degrees)</text><text x="135" y="479" font-size="8.9" text-anchor="middle" textLength="73" lengthAdjust="spacingAndGlyphs" transform="rotate(-90 135 479)" fill="#111">Number of vectors</text><text x="153.3" y="430.4" font-size="8.4" font-weight="bold" textLength="106.3" lengthAdjust="spacingAndGlyphs" fill="#111">Number of vectors per bin</text><rect x="300.4" y="171.2" width="114.80000000000001" height="89.90000000000003" fill="none" stroke="#7a7a7a" stroke-width="0.8"/><line x1="309.96666666666664" y1="171.2" x2="309.96666666666664" y2="172.79999999999998" stroke="#7a7a7a" stroke-width="0.7"/><line x1="309.96666666666664" y1="261.1" x2="309.96666666666664" y2="259.5" stroke="#7a7a7a" stroke-width="0.7"/><line x1="322.72222222222223" y1="171.2" x2="322.72222222222223" y2="172.79999999999998" stroke="#7a7a7a" stroke-width="0.7"/><line x1="322.72222222222223" y1="261.1" x2="322.72222222222223" y2="259.5" stroke="#7a7a7a" stroke-width="0.7"/><line x1="335.47777777777776" y1="171.2" x2="335.47777777777776" y2="172.79999999999998" stroke="#7a7a7a" stroke-width="0.7"/><line x1="335.47777777777776" y1="261.1" x2="335.47777777777776" y2="259.5" stroke="#7a7a7a" stroke-width="0.7"/><line x1="348.2333333333333" y1="171.2" x2="348.2333333333333" y2="172.79999999999998" stroke="#7a7a7a" stroke-width="0.7"/><line x1="348.2333333333333" y1="261.1" x2="348.2333333333333" y2="259.5" stroke="#7a7a7a" stroke-width="0.7"/><line x1="360.9888888888889" y1="171.2" x2="360.9888888888889" y2="172.79999999999998" stroke="#7a7a7a" stroke-width="0.7"/><line x1="360.9888888888889" y1="261.1" x2="360.9888888888889" y2="259.5" stroke="#7a7a7a" stroke-width="0.7"/><line x1="373.7444444444444" y1="171.2" x2="373.7444444444444" y2="172.79999999999998" stroke="#7a7a7a" stroke-width="0.7"/><line x1="373.7444444444444" y1="261.1" x2="373.7444444444444" y2="259.5" stroke="#7a7a7a" stroke-width="0.7"/><line x1="386.5" y1="171.2" x2="386.5" y2="172.79999999999998" stroke="#7a7a7a" stroke-width="0.7"/><line x1="386.5" y1="261.1" x2="386.5" y2="259.5" stroke="#7a7a7a" stroke-width="0.7"/><line x1="399.25555555555553" y1="171.2" x2="399.25555555555553" y2="172.79999999999998" stroke="#7a7a7a" stroke-width="0.7"/><line x1="399.25555555555553" y1="261.1" x2="399.25555555555553" y2="259.5" stroke="#7a7a7a" stroke-width="0.7"/><line x1="412.0111111111111" y1="171.2" x2="412.0111111111111" y2="172.79999999999998" stroke="#7a7a7a" stroke-width="0.7"/><line x1="412.0111111111111" y1="261.1" x2="412.0111111111111" y2="259.5" stroke="#7a7a7a" stroke-width="0.7"/><line x1="300.4" y1="261.1" x2="302.0" y2="261.1" stroke="#7a7a7a" stroke-width="0.7"/><line x1="415.2" y1="261.1" x2="413.59999999999997" y2="261.1" stroke="#7a7a7a" stroke-width="0.7"/><line x1="300.4" y1="247.26923076923077" x2="302.0" y2="247.26923076923077" stroke="#7a7a7a" stroke-width="0.7"/><line x1="415.2" y1="247.26923076923077" x2="413.59999999999997" y2="247.26923076923077" stroke="#7a7a7a" stroke-width="0.7"/><line x1="300.4" y1="233.43846153846155" x2="302.0" y2="233.43846153846155" stroke="#7a7a7a" stroke-width="0.7"/><line x1="415.2" y1="233.43846153846155" x2="413.59999999999997" y2="233.43846153846155" stroke="#7a7a7a" stroke-width="0.7"/><line x1="300.4" y1="219.60769230769233" x2="302.0" y2="219.60769230769233" stroke="#7a7a7a" stroke-width="0.7"/><line x1="415.2" y1="219.60769230769233" x2="413.59999999999997" y2="219.60769230769233" stroke="#7a7a7a" stroke-width="0.7"/><line x1="300.4" y1="205.77692307692308" x2="302.0" y2="205.77692307692308" stroke="#7a7a7a" stroke-width="0.7"/><line x1="415.2" y1="205.77692307692308" x2="413.59999999999997" y2="205.77692307692308" stroke="#7a7a7a" stroke-width="0.7"/><line x1="300.4" y1="191.94615384615383" x2="302.0" y2="191.94615384615383" stroke="#7a7a7a" stroke-width="0.7"/><line x1="415.2" y1="191.94615384615383" x2="413.59999999999997" y2="191.94615384615383" stroke="#7a7a7a" stroke-width="0.7"/><line x1="300.4" y1="178.1153846153846" x2="302.0" y2="178.1153846153846" stroke="#7a7a7a" stroke-width="0.7"/><line x1="415.2" y1="178.1153846153846" x2="413.59999999999997" y2="178.1153846153846" stroke="#7a7a7a" stroke-width="0.7"/><text x="298" y="264.1" font-size="8.6" text-anchor="end" fill="#111">0</text><text x="298" y="236.43846153846155" font-size="8.6" text-anchor="end" fill="#111">40</text><text x="298" y="208.77692307692308" font-size="8.6" text-anchor="end" fill="#111">80</text><text x="298" y="181.1153846153846" font-size="8.6" text-anchor="end" fill="#111">120</text><text x="307.46666666666664" y="269.1" font-size="8.6" text-anchor="middle" fill="#111">−150</text><text x="332.97777777777776" y="269.1" font-size="8.6" text-anchor="middle" fill="#111">−70</text><text x="360.9888888888889" y="269.1" font-size="8.6" text-anchor="middle" fill="#111">10</text><text x="386.5" y="269.1" font-size="8.6" text-anchor="middle" fill="#111">90</text><text x="412.0111111111111" y="269.1" font-size="8.6" text-anchor="middle" fill="#111">170</text><text x="360.2" y="278.3" font-size="10" text-anchor="middle" textLength="71.3" lengthAdjust="spacingAndGlyphs" fill="#111">angle (degrees)</text><text x="287.3" y="222.8" font-size="8.7" text-anchor="middle" textLength="37.5" lengthAdjust="spacingAndGlyphs" transform="rotate(-90 287.3 222.8)" fill="#111">CV (cm/s)</text><text x="301.3" y="164.4" font-size="8.5" font-weight="bold" textLength="119.3" lengthAdjust="spacingAndGlyphs" fill="#111">Conduction velocity per angle</text><line x1="303.58888888888885" y1="173.96615384615384" x2="303.58888888888885" y2="234.82153846153847" stroke="#e8161e" stroke-width="1.25"/><line x1="301.9888888888888" y1="173.96615384615384" x2="305.18888888888887" y2="173.96615384615384" stroke="#e8161e" stroke-width="1.25"/><line x1="301.9888888888888" y1="234.82153846153847" x2="305.18888888888887" y2="234.82153846153847" stroke="#e8161e" stroke-width="1.25"/><line x1="309.96666666666664" y1="233.43846153846155" x2="309.96666666666664" y2="250.7269230769231" stroke="#e8161e" stroke-width="1.25"/><line x1="308.3666666666666" y1="233.43846153846155" x2="311.56666666666666" y2="233.43846153846155" stroke="#e8161e" stroke-width="1.25"/><line x1="308.3666666666666" y1="250.7269230769231" x2="311.56666666666666" y2="250.7269230769231" stroke="#e8161e" stroke-width="1.25"/><line x1="316.34444444444443" y1="216.15" x2="316.34444444444443" y2="253.49307692307696" stroke="#e8161e" stroke-width="1.25"/><line x1="314.7444444444444" y1="216.15" x2="317.94444444444446" y2="216.15" stroke="#e8161e" stroke-width="1.25"/><line x1="314.7444444444444" y1="253.49307692307696" x2="317.94444444444446" y2="253.49307692307696" stroke="#e8161e" stroke-width="1.25"/><line x1="322.72222222222223" y1="234.13000000000002" x2="322.72222222222223" y2="250.7269230769231" stroke="#e8161e" stroke-width="1.25"/><line x1="321.1222222222222" y1="234.13000000000002" x2="324.32222222222225" y2="234.13000000000002" stroke="#e8161e" stroke-width="1.25"/><line x1="321.1222222222222" y1="250.7269230769231" x2="324.32222222222225" y2="250.7269230769231" stroke="#e8161e" stroke-width="1.25"/><line x1="329.09999999999997" y1="214.07538461538462" x2="329.09999999999997" y2="257.6423076923077" stroke="#e8161e" stroke-width="1.25"/><line x1="327.49999999999994" y1="214.07538461538462" x2="330.7" y2="214.07538461538462" stroke="#e8161e" stroke-width="1.25"/><line x1="327.49999999999994" y1="257.6423076923077" x2="330.7" y2="257.6423076923077" stroke="#e8161e" stroke-width="1.25"/><line x1="335.47777777777776" y1="245.1946153846154" x2="335.47777777777776" y2="254.87615384615387" stroke="#e8161e" stroke-width="1.25"/><line x1="333.87777777777774" y1="245.1946153846154" x2="337.0777777777778" y2="245.1946153846154" stroke="#e8161e" stroke-width="1.25"/><line x1="333.87777777777774" y1="254.87615384615387" x2="337.0777777777778" y2="254.87615384615387" stroke="#e8161e" stroke-width="1.25"/><line x1="341.85555555555555" y1="237.58769230769232" x2="341.85555555555555" y2="256.2592307692308" stroke="#e8161e" stroke-width="1.25"/><line x1="340.25555555555553" y1="237.58769230769232" x2="343.4555555555556" y2="237.58769230769232" stroke="#e8161e" stroke-width="1.25"/><line x1="340.25555555555553" y1="256.2592307692308" x2="343.4555555555556" y2="256.2592307692308" stroke="#e8161e" stroke-width="1.25"/><line x1="348.2333333333333" y1="234.82153846153847" x2="348.2333333333333" y2="250.7269230769231" stroke="#e8161e" stroke-width="1.25"/><line x1="346.63333333333327" y1="234.82153846153847" x2="349.8333333333333" y2="234.82153846153847" stroke="#e8161e" stroke-width="1.25"/><line x1="346.63333333333327" y1="250.7269230769231" x2="349.8333333333333" y2="250.7269230769231" stroke="#e8161e" stroke-width="1.25"/><line x1="354.6111111111111" y1="238.2792307692308" x2="354.6111111111111" y2="248.65230769230772" stroke="#e8161e" stroke-width="1.25"/><line x1="353.01111111111106" y1="238.2792307692308" x2="356.2111111111111" y2="238.2792307692308" stroke="#e8161e" stroke-width="1.25"/><line x1="353.01111111111106" y1="248.65230769230772" x2="356.2111111111111" y2="248.65230769230772" stroke="#e8161e" stroke-width="1.25"/><line x1="360.9888888888889" y1="176.7323076923077" x2="360.9888888888889" y2="238.97076923076924" stroke="#e8161e" stroke-width="1.25"/><line x1="359.38888888888886" y1="176.7323076923077" x2="362.5888888888889" y2="176.7323076923077" stroke="#e8161e" stroke-width="1.25"/><line x1="359.38888888888886" y1="238.97076923076924" x2="362.5888888888889" y2="238.97076923076924" stroke="#e8161e" stroke-width="1.25"/><line x1="367.3666666666667" y1="230.6723076923077" x2="367.3666666666667" y2="250.03538461538463" stroke="#e8161e" stroke-width="1.25"/><line x1="365.76666666666665" y1="230.6723076923077" x2="368.9666666666667" y2="230.6723076923077" stroke="#e8161e" stroke-width="1.25"/><line x1="365.76666666666665" y1="250.03538461538463" x2="368.9666666666667" y2="250.03538461538463" stroke="#e8161e" stroke-width="1.25"/><line x1="373.7444444444444" y1="224.44846153846154" x2="373.7444444444444" y2="254.87615384615387" stroke="#e8161e" stroke-width="1.25"/><line x1="372.1444444444444" y1="224.44846153846154" x2="375.34444444444443" y2="224.44846153846154" stroke="#e8161e" stroke-width="1.25"/><line x1="372.1444444444444" y1="254.87615384615387" x2="375.34444444444443" y2="254.87615384615387" stroke="#e8161e" stroke-width="1.25"/><line x1="380.1222222222222" y1="234.13000000000002" x2="380.1222222222222" y2="249.3438461538462" stroke="#e8161e" stroke-width="1.25"/><line x1="378.5222222222222" y1="234.13000000000002" x2="381.72222222222223" y2="234.13000000000002" stroke="#e8161e" stroke-width="1.25"/><line x1="378.5222222222222" y1="249.3438461538462" x2="381.72222222222223" y2="249.3438461538462" stroke="#e8161e" stroke-width="1.25"/><line x1="386.5" y1="205.77692307692308" x2="386.5" y2="257.6423076923077" stroke="#e8161e" stroke-width="1.25"/><line x1="384.9" y1="205.77692307692308" x2="388.1" y2="205.77692307692308" stroke="#e8161e" stroke-width="1.25"/><line x1="384.9" y1="257.6423076923077" x2="388.1" y2="257.6423076923077" stroke="#e8161e" stroke-width="1.25"/><line x1="392.87777777777774" y1="239.6623076923077" x2="392.87777777777774" y2="254.87615384615387" stroke="#e8161e" stroke-width="1.25"/><line x1="391.2777777777777" y1="239.6623076923077" x2="394.47777777777776" y2="239.6623076923077" stroke="#e8161e" stroke-width="1.25"/><line x1="391.2777777777777" y1="254.87615384615387" x2="394.47777777777776" y2="254.87615384615387" stroke="#e8161e" stroke-width="1.25"/><line x1="399.25555555555553" y1="229.28923076923078" x2="399.25555555555553" y2="254.87615384615387" stroke="#e8161e" stroke-width="1.25"/><line x1="397.6555555555555" y1="229.28923076923078" x2="400.85555555555555" y2="229.28923076923078" stroke="#e8161e" stroke-width="1.25"/><line x1="397.6555555555555" y1="254.87615384615387" x2="400.85555555555555" y2="254.87615384615387" stroke="#e8161e" stroke-width="1.25"/><line x1="405.6333333333333" y1="232.05538461538464" x2="405.6333333333333" y2="250.7269230769231" stroke="#e8161e" stroke-width="1.25"/><line x1="404.0333333333333" y1="232.05538461538464" x2="407.23333333333335" y2="232.05538461538464" stroke="#e8161e" stroke-width="1.25"/><line x1="404.0333333333333" y1="250.7269230769231" x2="407.23333333333335" y2="250.7269230769231" stroke="#e8161e" stroke-width="1.25"/><line x1="412.0111111111111" y1="237.58769230769232" x2="412.0111111111111" y2="247.96076923076924" stroke="#e8161e" stroke-width="1.25"/><line x1="410.4111111111111" y1="237.58769230769232" x2="413.61111111111114" y2="237.58769230769232" stroke="#e8161e" stroke-width="1.25"/><line x1="410.4111111111111" y1="247.96076923076924" x2="413.61111111111114" y2="247.96076923076924" stroke="#e8161e" stroke-width="1.25"/><polyline points="303.6,203.7 310.0,241.7 316.3,234.8 322.7,241.7 329.1,235.5 335.5,250.0 341.9,246.6 348.2,242.4 354.6,243.8 361.0,205.8 367.4,240.4 373.7,239.7 380.1,242.4 386.5,230.7 392.9,247.3 399.3,242.4 405.6,241.0 412.0,243.1" fill="none" stroke="#1c6fc6" stroke-width="2.4" stroke-linejoin="round" stroke-linecap="round"/><rect x="300.4" y="295.4" width="114.80000000000001" height="90.5" fill="none" stroke="#7a7a7a" stroke-width="0.8"/><line x1="309.96666666666664" y1="295.4" x2="309.96666666666664" y2="297.0" stroke="#7a7a7a" stroke-width="0.7"/><line x1="309.96666666666664" y1="385.9" x2="309.96666666666664" y2="384.29999999999995" stroke="#7a7a7a" stroke-width="0.7"/><line x1="322.72222222222223" y1="295.4" x2="322.72222222222223" y2="297.0" stroke="#7a7a7a" stroke-width="0.7"/><line x1="322.72222222222223" y1="385.9" x2="322.72222222222223" y2="384.29999999999995" stroke="#7a7a7a" stroke-width="0.7"/><line x1="335.47777777777776" y1="295.4" x2="335.47777777777776" y2="297.0" stroke="#7a7a7a" stroke-width="0.7"/><line x1="335.47777777777776" y1="385.9" x2="335.47777777777776" y2="384.29999999999995" stroke="#7a7a7a" stroke-width="0.7"/><line x1="348.2333333333333" y1="295.4" x2="348.2333333333333" y2="297.0" stroke="#7a7a7a" stroke-width="0.7"/><line x1="348.2333333333333" y1="385.9" x2="348.2333333333333" y2="384.29999999999995" stroke="#7a7a7a" stroke-width="0.7"/><line x1="360.9888888888889" y1="295.4" x2="360.9888888888889" y2="297.0" stroke="#7a7a7a" stroke-width="0.7"/><line x1="360.9888888888889" y1="385.9" x2="360.9888888888889" y2="384.29999999999995" stroke="#7a7a7a" stroke-width="0.7"/><line x1="373.7444444444444" y1="295.4" x2="373.7444444444444" y2="297.0" stroke="#7a7a7a" stroke-width="0.7"/><line x1="373.7444444444444" y1="385.9" x2="373.7444444444444" y2="384.29999999999995" stroke="#7a7a7a" stroke-width="0.7"/><line x1="386.5" y1="295.4" x2="386.5" y2="297.0" stroke="#7a7a7a" stroke-width="0.7"/><line x1="386.5" y1="385.9" x2="386.5" y2="384.29999999999995" stroke="#7a7a7a" stroke-width="0.7"/><line x1="399.25555555555553" y1="295.4" x2="399.25555555555553" y2="297.0" stroke="#7a7a7a" stroke-width="0.7"/><line x1="399.25555555555553" y1="385.9" x2="399.25555555555553" y2="384.29999999999995" stroke="#7a7a7a" stroke-width="0.7"/><line x1="412.0111111111111" y1="295.4" x2="412.0111111111111" y2="297.0" stroke="#7a7a7a" stroke-width="0.7"/><line x1="412.0111111111111" y1="385.9" x2="412.0111111111111" y2="384.29999999999995" stroke="#7a7a7a" stroke-width="0.7"/><line x1="300.4" y1="385.9" x2="302.0" y2="385.9" stroke="#7a7a7a" stroke-width="0.7"/><line x1="415.2" y1="385.9" x2="413.59999999999997" y2="385.9" stroke="#7a7a7a" stroke-width="0.7"/><line x1="300.4" y1="371.9769230769231" x2="302.0" y2="371.9769230769231" stroke="#7a7a7a" stroke-width="0.7"/><line x1="415.2" y1="371.9769230769231" x2="413.59999999999997" y2="371.9769230769231" stroke="#7a7a7a" stroke-width="0.7"/><line x1="300.4" y1="358.0538461538461" x2="302.0" y2="358.0538461538461" stroke="#7a7a7a" stroke-width="0.7"/><line x1="415.2" y1="358.0538461538461" x2="413.59999999999997" y2="358.0538461538461" stroke="#7a7a7a" stroke-width="0.7"/><line x1="300.4" y1="344.1307692307692" x2="302.0" y2="344.1307692307692" stroke="#7a7a7a" stroke-width="0.7"/><line x1="415.2" y1="344.1307692307692" x2="413.59999999999997" y2="344.1307692307692" stroke="#7a7a7a" stroke-width="0.7"/><line x1="300.4" y1="330.2076923076923" x2="302.0" y2="330.2076923076923" stroke="#7a7a7a" stroke-width="0.7"/><line x1="415.2" y1="330.2076923076923" x2="413.59999999999997" y2="330.2076923076923" stroke="#7a7a7a" stroke-width="0.7"/><line x1="300.4" y1="316.28461538461534" x2="302.0" y2="316.28461538461534" stroke="#7a7a7a" stroke-width="0.7"/><line x1="415.2" y1="316.28461538461534" x2="413.59999999999997" y2="316.28461538461534" stroke="#7a7a7a" stroke-width="0.7"/><line x1="300.4" y1="302.36153846153843" x2="302.0" y2="302.36153846153843" stroke="#7a7a7a" stroke-width="0.7"/><line x1="415.2" y1="302.36153846153843" x2="413.59999999999997" y2="302.36153846153843" stroke="#7a7a7a" stroke-width="0.7"/><text x="298" y="388.9" font-size="8.6" text-anchor="end" fill="#111">0</text><text x="298" y="361.0538461538461" font-size="8.6" text-anchor="end" fill="#111">40</text><text x="298" y="333.2076923076923" font-size="8.6" text-anchor="end" fill="#111">80</text><text x="298" y="305.36153846153843" font-size="8.6" text-anchor="end" fill="#111">120</text><text x="307.46666666666664" y="393.9" font-size="8.6" text-anchor="middle" fill="#111">−150</text><text x="332.97777777777776" y="393.9" font-size="8.6" text-anchor="middle" fill="#111">−70</text><text x="360.9888888888889" y="393.9" font-size="8.6" text-anchor="middle" fill="#111">10</text><text x="386.5" y="393.9" font-size="8.6" text-anchor="middle" fill="#111">90</text><text x="412.0111111111111" y="393.9" font-size="8.6" text-anchor="middle" fill="#111">170</text><text x="360.2" y="403.09999999999997" font-size="10" text-anchor="middle" textLength="71.3" lengthAdjust="spacingAndGlyphs" fill="#111">angle (degrees)</text><text x="287.3" y="346.3" font-size="8.7" text-anchor="middle" textLength="37.5" lengthAdjust="spacingAndGlyphs" transform="rotate(-90 287.3 346.3)" fill="#111">CV (cm/s)</text><text x="301.3" y="293.1" font-size="8.5" font-weight="bold" textLength="119.3" lengthAdjust="spacingAndGlyphs" fill="#111">Conduction velocity per angle</text><line x1="303.58888888888885" y1="334.7326923076923" x2="303.58888888888885" y2="358.75" stroke="#e8161e" stroke-width="1.25"/><line x1="301.9888888888888" y1="334.7326923076923" x2="305.18888888888887" y2="334.7326923076923" stroke="#e8161e" stroke-width="1.25"/><line x1="301.9888888888888" y1="358.75" x2="305.18888888888887" y2="358.75" stroke="#e8161e" stroke-width="1.25"/><line x1="309.96666666666664" y1="354.5730769230769" x2="309.96666666666664" y2="360.8384615384615" stroke="#e8161e" stroke-width="1.25"/><line x1="308.3666666666666" y1="354.5730769230769" x2="311.56666666666666" y2="354.5730769230769" stroke="#e8161e" stroke-width="1.25"/><line x1="308.3666666666666" y1="360.8384615384615" x2="311.56666666666666" y2="360.8384615384615" stroke="#e8161e" stroke-width="1.25"/><line x1="316.34444444444443" y1="342.73846153846154" x2="316.34444444444443" y2="369.1923076923077" stroke="#e8161e" stroke-width="1.25"/><line x1="314.7444444444444" y1="342.73846153846154" x2="317.94444444444446" y2="342.73846153846154" stroke="#e8161e" stroke-width="1.25"/><line x1="314.7444444444444" y1="369.1923076923077" x2="317.94444444444446" y2="369.1923076923077" stroke="#e8161e" stroke-width="1.25"/><line x1="322.72222222222223" y1="353.87692307692305" x2="322.72222222222223" y2="369.1923076923077" stroke="#e8161e" stroke-width="1.25"/><line x1="321.1222222222222" y1="353.87692307692305" x2="324.32222222222225" y2="353.87692307692305" stroke="#e8161e" stroke-width="1.25"/><line x1="321.1222222222222" y1="369.1923076923077" x2="324.32222222222225" y2="369.1923076923077" stroke="#e8161e" stroke-width="1.25"/><line x1="329.09999999999997" y1="336.4730769230769" x2="329.09999999999997" y2="385.9" stroke="#e8161e" stroke-width="1.25"/><line x1="327.49999999999994" y1="336.4730769230769" x2="330.7" y2="336.4730769230769" stroke="#e8161e" stroke-width="1.25"/><line x1="327.49999999999994" y1="385.9" x2="330.7" y2="385.9" stroke="#e8161e" stroke-width="1.25"/><line x1="335.47777777777776" y1="363.6230769230769" x2="335.47777777777776" y2="382.41923076923075" stroke="#e8161e" stroke-width="1.25"/><line x1="333.87777777777774" y1="363.6230769230769" x2="337.0777777777778" y2="363.6230769230769" stroke="#e8161e" stroke-width="1.25"/><line x1="333.87777777777774" y1="382.41923076923075" x2="337.0777777777778" y2="382.41923076923075" stroke="#e8161e" stroke-width="1.25"/><line x1="341.85555555555555" y1="371.28076923076924" x2="341.85555555555555" y2="375.4576923076923" stroke="#e8161e" stroke-width="1.25"/><line x1="340.25555555555553" y1="371.28076923076924" x2="343.4555555555556" y2="371.28076923076924" stroke="#e8161e" stroke-width="1.25"/><line x1="340.25555555555553" y1="375.4576923076923" x2="343.4555555555556" y2="375.4576923076923" stroke="#e8161e" stroke-width="1.25"/><line x1="348.2333333333333" y1="357.3576923076923" x2="348.2333333333333" y2="363.6230769230769" stroke="#e8161e" stroke-width="1.25"/><line x1="346.63333333333327" y1="357.3576923076923" x2="349.8333333333333" y2="357.3576923076923" stroke="#e8161e" stroke-width="1.25"/><line x1="346.63333333333327" y1="363.6230769230769" x2="349.8333333333333" y2="363.6230769230769" stroke="#e8161e" stroke-width="1.25"/><line x1="354.6111111111111" y1="350.3961538461538" x2="354.6111111111111" y2="353.87692307692305" stroke="#e8161e" stroke-width="1.25"/><line x1="353.01111111111106" y1="350.3961538461538" x2="356.2111111111111" y2="350.3961538461538" stroke="#e8161e" stroke-width="1.25"/><line x1="353.01111111111106" y1="353.87692307692305" x2="356.2111111111111" y2="353.87692307692305" stroke="#e8161e" stroke-width="1.25"/><line x1="360.9888888888889" y1="345.5230769230769" x2="360.9888888888889" y2="353.87692307692305" stroke="#e8161e" stroke-width="1.25"/><line x1="359.38888888888886" y1="345.5230769230769" x2="362.5888888888889" y2="345.5230769230769" stroke="#e8161e" stroke-width="1.25"/><line x1="359.38888888888886" y1="353.87692307692305" x2="362.5888888888889" y2="353.87692307692305" stroke="#e8161e" stroke-width="1.25"/><line x1="367.3666666666667" y1="351.78846153846155" x2="367.3666666666667" y2="360.14230769230767" stroke="#e8161e" stroke-width="1.25"/><line x1="365.76666666666665" y1="351.78846153846155" x2="368.9666666666667" y2="351.78846153846155" stroke="#e8161e" stroke-width="1.25"/><line x1="365.76666666666665" y1="360.14230769230767" x2="368.9666666666667" y2="360.14230769230767" stroke="#e8161e" stroke-width="1.25"/><line x1="373.7444444444444" y1="355.9653846153846" x2="373.7444444444444" y2="361.53461538461534" stroke="#e8161e" stroke-width="1.25"/><line x1="372.1444444444444" y1="355.9653846153846" x2="375.34444444444443" y2="355.9653846153846" stroke="#e8161e" stroke-width="1.25"/><line x1="372.1444444444444" y1="361.53461538461534" x2="375.34444444444443" y2="361.53461538461534" stroke="#e8161e" stroke-width="1.25"/><line x1="380.1222222222222" y1="355.2692307692308" x2="380.1222222222222" y2="367.1038461538461" stroke="#e8161e" stroke-width="1.25"/><line x1="378.5222222222222" y1="355.2692307692308" x2="381.72222222222223" y2="355.2692307692308" stroke="#e8161e" stroke-width="1.25"/><line x1="378.5222222222222" y1="367.1038461538461" x2="381.72222222222223" y2="367.1038461538461" stroke="#e8161e" stroke-width="1.25"/><line x1="386.5" y1="353.87692307692305" x2="386.5" y2="373.36923076923074" stroke="#e8161e" stroke-width="1.25"/><line x1="384.9" y1="353.87692307692305" x2="388.1" y2="353.87692307692305" stroke="#e8161e" stroke-width="1.25"/><line x1="384.9" y1="373.36923076923074" x2="388.1" y2="373.36923076923074" stroke="#e8161e" stroke-width="1.25"/><line x1="392.87777777777774" y1="362.2307692307692" x2="392.87777777777774" y2="378.9384615384615" stroke="#e8161e" stroke-width="1.25"/><line x1="391.2777777777777" y1="362.2307692307692" x2="394.47777777777776" y2="362.2307692307692" stroke="#e8161e" stroke-width="1.25"/><line x1="391.2777777777777" y1="378.9384615384615" x2="394.47777777777776" y2="378.9384615384615" stroke="#e8161e" stroke-width="1.25"/><line x1="399.25555555555553" y1="362.2307692307692" x2="399.25555555555553" y2="371.28076923076924" stroke="#e8161e" stroke-width="1.25"/><line x1="397.6555555555555" y1="362.2307692307692" x2="400.85555555555555" y2="362.2307692307692" stroke="#e8161e" stroke-width="1.25"/><line x1="397.6555555555555" y1="371.28076923076924" x2="400.85555555555555" y2="371.28076923076924" stroke="#e8161e" stroke-width="1.25"/><line x1="405.6333333333333" y1="355.2692307692308" x2="405.6333333333333" y2="366.4076923076923" stroke="#e8161e" stroke-width="1.25"/><line x1="404.0333333333333" y1="355.2692307692308" x2="407.23333333333335" y2="355.2692307692308" stroke="#e8161e" stroke-width="1.25"/><line x1="404.0333333333333" y1="366.4076923076923" x2="407.23333333333335" y2="366.4076923076923" stroke="#e8161e" stroke-width="1.25"/><line x1="412.0111111111111" y1="351.78846153846155" x2="412.0111111111111" y2="360.8384615384615" stroke="#e8161e" stroke-width="1.25"/><line x1="410.4111111111111" y1="351.78846153846155" x2="413.61111111111114" y2="351.78846153846155" stroke="#e8161e" stroke-width="1.25"/><line x1="410.4111111111111" y1="360.8384615384615" x2="413.61111111111114" y2="360.8384615384615" stroke="#e8161e" stroke-width="1.25"/><polyline points="303.6,346.2 310.0,357.4 316.3,356.0 322.7,360.8 329.1,361.5 335.5,372.7 341.9,373.4 348.2,360.1 354.6,352.5 361.0,349.7 367.4,356.7 373.7,358.8 380.1,362.2 386.5,366.4 392.9,370.6 399.3,367.1 405.6,360.8 412.0,356.0" fill="none" stroke="#1c6fc6" stroke-width="2.4" stroke-linejoin="round" stroke-linecap="round"/><rect x="300.4" y="434.8" width="114.80000000000001" height="90.69999999999999" fill="none" stroke="#7a7a7a" stroke-width="0.8"/><line x1="309.96666666666664" y1="434.8" x2="309.96666666666664" y2="436.40000000000003" stroke="#7a7a7a" stroke-width="0.7"/><line x1="309.96666666666664" y1="525.5" x2="309.96666666666664" y2="523.9" stroke="#7a7a7a" stroke-width="0.7"/><line x1="322.72222222222223" y1="434.8" x2="322.72222222222223" y2="436.40000000000003" stroke="#7a7a7a" stroke-width="0.7"/><line x1="322.72222222222223" y1="525.5" x2="322.72222222222223" y2="523.9" stroke="#7a7a7a" stroke-width="0.7"/><line x1="335.47777777777776" y1="434.8" x2="335.47777777777776" y2="436.40000000000003" stroke="#7a7a7a" stroke-width="0.7"/><line x1="335.47777777777776" y1="525.5" x2="335.47777777777776" y2="523.9" stroke="#7a7a7a" stroke-width="0.7"/><line x1="348.2333333333333" y1="434.8" x2="348.2333333333333" y2="436.40000000000003" stroke="#7a7a7a" stroke-width="0.7"/><line x1="348.2333333333333" y1="525.5" x2="348.2333333333333" y2="523.9" stroke="#7a7a7a" stroke-width="0.7"/><line x1="360.9888888888889" y1="434.8" x2="360.9888888888889" y2="436.40000000000003" stroke="#7a7a7a" stroke-width="0.7"/><line x1="360.9888888888889" y1="525.5" x2="360.9888888888889" y2="523.9" stroke="#7a7a7a" stroke-width="0.7"/><line x1="373.7444444444444" y1="434.8" x2="373.7444444444444" y2="436.40000000000003" stroke="#7a7a7a" stroke-width="0.7"/><line x1="373.7444444444444" y1="525.5" x2="373.7444444444444" y2="523.9" stroke="#7a7a7a" stroke-width="0.7"/><line x1="386.5" y1="434.8" x2="386.5" y2="436.40000000000003" stroke="#7a7a7a" stroke-width="0.7"/><line x1="386.5" y1="525.5" x2="386.5" y2="523.9" stroke="#7a7a7a" stroke-width="0.7"/><line x1="399.25555555555553" y1="434.8" x2="399.25555555555553" y2="436.40000000000003" stroke="#7a7a7a" stroke-width="0.7"/><line x1="399.25555555555553" y1="525.5" x2="399.25555555555553" y2="523.9" stroke="#7a7a7a" stroke-width="0.7"/><line x1="412.0111111111111" y1="434.8" x2="412.0111111111111" y2="436.40000000000003" stroke="#7a7a7a" stroke-width="0.7"/><line x1="412.0111111111111" y1="525.5" x2="412.0111111111111" y2="523.9" stroke="#7a7a7a" stroke-width="0.7"/><line x1="300.4" y1="525.5" x2="302.0" y2="525.5" stroke="#7a7a7a" stroke-width="0.7"/><line x1="415.2" y1="525.5" x2="413.59999999999997" y2="525.5" stroke="#7a7a7a" stroke-width="0.7"/><line x1="300.4" y1="511.54615384615386" x2="302.0" y2="511.54615384615386" stroke="#7a7a7a" stroke-width="0.7"/><line x1="415.2" y1="511.54615384615386" x2="413.59999999999997" y2="511.54615384615386" stroke="#7a7a7a" stroke-width="0.7"/><line x1="300.4" y1="497.5923076923077" x2="302.0" y2="497.5923076923077" stroke="#7a7a7a" stroke-width="0.7"/><line x1="415.2" y1="497.5923076923077" x2="413.59999999999997" y2="497.5923076923077" stroke="#7a7a7a" stroke-width="0.7"/><line x1="300.4" y1="483.63846153846157" x2="302.0" y2="483.63846153846157" stroke="#7a7a7a" stroke-width="0.7"/><line x1="415.2" y1="483.63846153846157" x2="413.59999999999997" y2="483.63846153846157" stroke="#7a7a7a" stroke-width="0.7"/><line x1="300.4" y1="469.68461538461537" x2="302.0" y2="469.68461538461537" stroke="#7a7a7a" stroke-width="0.7"/><line x1="415.2" y1="469.68461538461537" x2="413.59999999999997" y2="469.68461538461537" stroke="#7a7a7a" stroke-width="0.7"/><line x1="300.4" y1="455.7307692307692" x2="302.0" y2="455.7307692307692" stroke="#7a7a7a" stroke-width="0.7"/><line x1="415.2" y1="455.7307692307692" x2="413.59999999999997" y2="455.7307692307692" stroke="#7a7a7a" stroke-width="0.7"/><line x1="300.4" y1="441.7769230769231" x2="302.0" y2="441.7769230769231" stroke="#7a7a7a" stroke-width="0.7"/><line x1="415.2" y1="441.7769230769231" x2="413.59999999999997" y2="441.7769230769231" stroke="#7a7a7a" stroke-width="0.7"/><text x="298" y="528.5" font-size="8.6" text-anchor="end" fill="#111">0</text><text x="298" y="500.5923076923077" font-size="8.6" text-anchor="end" fill="#111">40</text><text x="298" y="472.68461538461537" font-size="8.6" text-anchor="end" fill="#111">80</text><text x="298" y="444.7769230769231" font-size="8.6" text-anchor="end" fill="#111">120</text><text x="307.46666666666664" y="533.5" font-size="8.6" text-anchor="middle" fill="#111">−150</text><text x="332.97777777777776" y="533.5" font-size="8.6" text-anchor="middle" fill="#111">−70</text><text x="360.9888888888889" y="533.5" font-size="8.6" text-anchor="middle" fill="#111">10</text><text x="386.5" y="533.5" font-size="8.6" text-anchor="middle" fill="#111">90</text><text x="412.0111111111111" y="533.5" font-size="8.6" text-anchor="middle" fill="#111">170</text><text x="360.2" y="542.7" font-size="10" text-anchor="middle" textLength="71.3" lengthAdjust="spacingAndGlyphs" fill="#111">angle (degrees)</text><text x="287.3" y="485.0" font-size="8.7" text-anchor="middle" textLength="37.5" lengthAdjust="spacingAndGlyphs" transform="rotate(-90 287.3 485.0)" fill="#111">CV (cm/s)</text><text x="301.3" y="431.0" font-size="8.5" font-weight="bold" textLength="119.3" lengthAdjust="spacingAndGlyphs" fill="#111">Conduction velocity per angle</text><line x1="316.34444444444443" y1="473.1730769230769" x2="316.34444444444443" y2="498.9876923076923" stroke="#e8161e" stroke-width="1.25"/><line x1="314.7444444444444" y1="473.1730769230769" x2="317.94444444444446" y2="473.1730769230769" stroke="#e8161e" stroke-width="1.25"/><line x1="314.7444444444444" y1="498.9876923076923" x2="317.94444444444446" y2="498.9876923076923" stroke="#e8161e" stroke-width="1.25"/><line x1="329.09999999999997" y1="498.9876923076923" x2="329.09999999999997" y2="508.7553846153846" stroke="#e8161e" stroke-width="1.25"/><line x1="327.49999999999994" y1="498.9876923076923" x2="330.7" y2="498.9876923076923" stroke="#e8161e" stroke-width="1.25"/><line x1="327.49999999999994" y1="508.7553846153846" x2="330.7" y2="508.7553846153846" stroke="#e8161e" stroke-width="1.25"/><line x1="335.47777777777776" y1="510.84846153846155" x2="335.47777777777776" y2="516.43" stroke="#e8161e" stroke-width="1.25"/><line x1="333.87777777777774" y1="510.84846153846155" x2="337.0777777777778" y2="510.84846153846155" stroke="#e8161e" stroke-width="1.25"/><line x1="333.87777777777774" y1="516.43" x2="337.0777777777778" y2="516.43" stroke="#e8161e" stroke-width="1.25"/><line x1="341.85555555555555" y1="510.15076923076924" x2="341.85555555555555" y2="514.3369230769231" stroke="#e8161e" stroke-width="1.25"/><line x1="340.25555555555553" y1="510.15076923076924" x2="343.4555555555556" y2="510.15076923076924" stroke="#e8161e" stroke-width="1.25"/><line x1="340.25555555555553" y1="514.3369230769231" x2="343.4555555555556" y2="514.3369230769231" stroke="#e8161e" stroke-width="1.25"/><line x1="380.1222222222222" y1="498.9876923076923" x2="380.1222222222222" y2="503.8715384615385" stroke="#e8161e" stroke-width="1.25"/><line x1="378.5222222222222" y1="498.9876923076923" x2="381.72222222222223" y2="498.9876923076923" stroke="#e8161e" stroke-width="1.25"/><line x1="378.5222222222222" y1="503.8715384615385" x2="381.72222222222223" y2="503.8715384615385" stroke="#e8161e" stroke-width="1.25"/><line x1="386.5" y1="500.38307692307694" x2="386.5" y2="509.45307692307694" stroke="#e8161e" stroke-width="1.25"/><line x1="384.9" y1="500.38307692307694" x2="388.1" y2="500.38307692307694" stroke="#e8161e" stroke-width="1.25"/><line x1="384.9" y1="509.45307692307694" x2="388.1" y2="509.45307692307694" stroke="#e8161e" stroke-width="1.25"/><line x1="392.87777777777774" y1="508.0576923076923" x2="392.87777777777774" y2="514.3369230769231" stroke="#e8161e" stroke-width="1.25"/><line x1="391.2777777777777" y1="508.0576923076923" x2="394.47777777777776" y2="508.0576923076923" stroke="#e8161e" stroke-width="1.25"/><line x1="391.2777777777777" y1="514.3369230769231" x2="394.47777777777776" y2="514.3369230769231" stroke="#e8161e" stroke-width="1.25"/><line x1="405.6333333333333" y1="494.1038461538462" x2="405.6333333333333" y2="499.68538461538463" stroke="#e8161e" stroke-width="1.25"/><line x1="404.0333333333333" y1="494.1038461538462" x2="407.23333333333335" y2="494.1038461538462" stroke="#e8161e" stroke-width="1.25"/><line x1="404.0333333333333" y1="499.68538461538463" x2="407.23333333333335" y2="499.68538461538463" stroke="#e8161e" stroke-width="1.25"/><polyline points="316.3,485.7 322.7,499.7 329.1,503.9 335.5,513.6 341.9,512.2" fill="none" stroke="#1c6fc6" stroke-width="2.4" stroke-linejoin="round" stroke-linecap="round"/><polyline points="361.0,489.2 367.4,489.2" fill="none" stroke="#1c6fc6" stroke-width="2.4" stroke-linejoin="round" stroke-linecap="round"/><polyline points="380.1,501.1 386.5,504.6 392.9,510.8 399.3,506.7 405.6,498.3 412.0,481.5" fill="none" stroke="#1c6fc6" stroke-width="2.4" stroke-linejoin="round" stroke-linecap="round"/></svg></body></html>
